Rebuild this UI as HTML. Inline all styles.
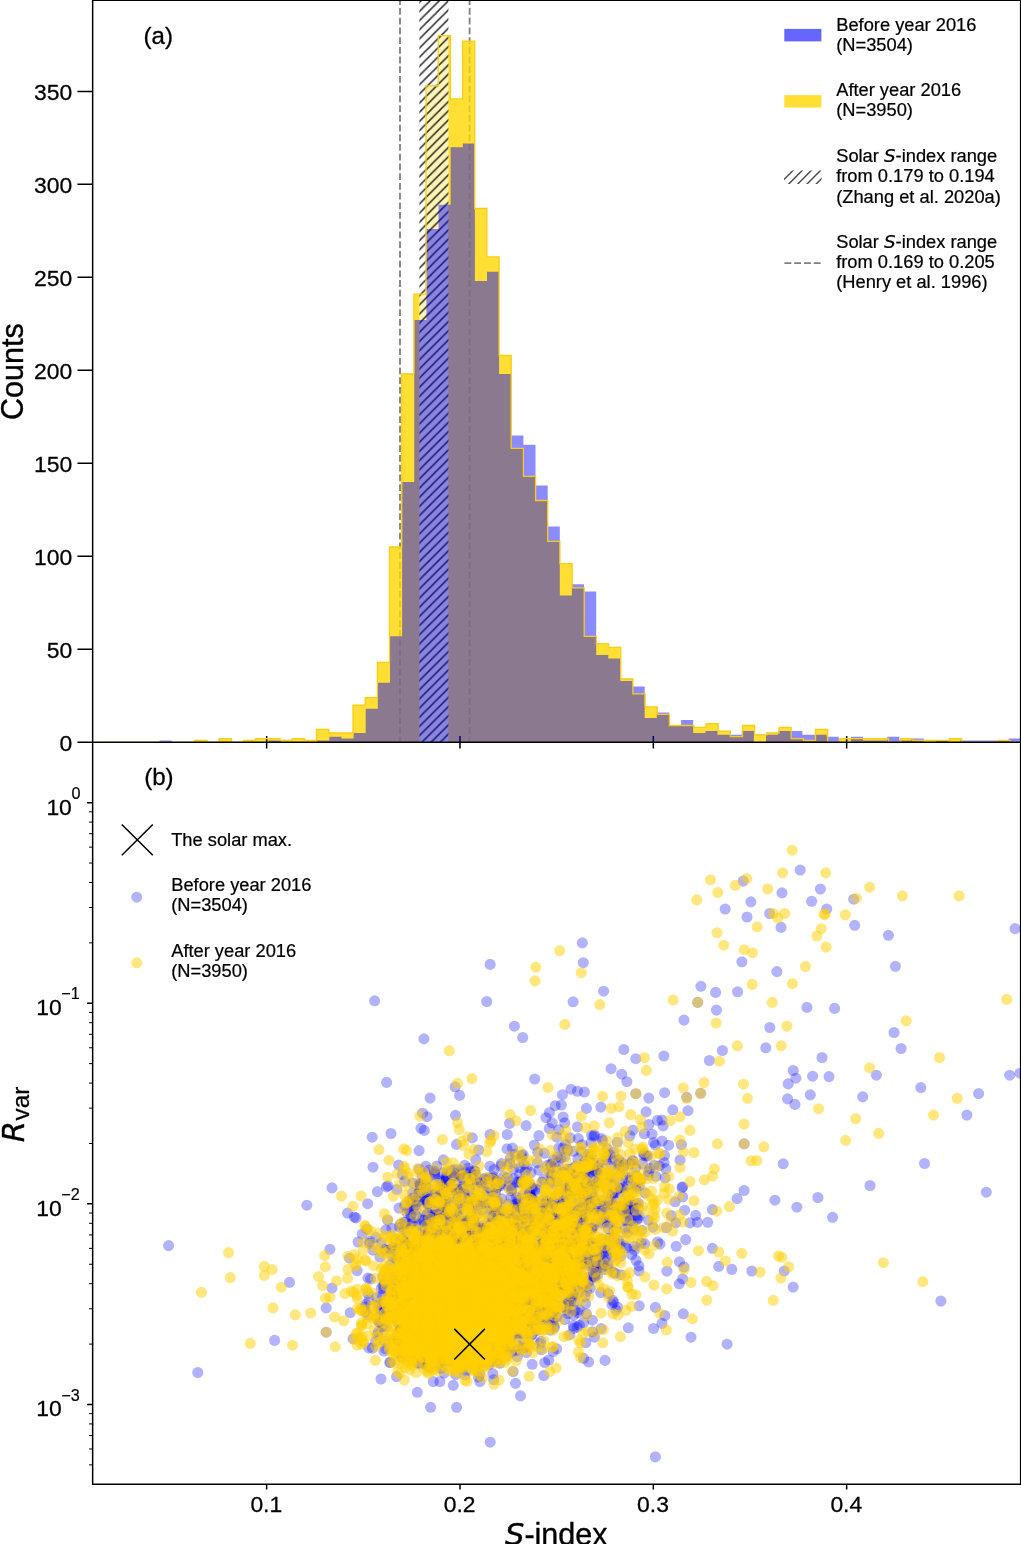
<!DOCTYPE html>
<html lang="en"><head><meta charset="utf-8"><title>S-index distribution and R_var</title>
<style>html,body{margin:0;padding:0;background:#fff}svg{display:block}text{font-family:"Liberation Sans",sans-serif;fill:#000;stroke:#000;stroke-width:0.012em;stroke-linejoin:round}.tk{font-size:22.9px}.lg{font-size:18.3px}.ax{font-size:30.56px}.pn{font-size:24.1px}.it{font-family:"DejaVu Sans",sans-serif;font-style:italic}</style></head><body>
<svg width="1021" height="1544" viewBox="0 0 1021 1544">
<defs>
<pattern id="ht" width="9.1667" height="9.1667" patternUnits="userSpaceOnUse" x="0" y="0"><path d="M-2.3 2.3L2.3 -2.3M-2.3 11.4667L11.4667 -2.3M6.8667 11.4667L11.4667 6.8667" stroke="#000" stroke-opacity="0.8" stroke-width="1.5" fill="none"/></pattern>
<clipPath id="ca"><rect x="92.7" y="0.2" width="928.0" height="742.0"/></clipPath>
<clipPath id="cb"><rect x="92.7" y="742.2" width="928.0" height="742.0"/></clipPath>
</defs>
<rect width="1021" height="1544" fill="#fff"/>
<g clip-path="url(#ca)">
<line x1="400.0" x2="400.0" y1="-1.68" y2="742.2" stroke="#808080" stroke-width="1.83" stroke-dasharray="6.78 2.937"/>
<line x1="469.6" x2="469.6" y1="-1.68" y2="742.2" stroke="#808080" stroke-width="1.83" stroke-dasharray="6.78 2.937"/>
<path d="M97.4 742.3 L97.4 742.3 L109.6 742.3 L109.6 742.3 L121.8 742.3 L121.8 742.3 L134.0 742.3 L134.0 742.3 L146.1 742.3 L146.1 742.3 L158.3 742.3 L158.3 742.3 L170.5 742.3 L170.5 742.3 L182.6 742.3 L182.6 742.3 L194.8 742.3 L194.8 740.4 L207.0 740.4 L207.0 742.3 L219.1 742.3 L219.1 738.6 L231.3 738.6 L231.3 742.3 L243.5 742.3 L243.5 740.4 L255.7 740.4 L255.7 738.6 L267.8 738.6 L267.8 738.6 L280.0 738.6 L280.0 740.4 L292.2 740.4 L292.2 738.6 L304.3 738.6 L304.3 740.4 L316.5 740.4 L316.5 729.3 L328.7 729.3 L328.7 733.0 L340.8 733.0 L340.8 733.0 L353.0 733.0 L353.0 705.1 L365.2 705.1 L365.2 697.6 L377.4 697.6 L377.4 662.3 L389.5 662.3 L389.5 547.0 L401.7 547.0 L401.7 374.0 L413.9 374.0 L413.9 294.1 L426.0 294.1 L426.0 85.8 L438.2 85.8 L438.2 35.6 L450.4 35.6 L450.4 98.8 L462.6 98.8 L462.6 41.2 L474.7 41.2 L474.7 208.5 L486.9 208.5 L486.9 256.9 L499.1 256.9 L499.1 355.5 L511.2 355.5 L511.2 448.4 L523.4 448.4 L523.4 476.3 L535.6 476.3 L535.6 500.5 L547.7 500.5 L547.7 541.4 L559.9 541.4 L559.9 563.7 L572.1 563.7 L572.1 587.9 L584.2 587.9 L584.2 636.3 L596.4 636.3 L596.4 643.7 L608.6 643.7 L608.6 647.4 L620.8 647.4 L620.8 679.0 L632.9 679.0 L632.9 693.9 L645.1 693.9 L645.1 706.9 L657.3 706.9 L657.3 714.4 L669.4 714.4 L669.4 725.5 L681.6 725.5 L681.6 725.5 L693.8 725.5 L693.8 727.4 L706.0 727.4 L706.0 723.7 L718.1 723.7 L718.1 731.1 L730.3 731.1 L730.3 736.7 L742.5 736.7 L742.5 725.5 L754.6 725.5 L754.6 734.8 L766.8 734.8 L766.8 733.0 L779.0 733.0 L779.0 727.4 L791.1 727.4 L791.1 738.6 L803.3 738.6 L803.3 740.4 L815.5 740.4 L815.5 729.3 L827.6 729.3 L827.6 742.3 L839.8 742.3 L839.8 738.6 L852.0 738.6 L852.0 738.6 L864.2 738.6 L864.2 738.6 L876.3 738.6 L876.3 738.6 L888.5 738.6 L888.5 742.3 L900.7 742.3 L900.7 738.6 L912.8 738.6 L912.8 740.4 L925.0 740.4 L925.0 740.4 L937.2 740.4 L937.2 740.4 L949.3 740.4 L949.3 738.6 L961.5 738.6 L961.5 742.3 L973.7 742.3 L973.7 742.3 L985.9 742.3 L985.9 742.3 L998.0 742.3 L998.0 740.4 L1010.2 740.4 L1010.2 742.3 L1020.6 742.3 L1020.6 742.3Z" fill="rgb(255,215,0)" fill-opacity="0.8"/>
<rect x="419.4" y="0" width="29.0" height="742.2" fill="#fff" fill-opacity="0.65"/>
<rect x="419.4" y="0" width="29.0" height="742.2" fill="url(#ht)"/>
</g><path d="M266.65 736.05V748.55M459.98 736.05V748.55M653.32 736.05V748.55M846.65 736.05V748.55" stroke="#000" stroke-width="1.5" fill="none"/><g clip-path="url(#ca)">
<path d="M98.8 742.3 L98.8 742.3 L111.0 742.3 L111.0 742.3 L123.1 742.3 L123.1 742.3 L135.2 742.3 L135.2 742.3 L147.4 742.3 L147.4 742.3 L159.5 742.3 L159.5 740.4 L171.6 740.4 L171.6 742.3 L183.8 742.3 L183.8 742.3 L195.9 742.3 L195.9 742.3 L208.0 742.3 L208.0 742.3 L220.1 742.3 L220.1 742.3 L232.3 742.3 L232.3 742.3 L244.4 742.3 L244.4 742.3 L256.5 742.3 L256.5 742.3 L268.7 742.3 L268.7 740.4 L280.8 740.4 L280.8 742.3 L292.9 742.3 L292.9 742.3 L305.1 742.3 L305.1 742.3 L317.2 742.3 L317.2 740.4 L329.3 740.4 L329.3 736.7 L341.4 736.7 L341.4 738.6 L353.6 738.6 L353.6 733.0 L365.7 733.0 L365.7 708.8 L377.8 708.8 L377.8 682.8 L390.0 682.8 L390.0 636.3 L402.1 636.3 L402.1 481.9 L414.2 481.9 L414.2 320.1 L426.4 320.1 L426.4 229.0 L438.5 229.0 L438.5 204.8 L450.6 204.8 L450.6 147.2 L462.8 147.2 L462.8 143.4 L474.9 143.4 L474.9 281.1 L487.0 281.1 L487.0 271.8 L499.1 271.8 L499.1 374.0 L511.3 374.0 L511.3 435.4 L523.4 435.4 L523.4 444.7 L535.5 444.7 L535.5 485.6 L547.7 485.6 L547.7 526.5 L559.8 526.5 L559.8 595.4 L571.9 595.4 L571.9 584.2 L584.0 584.2 L584.0 591.6 L596.2 591.6 L596.2 654.9 L608.3 654.9 L608.3 658.6 L620.4 658.6 L620.4 680.9 L632.6 680.9 L632.6 686.5 L644.7 686.5 L644.7 718.1 L656.8 718.1 L656.8 712.5 L669.0 712.5 L669.0 725.5 L681.1 725.5 L681.1 720.0 L693.2 720.0 L693.2 733.0 L705.4 733.0 L705.4 731.1 L717.5 731.1 L717.5 734.8 L729.6 734.8 L729.6 734.8 L741.7 734.8 L741.7 731.1 L753.9 731.1 L753.9 742.3 L766.0 742.3 L766.0 734.8 L778.1 734.8 L778.1 731.1 L790.3 731.1 L790.3 731.1 L802.4 731.1 L802.4 734.8 L814.5 734.8 L814.5 734.8 L826.6 734.8 L826.6 736.7 L838.8 736.7 L838.8 742.3 L850.9 742.3 L850.9 736.7 L863.0 736.7 L863.0 740.4 L875.2 740.4 L875.2 740.4 L887.3 740.4 L887.3 736.7 L899.4 736.7 L899.4 740.4 L911.6 740.4 L911.6 738.6 L923.7 738.6 L923.7 742.3 L935.8 742.3 L935.8 740.4 L947.9 740.4 L947.9 742.3 L960.1 742.3 L960.1 740.4 L972.2 740.4 L972.2 740.4 L984.3 740.4 L984.3 740.4 L996.5 740.4 L996.5 740.4 L1008.6 740.4 L1008.6 738.6 L1020.6 738.6 L1020.6 742.3Z" fill="rgb(0,0,255)" fill-opacity="0.455"/>
<path d="M97.4 742.3 L97.4 742.3 L109.6 742.3 L109.6 742.3 L121.8 742.3 L121.8 742.3 L134.0 742.3 L134.0 742.3 L146.1 742.3 L146.1 742.3 L158.3 742.3 L158.3 742.3 L170.5 742.3 L170.5 742.3 L182.6 742.3 L182.6 742.3 L194.8 742.3 L194.8 740.4 L207.0 740.4 L207.0 742.3 L219.1 742.3 L219.1 738.6 L231.3 738.6 L231.3 742.3 L243.5 742.3 L243.5 740.4 L255.7 740.4 L255.7 738.6 L267.8 738.6 L267.8 738.6 L280.0 738.6 L280.0 740.4 L292.2 740.4 L292.2 738.6 L304.3 738.6 L304.3 740.4 L316.5 740.4 L316.5 729.3 L328.7 729.3 L328.7 733.0 L340.8 733.0 L340.8 733.0 L353.0 733.0 L353.0 705.1 L365.2 705.1 L365.2 697.6 L377.4 697.6 L377.4 662.3 L389.5 662.3 L389.5 547.0 L401.7 547.0 L401.7 374.0 L413.9 374.0 L413.9 294.1 L426.0 294.1 L426.0 85.8 L438.2 85.8 L438.2 35.6 L450.4 35.6 L450.4 98.8 L462.6 98.8 L462.6 41.2 L474.7 41.2 L474.7 208.5 L486.9 208.5 L486.9 256.9 L499.1 256.9 L499.1 355.5 L511.2 355.5 L511.2 448.4 L523.4 448.4 L523.4 476.3 L535.6 476.3 L535.6 500.5 L547.7 500.5 L547.7 541.4 L559.9 541.4 L559.9 563.7 L572.1 563.7 L572.1 587.9 L584.2 587.9 L584.2 636.3 L596.4 636.3 L596.4 643.7 L608.6 643.7 L608.6 647.4 L620.8 647.4 L620.8 679.0 L632.9 679.0 L632.9 693.9 L645.1 693.9 L645.1 706.9 L657.3 706.9 L657.3 714.4 L669.4 714.4 L669.4 725.5 L681.6 725.5 L681.6 725.5 L693.8 725.5 L693.8 727.4 L706.0 727.4 L706.0 723.7 L718.1 723.7 L718.1 731.1 L730.3 731.1 L730.3 736.7 L742.5 736.7 L742.5 725.5 L754.6 725.5 L754.6 734.8 L766.8 734.8 L766.8 733.0 L779.0 733.0 L779.0 727.4 L791.1 727.4 L791.1 738.6 L803.3 738.6 L803.3 740.4 L815.5 740.4 L815.5 729.3 L827.6 729.3 L827.6 742.3 L839.8 742.3 L839.8 738.6 L852.0 738.6 L852.0 738.6 L864.2 738.6 L864.2 738.6 L876.3 738.6 L876.3 738.6 L888.5 738.6 L888.5 742.3 L900.7 742.3 L900.7 738.6 L912.8 738.6 L912.8 740.4 L925.0 740.4 L925.0 740.4 L937.2 740.4 L937.2 740.4 L949.3 740.4 L949.3 738.6 L961.5 738.6 L961.5 742.3 L973.7 742.3 L973.7 742.3 L985.9 742.3 L985.9 742.3 L998.0 742.3 L998.0 740.4 L1010.2 740.4 L1010.2 742.3 L1020.6 742.3 L1020.6 742.3" fill="none" stroke="rgb(250,204,20)" stroke-width="1.3" stroke-linejoin="miter"/>
</g>
<g clip-path="url(#cb)">
<g class="b" fill="rgb(0,0,255)" fill-opacity="0.3">
<circle cx="349.5" cy="1258.2" r="5.55"/><circle cx="362.3" cy="1234.0" r="5.55"/><circle cx="353.0" cy="1338.8" r="5.55"/><circle cx="365.0" cy="1307.1" r="5.55"/><circle cx="357.1" cy="1270.6" r="5.55"/><circle cx="356.0" cy="1217.9" r="5.55"/><circle cx="370.6" cy="1279.0" r="5.55"/><circle cx="373.0" cy="1250.2" r="5.55"/><circle cx="368.9" cy="1299.7" r="5.55"/><circle cx="373.0" cy="1167.2" r="5.55"/><circle cx="369.2" cy="1243.3" r="5.55"/><circle cx="368.1" cy="1293.5" r="5.55"/><circle cx="375.7" cy="1341.5" r="5.55"/><circle cx="368.2" cy="1314.9" r="5.55"/><circle cx="375.9" cy="1237.4" r="5.55"/><circle cx="376.9" cy="1297.5" r="5.55"/><circle cx="368.8" cy="1347.9" r="5.55"/><circle cx="368.0" cy="1278.1" r="5.55"/><circle cx="367.7" cy="1203.7" r="5.55"/><circle cx="365.9" cy="1304.3" r="5.55"/><circle cx="377.1" cy="1318.8" r="5.55"/><circle cx="366.9" cy="1229.2" r="5.55"/><circle cx="365.4" cy="1311.6" r="5.55"/><circle cx="377.4" cy="1191.6" r="5.55"/><circle cx="385.9" cy="1229.8" r="5.55"/><circle cx="385.7" cy="1250.2" r="5.55"/><circle cx="384.3" cy="1311.3" r="5.55"/><circle cx="378.3" cy="1331.8" r="5.55"/><circle cx="386.3" cy="1327.1" r="5.55"/><circle cx="386.5" cy="1186.9" r="5.55"/><circle cx="383.4" cy="1303.8" r="5.55"/><circle cx="377.5" cy="1305.1" r="5.55"/><circle cx="385.4" cy="1317.4" r="5.55"/><circle cx="385.5" cy="1348.6" r="5.55"/><circle cx="384.5" cy="1282.7" r="5.55"/><circle cx="387.7" cy="1298.8" r="5.55"/><circle cx="380.7" cy="1313.7" r="5.55"/><circle cx="381.2" cy="1288.4" r="5.55"/><circle cx="388.0" cy="1185.9" r="5.55"/><circle cx="381.1" cy="1242.8" r="5.55"/><circle cx="380.2" cy="1309.2" r="5.55"/><circle cx="385.0" cy="1341.0" r="5.55"/><circle cx="383.1" cy="1285.3" r="5.55"/><circle cx="379.5" cy="1305.1" r="5.55"/><circle cx="382.1" cy="1295.3" r="5.55"/><circle cx="388.7" cy="1273.5" r="5.55"/><circle cx="384.3" cy="1249.2" r="5.55"/><circle cx="383.0" cy="1326.6" r="5.55"/><circle cx="380.0" cy="1257.0" r="5.55"/><circle cx="383.9" cy="1351.0" r="5.55"/><circle cx="382.7" cy="1276.8" r="5.55"/><circle cx="377.7" cy="1334.2" r="5.55"/><circle cx="379.1" cy="1321.9" r="5.55"/><circle cx="387.6" cy="1220.0" r="5.55"/><circle cx="380.1" cy="1322.6" r="5.55"/><circle cx="383.7" cy="1289.1" r="5.55"/><circle cx="400.5" cy="1329.2" r="5.55"/><circle cx="395.9" cy="1287.2" r="5.55"/><circle cx="401.3" cy="1334.8" r="5.55"/><circle cx="395.5" cy="1280.5" r="5.55"/><circle cx="392.8" cy="1297.3" r="5.55"/><circle cx="400.5" cy="1240.5" r="5.55"/><circle cx="399.0" cy="1208.0" r="5.55"/><circle cx="397.9" cy="1322.3" r="5.55"/><circle cx="395.7" cy="1307.7" r="5.55"/><circle cx="394.1" cy="1313.3" r="5.55"/><circle cx="397.3" cy="1319.5" r="5.55"/><circle cx="400.0" cy="1326.2" r="5.55"/><circle cx="393.4" cy="1341.1" r="5.55"/><circle cx="391.2" cy="1302.0" r="5.55"/><circle cx="394.7" cy="1286.0" r="5.55"/><circle cx="389.7" cy="1362.5" r="5.55"/><circle cx="395.7" cy="1256.7" r="5.55"/><circle cx="391.8" cy="1228.3" r="5.55"/><circle cx="396.5" cy="1259.1" r="5.55"/><circle cx="401.6" cy="1248.5" r="5.55"/><circle cx="393.5" cy="1292.1" r="5.55"/><circle cx="396.8" cy="1189.5" r="5.55"/><circle cx="398.5" cy="1247.1" r="5.55"/><circle cx="389.7" cy="1283.8" r="5.55"/><circle cx="394.5" cy="1239.0" r="5.55"/><circle cx="399.3" cy="1302.4" r="5.55"/><circle cx="394.5" cy="1244.8" r="5.55"/><circle cx="398.9" cy="1331.8" r="5.55"/><circle cx="389.7" cy="1313.2" r="5.55"/><circle cx="392.4" cy="1277.1" r="5.55"/><circle cx="396.0" cy="1337.5" r="5.55"/><circle cx="398.1" cy="1341.1" r="5.55"/><circle cx="392.7" cy="1256.4" r="5.55"/><circle cx="390.7" cy="1264.6" r="5.55"/><circle cx="396.4" cy="1291.5" r="5.55"/><circle cx="390.5" cy="1362.2" r="5.55"/><circle cx="395.3" cy="1315.0" r="5.55"/><circle cx="401.0" cy="1278.3" r="5.55"/><circle cx="397.5" cy="1318.4" r="5.55"/><circle cx="389.7" cy="1249.3" r="5.55"/><circle cx="398.6" cy="1165.1" r="5.55"/><circle cx="390.4" cy="1297.5" r="5.55"/><circle cx="400.9" cy="1356.9" r="5.55"/><circle cx="396.9" cy="1282.0" r="5.55"/><circle cx="396.0" cy="1318.4" r="5.55"/><circle cx="392.7" cy="1299.7" r="5.55"/><circle cx="398.5" cy="1340.4" r="5.55"/><circle cx="397.1" cy="1308.1" r="5.55"/><circle cx="398.7" cy="1353.0" r="5.55"/><circle cx="400.2" cy="1224.3" r="5.55"/><circle cx="390.8" cy="1249.5" r="5.55"/><circle cx="396.2" cy="1294.1" r="5.55"/><circle cx="399.7" cy="1227.0" r="5.55"/><circle cx="397.1" cy="1284.4" r="5.55"/><circle cx="397.5" cy="1317.8" r="5.55"/><circle cx="400.7" cy="1246.0" r="5.55"/><circle cx="396.4" cy="1294.3" r="5.55"/><circle cx="411.1" cy="1215.3" r="5.55"/><circle cx="410.5" cy="1246.4" r="5.55"/><circle cx="410.5" cy="1304.9" r="5.55"/><circle cx="412.8" cy="1272.9" r="5.55"/><circle cx="405.6" cy="1321.1" r="5.55"/><circle cx="406.1" cy="1277.2" r="5.55"/><circle cx="408.6" cy="1322.9" r="5.55"/><circle cx="410.9" cy="1224.0" r="5.55"/><circle cx="408.3" cy="1269.3" r="5.55"/><circle cx="408.4" cy="1228.4" r="5.55"/><circle cx="412.6" cy="1198.4" r="5.55"/><circle cx="404.7" cy="1340.1" r="5.55"/><circle cx="411.0" cy="1352.0" r="5.55"/><circle cx="410.5" cy="1270.0" r="5.55"/><circle cx="411.8" cy="1322.6" r="5.55"/><circle cx="413.4" cy="1244.5" r="5.55"/><circle cx="411.5" cy="1248.5" r="5.55"/><circle cx="403.7" cy="1241.4" r="5.55"/><circle cx="402.4" cy="1316.2" r="5.55"/><circle cx="407.3" cy="1283.9" r="5.55"/><circle cx="403.0" cy="1259.1" r="5.55"/><circle cx="404.0" cy="1317.6" r="5.55"/><circle cx="408.4" cy="1280.0" r="5.55"/><circle cx="408.4" cy="1246.8" r="5.55"/><circle cx="413.2" cy="1292.4" r="5.55"/><circle cx="409.7" cy="1291.7" r="5.55"/><circle cx="411.4" cy="1313.7" r="5.55"/><circle cx="404.9" cy="1318.2" r="5.55"/><circle cx="413.8" cy="1332.1" r="5.55"/><circle cx="411.7" cy="1342.6" r="5.55"/><circle cx="405.0" cy="1271.4" r="5.55"/><circle cx="412.1" cy="1318.2" r="5.55"/><circle cx="412.9" cy="1183.0" r="5.55"/><circle cx="403.6" cy="1282.3" r="5.55"/><circle cx="405.4" cy="1272.0" r="5.55"/><circle cx="406.5" cy="1336.8" r="5.55"/><circle cx="409.7" cy="1206.0" r="5.55"/><circle cx="404.2" cy="1273.5" r="5.55"/><circle cx="405.3" cy="1317.4" r="5.55"/><circle cx="405.7" cy="1323.0" r="5.55"/><circle cx="405.7" cy="1260.5" r="5.55"/><circle cx="403.9" cy="1327.7" r="5.55"/><circle cx="402.8" cy="1244.2" r="5.55"/><circle cx="406.9" cy="1310.8" r="5.55"/><circle cx="411.7" cy="1293.6" r="5.55"/><circle cx="413.7" cy="1307.6" r="5.55"/><circle cx="401.9" cy="1322.5" r="5.55"/><circle cx="411.3" cy="1321.3" r="5.55"/><circle cx="411.0" cy="1280.9" r="5.55"/><circle cx="410.4" cy="1330.4" r="5.55"/><circle cx="411.9" cy="1289.2" r="5.55"/><circle cx="404.7" cy="1288.8" r="5.55"/><circle cx="413.0" cy="1251.9" r="5.55"/><circle cx="408.3" cy="1302.0" r="5.55"/><circle cx="412.8" cy="1291.0" r="5.55"/><circle cx="405.2" cy="1302.8" r="5.55"/><circle cx="404.0" cy="1246.4" r="5.55"/><circle cx="406.3" cy="1322.9" r="5.55"/><circle cx="403.4" cy="1306.8" r="5.55"/><circle cx="408.0" cy="1281.0" r="5.55"/><circle cx="409.9" cy="1338.7" r="5.55"/><circle cx="407.4" cy="1283.7" r="5.55"/><circle cx="407.6" cy="1251.8" r="5.55"/><circle cx="406.7" cy="1332.3" r="5.55"/><circle cx="407.0" cy="1231.9" r="5.55"/><circle cx="412.7" cy="1305.3" r="5.55"/><circle cx="402.5" cy="1288.7" r="5.55"/><circle cx="402.3" cy="1306.6" r="5.55"/><circle cx="404.6" cy="1181.3" r="5.55"/><circle cx="409.8" cy="1338.3" r="5.55"/><circle cx="412.7" cy="1192.8" r="5.55"/><circle cx="408.2" cy="1260.3" r="5.55"/><circle cx="412.6" cy="1284.9" r="5.55"/><circle cx="402.3" cy="1174.4" r="5.55"/><circle cx="413.6" cy="1279.3" r="5.55"/><circle cx="412.6" cy="1281.6" r="5.55"/><circle cx="412.4" cy="1321.3" r="5.55"/><circle cx="412.4" cy="1222.1" r="5.55"/><circle cx="412.3" cy="1313.8" r="5.55"/><circle cx="407.1" cy="1212.7" r="5.55"/><circle cx="403.9" cy="1344.8" r="5.55"/><circle cx="406.2" cy="1284.3" r="5.55"/><circle cx="413.0" cy="1310.7" r="5.55"/><circle cx="413.7" cy="1294.8" r="5.55"/><circle cx="405.2" cy="1303.0" r="5.55"/><circle cx="405.2" cy="1261.8" r="5.55"/><circle cx="413.7" cy="1201.1" r="5.55"/><circle cx="406.4" cy="1242.2" r="5.55"/><circle cx="409.7" cy="1288.1" r="5.55"/><circle cx="412.0" cy="1320.9" r="5.55"/><circle cx="403.7" cy="1286.6" r="5.55"/><circle cx="411.3" cy="1296.7" r="5.55"/><circle cx="402.1" cy="1340.0" r="5.55"/><circle cx="412.3" cy="1223.7" r="5.55"/><circle cx="404.9" cy="1349.2" r="5.55"/><circle cx="408.3" cy="1249.0" r="5.55"/><circle cx="409.3" cy="1310.0" r="5.55"/><circle cx="411.7" cy="1245.6" r="5.55"/><circle cx="402.4" cy="1243.3" r="5.55"/><circle cx="402.2" cy="1320.0" r="5.55"/><circle cx="410.8" cy="1214.8" r="5.55"/><circle cx="403.4" cy="1288.3" r="5.55"/><circle cx="411.0" cy="1265.0" r="5.55"/><circle cx="404.6" cy="1284.8" r="5.55"/><circle cx="409.1" cy="1209.7" r="5.55"/><circle cx="402.4" cy="1328.8" r="5.55"/><circle cx="407.3" cy="1270.8" r="5.55"/><circle cx="411.2" cy="1249.7" r="5.55"/><circle cx="404.3" cy="1287.5" r="5.55"/><circle cx="410.0" cy="1293.2" r="5.55"/><circle cx="405.0" cy="1222.5" r="5.55"/><circle cx="406.5" cy="1301.2" r="5.55"/><circle cx="413.1" cy="1330.4" r="5.55"/><circle cx="412.7" cy="1208.4" r="5.55"/><circle cx="405.7" cy="1312.5" r="5.55"/><circle cx="406.5" cy="1248.7" r="5.55"/><circle cx="406.9" cy="1321.6" r="5.55"/><circle cx="410.5" cy="1254.9" r="5.55"/><circle cx="406.4" cy="1282.9" r="5.55"/><circle cx="404.3" cy="1222.3" r="5.55"/><circle cx="413.6" cy="1272.9" r="5.55"/><circle cx="404.3" cy="1357.2" r="5.55"/><circle cx="409.4" cy="1200.8" r="5.55"/><circle cx="402.4" cy="1294.6" r="5.55"/><circle cx="407.5" cy="1320.6" r="5.55"/><circle cx="402.8" cy="1238.5" r="5.55"/><circle cx="410.2" cy="1201.7" r="5.55"/><circle cx="402.5" cy="1286.7" r="5.55"/><circle cx="404.8" cy="1205.4" r="5.55"/><circle cx="408.6" cy="1316.9" r="5.55"/><circle cx="413.3" cy="1333.0" r="5.55"/><circle cx="411.1" cy="1275.1" r="5.55"/><circle cx="411.8" cy="1354.2" r="5.55"/><circle cx="403.4" cy="1282.9" r="5.55"/><circle cx="404.5" cy="1230.4" r="5.55"/><circle cx="406.5" cy="1303.5" r="5.55"/><circle cx="411.8" cy="1272.3" r="5.55"/><circle cx="405.5" cy="1271.0" r="5.55"/><circle cx="415.8" cy="1282.9" r="5.55"/><circle cx="417.3" cy="1306.7" r="5.55"/><circle cx="416.0" cy="1246.0" r="5.55"/><circle cx="415.1" cy="1291.1" r="5.55"/><circle cx="424.4" cy="1253.8" r="5.55"/><circle cx="423.6" cy="1304.4" r="5.55"/><circle cx="417.9" cy="1347.8" r="5.55"/><circle cx="420.8" cy="1259.1" r="5.55"/><circle cx="415.4" cy="1260.2" r="5.55"/><circle cx="416.1" cy="1209.9" r="5.55"/><circle cx="422.2" cy="1272.3" r="5.55"/><circle cx="425.2" cy="1325.7" r="5.55"/><circle cx="422.8" cy="1275.7" r="5.55"/><circle cx="420.5" cy="1276.6" r="5.55"/><circle cx="418.6" cy="1243.3" r="5.55"/><circle cx="418.6" cy="1309.7" r="5.55"/><circle cx="415.2" cy="1289.7" r="5.55"/><circle cx="417.8" cy="1201.4" r="5.55"/><circle cx="416.6" cy="1274.6" r="5.55"/><circle cx="414.7" cy="1245.5" r="5.55"/><circle cx="416.3" cy="1294.3" r="5.55"/><circle cx="418.7" cy="1192.4" r="5.55"/><circle cx="425.3" cy="1265.4" r="5.55"/><circle cx="424.0" cy="1236.7" r="5.55"/><circle cx="418.2" cy="1301.8" r="5.55"/><circle cx="416.4" cy="1305.4" r="5.55"/><circle cx="418.7" cy="1249.0" r="5.55"/><circle cx="425.9" cy="1166.2" r="5.55"/><circle cx="424.9" cy="1200.9" r="5.55"/><circle cx="418.6" cy="1314.6" r="5.55"/><circle cx="418.2" cy="1274.9" r="5.55"/><circle cx="415.0" cy="1315.7" r="5.55"/><circle cx="422.1" cy="1264.0" r="5.55"/><circle cx="419.1" cy="1150.6" r="5.55"/><circle cx="417.8" cy="1320.6" r="5.55"/><circle cx="423.0" cy="1183.6" r="5.55"/><circle cx="425.6" cy="1325.9" r="5.55"/><circle cx="425.4" cy="1283.9" r="5.55"/><circle cx="415.7" cy="1317.6" r="5.55"/><circle cx="424.3" cy="1341.3" r="5.55"/><circle cx="415.3" cy="1256.8" r="5.55"/><circle cx="418.6" cy="1316.6" r="5.55"/><circle cx="420.1" cy="1185.0" r="5.55"/><circle cx="425.2" cy="1364.0" r="5.55"/><circle cx="417.7" cy="1249.2" r="5.55"/><circle cx="425.9" cy="1350.7" r="5.55"/><circle cx="425.3" cy="1197.1" r="5.55"/><circle cx="424.5" cy="1333.8" r="5.55"/><circle cx="420.4" cy="1265.2" r="5.55"/><circle cx="423.4" cy="1332.2" r="5.55"/><circle cx="423.3" cy="1309.5" r="5.55"/><circle cx="415.1" cy="1205.6" r="5.55"/><circle cx="424.0" cy="1288.8" r="5.55"/><circle cx="414.7" cy="1302.7" r="5.55"/><circle cx="422.7" cy="1299.6" r="5.55"/><circle cx="417.7" cy="1310.1" r="5.55"/><circle cx="416.1" cy="1287.5" r="5.55"/><circle cx="425.3" cy="1257.5" r="5.55"/><circle cx="422.3" cy="1267.1" r="5.55"/><circle cx="419.0" cy="1293.1" r="5.55"/><circle cx="425.3" cy="1308.3" r="5.55"/><circle cx="424.5" cy="1340.4" r="5.55"/><circle cx="419.4" cy="1319.7" r="5.55"/><circle cx="419.0" cy="1349.3" r="5.55"/><circle cx="422.3" cy="1297.4" r="5.55"/><circle cx="419.0" cy="1347.4" r="5.55"/><circle cx="421.1" cy="1354.8" r="5.55"/><circle cx="422.7" cy="1352.2" r="5.55"/><circle cx="414.2" cy="1270.4" r="5.55"/><circle cx="421.2" cy="1310.2" r="5.55"/><circle cx="418.7" cy="1269.2" r="5.55"/><circle cx="419.5" cy="1192.3" r="5.55"/><circle cx="425.9" cy="1237.9" r="5.55"/><circle cx="415.9" cy="1332.3" r="5.55"/><circle cx="417.0" cy="1307.2" r="5.55"/><circle cx="414.1" cy="1288.1" r="5.55"/><circle cx="414.2" cy="1288.9" r="5.55"/><circle cx="417.5" cy="1303.9" r="5.55"/><circle cx="414.9" cy="1332.3" r="5.55"/><circle cx="416.5" cy="1332.9" r="5.55"/><circle cx="424.2" cy="1188.7" r="5.55"/><circle cx="418.8" cy="1364.2" r="5.55"/><circle cx="418.9" cy="1169.2" r="5.55"/><circle cx="422.8" cy="1304.3" r="5.55"/><circle cx="425.6" cy="1307.3" r="5.55"/><circle cx="418.9" cy="1224.1" r="5.55"/><circle cx="419.8" cy="1344.1" r="5.55"/><circle cx="420.8" cy="1282.4" r="5.55"/><circle cx="417.0" cy="1297.7" r="5.55"/><circle cx="419.1" cy="1349.8" r="5.55"/><circle cx="418.7" cy="1283.5" r="5.55"/><circle cx="419.8" cy="1300.5" r="5.55"/><circle cx="418.3" cy="1270.2" r="5.55"/><circle cx="421.0" cy="1298.2" r="5.55"/><circle cx="416.9" cy="1293.8" r="5.55"/><circle cx="424.3" cy="1341.6" r="5.55"/><circle cx="417.9" cy="1344.7" r="5.55"/><circle cx="421.7" cy="1192.7" r="5.55"/><circle cx="425.2" cy="1356.2" r="5.55"/><circle cx="420.9" cy="1128.3" r="5.55"/><circle cx="422.1" cy="1347.0" r="5.55"/><circle cx="423.0" cy="1294.9" r="5.55"/><circle cx="417.8" cy="1252.8" r="5.55"/><circle cx="415.2" cy="1343.5" r="5.55"/><circle cx="425.1" cy="1303.2" r="5.55"/><circle cx="419.6" cy="1201.3" r="5.55"/><circle cx="422.1" cy="1308.7" r="5.55"/><circle cx="422.9" cy="1335.3" r="5.55"/><circle cx="418.1" cy="1299.0" r="5.55"/><circle cx="424.1" cy="1300.8" r="5.55"/><circle cx="425.8" cy="1307.2" r="5.55"/><circle cx="420.9" cy="1345.2" r="5.55"/><circle cx="422.6" cy="1218.7" r="5.55"/><circle cx="419.4" cy="1319.9" r="5.55"/><circle cx="417.6" cy="1311.4" r="5.55"/><circle cx="415.7" cy="1287.1" r="5.55"/><circle cx="415.1" cy="1244.9" r="5.55"/><circle cx="423.2" cy="1294.8" r="5.55"/><circle cx="422.3" cy="1299.5" r="5.55"/><circle cx="422.7" cy="1226.3" r="5.55"/><circle cx="417.0" cy="1241.0" r="5.55"/><circle cx="417.2" cy="1307.0" r="5.55"/><circle cx="424.3" cy="1251.8" r="5.55"/><circle cx="421.9" cy="1290.0" r="5.55"/><circle cx="414.5" cy="1334.4" r="5.55"/><circle cx="422.7" cy="1334.5" r="5.55"/><circle cx="418.1" cy="1354.4" r="5.55"/><circle cx="414.7" cy="1318.2" r="5.55"/><circle cx="425.9" cy="1342.1" r="5.55"/><circle cx="414.2" cy="1320.1" r="5.55"/><circle cx="424.3" cy="1334.2" r="5.55"/><circle cx="420.3" cy="1261.8" r="5.55"/><circle cx="418.9" cy="1271.7" r="5.55"/><circle cx="415.5" cy="1313.7" r="5.55"/><circle cx="425.7" cy="1344.8" r="5.55"/><circle cx="419.8" cy="1243.3" r="5.55"/><circle cx="421.3" cy="1300.7" r="5.55"/><circle cx="424.4" cy="1234.6" r="5.55"/><circle cx="422.2" cy="1307.3" r="5.55"/><circle cx="414.7" cy="1243.3" r="5.55"/><circle cx="418.8" cy="1233.8" r="5.55"/><circle cx="420.3" cy="1278.7" r="5.55"/><circle cx="416.7" cy="1250.3" r="5.55"/><circle cx="417.9" cy="1335.8" r="5.55"/><circle cx="420.2" cy="1312.8" r="5.55"/><circle cx="417.9" cy="1323.0" r="5.55"/><circle cx="420.4" cy="1184.9" r="5.55"/><circle cx="425.9" cy="1355.7" r="5.55"/><circle cx="418.6" cy="1309.9" r="5.55"/><circle cx="418.5" cy="1274.7" r="5.55"/><circle cx="419.7" cy="1293.5" r="5.55"/><circle cx="415.6" cy="1311.8" r="5.55"/><circle cx="425.2" cy="1331.9" r="5.55"/><circle cx="416.2" cy="1338.2" r="5.55"/><circle cx="422.7" cy="1284.6" r="5.55"/><circle cx="414.7" cy="1242.3" r="5.55"/><circle cx="416.1" cy="1262.4" r="5.55"/><circle cx="420.3" cy="1257.1" r="5.55"/><circle cx="417.6" cy="1284.9" r="5.55"/><circle cx="420.8" cy="1304.5" r="5.55"/><circle cx="419.5" cy="1283.4" r="5.55"/><circle cx="425.8" cy="1185.6" r="5.55"/><circle cx="414.5" cy="1327.2" r="5.55"/><circle cx="423.6" cy="1310.2" r="5.55"/><circle cx="416.1" cy="1215.9" r="5.55"/><circle cx="418.4" cy="1310.4" r="5.55"/><circle cx="418.2" cy="1268.3" r="5.55"/><circle cx="417.9" cy="1358.3" r="5.55"/><circle cx="424.6" cy="1327.2" r="5.55"/><circle cx="422.7" cy="1302.3" r="5.55"/><circle cx="425.4" cy="1313.7" r="5.55"/><circle cx="425.1" cy="1240.7" r="5.55"/><circle cx="417.1" cy="1290.7" r="5.55"/><circle cx="419.7" cy="1307.8" r="5.55"/><circle cx="419.3" cy="1183.7" r="5.55"/><circle cx="417.0" cy="1355.5" r="5.55"/><circle cx="420.6" cy="1289.3" r="5.55"/><circle cx="418.0" cy="1356.1" r="5.55"/><circle cx="425.8" cy="1317.5" r="5.55"/><circle cx="423.6" cy="1253.7" r="5.55"/><circle cx="416.8" cy="1288.7" r="5.55"/><circle cx="425.0" cy="1344.9" r="5.55"/><circle cx="422.0" cy="1175.6" r="5.55"/><circle cx="422.3" cy="1283.8" r="5.55"/><circle cx="415.4" cy="1345.6" r="5.55"/><circle cx="420.8" cy="1245.8" r="5.55"/><circle cx="418.5" cy="1253.8" r="5.55"/><circle cx="423.3" cy="1281.5" r="5.55"/><circle cx="417.2" cy="1273.4" r="5.55"/><circle cx="425.2" cy="1335.0" r="5.55"/><circle cx="425.6" cy="1257.0" r="5.55"/><circle cx="424.4" cy="1326.3" r="5.55"/><circle cx="416.3" cy="1276.2" r="5.55"/><circle cx="420.3" cy="1308.8" r="5.55"/><circle cx="418.8" cy="1362.6" r="5.55"/><circle cx="423.1" cy="1324.9" r="5.55"/><circle cx="424.9" cy="1338.1" r="5.55"/><circle cx="423.2" cy="1220.2" r="5.55"/><circle cx="417.2" cy="1280.5" r="5.55"/><circle cx="422.5" cy="1258.8" r="5.55"/><circle cx="425.5" cy="1238.5" r="5.55"/><circle cx="415.4" cy="1346.3" r="5.55"/><circle cx="418.8" cy="1297.2" r="5.55"/><circle cx="415.4" cy="1200.3" r="5.55"/><circle cx="414.8" cy="1261.6" r="5.55"/><circle cx="421.0" cy="1285.9" r="5.55"/><circle cx="417.6" cy="1270.1" r="5.55"/><circle cx="424.7" cy="1303.1" r="5.55"/><circle cx="419.3" cy="1284.9" r="5.55"/><circle cx="417.6" cy="1304.1" r="5.55"/><circle cx="419.4" cy="1351.9" r="5.55"/><circle cx="422.0" cy="1322.8" r="5.55"/><circle cx="421.9" cy="1318.3" r="5.55"/><circle cx="425.8" cy="1350.8" r="5.55"/><circle cx="418.9" cy="1312.4" r="5.55"/><circle cx="416.3" cy="1315.7" r="5.55"/><circle cx="424.1" cy="1291.4" r="5.55"/><circle cx="420.9" cy="1249.0" r="5.55"/><circle cx="420.5" cy="1325.9" r="5.55"/><circle cx="417.2" cy="1343.8" r="5.55"/><circle cx="415.9" cy="1290.4" r="5.55"/><circle cx="419.0" cy="1281.0" r="5.55"/><circle cx="420.3" cy="1329.1" r="5.55"/><circle cx="414.8" cy="1295.9" r="5.55"/><circle cx="424.0" cy="1275.7" r="5.55"/><circle cx="421.9" cy="1344.0" r="5.55"/><circle cx="429.1" cy="1246.2" r="5.55"/><circle cx="432.0" cy="1323.3" r="5.55"/><circle cx="428.6" cy="1268.7" r="5.55"/><circle cx="431.8" cy="1352.4" r="5.55"/><circle cx="433.5" cy="1256.2" r="5.55"/><circle cx="430.2" cy="1335.1" r="5.55"/><circle cx="434.3" cy="1326.8" r="5.55"/><circle cx="428.8" cy="1342.6" r="5.55"/><circle cx="434.5" cy="1172.6" r="5.55"/><circle cx="426.6" cy="1292.9" r="5.55"/><circle cx="436.5" cy="1232.3" r="5.55"/><circle cx="429.4" cy="1310.5" r="5.55"/><circle cx="431.7" cy="1285.2" r="5.55"/><circle cx="429.6" cy="1278.0" r="5.55"/><circle cx="429.3" cy="1265.1" r="5.55"/><circle cx="436.8" cy="1311.2" r="5.55"/><circle cx="434.5" cy="1271.6" r="5.55"/><circle cx="432.5" cy="1304.0" r="5.55"/><circle cx="426.3" cy="1329.2" r="5.55"/><circle cx="436.6" cy="1285.9" r="5.55"/><circle cx="435.1" cy="1323.2" r="5.55"/><circle cx="436.2" cy="1202.1" r="5.55"/><circle cx="432.7" cy="1315.8" r="5.55"/><circle cx="438.1" cy="1218.5" r="5.55"/><circle cx="433.8" cy="1202.3" r="5.55"/><circle cx="433.2" cy="1287.7" r="5.55"/><circle cx="434.2" cy="1295.5" r="5.55"/><circle cx="426.3" cy="1335.3" r="5.55"/><circle cx="426.9" cy="1351.6" r="5.55"/><circle cx="429.2" cy="1299.3" r="5.55"/><circle cx="426.7" cy="1185.3" r="5.55"/><circle cx="428.0" cy="1319.0" r="5.55"/><circle cx="429.2" cy="1297.8" r="5.55"/><circle cx="432.9" cy="1252.3" r="5.55"/><circle cx="434.7" cy="1357.3" r="5.55"/><circle cx="434.2" cy="1223.0" r="5.55"/><circle cx="429.6" cy="1344.9" r="5.55"/><circle cx="430.7" cy="1237.0" r="5.55"/><circle cx="430.7" cy="1243.3" r="5.55"/><circle cx="427.8" cy="1301.5" r="5.55"/><circle cx="432.1" cy="1281.9" r="5.55"/><circle cx="434.9" cy="1177.1" r="5.55"/><circle cx="428.3" cy="1263.9" r="5.55"/><circle cx="434.8" cy="1174.4" r="5.55"/><circle cx="428.0" cy="1231.6" r="5.55"/><circle cx="426.6" cy="1281.7" r="5.55"/><circle cx="426.5" cy="1260.4" r="5.55"/><circle cx="428.1" cy="1316.7" r="5.55"/><circle cx="427.9" cy="1275.6" r="5.55"/><circle cx="433.5" cy="1238.8" r="5.55"/><circle cx="433.2" cy="1318.4" r="5.55"/><circle cx="434.7" cy="1298.3" r="5.55"/><circle cx="426.5" cy="1331.5" r="5.55"/><circle cx="428.3" cy="1253.5" r="5.55"/><circle cx="427.4" cy="1322.0" r="5.55"/><circle cx="437.7" cy="1280.9" r="5.55"/><circle cx="438.2" cy="1319.6" r="5.55"/><circle cx="432.9" cy="1300.3" r="5.55"/><circle cx="433.7" cy="1313.4" r="5.55"/><circle cx="438.1" cy="1330.3" r="5.55"/><circle cx="436.4" cy="1304.2" r="5.55"/><circle cx="426.1" cy="1360.2" r="5.55"/><circle cx="426.8" cy="1290.6" r="5.55"/><circle cx="431.2" cy="1254.2" r="5.55"/><circle cx="431.7" cy="1338.7" r="5.55"/><circle cx="428.0" cy="1204.2" r="5.55"/><circle cx="434.9" cy="1314.2" r="5.55"/><circle cx="426.5" cy="1302.6" r="5.55"/><circle cx="432.7" cy="1244.4" r="5.55"/><circle cx="426.4" cy="1298.5" r="5.55"/><circle cx="433.4" cy="1239.7" r="5.55"/><circle cx="432.8" cy="1256.7" r="5.55"/><circle cx="437.9" cy="1279.3" r="5.55"/><circle cx="431.8" cy="1276.7" r="5.55"/><circle cx="432.3" cy="1214.3" r="5.55"/><circle cx="435.7" cy="1288.3" r="5.55"/><circle cx="430.8" cy="1274.3" r="5.55"/><circle cx="426.6" cy="1320.2" r="5.55"/><circle cx="427.9" cy="1307.5" r="5.55"/><circle cx="430.5" cy="1222.8" r="5.55"/><circle cx="431.9" cy="1346.7" r="5.55"/><circle cx="428.6" cy="1292.6" r="5.55"/><circle cx="437.4" cy="1334.3" r="5.55"/><circle cx="431.8" cy="1309.7" r="5.55"/><circle cx="426.6" cy="1275.5" r="5.55"/><circle cx="426.9" cy="1293.4" r="5.55"/><circle cx="429.9" cy="1307.2" r="5.55"/><circle cx="427.7" cy="1295.6" r="5.55"/><circle cx="429.1" cy="1252.3" r="5.55"/><circle cx="431.2" cy="1247.7" r="5.55"/><circle cx="427.5" cy="1222.4" r="5.55"/><circle cx="430.5" cy="1348.3" r="5.55"/><circle cx="427.6" cy="1260.9" r="5.55"/><circle cx="436.7" cy="1305.2" r="5.55"/><circle cx="431.0" cy="1286.0" r="5.55"/><circle cx="435.8" cy="1325.1" r="5.55"/><circle cx="433.9" cy="1250.2" r="5.55"/><circle cx="430.6" cy="1294.6" r="5.55"/><circle cx="427.1" cy="1313.4" r="5.55"/><circle cx="431.8" cy="1304.4" r="5.55"/><circle cx="434.9" cy="1193.7" r="5.55"/><circle cx="427.5" cy="1178.0" r="5.55"/><circle cx="426.2" cy="1301.2" r="5.55"/><circle cx="430.3" cy="1353.1" r="5.55"/><circle cx="433.0" cy="1334.1" r="5.55"/><circle cx="427.2" cy="1366.1" r="5.55"/><circle cx="437.0" cy="1281.6" r="5.55"/><circle cx="434.2" cy="1274.5" r="5.55"/><circle cx="432.3" cy="1250.7" r="5.55"/><circle cx="427.2" cy="1245.1" r="5.55"/><circle cx="429.8" cy="1301.5" r="5.55"/><circle cx="436.3" cy="1317.6" r="5.55"/><circle cx="436.8" cy="1214.4" r="5.55"/><circle cx="431.1" cy="1279.2" r="5.55"/><circle cx="434.3" cy="1223.4" r="5.55"/><circle cx="426.1" cy="1336.5" r="5.55"/><circle cx="428.0" cy="1324.8" r="5.55"/><circle cx="437.4" cy="1266.0" r="5.55"/><circle cx="437.0" cy="1243.6" r="5.55"/><circle cx="434.8" cy="1295.7" r="5.55"/><circle cx="430.5" cy="1297.7" r="5.55"/><circle cx="427.8" cy="1201.4" r="5.55"/><circle cx="426.4" cy="1215.0" r="5.55"/><circle cx="429.9" cy="1242.7" r="5.55"/><circle cx="436.3" cy="1259.9" r="5.55"/><circle cx="434.9" cy="1257.0" r="5.55"/><circle cx="435.4" cy="1283.5" r="5.55"/><circle cx="429.2" cy="1329.1" r="5.55"/><circle cx="437.7" cy="1364.9" r="5.55"/><circle cx="429.7" cy="1351.5" r="5.55"/><circle cx="428.5" cy="1294.1" r="5.55"/><circle cx="429.6" cy="1304.3" r="5.55"/><circle cx="436.0" cy="1214.1" r="5.55"/><circle cx="426.8" cy="1199.6" r="5.55"/><circle cx="430.9" cy="1229.5" r="5.55"/><circle cx="430.6" cy="1262.3" r="5.55"/><circle cx="427.4" cy="1213.4" r="5.55"/><circle cx="431.4" cy="1246.5" r="5.55"/><circle cx="432.8" cy="1312.7" r="5.55"/><circle cx="436.9" cy="1303.8" r="5.55"/><circle cx="432.5" cy="1327.5" r="5.55"/><circle cx="435.2" cy="1244.1" r="5.55"/><circle cx="426.6" cy="1360.2" r="5.55"/><circle cx="435.2" cy="1334.9" r="5.55"/><circle cx="436.8" cy="1166.1" r="5.55"/><circle cx="436.7" cy="1237.8" r="5.55"/><circle cx="437.4" cy="1279.2" r="5.55"/><circle cx="427.3" cy="1325.9" r="5.55"/><circle cx="434.2" cy="1214.2" r="5.55"/><circle cx="431.8" cy="1363.2" r="5.55"/><circle cx="436.1" cy="1283.1" r="5.55"/><circle cx="433.4" cy="1302.4" r="5.55"/><circle cx="428.6" cy="1309.9" r="5.55"/><circle cx="428.9" cy="1321.9" r="5.55"/><circle cx="437.8" cy="1289.1" r="5.55"/><circle cx="435.1" cy="1299.5" r="5.55"/><circle cx="430.0" cy="1368.1" r="5.55"/><circle cx="428.8" cy="1351.2" r="5.55"/><circle cx="436.0" cy="1318.3" r="5.55"/><circle cx="436.2" cy="1224.6" r="5.55"/><circle cx="438.1" cy="1266.0" r="5.55"/><circle cx="434.5" cy="1357.8" r="5.55"/><circle cx="435.8" cy="1297.6" r="5.55"/><circle cx="432.7" cy="1225.2" r="5.55"/><circle cx="428.7" cy="1317.1" r="5.55"/><circle cx="434.3" cy="1171.1" r="5.55"/><circle cx="430.4" cy="1308.1" r="5.55"/><circle cx="434.3" cy="1256.5" r="5.55"/><circle cx="435.9" cy="1222.8" r="5.55"/><circle cx="433.8" cy="1302.8" r="5.55"/><circle cx="433.6" cy="1307.0" r="5.55"/><circle cx="435.4" cy="1346.6" r="5.55"/><circle cx="430.3" cy="1267.5" r="5.55"/><circle cx="427.2" cy="1239.5" r="5.55"/><circle cx="430.2" cy="1294.6" r="5.55"/><circle cx="426.2" cy="1294.8" r="5.55"/><circle cx="429.3" cy="1286.5" r="5.55"/><circle cx="436.0" cy="1248.5" r="5.55"/><circle cx="426.7" cy="1266.7" r="5.55"/><circle cx="438.1" cy="1296.0" r="5.55"/><circle cx="437.8" cy="1349.9" r="5.55"/><circle cx="426.9" cy="1255.4" r="5.55"/><circle cx="434.1" cy="1339.9" r="5.55"/><circle cx="437.3" cy="1335.1" r="5.55"/><circle cx="427.2" cy="1330.6" r="5.55"/><circle cx="426.1" cy="1350.7" r="5.55"/><circle cx="426.4" cy="1289.8" r="5.55"/><circle cx="434.3" cy="1295.9" r="5.55"/><circle cx="433.1" cy="1276.0" r="5.55"/><circle cx="429.5" cy="1327.3" r="5.55"/><circle cx="437.8" cy="1318.0" r="5.55"/><circle cx="426.8" cy="1294.4" r="5.55"/><circle cx="428.9" cy="1219.1" r="5.55"/><circle cx="431.2" cy="1280.2" r="5.55"/><circle cx="427.3" cy="1204.0" r="5.55"/><circle cx="426.7" cy="1327.6" r="5.55"/><circle cx="427.9" cy="1257.5" r="5.55"/><circle cx="432.6" cy="1209.5" r="5.55"/><circle cx="426.6" cy="1239.9" r="5.55"/><circle cx="428.5" cy="1296.6" r="5.55"/><circle cx="426.7" cy="1292.2" r="5.55"/><circle cx="436.0" cy="1345.5" r="5.55"/><circle cx="434.7" cy="1305.8" r="5.55"/><circle cx="428.5" cy="1314.6" r="5.55"/><circle cx="426.6" cy="1327.2" r="5.55"/><circle cx="436.8" cy="1325.9" r="5.55"/><circle cx="428.6" cy="1170.3" r="5.55"/><circle cx="435.8" cy="1258.6" r="5.55"/><circle cx="427.7" cy="1267.1" r="5.55"/><circle cx="427.7" cy="1282.2" r="5.55"/><circle cx="436.6" cy="1230.2" r="5.55"/><circle cx="436.1" cy="1277.3" r="5.55"/><circle cx="435.3" cy="1296.1" r="5.55"/><circle cx="437.8" cy="1332.8" r="5.55"/><circle cx="429.3" cy="1329.2" r="5.55"/><circle cx="433.0" cy="1200.1" r="5.55"/><circle cx="431.1" cy="1323.1" r="5.55"/><circle cx="426.7" cy="1275.1" r="5.55"/><circle cx="427.8" cy="1254.9" r="5.55"/><circle cx="436.1" cy="1318.6" r="5.55"/><circle cx="428.0" cy="1262.8" r="5.55"/><circle cx="426.6" cy="1334.2" r="5.55"/><circle cx="433.2" cy="1286.1" r="5.55"/><circle cx="428.5" cy="1234.8" r="5.55"/><circle cx="436.6" cy="1306.2" r="5.55"/><circle cx="435.1" cy="1342.3" r="5.55"/><circle cx="435.3" cy="1273.8" r="5.55"/><circle cx="437.7" cy="1298.0" r="5.55"/><circle cx="427.4" cy="1193.7" r="5.55"/><circle cx="427.8" cy="1282.4" r="5.55"/><circle cx="436.1" cy="1241.7" r="5.55"/><circle cx="433.1" cy="1292.3" r="5.55"/><circle cx="433.9" cy="1306.0" r="5.55"/><circle cx="431.3" cy="1311.3" r="5.55"/><circle cx="433.4" cy="1264.7" r="5.55"/><circle cx="427.5" cy="1289.7" r="5.55"/><circle cx="429.6" cy="1284.6" r="5.55"/><circle cx="427.1" cy="1259.0" r="5.55"/><circle cx="427.0" cy="1304.4" r="5.55"/><circle cx="433.5" cy="1313.1" r="5.55"/><circle cx="435.0" cy="1273.1" r="5.55"/><circle cx="429.6" cy="1318.9" r="5.55"/><circle cx="428.3" cy="1193.3" r="5.55"/><circle cx="430.7" cy="1228.6" r="5.55"/><circle cx="434.8" cy="1253.5" r="5.55"/><circle cx="433.8" cy="1322.3" r="5.55"/><circle cx="427.1" cy="1224.1" r="5.55"/><circle cx="428.1" cy="1262.9" r="5.55"/><circle cx="428.2" cy="1302.1" r="5.55"/><circle cx="426.1" cy="1304.7" r="5.55"/><circle cx="433.8" cy="1260.3" r="5.55"/><circle cx="432.6" cy="1324.7" r="5.55"/><circle cx="433.3" cy="1283.0" r="5.55"/><circle cx="436.6" cy="1188.6" r="5.55"/><circle cx="429.5" cy="1277.1" r="5.55"/><circle cx="433.6" cy="1322.2" r="5.55"/><circle cx="428.9" cy="1291.7" r="5.55"/><circle cx="431.4" cy="1348.8" r="5.55"/><circle cx="436.6" cy="1294.9" r="5.55"/><circle cx="437.6" cy="1357.8" r="5.55"/><circle cx="426.7" cy="1239.5" r="5.55"/><circle cx="426.3" cy="1247.4" r="5.55"/><circle cx="432.0" cy="1327.1" r="5.55"/><circle cx="434.2" cy="1283.8" r="5.55"/><circle cx="437.3" cy="1297.4" r="5.55"/><circle cx="427.2" cy="1289.9" r="5.55"/><circle cx="428.8" cy="1305.5" r="5.55"/><circle cx="438.2" cy="1192.9" r="5.55"/><circle cx="427.1" cy="1245.2" r="5.55"/><circle cx="429.2" cy="1255.8" r="5.55"/><circle cx="438.1" cy="1295.9" r="5.55"/><circle cx="429.1" cy="1231.3" r="5.55"/><circle cx="428.3" cy="1338.5" r="5.55"/><circle cx="431.5" cy="1289.7" r="5.55"/><circle cx="434.1" cy="1288.1" r="5.55"/><circle cx="430.8" cy="1303.6" r="5.55"/><circle cx="440.0" cy="1283.6" r="5.55"/><circle cx="446.5" cy="1341.4" r="5.55"/><circle cx="439.5" cy="1279.5" r="5.55"/><circle cx="440.1" cy="1256.5" r="5.55"/><circle cx="438.5" cy="1301.3" r="5.55"/><circle cx="446.3" cy="1185.2" r="5.55"/><circle cx="441.0" cy="1308.2" r="5.55"/><circle cx="445.6" cy="1250.5" r="5.55"/><circle cx="444.6" cy="1301.8" r="5.55"/><circle cx="448.5" cy="1285.8" r="5.55"/><circle cx="448.3" cy="1280.7" r="5.55"/><circle cx="446.3" cy="1296.7" r="5.55"/><circle cx="445.6" cy="1264.3" r="5.55"/><circle cx="442.0" cy="1295.5" r="5.55"/><circle cx="447.6" cy="1334.0" r="5.55"/><circle cx="446.1" cy="1298.5" r="5.55"/><circle cx="445.0" cy="1230.6" r="5.55"/><circle cx="439.9" cy="1335.2" r="5.55"/><circle cx="441.6" cy="1182.5" r="5.55"/><circle cx="446.4" cy="1314.5" r="5.55"/><circle cx="444.3" cy="1196.0" r="5.55"/><circle cx="446.3" cy="1239.1" r="5.55"/><circle cx="445.3" cy="1350.8" r="5.55"/><circle cx="440.4" cy="1261.6" r="5.55"/><circle cx="449.8" cy="1347.8" r="5.55"/><circle cx="445.9" cy="1308.7" r="5.55"/><circle cx="443.9" cy="1310.6" r="5.55"/><circle cx="438.5" cy="1321.6" r="5.55"/><circle cx="449.2" cy="1288.6" r="5.55"/><circle cx="448.5" cy="1361.3" r="5.55"/><circle cx="440.4" cy="1275.2" r="5.55"/><circle cx="440.2" cy="1340.1" r="5.55"/><circle cx="446.9" cy="1335.7" r="5.55"/><circle cx="449.3" cy="1298.4" r="5.55"/><circle cx="442.6" cy="1350.2" r="5.55"/><circle cx="443.4" cy="1307.1" r="5.55"/><circle cx="440.0" cy="1292.0" r="5.55"/><circle cx="441.5" cy="1339.9" r="5.55"/><circle cx="441.2" cy="1315.2" r="5.55"/><circle cx="447.0" cy="1299.9" r="5.55"/><circle cx="439.3" cy="1217.5" r="5.55"/><circle cx="439.6" cy="1202.2" r="5.55"/><circle cx="440.2" cy="1189.7" r="5.55"/><circle cx="441.8" cy="1312.1" r="5.55"/><circle cx="442.8" cy="1172.8" r="5.55"/><circle cx="443.5" cy="1251.4" r="5.55"/><circle cx="449.6" cy="1300.0" r="5.55"/><circle cx="440.3" cy="1307.1" r="5.55"/><circle cx="441.8" cy="1277.3" r="5.55"/><circle cx="444.5" cy="1232.2" r="5.55"/><circle cx="438.7" cy="1227.2" r="5.55"/><circle cx="446.5" cy="1199.8" r="5.55"/><circle cx="443.2" cy="1318.8" r="5.55"/><circle cx="444.6" cy="1221.7" r="5.55"/><circle cx="440.2" cy="1262.3" r="5.55"/><circle cx="450.0" cy="1319.8" r="5.55"/><circle cx="443.9" cy="1297.6" r="5.55"/><circle cx="446.6" cy="1178.9" r="5.55"/><circle cx="445.7" cy="1286.8" r="5.55"/><circle cx="447.9" cy="1313.9" r="5.55"/><circle cx="446.1" cy="1318.3" r="5.55"/><circle cx="440.2" cy="1262.5" r="5.55"/><circle cx="446.1" cy="1345.9" r="5.55"/><circle cx="446.1" cy="1318.8" r="5.55"/><circle cx="442.0" cy="1186.4" r="5.55"/><circle cx="447.3" cy="1259.0" r="5.55"/><circle cx="446.0" cy="1207.5" r="5.55"/><circle cx="443.2" cy="1288.6" r="5.55"/><circle cx="439.2" cy="1298.0" r="5.55"/><circle cx="438.3" cy="1349.5" r="5.55"/><circle cx="440.2" cy="1303.5" r="5.55"/><circle cx="450.0" cy="1315.7" r="5.55"/><circle cx="447.2" cy="1306.9" r="5.55"/><circle cx="443.8" cy="1264.9" r="5.55"/><circle cx="445.4" cy="1353.5" r="5.55"/><circle cx="445.5" cy="1283.3" r="5.55"/><circle cx="447.0" cy="1311.9" r="5.55"/><circle cx="442.6" cy="1312.1" r="5.55"/><circle cx="438.9" cy="1329.5" r="5.55"/><circle cx="441.6" cy="1324.6" r="5.55"/><circle cx="438.4" cy="1225.1" r="5.55"/><circle cx="439.1" cy="1276.4" r="5.55"/><circle cx="440.9" cy="1267.1" r="5.55"/><circle cx="445.6" cy="1279.0" r="5.55"/><circle cx="445.4" cy="1231.4" r="5.55"/><circle cx="447.9" cy="1308.6" r="5.55"/><circle cx="440.4" cy="1181.0" r="5.55"/><circle cx="444.7" cy="1251.0" r="5.55"/><circle cx="448.8" cy="1347.1" r="5.55"/><circle cx="450.0" cy="1208.6" r="5.55"/><circle cx="438.5" cy="1322.3" r="5.55"/><circle cx="447.8" cy="1310.2" r="5.55"/><circle cx="439.3" cy="1312.8" r="5.55"/><circle cx="440.3" cy="1274.7" r="5.55"/><circle cx="449.8" cy="1187.0" r="5.55"/><circle cx="440.9" cy="1313.6" r="5.55"/><circle cx="442.5" cy="1273.0" r="5.55"/><circle cx="439.1" cy="1361.0" r="5.55"/><circle cx="440.6" cy="1302.3" r="5.55"/><circle cx="444.8" cy="1311.2" r="5.55"/><circle cx="446.8" cy="1176.7" r="5.55"/><circle cx="445.9" cy="1177.3" r="5.55"/><circle cx="443.2" cy="1206.3" r="5.55"/><circle cx="444.9" cy="1258.1" r="5.55"/><circle cx="441.1" cy="1196.1" r="5.55"/><circle cx="440.8" cy="1259.7" r="5.55"/><circle cx="445.8" cy="1264.7" r="5.55"/><circle cx="439.3" cy="1309.7" r="5.55"/><circle cx="450.0" cy="1275.9" r="5.55"/><circle cx="441.2" cy="1206.9" r="5.55"/><circle cx="441.0" cy="1243.8" r="5.55"/><circle cx="447.4" cy="1327.3" r="5.55"/><circle cx="440.3" cy="1324.2" r="5.55"/><circle cx="445.5" cy="1336.7" r="5.55"/><circle cx="447.2" cy="1263.6" r="5.55"/><circle cx="444.7" cy="1248.3" r="5.55"/><circle cx="442.0" cy="1323.5" r="5.55"/><circle cx="443.0" cy="1245.6" r="5.55"/><circle cx="450.1" cy="1187.0" r="5.55"/><circle cx="444.4" cy="1274.4" r="5.55"/><circle cx="448.1" cy="1315.4" r="5.55"/><circle cx="441.0" cy="1304.8" r="5.55"/><circle cx="444.1" cy="1243.5" r="5.55"/><circle cx="439.3" cy="1301.0" r="5.55"/><circle cx="441.8" cy="1324.0" r="5.55"/><circle cx="445.8" cy="1215.0" r="5.55"/><circle cx="441.6" cy="1218.5" r="5.55"/><circle cx="440.0" cy="1197.0" r="5.55"/><circle cx="439.7" cy="1278.0" r="5.55"/><circle cx="438.5" cy="1330.6" r="5.55"/><circle cx="442.4" cy="1315.4" r="5.55"/><circle cx="449.8" cy="1292.2" r="5.55"/><circle cx="445.1" cy="1244.5" r="5.55"/><circle cx="439.3" cy="1266.9" r="5.55"/><circle cx="439.1" cy="1254.2" r="5.55"/><circle cx="445.7" cy="1248.1" r="5.55"/><circle cx="445.7" cy="1323.8" r="5.55"/><circle cx="445.0" cy="1327.0" r="5.55"/><circle cx="438.3" cy="1262.8" r="5.55"/><circle cx="446.9" cy="1303.5" r="5.55"/><circle cx="444.7" cy="1205.5" r="5.55"/><circle cx="449.5" cy="1261.7" r="5.55"/><circle cx="442.7" cy="1290.7" r="5.55"/><circle cx="443.9" cy="1275.9" r="5.55"/><circle cx="439.2" cy="1265.7" r="5.55"/><circle cx="438.7" cy="1259.6" r="5.55"/><circle cx="446.6" cy="1251.3" r="5.55"/><circle cx="448.4" cy="1244.4" r="5.55"/><circle cx="443.4" cy="1159.9" r="5.55"/><circle cx="448.8" cy="1256.3" r="5.55"/><circle cx="440.9" cy="1291.5" r="5.55"/><circle cx="447.2" cy="1342.5" r="5.55"/><circle cx="438.8" cy="1340.4" r="5.55"/><circle cx="448.2" cy="1297.8" r="5.55"/><circle cx="449.9" cy="1298.8" r="5.55"/><circle cx="438.5" cy="1321.2" r="5.55"/><circle cx="449.4" cy="1339.3" r="5.55"/><circle cx="442.5" cy="1306.8" r="5.55"/><circle cx="444.0" cy="1214.0" r="5.55"/><circle cx="441.8" cy="1201.5" r="5.55"/><circle cx="445.0" cy="1357.7" r="5.55"/><circle cx="447.3" cy="1172.4" r="5.55"/><circle cx="449.0" cy="1299.2" r="5.55"/><circle cx="442.5" cy="1274.3" r="5.55"/><circle cx="448.1" cy="1291.3" r="5.55"/><circle cx="445.1" cy="1246.0" r="5.55"/><circle cx="442.3" cy="1268.3" r="5.55"/><circle cx="447.0" cy="1342.2" r="5.55"/><circle cx="443.2" cy="1315.3" r="5.55"/><circle cx="449.3" cy="1299.3" r="5.55"/><circle cx="443.2" cy="1333.6" r="5.55"/><circle cx="441.2" cy="1190.3" r="5.55"/><circle cx="443.4" cy="1339.2" r="5.55"/><circle cx="444.2" cy="1355.0" r="5.55"/><circle cx="442.0" cy="1271.7" r="5.55"/><circle cx="439.4" cy="1274.5" r="5.55"/><circle cx="445.8" cy="1218.7" r="5.55"/><circle cx="445.7" cy="1305.9" r="5.55"/><circle cx="445.8" cy="1235.3" r="5.55"/><circle cx="448.9" cy="1342.0" r="5.55"/><circle cx="442.8" cy="1258.2" r="5.55"/><circle cx="445.9" cy="1275.3" r="5.55"/><circle cx="445.9" cy="1270.4" r="5.55"/><circle cx="442.7" cy="1338.3" r="5.55"/><circle cx="441.8" cy="1328.1" r="5.55"/><circle cx="438.6" cy="1285.5" r="5.55"/><circle cx="445.4" cy="1317.2" r="5.55"/><circle cx="441.6" cy="1325.1" r="5.55"/><circle cx="450.3" cy="1312.1" r="5.55"/><circle cx="440.7" cy="1303.0" r="5.55"/><circle cx="442.4" cy="1242.0" r="5.55"/><circle cx="449.8" cy="1316.9" r="5.55"/><circle cx="438.4" cy="1318.7" r="5.55"/><circle cx="449.5" cy="1344.2" r="5.55"/><circle cx="447.5" cy="1276.7" r="5.55"/><circle cx="445.2" cy="1334.0" r="5.55"/><circle cx="446.8" cy="1309.7" r="5.55"/><circle cx="440.9" cy="1368.4" r="5.55"/><circle cx="448.5" cy="1211.0" r="5.55"/><circle cx="440.9" cy="1261.1" r="5.55"/><circle cx="441.7" cy="1244.7" r="5.55"/><circle cx="450.3" cy="1300.9" r="5.55"/><circle cx="446.5" cy="1242.3" r="5.55"/><circle cx="438.6" cy="1324.5" r="5.55"/><circle cx="440.2" cy="1353.9" r="5.55"/><circle cx="440.2" cy="1343.6" r="5.55"/><circle cx="444.9" cy="1283.0" r="5.55"/><circle cx="448.5" cy="1360.3" r="5.55"/><circle cx="447.0" cy="1311.9" r="5.55"/><circle cx="439.0" cy="1340.5" r="5.55"/><circle cx="448.1" cy="1228.5" r="5.55"/><circle cx="442.9" cy="1307.9" r="5.55"/><circle cx="447.5" cy="1306.9" r="5.55"/><circle cx="443.8" cy="1271.4" r="5.55"/><circle cx="446.5" cy="1272.6" r="5.55"/><circle cx="442.9" cy="1294.7" r="5.55"/><circle cx="444.3" cy="1274.0" r="5.55"/><circle cx="446.5" cy="1292.7" r="5.55"/><circle cx="440.7" cy="1361.9" r="5.55"/><circle cx="443.7" cy="1325.2" r="5.55"/><circle cx="442.7" cy="1200.3" r="5.55"/><circle cx="444.0" cy="1313.6" r="5.55"/><circle cx="444.5" cy="1289.2" r="5.55"/><circle cx="445.4" cy="1200.2" r="5.55"/><circle cx="447.5" cy="1340.7" r="5.55"/><circle cx="444.4" cy="1313.6" r="5.55"/><circle cx="441.4" cy="1329.9" r="5.55"/><circle cx="438.5" cy="1298.6" r="5.55"/><circle cx="443.6" cy="1268.5" r="5.55"/><circle cx="441.5" cy="1221.5" r="5.55"/><circle cx="448.1" cy="1287.3" r="5.55"/><circle cx="440.2" cy="1214.5" r="5.55"/><circle cx="444.8" cy="1340.4" r="5.55"/><circle cx="440.4" cy="1269.1" r="5.55"/><circle cx="446.7" cy="1339.4" r="5.55"/><circle cx="449.0" cy="1321.9" r="5.55"/><circle cx="441.6" cy="1266.2" r="5.55"/><circle cx="441.6" cy="1274.0" r="5.55"/><circle cx="443.0" cy="1267.0" r="5.55"/><circle cx="447.4" cy="1360.1" r="5.55"/><circle cx="439.8" cy="1262.3" r="5.55"/><circle cx="444.7" cy="1261.2" r="5.55"/><circle cx="446.8" cy="1303.7" r="5.55"/><circle cx="439.2" cy="1311.6" r="5.55"/><circle cx="444.2" cy="1373.1" r="5.55"/><circle cx="441.3" cy="1289.2" r="5.55"/><circle cx="445.3" cy="1349.4" r="5.55"/><circle cx="446.7" cy="1191.5" r="5.55"/><circle cx="448.4" cy="1228.4" r="5.55"/><circle cx="442.7" cy="1209.2" r="5.55"/><circle cx="441.9" cy="1263.2" r="5.55"/><circle cx="445.2" cy="1282.5" r="5.55"/><circle cx="439.6" cy="1286.5" r="5.55"/><circle cx="448.7" cy="1291.1" r="5.55"/><circle cx="439.8" cy="1293.6" r="5.55"/><circle cx="449.6" cy="1302.4" r="5.55"/><circle cx="448.8" cy="1216.7" r="5.55"/><circle cx="448.4" cy="1306.7" r="5.55"/><circle cx="444.5" cy="1270.0" r="5.55"/><circle cx="449.1" cy="1335.9" r="5.55"/><circle cx="444.4" cy="1312.6" r="5.55"/><circle cx="447.4" cy="1257.4" r="5.55"/><circle cx="444.3" cy="1328.9" r="5.55"/><circle cx="441.8" cy="1325.3" r="5.55"/><circle cx="442.9" cy="1236.1" r="5.55"/><circle cx="441.1" cy="1262.2" r="5.55"/><circle cx="441.0" cy="1349.5" r="5.55"/><circle cx="442.0" cy="1288.5" r="5.55"/><circle cx="445.1" cy="1263.0" r="5.55"/><circle cx="441.3" cy="1333.0" r="5.55"/><circle cx="439.0" cy="1201.1" r="5.55"/><circle cx="444.9" cy="1315.0" r="5.55"/><circle cx="443.9" cy="1281.0" r="5.55"/><circle cx="441.9" cy="1296.7" r="5.55"/><circle cx="443.4" cy="1345.9" r="5.55"/><circle cx="448.3" cy="1264.1" r="5.55"/><circle cx="449.7" cy="1292.8" r="5.55"/><circle cx="443.8" cy="1272.9" r="5.55"/><circle cx="446.3" cy="1179.2" r="5.55"/><circle cx="441.5" cy="1318.3" r="5.55"/><circle cx="438.9" cy="1362.4" r="5.55"/><circle cx="446.0" cy="1298.4" r="5.55"/><circle cx="448.5" cy="1338.2" r="5.55"/><circle cx="448.8" cy="1329.6" r="5.55"/><circle cx="450.0" cy="1289.1" r="5.55"/><circle cx="445.6" cy="1302.6" r="5.55"/><circle cx="447.0" cy="1331.2" r="5.55"/><circle cx="447.4" cy="1212.9" r="5.55"/><circle cx="447.9" cy="1324.1" r="5.55"/><circle cx="450.7" cy="1341.2" r="5.55"/><circle cx="450.5" cy="1303.8" r="5.55"/><circle cx="450.4" cy="1316.6" r="5.55"/><circle cx="453.4" cy="1268.5" r="5.55"/><circle cx="455.4" cy="1269.9" r="5.55"/><circle cx="460.5" cy="1315.0" r="5.55"/><circle cx="451.9" cy="1331.0" r="5.55"/><circle cx="458.7" cy="1329.5" r="5.55"/><circle cx="456.1" cy="1329.0" r="5.55"/><circle cx="455.3" cy="1307.1" r="5.55"/><circle cx="459.9" cy="1247.7" r="5.55"/><circle cx="455.5" cy="1309.6" r="5.55"/><circle cx="462.4" cy="1178.0" r="5.55"/><circle cx="454.7" cy="1224.9" r="5.55"/><circle cx="459.1" cy="1325.0" r="5.55"/><circle cx="455.4" cy="1295.2" r="5.55"/><circle cx="455.9" cy="1273.2" r="5.55"/><circle cx="455.0" cy="1353.1" r="5.55"/><circle cx="459.0" cy="1343.7" r="5.55"/><circle cx="455.3" cy="1316.0" r="5.55"/><circle cx="459.8" cy="1299.1" r="5.55"/><circle cx="460.5" cy="1175.3" r="5.55"/><circle cx="454.8" cy="1300.4" r="5.55"/><circle cx="461.2" cy="1320.3" r="5.55"/><circle cx="458.7" cy="1250.8" r="5.55"/><circle cx="455.3" cy="1299.3" r="5.55"/><circle cx="451.2" cy="1261.1" r="5.55"/><circle cx="454.8" cy="1257.9" r="5.55"/><circle cx="461.8" cy="1261.2" r="5.55"/><circle cx="462.0" cy="1346.2" r="5.55"/><circle cx="461.8" cy="1299.2" r="5.55"/><circle cx="453.5" cy="1319.7" r="5.55"/><circle cx="451.0" cy="1334.6" r="5.55"/><circle cx="453.0" cy="1236.9" r="5.55"/><circle cx="450.4" cy="1269.1" r="5.55"/><circle cx="459.3" cy="1334.0" r="5.55"/><circle cx="452.7" cy="1298.4" r="5.55"/><circle cx="454.4" cy="1265.1" r="5.55"/><circle cx="457.0" cy="1333.9" r="5.55"/><circle cx="456.7" cy="1328.1" r="5.55"/><circle cx="460.7" cy="1270.8" r="5.55"/><circle cx="461.4" cy="1299.4" r="5.55"/><circle cx="451.4" cy="1236.2" r="5.55"/><circle cx="451.2" cy="1323.2" r="5.55"/><circle cx="453.2" cy="1300.7" r="5.55"/><circle cx="458.0" cy="1345.0" r="5.55"/><circle cx="456.7" cy="1225.1" r="5.55"/><circle cx="450.9" cy="1303.4" r="5.55"/><circle cx="454.0" cy="1287.8" r="5.55"/><circle cx="451.1" cy="1212.0" r="5.55"/><circle cx="452.5" cy="1335.0" r="5.55"/><circle cx="452.6" cy="1302.0" r="5.55"/><circle cx="457.3" cy="1265.1" r="5.55"/><circle cx="459.0" cy="1304.5" r="5.55"/><circle cx="460.2" cy="1311.2" r="5.55"/><circle cx="455.7" cy="1189.5" r="5.55"/><circle cx="453.7" cy="1336.8" r="5.55"/><circle cx="457.2" cy="1352.7" r="5.55"/><circle cx="458.5" cy="1337.5" r="5.55"/><circle cx="457.5" cy="1365.9" r="5.55"/><circle cx="456.5" cy="1220.3" r="5.55"/><circle cx="452.5" cy="1328.2" r="5.55"/><circle cx="453.9" cy="1297.9" r="5.55"/><circle cx="458.0" cy="1297.3" r="5.55"/><circle cx="451.6" cy="1178.1" r="5.55"/><circle cx="458.1" cy="1303.5" r="5.55"/><circle cx="456.8" cy="1354.8" r="5.55"/><circle cx="450.7" cy="1299.9" r="5.55"/><circle cx="450.7" cy="1183.6" r="5.55"/><circle cx="460.3" cy="1173.8" r="5.55"/><circle cx="454.3" cy="1318.4" r="5.55"/><circle cx="458.7" cy="1324.9" r="5.55"/><circle cx="456.4" cy="1285.0" r="5.55"/><circle cx="458.0" cy="1310.1" r="5.55"/><circle cx="459.4" cy="1311.4" r="5.55"/><circle cx="458.2" cy="1361.4" r="5.55"/><circle cx="456.0" cy="1305.1" r="5.55"/><circle cx="456.8" cy="1313.3" r="5.55"/><circle cx="452.4" cy="1251.0" r="5.55"/><circle cx="452.5" cy="1307.8" r="5.55"/><circle cx="458.4" cy="1341.4" r="5.55"/><circle cx="456.7" cy="1237.2" r="5.55"/><circle cx="458.4" cy="1346.9" r="5.55"/><circle cx="461.8" cy="1287.9" r="5.55"/><circle cx="455.7" cy="1217.4" r="5.55"/><circle cx="454.5" cy="1280.8" r="5.55"/><circle cx="450.9" cy="1259.0" r="5.55"/><circle cx="454.0" cy="1279.7" r="5.55"/><circle cx="458.8" cy="1237.8" r="5.55"/><circle cx="460.7" cy="1277.2" r="5.55"/><circle cx="460.6" cy="1273.6" r="5.55"/><circle cx="462.4" cy="1312.5" r="5.55"/><circle cx="459.0" cy="1229.8" r="5.55"/><circle cx="451.8" cy="1343.9" r="5.55"/><circle cx="461.4" cy="1321.8" r="5.55"/><circle cx="458.0" cy="1292.2" r="5.55"/><circle cx="458.3" cy="1325.5" r="5.55"/><circle cx="450.5" cy="1224.1" r="5.55"/><circle cx="462.5" cy="1238.0" r="5.55"/><circle cx="453.7" cy="1326.7" r="5.55"/><circle cx="452.8" cy="1283.3" r="5.55"/><circle cx="453.1" cy="1304.9" r="5.55"/><circle cx="451.3" cy="1324.3" r="5.55"/><circle cx="459.6" cy="1255.9" r="5.55"/><circle cx="458.8" cy="1324.7" r="5.55"/><circle cx="455.7" cy="1338.1" r="5.55"/><circle cx="459.9" cy="1217.9" r="5.55"/><circle cx="461.2" cy="1291.6" r="5.55"/><circle cx="462.3" cy="1343.1" r="5.55"/><circle cx="455.3" cy="1364.4" r="5.55"/><circle cx="458.4" cy="1295.5" r="5.55"/><circle cx="455.0" cy="1260.0" r="5.55"/><circle cx="460.0" cy="1191.4" r="5.55"/><circle cx="454.7" cy="1227.0" r="5.55"/><circle cx="462.3" cy="1222.9" r="5.55"/><circle cx="460.6" cy="1353.3" r="5.55"/><circle cx="456.1" cy="1253.0" r="5.55"/><circle cx="453.7" cy="1232.4" r="5.55"/><circle cx="455.7" cy="1374.6" r="5.55"/><circle cx="453.9" cy="1323.8" r="5.55"/><circle cx="458.9" cy="1210.9" r="5.55"/><circle cx="451.7" cy="1248.3" r="5.55"/><circle cx="462.1" cy="1303.1" r="5.55"/><circle cx="453.6" cy="1262.7" r="5.55"/><circle cx="456.2" cy="1258.9" r="5.55"/><circle cx="456.6" cy="1212.2" r="5.55"/><circle cx="456.2" cy="1344.8" r="5.55"/><circle cx="454.0" cy="1266.7" r="5.55"/><circle cx="460.3" cy="1325.2" r="5.55"/><circle cx="457.0" cy="1352.3" r="5.55"/><circle cx="461.9" cy="1283.5" r="5.55"/><circle cx="455.3" cy="1325.7" r="5.55"/><circle cx="457.9" cy="1335.8" r="5.55"/><circle cx="459.3" cy="1351.8" r="5.55"/><circle cx="457.9" cy="1257.7" r="5.55"/><circle cx="454.6" cy="1337.7" r="5.55"/><circle cx="450.7" cy="1337.2" r="5.55"/><circle cx="460.9" cy="1311.1" r="5.55"/><circle cx="461.8" cy="1292.9" r="5.55"/><circle cx="456.6" cy="1275.3" r="5.55"/><circle cx="453.1" cy="1249.4" r="5.55"/><circle cx="453.2" cy="1316.3" r="5.55"/><circle cx="454.0" cy="1236.7" r="5.55"/><circle cx="460.2" cy="1296.9" r="5.55"/><circle cx="459.4" cy="1338.8" r="5.55"/><circle cx="451.8" cy="1260.4" r="5.55"/><circle cx="460.3" cy="1251.3" r="5.55"/><circle cx="451.3" cy="1287.6" r="5.55"/><circle cx="452.8" cy="1289.3" r="5.55"/><circle cx="456.4" cy="1340.3" r="5.55"/><circle cx="461.5" cy="1323.9" r="5.55"/><circle cx="454.4" cy="1307.8" r="5.55"/><circle cx="458.5" cy="1357.7" r="5.55"/><circle cx="455.4" cy="1241.8" r="5.55"/><circle cx="456.7" cy="1276.7" r="5.55"/><circle cx="455.9" cy="1286.7" r="5.55"/><circle cx="452.4" cy="1308.1" r="5.55"/><circle cx="450.4" cy="1295.6" r="5.55"/><circle cx="458.5" cy="1246.7" r="5.55"/><circle cx="456.1" cy="1299.4" r="5.55"/><circle cx="451.4" cy="1359.1" r="5.55"/><circle cx="457.7" cy="1294.3" r="5.55"/><circle cx="460.1" cy="1293.6" r="5.55"/><circle cx="459.0" cy="1230.1" r="5.55"/><circle cx="456.6" cy="1201.8" r="5.55"/><circle cx="454.8" cy="1238.3" r="5.55"/><circle cx="451.9" cy="1331.9" r="5.55"/><circle cx="462.2" cy="1301.8" r="5.55"/><circle cx="458.4" cy="1306.6" r="5.55"/><circle cx="458.3" cy="1269.8" r="5.55"/><circle cx="455.2" cy="1175.6" r="5.55"/><circle cx="452.0" cy="1251.6" r="5.55"/><circle cx="458.8" cy="1170.0" r="5.55"/><circle cx="452.5" cy="1323.2" r="5.55"/><circle cx="457.4" cy="1268.7" r="5.55"/><circle cx="462.4" cy="1340.4" r="5.55"/><circle cx="452.8" cy="1294.2" r="5.55"/><circle cx="453.9" cy="1190.1" r="5.55"/><circle cx="457.1" cy="1189.0" r="5.55"/><circle cx="454.0" cy="1311.2" r="5.55"/><circle cx="453.9" cy="1242.2" r="5.55"/><circle cx="453.5" cy="1310.6" r="5.55"/><circle cx="459.0" cy="1290.1" r="5.55"/><circle cx="460.5" cy="1316.8" r="5.55"/><circle cx="461.9" cy="1361.4" r="5.55"/><circle cx="455.6" cy="1279.6" r="5.55"/><circle cx="458.9" cy="1309.9" r="5.55"/><circle cx="462.4" cy="1221.0" r="5.55"/><circle cx="460.3" cy="1237.9" r="5.55"/><circle cx="459.1" cy="1321.2" r="5.55"/><circle cx="452.4" cy="1354.2" r="5.55"/><circle cx="452.3" cy="1295.8" r="5.55"/><circle cx="461.5" cy="1314.6" r="5.55"/><circle cx="460.2" cy="1331.2" r="5.55"/><circle cx="455.2" cy="1343.0" r="5.55"/><circle cx="453.3" cy="1303.7" r="5.55"/><circle cx="453.1" cy="1267.7" r="5.55"/><circle cx="450.6" cy="1286.7" r="5.55"/><circle cx="462.2" cy="1322.8" r="5.55"/><circle cx="451.5" cy="1234.1" r="5.55"/><circle cx="456.4" cy="1313.2" r="5.55"/><circle cx="453.2" cy="1315.3" r="5.55"/><circle cx="461.8" cy="1320.7" r="5.55"/><circle cx="456.9" cy="1312.6" r="5.55"/><circle cx="459.6" cy="1203.2" r="5.55"/><circle cx="459.9" cy="1207.3" r="5.55"/><circle cx="456.4" cy="1281.3" r="5.55"/><circle cx="461.7" cy="1283.5" r="5.55"/><circle cx="460.0" cy="1249.2" r="5.55"/><circle cx="457.7" cy="1295.9" r="5.55"/><circle cx="461.3" cy="1300.4" r="5.55"/><circle cx="462.2" cy="1183.6" r="5.55"/><circle cx="456.4" cy="1303.2" r="5.55"/><circle cx="455.2" cy="1345.6" r="5.55"/><circle cx="457.0" cy="1306.0" r="5.55"/><circle cx="454.3" cy="1169.3" r="5.55"/><circle cx="454.9" cy="1354.6" r="5.55"/><circle cx="458.1" cy="1307.1" r="5.55"/><circle cx="452.6" cy="1290.5" r="5.55"/><circle cx="462.5" cy="1362.6" r="5.55"/><circle cx="450.8" cy="1265.9" r="5.55"/><circle cx="450.5" cy="1239.8" r="5.55"/><circle cx="455.3" cy="1174.4" r="5.55"/><circle cx="460.3" cy="1287.8" r="5.55"/><circle cx="461.6" cy="1357.3" r="5.55"/><circle cx="453.4" cy="1302.4" r="5.55"/><circle cx="457.3" cy="1304.8" r="5.55"/><circle cx="460.0" cy="1309.8" r="5.55"/><circle cx="453.5" cy="1327.6" r="5.55"/><circle cx="453.5" cy="1267.5" r="5.55"/><circle cx="454.9" cy="1248.7" r="5.55"/><circle cx="459.9" cy="1293.4" r="5.55"/><circle cx="455.3" cy="1242.8" r="5.55"/><circle cx="458.7" cy="1291.9" r="5.55"/><circle cx="457.0" cy="1306.9" r="5.55"/><circle cx="458.0" cy="1196.1" r="5.55"/><circle cx="458.3" cy="1266.6" r="5.55"/><circle cx="457.5" cy="1236.0" r="5.55"/><circle cx="460.8" cy="1285.5" r="5.55"/><circle cx="454.2" cy="1352.3" r="5.55"/><circle cx="461.0" cy="1305.1" r="5.55"/><circle cx="451.1" cy="1283.1" r="5.55"/><circle cx="455.8" cy="1189.6" r="5.55"/><circle cx="461.1" cy="1293.7" r="5.55"/><circle cx="450.6" cy="1189.3" r="5.55"/><circle cx="451.4" cy="1264.8" r="5.55"/><circle cx="454.1" cy="1307.3" r="5.55"/><circle cx="455.6" cy="1306.0" r="5.55"/><circle cx="459.4" cy="1321.6" r="5.55"/><circle cx="458.1" cy="1265.5" r="5.55"/><circle cx="455.0" cy="1355.8" r="5.55"/><circle cx="453.2" cy="1214.3" r="5.55"/><circle cx="454.8" cy="1310.7" r="5.55"/><circle cx="460.8" cy="1193.7" r="5.55"/><circle cx="460.0" cy="1309.9" r="5.55"/><circle cx="452.6" cy="1286.0" r="5.55"/><circle cx="462.4" cy="1276.0" r="5.55"/><circle cx="454.8" cy="1343.8" r="5.55"/><circle cx="456.6" cy="1341.0" r="5.55"/><circle cx="454.2" cy="1346.4" r="5.55"/><circle cx="457.6" cy="1262.3" r="5.55"/><circle cx="454.5" cy="1300.4" r="5.55"/><circle cx="451.5" cy="1294.5" r="5.55"/><circle cx="453.1" cy="1272.4" r="5.55"/><circle cx="451.6" cy="1259.8" r="5.55"/><circle cx="450.4" cy="1272.3" r="5.55"/><circle cx="455.7" cy="1258.9" r="5.55"/><circle cx="460.9" cy="1323.4" r="5.55"/><circle cx="453.8" cy="1254.1" r="5.55"/><circle cx="456.1" cy="1286.5" r="5.55"/><circle cx="461.2" cy="1290.9" r="5.55"/><circle cx="453.2" cy="1337.2" r="5.55"/><circle cx="454.7" cy="1319.8" r="5.55"/><circle cx="460.5" cy="1277.4" r="5.55"/><circle cx="456.6" cy="1278.8" r="5.55"/><circle cx="460.1" cy="1277.5" r="5.55"/><circle cx="458.1" cy="1241.4" r="5.55"/><circle cx="454.3" cy="1177.2" r="5.55"/><circle cx="454.6" cy="1318.5" r="5.55"/><circle cx="451.1" cy="1340.9" r="5.55"/><circle cx="452.1" cy="1274.1" r="5.55"/><circle cx="452.6" cy="1230.7" r="5.55"/><circle cx="459.6" cy="1303.3" r="5.55"/><circle cx="452.7" cy="1280.6" r="5.55"/><circle cx="458.3" cy="1258.5" r="5.55"/><circle cx="457.8" cy="1264.6" r="5.55"/><circle cx="452.2" cy="1346.8" r="5.55"/><circle cx="460.6" cy="1239.2" r="5.55"/><circle cx="454.3" cy="1339.9" r="5.55"/><circle cx="462.4" cy="1232.6" r="5.55"/><circle cx="456.5" cy="1296.0" r="5.55"/><circle cx="459.5" cy="1270.8" r="5.55"/><circle cx="460.2" cy="1286.0" r="5.55"/><circle cx="452.0" cy="1170.6" r="5.55"/><circle cx="462.1" cy="1277.5" r="5.55"/><circle cx="452.7" cy="1356.1" r="5.55"/><circle cx="456.1" cy="1319.0" r="5.55"/><circle cx="462.0" cy="1274.8" r="5.55"/><circle cx="454.1" cy="1297.7" r="5.55"/><circle cx="458.4" cy="1291.6" r="5.55"/><circle cx="457.3" cy="1320.6" r="5.55"/><circle cx="454.5" cy="1277.0" r="5.55"/><circle cx="459.6" cy="1241.3" r="5.55"/><circle cx="452.9" cy="1302.3" r="5.55"/><circle cx="451.4" cy="1257.1" r="5.55"/><circle cx="454.1" cy="1287.1" r="5.55"/><circle cx="456.5" cy="1352.8" r="5.55"/><circle cx="453.8" cy="1197.7" r="5.55"/><circle cx="460.1" cy="1232.0" r="5.55"/><circle cx="461.1" cy="1327.8" r="5.55"/><circle cx="456.5" cy="1144.4" r="5.55"/><circle cx="452.9" cy="1323.7" r="5.55"/><circle cx="454.5" cy="1351.2" r="5.55"/><circle cx="454.8" cy="1277.9" r="5.55"/><circle cx="452.2" cy="1335.0" r="5.55"/><circle cx="452.4" cy="1261.8" r="5.55"/><circle cx="456.7" cy="1354.4" r="5.55"/><circle cx="455.3" cy="1321.9" r="5.55"/><circle cx="453.0" cy="1251.1" r="5.55"/><circle cx="464.7" cy="1353.2" r="5.55"/><circle cx="466.4" cy="1284.5" r="5.55"/><circle cx="474.5" cy="1285.6" r="5.55"/><circle cx="473.4" cy="1303.1" r="5.55"/><circle cx="470.2" cy="1335.1" r="5.55"/><circle cx="471.2" cy="1276.0" r="5.55"/><circle cx="465.0" cy="1252.7" r="5.55"/><circle cx="463.8" cy="1254.4" r="5.55"/><circle cx="467.5" cy="1221.2" r="5.55"/><circle cx="468.3" cy="1317.2" r="5.55"/><circle cx="471.1" cy="1224.0" r="5.55"/><circle cx="471.8" cy="1353.4" r="5.55"/><circle cx="467.6" cy="1252.1" r="5.55"/><circle cx="472.8" cy="1287.3" r="5.55"/><circle cx="473.7" cy="1198.3" r="5.55"/><circle cx="470.7" cy="1276.9" r="5.55"/><circle cx="474.7" cy="1171.2" r="5.55"/><circle cx="469.2" cy="1232.9" r="5.55"/><circle cx="464.7" cy="1363.4" r="5.55"/><circle cx="465.0" cy="1339.9" r="5.55"/><circle cx="467.1" cy="1292.4" r="5.55"/><circle cx="467.7" cy="1309.2" r="5.55"/><circle cx="464.9" cy="1254.5" r="5.55"/><circle cx="467.8" cy="1324.1" r="5.55"/><circle cx="462.9" cy="1292.0" r="5.55"/><circle cx="465.1" cy="1251.8" r="5.55"/><circle cx="469.0" cy="1313.1" r="5.55"/><circle cx="470.0" cy="1272.3" r="5.55"/><circle cx="473.7" cy="1287.6" r="5.55"/><circle cx="469.1" cy="1239.9" r="5.55"/><circle cx="464.3" cy="1224.6" r="5.55"/><circle cx="468.0" cy="1265.1" r="5.55"/><circle cx="472.2" cy="1251.8" r="5.55"/><circle cx="467.0" cy="1280.2" r="5.55"/><circle cx="466.8" cy="1274.3" r="5.55"/><circle cx="474.0" cy="1275.0" r="5.55"/><circle cx="469.4" cy="1268.2" r="5.55"/><circle cx="464.8" cy="1200.3" r="5.55"/><circle cx="472.3" cy="1316.0" r="5.55"/><circle cx="473.8" cy="1219.4" r="5.55"/><circle cx="464.7" cy="1306.6" r="5.55"/><circle cx="473.1" cy="1307.0" r="5.55"/><circle cx="467.7" cy="1330.9" r="5.55"/><circle cx="472.1" cy="1238.2" r="5.55"/><circle cx="469.4" cy="1277.6" r="5.55"/><circle cx="474.4" cy="1285.8" r="5.55"/><circle cx="465.6" cy="1296.1" r="5.55"/><circle cx="465.1" cy="1284.7" r="5.55"/><circle cx="470.1" cy="1253.0" r="5.55"/><circle cx="473.0" cy="1299.6" r="5.55"/><circle cx="470.8" cy="1314.5" r="5.55"/><circle cx="472.6" cy="1329.3" r="5.55"/><circle cx="471.5" cy="1356.6" r="5.55"/><circle cx="465.1" cy="1306.9" r="5.55"/><circle cx="465.7" cy="1268.2" r="5.55"/><circle cx="467.5" cy="1279.4" r="5.55"/><circle cx="464.3" cy="1188.2" r="5.55"/><circle cx="472.9" cy="1183.6" r="5.55"/><circle cx="470.5" cy="1335.4" r="5.55"/><circle cx="469.9" cy="1284.6" r="5.55"/><circle cx="468.5" cy="1281.6" r="5.55"/><circle cx="465.0" cy="1269.6" r="5.55"/><circle cx="464.9" cy="1249.3" r="5.55"/><circle cx="463.8" cy="1352.0" r="5.55"/><circle cx="473.0" cy="1241.3" r="5.55"/><circle cx="469.0" cy="1295.6" r="5.55"/><circle cx="463.3" cy="1323.3" r="5.55"/><circle cx="464.1" cy="1231.5" r="5.55"/><circle cx="463.9" cy="1257.3" r="5.55"/><circle cx="467.7" cy="1314.5" r="5.55"/><circle cx="472.9" cy="1302.9" r="5.55"/><circle cx="467.9" cy="1265.2" r="5.55"/><circle cx="469.9" cy="1213.5" r="5.55"/><circle cx="464.1" cy="1175.2" r="5.55"/><circle cx="470.4" cy="1237.5" r="5.55"/><circle cx="468.6" cy="1177.1" r="5.55"/><circle cx="467.3" cy="1279.9" r="5.55"/><circle cx="468.5" cy="1282.2" r="5.55"/><circle cx="463.3" cy="1315.9" r="5.55"/><circle cx="474.0" cy="1199.4" r="5.55"/><circle cx="471.6" cy="1341.1" r="5.55"/><circle cx="469.8" cy="1295.3" r="5.55"/><circle cx="473.6" cy="1305.8" r="5.55"/><circle cx="469.6" cy="1196.2" r="5.55"/><circle cx="466.9" cy="1330.3" r="5.55"/><circle cx="471.1" cy="1205.6" r="5.55"/><circle cx="472.1" cy="1268.6" r="5.55"/><circle cx="463.5" cy="1256.2" r="5.55"/><circle cx="466.8" cy="1288.8" r="5.55"/><circle cx="465.3" cy="1326.2" r="5.55"/><circle cx="462.6" cy="1274.7" r="5.55"/><circle cx="473.8" cy="1306.6" r="5.55"/><circle cx="466.1" cy="1313.3" r="5.55"/><circle cx="467.8" cy="1220.4" r="5.55"/><circle cx="473.2" cy="1285.3" r="5.55"/><circle cx="467.8" cy="1276.2" r="5.55"/><circle cx="472.0" cy="1289.3" r="5.55"/><circle cx="470.1" cy="1270.6" r="5.55"/><circle cx="469.5" cy="1266.5" r="5.55"/><circle cx="469.6" cy="1248.5" r="5.55"/><circle cx="472.0" cy="1297.2" r="5.55"/><circle cx="465.0" cy="1251.3" r="5.55"/><circle cx="465.2" cy="1308.1" r="5.55"/><circle cx="467.4" cy="1267.7" r="5.55"/><circle cx="471.8" cy="1275.1" r="5.55"/><circle cx="467.2" cy="1286.9" r="5.55"/><circle cx="465.9" cy="1271.5" r="5.55"/><circle cx="466.8" cy="1319.7" r="5.55"/><circle cx="469.8" cy="1260.5" r="5.55"/><circle cx="466.1" cy="1338.5" r="5.55"/><circle cx="465.3" cy="1308.3" r="5.55"/><circle cx="463.4" cy="1276.8" r="5.55"/><circle cx="468.5" cy="1305.4" r="5.55"/><circle cx="473.1" cy="1312.4" r="5.55"/><circle cx="468.1" cy="1231.1" r="5.55"/><circle cx="465.8" cy="1229.8" r="5.55"/><circle cx="466.8" cy="1330.1" r="5.55"/><circle cx="473.8" cy="1316.9" r="5.55"/><circle cx="473.7" cy="1332.5" r="5.55"/><circle cx="464.0" cy="1288.0" r="5.55"/><circle cx="473.5" cy="1277.8" r="5.55"/><circle cx="472.2" cy="1343.7" r="5.55"/><circle cx="467.5" cy="1310.4" r="5.55"/><circle cx="465.3" cy="1348.9" r="5.55"/><circle cx="474.0" cy="1224.1" r="5.55"/><circle cx="473.7" cy="1275.1" r="5.55"/><circle cx="471.4" cy="1352.3" r="5.55"/><circle cx="467.7" cy="1307.9" r="5.55"/><circle cx="473.2" cy="1302.6" r="5.55"/><circle cx="466.9" cy="1221.9" r="5.55"/><circle cx="465.8" cy="1332.8" r="5.55"/><circle cx="462.8" cy="1327.3" r="5.55"/><circle cx="463.3" cy="1186.2" r="5.55"/><circle cx="470.6" cy="1294.5" r="5.55"/><circle cx="463.8" cy="1278.2" r="5.55"/><circle cx="465.2" cy="1330.9" r="5.55"/><circle cx="466.1" cy="1326.7" r="5.55"/><circle cx="468.5" cy="1328.8" r="5.55"/><circle cx="465.6" cy="1305.2" r="5.55"/><circle cx="472.0" cy="1209.5" r="5.55"/><circle cx="472.3" cy="1291.5" r="5.55"/><circle cx="466.1" cy="1298.5" r="5.55"/><circle cx="469.5" cy="1342.7" r="5.55"/><circle cx="468.9" cy="1355.6" r="5.55"/><circle cx="473.1" cy="1299.0" r="5.55"/><circle cx="466.9" cy="1307.9" r="5.55"/><circle cx="469.5" cy="1291.8" r="5.55"/><circle cx="463.4" cy="1253.4" r="5.55"/><circle cx="472.3" cy="1310.6" r="5.55"/><circle cx="469.9" cy="1281.4" r="5.55"/><circle cx="474.1" cy="1256.3" r="5.55"/><circle cx="474.5" cy="1223.9" r="5.55"/><circle cx="473.8" cy="1296.6" r="5.55"/><circle cx="471.0" cy="1266.7" r="5.55"/><circle cx="471.0" cy="1251.4" r="5.55"/><circle cx="465.9" cy="1370.8" r="5.55"/><circle cx="473.3" cy="1340.9" r="5.55"/><circle cx="473.1" cy="1352.9" r="5.55"/><circle cx="466.0" cy="1310.0" r="5.55"/><circle cx="464.8" cy="1317.0" r="5.55"/><circle cx="470.0" cy="1354.6" r="5.55"/><circle cx="465.3" cy="1316.5" r="5.55"/><circle cx="474.5" cy="1266.6" r="5.55"/><circle cx="474.5" cy="1339.9" r="5.55"/><circle cx="462.8" cy="1333.3" r="5.55"/><circle cx="469.7" cy="1313.4" r="5.55"/><circle cx="473.6" cy="1327.4" r="5.55"/><circle cx="473.3" cy="1258.4" r="5.55"/><circle cx="464.0" cy="1289.3" r="5.55"/><circle cx="464.9" cy="1319.8" r="5.55"/><circle cx="463.2" cy="1352.9" r="5.55"/><circle cx="469.7" cy="1291.8" r="5.55"/><circle cx="472.9" cy="1296.2" r="5.55"/><circle cx="473.0" cy="1312.1" r="5.55"/><circle cx="474.5" cy="1249.6" r="5.55"/><circle cx="472.5" cy="1252.2" r="5.55"/><circle cx="472.8" cy="1338.7" r="5.55"/><circle cx="472.7" cy="1229.3" r="5.55"/><circle cx="465.5" cy="1318.7" r="5.55"/><circle cx="472.0" cy="1353.0" r="5.55"/><circle cx="463.6" cy="1333.6" r="5.55"/><circle cx="474.7" cy="1325.9" r="5.55"/><circle cx="467.4" cy="1320.6" r="5.55"/><circle cx="471.8" cy="1263.5" r="5.55"/><circle cx="464.8" cy="1227.7" r="5.55"/><circle cx="468.5" cy="1318.7" r="5.55"/><circle cx="466.3" cy="1270.3" r="5.55"/><circle cx="464.7" cy="1242.0" r="5.55"/><circle cx="472.7" cy="1238.5" r="5.55"/><circle cx="473.0" cy="1337.9" r="5.55"/><circle cx="463.3" cy="1336.4" r="5.55"/><circle cx="463.7" cy="1266.0" r="5.55"/><circle cx="464.7" cy="1165.3" r="5.55"/><circle cx="473.2" cy="1333.3" r="5.55"/><circle cx="470.2" cy="1244.6" r="5.55"/><circle cx="470.0" cy="1321.3" r="5.55"/><circle cx="467.0" cy="1307.0" r="5.55"/><circle cx="463.2" cy="1244.0" r="5.55"/><circle cx="465.8" cy="1275.7" r="5.55"/><circle cx="465.5" cy="1300.6" r="5.55"/><circle cx="468.3" cy="1292.4" r="5.55"/><circle cx="463.4" cy="1228.1" r="5.55"/><circle cx="472.3" cy="1327.1" r="5.55"/><circle cx="469.7" cy="1189.3" r="5.55"/><circle cx="468.2" cy="1322.1" r="5.55"/><circle cx="473.7" cy="1218.2" r="5.55"/><circle cx="474.4" cy="1170.3" r="5.55"/><circle cx="465.5" cy="1324.7" r="5.55"/><circle cx="465.7" cy="1349.9" r="5.55"/><circle cx="463.7" cy="1287.1" r="5.55"/><circle cx="471.6" cy="1304.9" r="5.55"/><circle cx="471.4" cy="1342.0" r="5.55"/><circle cx="469.1" cy="1311.1" r="5.55"/><circle cx="472.0" cy="1284.5" r="5.55"/><circle cx="471.2" cy="1337.7" r="5.55"/><circle cx="471.4" cy="1259.7" r="5.55"/><circle cx="467.5" cy="1286.6" r="5.55"/><circle cx="471.3" cy="1206.3" r="5.55"/><circle cx="471.3" cy="1271.1" r="5.55"/><circle cx="470.6" cy="1219.0" r="5.55"/><circle cx="467.1" cy="1272.8" r="5.55"/><circle cx="473.7" cy="1312.2" r="5.55"/><circle cx="462.9" cy="1291.5" r="5.55"/><circle cx="467.7" cy="1331.1" r="5.55"/><circle cx="469.9" cy="1304.4" r="5.55"/><circle cx="467.3" cy="1242.9" r="5.55"/><circle cx="465.5" cy="1318.9" r="5.55"/><circle cx="473.1" cy="1278.9" r="5.55"/><circle cx="473.2" cy="1253.1" r="5.55"/><circle cx="464.9" cy="1282.4" r="5.55"/><circle cx="463.4" cy="1313.6" r="5.55"/><circle cx="466.7" cy="1326.0" r="5.55"/><circle cx="472.3" cy="1297.1" r="5.55"/><circle cx="470.0" cy="1334.2" r="5.55"/><circle cx="468.1" cy="1280.2" r="5.55"/><circle cx="469.0" cy="1347.0" r="5.55"/><circle cx="469.4" cy="1299.5" r="5.55"/><circle cx="465.5" cy="1327.7" r="5.55"/><circle cx="466.8" cy="1290.7" r="5.55"/><circle cx="469.3" cy="1204.7" r="5.55"/><circle cx="465.8" cy="1235.6" r="5.55"/><circle cx="468.9" cy="1314.1" r="5.55"/><circle cx="462.9" cy="1293.8" r="5.55"/><circle cx="471.8" cy="1311.1" r="5.55"/><circle cx="464.1" cy="1324.5" r="5.55"/><circle cx="469.7" cy="1330.7" r="5.55"/><circle cx="463.0" cy="1301.4" r="5.55"/><circle cx="471.0" cy="1244.3" r="5.55"/><circle cx="468.9" cy="1322.4" r="5.55"/><circle cx="471.9" cy="1327.5" r="5.55"/><circle cx="470.9" cy="1307.0" r="5.55"/><circle cx="463.8" cy="1330.2" r="5.55"/><circle cx="467.8" cy="1290.3" r="5.55"/><circle cx="467.1" cy="1345.8" r="5.55"/><circle cx="467.5" cy="1278.0" r="5.55"/><circle cx="470.4" cy="1171.9" r="5.55"/><circle cx="471.5" cy="1176.6" r="5.55"/><circle cx="463.4" cy="1293.1" r="5.55"/><circle cx="462.6" cy="1352.5" r="5.55"/><circle cx="470.7" cy="1180.2" r="5.55"/><circle cx="472.6" cy="1311.1" r="5.55"/><circle cx="471.6" cy="1325.6" r="5.55"/><circle cx="473.5" cy="1330.4" r="5.55"/><circle cx="468.6" cy="1232.5" r="5.55"/><circle cx="467.4" cy="1318.0" r="5.55"/><circle cx="465.1" cy="1240.9" r="5.55"/><circle cx="467.8" cy="1199.2" r="5.55"/><circle cx="465.4" cy="1332.0" r="5.55"/><circle cx="467.3" cy="1241.8" r="5.55"/><circle cx="472.4" cy="1257.7" r="5.55"/><circle cx="464.2" cy="1314.6" r="5.55"/><circle cx="463.9" cy="1314.3" r="5.55"/><circle cx="474.6" cy="1277.7" r="5.55"/><circle cx="464.1" cy="1324.0" r="5.55"/><circle cx="463.9" cy="1293.9" r="5.55"/><circle cx="474.1" cy="1300.2" r="5.55"/><circle cx="467.6" cy="1307.7" r="5.55"/><circle cx="467.9" cy="1232.8" r="5.55"/><circle cx="471.5" cy="1247.5" r="5.55"/><circle cx="466.4" cy="1345.4" r="5.55"/><circle cx="471.1" cy="1247.1" r="5.55"/><circle cx="464.2" cy="1322.5" r="5.55"/><circle cx="474.6" cy="1199.2" r="5.55"/><circle cx="474.0" cy="1249.5" r="5.55"/><circle cx="467.2" cy="1264.1" r="5.55"/><circle cx="464.7" cy="1290.4" r="5.55"/><circle cx="469.8" cy="1326.2" r="5.55"/><circle cx="467.9" cy="1290.4" r="5.55"/><circle cx="466.4" cy="1352.4" r="5.55"/><circle cx="464.2" cy="1323.9" r="5.55"/><circle cx="462.8" cy="1359.3" r="5.55"/><circle cx="471.1" cy="1350.0" r="5.55"/><circle cx="463.3" cy="1308.3" r="5.55"/><circle cx="468.4" cy="1168.0" r="5.55"/><circle cx="466.7" cy="1240.4" r="5.55"/><circle cx="472.7" cy="1346.5" r="5.55"/><circle cx="465.3" cy="1172.9" r="5.55"/><circle cx="472.9" cy="1316.5" r="5.55"/><circle cx="471.0" cy="1297.3" r="5.55"/><circle cx="474.1" cy="1358.9" r="5.55"/><circle cx="469.5" cy="1282.4" r="5.55"/><circle cx="470.0" cy="1288.9" r="5.55"/><circle cx="464.2" cy="1194.0" r="5.55"/><circle cx="468.8" cy="1349.0" r="5.55"/><circle cx="462.7" cy="1285.9" r="5.55"/><circle cx="463.1" cy="1225.2" r="5.55"/><circle cx="472.3" cy="1328.8" r="5.55"/><circle cx="466.7" cy="1286.1" r="5.55"/><circle cx="470.9" cy="1257.6" r="5.55"/><circle cx="463.5" cy="1233.9" r="5.55"/><circle cx="470.7" cy="1293.3" r="5.55"/><circle cx="467.0" cy="1264.9" r="5.55"/><circle cx="468.1" cy="1286.1" r="5.55"/><circle cx="470.1" cy="1297.5" r="5.55"/><circle cx="468.3" cy="1228.6" r="5.55"/><circle cx="467.5" cy="1268.5" r="5.55"/><circle cx="470.2" cy="1356.7" r="5.55"/><circle cx="463.8" cy="1331.8" r="5.55"/><circle cx="473.9" cy="1314.1" r="5.55"/><circle cx="473.3" cy="1337.3" r="5.55"/><circle cx="463.8" cy="1346.1" r="5.55"/><circle cx="478.7" cy="1325.8" r="5.55"/><circle cx="480.1" cy="1320.6" r="5.55"/><circle cx="477.7" cy="1288.0" r="5.55"/><circle cx="476.0" cy="1270.3" r="5.55"/><circle cx="476.0" cy="1272.8" r="5.55"/><circle cx="476.6" cy="1321.4" r="5.55"/><circle cx="479.9" cy="1373.7" r="5.55"/><circle cx="474.8" cy="1245.2" r="5.55"/><circle cx="478.8" cy="1323.0" r="5.55"/><circle cx="485.7" cy="1276.9" r="5.55"/><circle cx="486.9" cy="1191.7" r="5.55"/><circle cx="481.4" cy="1269.2" r="5.55"/><circle cx="476.2" cy="1289.1" r="5.55"/><circle cx="485.7" cy="1286.0" r="5.55"/><circle cx="482.1" cy="1273.1" r="5.55"/><circle cx="475.2" cy="1287.0" r="5.55"/><circle cx="481.5" cy="1329.1" r="5.55"/><circle cx="475.2" cy="1186.6" r="5.55"/><circle cx="476.4" cy="1314.8" r="5.55"/><circle cx="477.8" cy="1270.6" r="5.55"/><circle cx="483.4" cy="1325.5" r="5.55"/><circle cx="476.4" cy="1290.6" r="5.55"/><circle cx="486.6" cy="1332.2" r="5.55"/><circle cx="484.5" cy="1248.1" r="5.55"/><circle cx="485.8" cy="1280.9" r="5.55"/><circle cx="476.3" cy="1304.4" r="5.55"/><circle cx="479.7" cy="1299.3" r="5.55"/><circle cx="476.0" cy="1346.7" r="5.55"/><circle cx="478.8" cy="1263.5" r="5.55"/><circle cx="476.0" cy="1336.7" r="5.55"/><circle cx="482.5" cy="1283.9" r="5.55"/><circle cx="486.2" cy="1242.3" r="5.55"/><circle cx="481.3" cy="1273.2" r="5.55"/><circle cx="484.9" cy="1280.6" r="5.55"/><circle cx="478.9" cy="1337.9" r="5.55"/><circle cx="480.3" cy="1300.3" r="5.55"/><circle cx="476.3" cy="1304.4" r="5.55"/><circle cx="486.0" cy="1344.8" r="5.55"/><circle cx="482.2" cy="1325.8" r="5.55"/><circle cx="476.3" cy="1250.7" r="5.55"/><circle cx="475.2" cy="1306.9" r="5.55"/><circle cx="482.0" cy="1273.9" r="5.55"/><circle cx="484.7" cy="1274.9" r="5.55"/><circle cx="486.7" cy="1343.3" r="5.55"/><circle cx="479.1" cy="1295.6" r="5.55"/><circle cx="479.8" cy="1328.3" r="5.55"/><circle cx="476.9" cy="1319.6" r="5.55"/><circle cx="482.1" cy="1249.7" r="5.55"/><circle cx="484.7" cy="1283.9" r="5.55"/><circle cx="482.9" cy="1339.8" r="5.55"/><circle cx="481.3" cy="1334.1" r="5.55"/><circle cx="483.2" cy="1267.7" r="5.55"/><circle cx="482.1" cy="1353.7" r="5.55"/><circle cx="478.8" cy="1313.2" r="5.55"/><circle cx="476.9" cy="1327.1" r="5.55"/><circle cx="477.1" cy="1294.5" r="5.55"/><circle cx="483.5" cy="1319.2" r="5.55"/><circle cx="478.3" cy="1284.1" r="5.55"/><circle cx="477.9" cy="1307.4" r="5.55"/><circle cx="483.5" cy="1320.3" r="5.55"/><circle cx="485.6" cy="1319.4" r="5.55"/><circle cx="480.9" cy="1300.5" r="5.55"/><circle cx="479.8" cy="1317.9" r="5.55"/><circle cx="477.6" cy="1359.0" r="5.55"/><circle cx="481.4" cy="1302.8" r="5.55"/><circle cx="486.5" cy="1286.3" r="5.55"/><circle cx="476.4" cy="1320.5" r="5.55"/><circle cx="483.8" cy="1292.7" r="5.55"/><circle cx="477.1" cy="1347.2" r="5.55"/><circle cx="486.4" cy="1307.5" r="5.55"/><circle cx="484.9" cy="1345.5" r="5.55"/><circle cx="475.3" cy="1274.2" r="5.55"/><circle cx="475.1" cy="1332.5" r="5.55"/><circle cx="475.1" cy="1264.3" r="5.55"/><circle cx="474.9" cy="1199.4" r="5.55"/><circle cx="476.0" cy="1368.8" r="5.55"/><circle cx="486.5" cy="1279.8" r="5.55"/><circle cx="482.0" cy="1240.5" r="5.55"/><circle cx="481.7" cy="1274.5" r="5.55"/><circle cx="482.0" cy="1362.6" r="5.55"/><circle cx="484.5" cy="1230.5" r="5.55"/><circle cx="479.6" cy="1253.3" r="5.55"/><circle cx="476.7" cy="1319.5" r="5.55"/><circle cx="479.6" cy="1311.1" r="5.55"/><circle cx="477.4" cy="1357.7" r="5.55"/><circle cx="480.0" cy="1203.9" r="5.55"/><circle cx="476.5" cy="1229.2" r="5.55"/><circle cx="477.1" cy="1239.8" r="5.55"/><circle cx="483.3" cy="1337.5" r="5.55"/><circle cx="476.4" cy="1277.8" r="5.55"/><circle cx="475.1" cy="1282.9" r="5.55"/><circle cx="480.3" cy="1343.3" r="5.55"/><circle cx="482.1" cy="1267.2" r="5.55"/><circle cx="485.3" cy="1294.5" r="5.55"/><circle cx="485.0" cy="1273.7" r="5.55"/><circle cx="477.4" cy="1311.1" r="5.55"/><circle cx="484.1" cy="1178.5" r="5.55"/><circle cx="479.1" cy="1311.5" r="5.55"/><circle cx="478.5" cy="1301.0" r="5.55"/><circle cx="475.6" cy="1174.8" r="5.55"/><circle cx="486.2" cy="1248.6" r="5.55"/><circle cx="480.2" cy="1312.4" r="5.55"/><circle cx="475.2" cy="1179.6" r="5.55"/><circle cx="478.3" cy="1353.0" r="5.55"/><circle cx="481.6" cy="1293.4" r="5.55"/><circle cx="481.5" cy="1345.5" r="5.55"/><circle cx="485.3" cy="1279.5" r="5.55"/><circle cx="483.3" cy="1290.2" r="5.55"/><circle cx="486.5" cy="1183.2" r="5.55"/><circle cx="476.0" cy="1275.9" r="5.55"/><circle cx="485.0" cy="1179.5" r="5.55"/><circle cx="475.5" cy="1227.2" r="5.55"/><circle cx="477.7" cy="1332.0" r="5.55"/><circle cx="479.7" cy="1274.8" r="5.55"/><circle cx="479.3" cy="1305.7" r="5.55"/><circle cx="483.6" cy="1270.3" r="5.55"/><circle cx="475.6" cy="1270.0" r="5.55"/><circle cx="477.3" cy="1305.6" r="5.55"/><circle cx="475.4" cy="1223.3" r="5.55"/><circle cx="480.5" cy="1258.7" r="5.55"/><circle cx="484.5" cy="1337.7" r="5.55"/><circle cx="484.0" cy="1259.8" r="5.55"/><circle cx="486.4" cy="1304.0" r="5.55"/><circle cx="486.7" cy="1298.9" r="5.55"/><circle cx="481.6" cy="1293.6" r="5.55"/><circle cx="486.3" cy="1229.7" r="5.55"/><circle cx="477.5" cy="1336.7" r="5.55"/><circle cx="478.3" cy="1284.6" r="5.55"/><circle cx="484.4" cy="1318.3" r="5.55"/><circle cx="475.2" cy="1306.6" r="5.55"/><circle cx="476.4" cy="1335.9" r="5.55"/><circle cx="477.5" cy="1243.7" r="5.55"/><circle cx="486.3" cy="1290.5" r="5.55"/><circle cx="485.0" cy="1311.1" r="5.55"/><circle cx="486.2" cy="1291.9" r="5.55"/><circle cx="484.0" cy="1248.8" r="5.55"/><circle cx="485.0" cy="1300.4" r="5.55"/><circle cx="486.2" cy="1354.2" r="5.55"/><circle cx="478.7" cy="1362.4" r="5.55"/><circle cx="480.7" cy="1323.1" r="5.55"/><circle cx="482.1" cy="1200.4" r="5.55"/><circle cx="476.9" cy="1333.7" r="5.55"/><circle cx="484.1" cy="1300.6" r="5.55"/><circle cx="475.8" cy="1262.4" r="5.55"/><circle cx="482.0" cy="1259.6" r="5.55"/><circle cx="481.4" cy="1312.1" r="5.55"/><circle cx="477.4" cy="1313.6" r="5.55"/><circle cx="479.0" cy="1276.4" r="5.55"/><circle cx="486.7" cy="1308.2" r="5.55"/><circle cx="486.6" cy="1204.6" r="5.55"/><circle cx="484.3" cy="1306.4" r="5.55"/><circle cx="485.1" cy="1337.5" r="5.55"/><circle cx="474.9" cy="1305.9" r="5.55"/><circle cx="477.1" cy="1246.8" r="5.55"/><circle cx="479.8" cy="1317.4" r="5.55"/><circle cx="478.7" cy="1150.0" r="5.55"/><circle cx="475.2" cy="1348.3" r="5.55"/><circle cx="477.9" cy="1314.5" r="5.55"/><circle cx="482.8" cy="1188.6" r="5.55"/><circle cx="484.0" cy="1319.1" r="5.55"/><circle cx="475.5" cy="1272.5" r="5.55"/><circle cx="478.1" cy="1354.7" r="5.55"/><circle cx="484.5" cy="1291.8" r="5.55"/><circle cx="482.8" cy="1344.2" r="5.55"/><circle cx="481.9" cy="1229.7" r="5.55"/><circle cx="481.0" cy="1244.5" r="5.55"/><circle cx="476.4" cy="1246.7" r="5.55"/><circle cx="485.0" cy="1314.2" r="5.55"/><circle cx="484.7" cy="1267.3" r="5.55"/><circle cx="481.3" cy="1279.2" r="5.55"/><circle cx="485.7" cy="1301.4" r="5.55"/><circle cx="475.4" cy="1325.7" r="5.55"/><circle cx="480.5" cy="1321.5" r="5.55"/><circle cx="475.0" cy="1289.3" r="5.55"/><circle cx="476.7" cy="1293.1" r="5.55"/><circle cx="479.3" cy="1244.7" r="5.55"/><circle cx="484.7" cy="1346.7" r="5.55"/><circle cx="477.9" cy="1298.3" r="5.55"/><circle cx="475.4" cy="1350.3" r="5.55"/><circle cx="482.0" cy="1340.8" r="5.55"/><circle cx="479.0" cy="1261.3" r="5.55"/><circle cx="479.1" cy="1281.0" r="5.55"/><circle cx="478.4" cy="1352.8" r="5.55"/><circle cx="483.0" cy="1228.6" r="5.55"/><circle cx="485.1" cy="1292.6" r="5.55"/><circle cx="475.0" cy="1251.3" r="5.55"/><circle cx="477.0" cy="1288.4" r="5.55"/><circle cx="481.1" cy="1233.7" r="5.55"/><circle cx="479.8" cy="1299.9" r="5.55"/><circle cx="481.9" cy="1210.1" r="5.55"/><circle cx="477.8" cy="1321.1" r="5.55"/><circle cx="480.6" cy="1307.0" r="5.55"/><circle cx="485.3" cy="1277.8" r="5.55"/><circle cx="484.9" cy="1330.8" r="5.55"/><circle cx="481.0" cy="1182.3" r="5.55"/><circle cx="479.8" cy="1247.7" r="5.55"/><circle cx="481.7" cy="1183.2" r="5.55"/><circle cx="479.0" cy="1284.8" r="5.55"/><circle cx="475.2" cy="1287.9" r="5.55"/><circle cx="476.1" cy="1352.0" r="5.55"/><circle cx="479.2" cy="1326.4" r="5.55"/><circle cx="476.8" cy="1364.1" r="5.55"/><circle cx="480.6" cy="1356.6" r="5.55"/><circle cx="476.6" cy="1269.9" r="5.55"/><circle cx="483.9" cy="1225.6" r="5.55"/><circle cx="482.2" cy="1350.1" r="5.55"/><circle cx="480.2" cy="1334.2" r="5.55"/><circle cx="486.2" cy="1347.6" r="5.55"/><circle cx="478.3" cy="1377.1" r="5.55"/><circle cx="477.2" cy="1214.1" r="5.55"/><circle cx="482.9" cy="1302.0" r="5.55"/><circle cx="485.6" cy="1320.2" r="5.55"/><circle cx="475.8" cy="1159.7" r="5.55"/><circle cx="483.4" cy="1278.7" r="5.55"/><circle cx="482.1" cy="1203.9" r="5.55"/><circle cx="484.3" cy="1235.2" r="5.55"/><circle cx="484.1" cy="1265.3" r="5.55"/><circle cx="475.3" cy="1320.0" r="5.55"/><circle cx="474.7" cy="1258.0" r="5.55"/><circle cx="480.2" cy="1301.4" r="5.55"/><circle cx="481.0" cy="1228.1" r="5.55"/><circle cx="479.3" cy="1317.2" r="5.55"/><circle cx="477.7" cy="1315.4" r="5.55"/><circle cx="477.4" cy="1283.3" r="5.55"/><circle cx="475.1" cy="1329.4" r="5.55"/><circle cx="481.7" cy="1300.6" r="5.55"/><circle cx="477.6" cy="1342.6" r="5.55"/><circle cx="478.2" cy="1321.7" r="5.55"/><circle cx="483.7" cy="1232.0" r="5.55"/><circle cx="481.1" cy="1346.6" r="5.55"/><circle cx="478.0" cy="1346.0" r="5.55"/><circle cx="480.7" cy="1252.3" r="5.55"/><circle cx="484.0" cy="1351.5" r="5.55"/><circle cx="478.3" cy="1202.5" r="5.55"/><circle cx="485.6" cy="1230.1" r="5.55"/><circle cx="483.4" cy="1266.1" r="5.55"/><circle cx="479.8" cy="1312.8" r="5.55"/><circle cx="480.8" cy="1257.8" r="5.55"/><circle cx="478.7" cy="1275.3" r="5.55"/><circle cx="476.4" cy="1313.7" r="5.55"/><circle cx="479.4" cy="1263.6" r="5.55"/><circle cx="477.6" cy="1332.5" r="5.55"/><circle cx="482.8" cy="1268.6" r="5.55"/><circle cx="482.7" cy="1258.0" r="5.55"/><circle cx="486.6" cy="1293.8" r="5.55"/><circle cx="476.0" cy="1324.3" r="5.55"/><circle cx="476.4" cy="1287.8" r="5.55"/><circle cx="487.3" cy="1349.9" r="5.55"/><circle cx="493.6" cy="1357.4" r="5.55"/><circle cx="492.5" cy="1310.9" r="5.55"/><circle cx="496.7" cy="1258.7" r="5.55"/><circle cx="493.3" cy="1244.5" r="5.55"/><circle cx="493.5" cy="1205.0" r="5.55"/><circle cx="489.8" cy="1263.2" r="5.55"/><circle cx="498.5" cy="1250.7" r="5.55"/><circle cx="487.8" cy="1267.1" r="5.55"/><circle cx="489.1" cy="1290.4" r="5.55"/><circle cx="496.3" cy="1184.4" r="5.55"/><circle cx="494.1" cy="1303.9" r="5.55"/><circle cx="492.7" cy="1272.2" r="5.55"/><circle cx="499.0" cy="1284.5" r="5.55"/><circle cx="496.7" cy="1327.2" r="5.55"/><circle cx="487.1" cy="1277.4" r="5.55"/><circle cx="487.4" cy="1327.6" r="5.55"/><circle cx="494.9" cy="1314.5" r="5.55"/><circle cx="488.2" cy="1339.2" r="5.55"/><circle cx="494.9" cy="1337.9" r="5.55"/><circle cx="490.3" cy="1259.9" r="5.55"/><circle cx="497.7" cy="1272.3" r="5.55"/><circle cx="497.2" cy="1184.6" r="5.55"/><circle cx="490.5" cy="1292.4" r="5.55"/><circle cx="488.9" cy="1355.1" r="5.55"/><circle cx="495.9" cy="1283.0" r="5.55"/><circle cx="495.3" cy="1288.4" r="5.55"/><circle cx="487.2" cy="1289.0" r="5.55"/><circle cx="494.2" cy="1238.7" r="5.55"/><circle cx="497.6" cy="1276.6" r="5.55"/><circle cx="493.3" cy="1261.2" r="5.55"/><circle cx="496.9" cy="1313.6" r="5.55"/><circle cx="497.0" cy="1187.8" r="5.55"/><circle cx="491.8" cy="1303.9" r="5.55"/><circle cx="494.7" cy="1265.8" r="5.55"/><circle cx="497.4" cy="1302.5" r="5.55"/><circle cx="493.2" cy="1220.4" r="5.55"/><circle cx="489.3" cy="1226.5" r="5.55"/><circle cx="494.0" cy="1261.6" r="5.55"/><circle cx="490.2" cy="1244.7" r="5.55"/><circle cx="487.9" cy="1288.0" r="5.55"/><circle cx="488.0" cy="1324.4" r="5.55"/><circle cx="493.4" cy="1303.3" r="5.55"/><circle cx="488.0" cy="1272.8" r="5.55"/><circle cx="491.0" cy="1329.3" r="5.55"/><circle cx="497.9" cy="1360.4" r="5.55"/><circle cx="494.8" cy="1293.5" r="5.55"/><circle cx="492.2" cy="1178.5" r="5.55"/><circle cx="496.5" cy="1282.5" r="5.55"/><circle cx="493.4" cy="1176.9" r="5.55"/><circle cx="489.4" cy="1279.8" r="5.55"/><circle cx="498.4" cy="1297.3" r="5.55"/><circle cx="493.3" cy="1314.8" r="5.55"/><circle cx="496.3" cy="1256.0" r="5.55"/><circle cx="487.3" cy="1263.4" r="5.55"/><circle cx="492.2" cy="1218.1" r="5.55"/><circle cx="489.3" cy="1246.2" r="5.55"/><circle cx="489.6" cy="1322.9" r="5.55"/><circle cx="493.4" cy="1260.8" r="5.55"/><circle cx="493.5" cy="1260.4" r="5.55"/><circle cx="490.1" cy="1315.7" r="5.55"/><circle cx="495.0" cy="1351.5" r="5.55"/><circle cx="498.7" cy="1299.0" r="5.55"/><circle cx="493.8" cy="1256.5" r="5.55"/><circle cx="494.3" cy="1261.7" r="5.55"/><circle cx="488.6" cy="1351.6" r="5.55"/><circle cx="489.5" cy="1350.8" r="5.55"/><circle cx="489.8" cy="1337.6" r="5.55"/><circle cx="488.3" cy="1279.5" r="5.55"/><circle cx="490.5" cy="1224.4" r="5.55"/><circle cx="495.0" cy="1277.6" r="5.55"/><circle cx="493.4" cy="1285.1" r="5.55"/><circle cx="495.8" cy="1276.7" r="5.55"/><circle cx="497.6" cy="1345.9" r="5.55"/><circle cx="497.6" cy="1295.8" r="5.55"/><circle cx="495.3" cy="1189.0" r="5.55"/><circle cx="489.2" cy="1330.4" r="5.55"/><circle cx="489.1" cy="1324.6" r="5.55"/><circle cx="497.9" cy="1327.2" r="5.55"/><circle cx="487.4" cy="1245.6" r="5.55"/><circle cx="491.8" cy="1313.2" r="5.55"/><circle cx="498.0" cy="1201.4" r="5.55"/><circle cx="493.3" cy="1298.3" r="5.55"/><circle cx="497.7" cy="1329.6" r="5.55"/><circle cx="497.6" cy="1343.3" r="5.55"/><circle cx="489.6" cy="1263.3" r="5.55"/><circle cx="488.9" cy="1177.8" r="5.55"/><circle cx="498.3" cy="1310.7" r="5.55"/><circle cx="495.3" cy="1327.3" r="5.55"/><circle cx="488.4" cy="1295.5" r="5.55"/><circle cx="494.0" cy="1316.4" r="5.55"/><circle cx="495.5" cy="1295.0" r="5.55"/><circle cx="492.7" cy="1318.1" r="5.55"/><circle cx="495.8" cy="1304.9" r="5.55"/><circle cx="497.5" cy="1292.6" r="5.55"/><circle cx="494.4" cy="1312.6" r="5.55"/><circle cx="497.1" cy="1321.0" r="5.55"/><circle cx="497.9" cy="1259.9" r="5.55"/><circle cx="489.2" cy="1294.2" r="5.55"/><circle cx="487.5" cy="1349.8" r="5.55"/><circle cx="488.9" cy="1285.9" r="5.55"/><circle cx="498.3" cy="1316.5" r="5.55"/><circle cx="493.2" cy="1292.3" r="5.55"/><circle cx="495.6" cy="1215.3" r="5.55"/><circle cx="495.1" cy="1338.8" r="5.55"/><circle cx="493.7" cy="1379.7" r="5.55"/><circle cx="490.2" cy="1261.5" r="5.55"/><circle cx="490.8" cy="1300.8" r="5.55"/><circle cx="498.3" cy="1265.9" r="5.55"/><circle cx="491.3" cy="1305.7" r="5.55"/><circle cx="494.0" cy="1325.6" r="5.55"/><circle cx="487.6" cy="1306.7" r="5.55"/><circle cx="498.3" cy="1240.2" r="5.55"/><circle cx="494.7" cy="1334.1" r="5.55"/><circle cx="497.8" cy="1312.0" r="5.55"/><circle cx="497.0" cy="1324.4" r="5.55"/><circle cx="489.7" cy="1255.5" r="5.55"/><circle cx="496.6" cy="1210.6" r="5.55"/><circle cx="496.2" cy="1252.2" r="5.55"/><circle cx="494.9" cy="1246.8" r="5.55"/><circle cx="497.8" cy="1326.9" r="5.55"/><circle cx="487.6" cy="1285.7" r="5.55"/><circle cx="488.2" cy="1215.3" r="5.55"/><circle cx="492.4" cy="1288.9" r="5.55"/><circle cx="490.9" cy="1239.9" r="5.55"/><circle cx="495.1" cy="1278.7" r="5.55"/><circle cx="495.7" cy="1346.8" r="5.55"/><circle cx="491.6" cy="1289.4" r="5.55"/><circle cx="488.6" cy="1314.0" r="5.55"/><circle cx="487.9" cy="1236.6" r="5.55"/><circle cx="489.3" cy="1278.3" r="5.55"/><circle cx="491.7" cy="1264.6" r="5.55"/><circle cx="487.3" cy="1286.8" r="5.55"/><circle cx="489.4" cy="1325.5" r="5.55"/><circle cx="491.4" cy="1244.1" r="5.55"/><circle cx="489.9" cy="1166.2" r="5.55"/><circle cx="488.2" cy="1265.5" r="5.55"/><circle cx="491.0" cy="1265.5" r="5.55"/><circle cx="487.4" cy="1344.1" r="5.55"/><circle cx="493.1" cy="1309.0" r="5.55"/><circle cx="493.5" cy="1329.4" r="5.55"/><circle cx="496.2" cy="1264.0" r="5.55"/><circle cx="492.0" cy="1203.9" r="5.55"/><circle cx="495.3" cy="1312.8" r="5.55"/><circle cx="498.5" cy="1270.6" r="5.55"/><circle cx="495.3" cy="1270.7" r="5.55"/><circle cx="493.1" cy="1178.7" r="5.55"/><circle cx="487.8" cy="1325.1" r="5.55"/><circle cx="490.3" cy="1316.6" r="5.55"/><circle cx="497.0" cy="1306.0" r="5.55"/><circle cx="494.1" cy="1248.8" r="5.55"/><circle cx="490.9" cy="1299.1" r="5.55"/><circle cx="492.2" cy="1328.8" r="5.55"/><circle cx="488.8" cy="1309.8" r="5.55"/><circle cx="488.2" cy="1277.2" r="5.55"/><circle cx="488.1" cy="1256.0" r="5.55"/><circle cx="490.8" cy="1260.5" r="5.55"/><circle cx="493.8" cy="1274.9" r="5.55"/><circle cx="492.5" cy="1267.9" r="5.55"/><circle cx="491.7" cy="1306.5" r="5.55"/><circle cx="493.5" cy="1332.6" r="5.55"/><circle cx="493.3" cy="1357.6" r="5.55"/><circle cx="489.6" cy="1340.2" r="5.55"/><circle cx="492.6" cy="1239.7" r="5.55"/><circle cx="494.1" cy="1353.6" r="5.55"/><circle cx="491.6" cy="1294.4" r="5.55"/><circle cx="496.8" cy="1305.6" r="5.55"/><circle cx="494.4" cy="1307.7" r="5.55"/><circle cx="492.2" cy="1209.9" r="5.55"/><circle cx="491.0" cy="1287.5" r="5.55"/><circle cx="488.0" cy="1283.1" r="5.55"/><circle cx="489.6" cy="1364.3" r="5.55"/><circle cx="492.6" cy="1249.6" r="5.55"/><circle cx="492.8" cy="1200.4" r="5.55"/><circle cx="494.7" cy="1329.2" r="5.55"/><circle cx="496.3" cy="1246.6" r="5.55"/><circle cx="491.9" cy="1330.4" r="5.55"/><circle cx="495.7" cy="1288.5" r="5.55"/><circle cx="494.1" cy="1169.6" r="5.55"/><circle cx="492.8" cy="1373.7" r="5.55"/><circle cx="491.2" cy="1278.2" r="5.55"/><circle cx="497.5" cy="1300.7" r="5.55"/><circle cx="497.8" cy="1318.0" r="5.55"/><circle cx="490.9" cy="1361.3" r="5.55"/><circle cx="497.5" cy="1323.6" r="5.55"/><circle cx="490.5" cy="1335.5" r="5.55"/><circle cx="489.8" cy="1343.4" r="5.55"/><circle cx="493.2" cy="1316.8" r="5.55"/><circle cx="491.7" cy="1310.9" r="5.55"/><circle cx="488.7" cy="1305.3" r="5.55"/><circle cx="492.2" cy="1330.2" r="5.55"/><circle cx="490.1" cy="1239.0" r="5.55"/><circle cx="496.5" cy="1203.0" r="5.55"/><circle cx="494.2" cy="1310.5" r="5.55"/><circle cx="490.5" cy="1295.8" r="5.55"/><circle cx="493.2" cy="1240.9" r="5.55"/><circle cx="494.4" cy="1227.8" r="5.55"/><circle cx="492.6" cy="1313.9" r="5.55"/><circle cx="490.7" cy="1291.9" r="5.55"/><circle cx="495.7" cy="1325.3" r="5.55"/><circle cx="490.8" cy="1252.0" r="5.55"/><circle cx="491.0" cy="1270.7" r="5.55"/><circle cx="488.3" cy="1341.6" r="5.55"/><circle cx="495.3" cy="1313.0" r="5.55"/><circle cx="487.0" cy="1289.9" r="5.55"/><circle cx="494.8" cy="1228.3" r="5.55"/><circle cx="489.1" cy="1302.4" r="5.55"/><circle cx="492.6" cy="1192.3" r="5.55"/><circle cx="488.5" cy="1343.6" r="5.55"/><circle cx="488.7" cy="1317.0" r="5.55"/><circle cx="495.7" cy="1348.4" r="5.55"/><circle cx="494.6" cy="1181.8" r="5.55"/><circle cx="490.5" cy="1274.7" r="5.55"/><circle cx="491.2" cy="1265.8" r="5.55"/><circle cx="494.5" cy="1330.8" r="5.55"/><circle cx="490.0" cy="1319.9" r="5.55"/><circle cx="492.2" cy="1343.9" r="5.55"/><circle cx="493.2" cy="1312.0" r="5.55"/><circle cx="494.6" cy="1334.8" r="5.55"/><circle cx="493.5" cy="1312.9" r="5.55"/><circle cx="488.3" cy="1342.3" r="5.55"/><circle cx="490.0" cy="1293.0" r="5.55"/><circle cx="493.0" cy="1279.5" r="5.55"/><circle cx="493.9" cy="1283.7" r="5.55"/><circle cx="494.3" cy="1310.1" r="5.55"/><circle cx="491.7" cy="1291.1" r="5.55"/><circle cx="493.0" cy="1304.5" r="5.55"/><circle cx="492.2" cy="1307.5" r="5.55"/><circle cx="490.3" cy="1295.8" r="5.55"/><circle cx="497.2" cy="1348.5" r="5.55"/><circle cx="491.5" cy="1288.7" r="5.55"/><circle cx="488.8" cy="1302.5" r="5.55"/><circle cx="497.5" cy="1228.4" r="5.55"/><circle cx="489.1" cy="1289.7" r="5.55"/><circle cx="496.9" cy="1310.3" r="5.55"/><circle cx="496.0" cy="1213.4" r="5.55"/><circle cx="493.8" cy="1306.9" r="5.55"/><circle cx="487.0" cy="1195.0" r="5.55"/><circle cx="488.5" cy="1345.7" r="5.55"/><circle cx="494.5" cy="1211.6" r="5.55"/><circle cx="495.1" cy="1278.3" r="5.55"/><circle cx="491.4" cy="1274.4" r="5.55"/><circle cx="486.9" cy="1329.8" r="5.55"/><circle cx="490.8" cy="1289.1" r="5.55"/><circle cx="493.8" cy="1282.9" r="5.55"/><circle cx="495.5" cy="1192.9" r="5.55"/><circle cx="490.5" cy="1312.5" r="5.55"/><circle cx="497.3" cy="1300.5" r="5.55"/><circle cx="490.9" cy="1246.7" r="5.55"/><circle cx="495.6" cy="1256.8" r="5.55"/><circle cx="496.7" cy="1181.1" r="5.55"/><circle cx="487.3" cy="1275.8" r="5.55"/><circle cx="495.7" cy="1262.8" r="5.55"/><circle cx="509.4" cy="1305.9" r="5.55"/><circle cx="499.3" cy="1307.8" r="5.55"/><circle cx="505.6" cy="1259.2" r="5.55"/><circle cx="510.0" cy="1260.6" r="5.55"/><circle cx="505.5" cy="1281.6" r="5.55"/><circle cx="501.4" cy="1273.0" r="5.55"/><circle cx="505.3" cy="1212.5" r="5.55"/><circle cx="506.8" cy="1325.7" r="5.55"/><circle cx="510.6" cy="1311.4" r="5.55"/><circle cx="500.9" cy="1329.1" r="5.55"/><circle cx="500.2" cy="1290.3" r="5.55"/><circle cx="502.8" cy="1238.9" r="5.55"/><circle cx="504.4" cy="1223.5" r="5.55"/><circle cx="502.4" cy="1235.8" r="5.55"/><circle cx="510.2" cy="1158.6" r="5.55"/><circle cx="509.9" cy="1270.5" r="5.55"/><circle cx="506.2" cy="1311.2" r="5.55"/><circle cx="502.1" cy="1260.9" r="5.55"/><circle cx="507.1" cy="1263.5" r="5.55"/><circle cx="509.1" cy="1278.2" r="5.55"/><circle cx="506.1" cy="1355.8" r="5.55"/><circle cx="507.9" cy="1303.6" r="5.55"/><circle cx="502.3" cy="1308.1" r="5.55"/><circle cx="504.8" cy="1346.2" r="5.55"/><circle cx="500.7" cy="1268.8" r="5.55"/><circle cx="506.3" cy="1229.5" r="5.55"/><circle cx="510.5" cy="1335.0" r="5.55"/><circle cx="503.0" cy="1295.1" r="5.55"/><circle cx="509.1" cy="1272.2" r="5.55"/><circle cx="509.1" cy="1242.1" r="5.55"/><circle cx="505.5" cy="1247.0" r="5.55"/><circle cx="507.9" cy="1204.4" r="5.55"/><circle cx="506.8" cy="1245.7" r="5.55"/><circle cx="499.6" cy="1315.9" r="5.55"/><circle cx="507.0" cy="1324.8" r="5.55"/><circle cx="509.3" cy="1276.1" r="5.55"/><circle cx="503.6" cy="1250.3" r="5.55"/><circle cx="505.4" cy="1274.0" r="5.55"/><circle cx="499.5" cy="1236.5" r="5.55"/><circle cx="501.3" cy="1272.6" r="5.55"/><circle cx="503.5" cy="1310.0" r="5.55"/><circle cx="510.9" cy="1325.5" r="5.55"/><circle cx="500.0" cy="1307.3" r="5.55"/><circle cx="504.4" cy="1307.2" r="5.55"/><circle cx="504.4" cy="1254.1" r="5.55"/><circle cx="509.8" cy="1259.4" r="5.55"/><circle cx="500.9" cy="1219.1" r="5.55"/><circle cx="508.4" cy="1227.7" r="5.55"/><circle cx="502.6" cy="1282.6" r="5.55"/><circle cx="509.5" cy="1312.4" r="5.55"/><circle cx="507.2" cy="1177.7" r="5.55"/><circle cx="502.7" cy="1296.5" r="5.55"/><circle cx="510.9" cy="1185.5" r="5.55"/><circle cx="502.4" cy="1314.8" r="5.55"/><circle cx="504.3" cy="1264.2" r="5.55"/><circle cx="504.7" cy="1313.4" r="5.55"/><circle cx="499.3" cy="1269.4" r="5.55"/><circle cx="508.0" cy="1298.1" r="5.55"/><circle cx="499.1" cy="1301.9" r="5.55"/><circle cx="503.9" cy="1249.7" r="5.55"/><circle cx="500.8" cy="1306.4" r="5.55"/><circle cx="510.9" cy="1338.0" r="5.55"/><circle cx="509.8" cy="1348.7" r="5.55"/><circle cx="503.9" cy="1303.4" r="5.55"/><circle cx="505.9" cy="1268.6" r="5.55"/><circle cx="505.2" cy="1307.9" r="5.55"/><circle cx="505.8" cy="1299.7" r="5.55"/><circle cx="500.6" cy="1325.0" r="5.55"/><circle cx="510.3" cy="1331.7" r="5.55"/><circle cx="511.2" cy="1317.8" r="5.55"/><circle cx="499.9" cy="1268.4" r="5.55"/><circle cx="507.4" cy="1293.3" r="5.55"/><circle cx="503.1" cy="1239.4" r="5.55"/><circle cx="508.8" cy="1307.1" r="5.55"/><circle cx="499.2" cy="1247.7" r="5.55"/><circle cx="508.5" cy="1277.0" r="5.55"/><circle cx="503.8" cy="1253.9" r="5.55"/><circle cx="503.8" cy="1224.0" r="5.55"/><circle cx="506.6" cy="1299.3" r="5.55"/><circle cx="507.8" cy="1330.4" r="5.55"/><circle cx="504.0" cy="1266.7" r="5.55"/><circle cx="506.0" cy="1311.9" r="5.55"/><circle cx="510.5" cy="1307.6" r="5.55"/><circle cx="501.6" cy="1316.3" r="5.55"/><circle cx="499.1" cy="1316.3" r="5.55"/><circle cx="510.6" cy="1259.0" r="5.55"/><circle cx="507.4" cy="1280.8" r="5.55"/><circle cx="501.1" cy="1312.2" r="5.55"/><circle cx="509.9" cy="1306.6" r="5.55"/><circle cx="509.5" cy="1305.1" r="5.55"/><circle cx="503.7" cy="1349.3" r="5.55"/><circle cx="510.5" cy="1227.2" r="5.55"/><circle cx="509.2" cy="1231.5" r="5.55"/><circle cx="508.6" cy="1232.7" r="5.55"/><circle cx="507.1" cy="1238.1" r="5.55"/><circle cx="503.9" cy="1236.7" r="5.55"/><circle cx="499.5" cy="1298.5" r="5.55"/><circle cx="508.5" cy="1248.7" r="5.55"/><circle cx="502.5" cy="1315.7" r="5.55"/><circle cx="502.0" cy="1236.8" r="5.55"/><circle cx="499.4" cy="1263.7" r="5.55"/><circle cx="504.7" cy="1328.9" r="5.55"/><circle cx="502.4" cy="1219.9" r="5.55"/><circle cx="499.1" cy="1341.8" r="5.55"/><circle cx="508.0" cy="1238.2" r="5.55"/><circle cx="501.0" cy="1183.5" r="5.55"/><circle cx="507.4" cy="1326.3" r="5.55"/><circle cx="501.4" cy="1163.6" r="5.55"/><circle cx="504.6" cy="1306.6" r="5.55"/><circle cx="507.7" cy="1186.2" r="5.55"/><circle cx="507.7" cy="1254.6" r="5.55"/><circle cx="510.4" cy="1291.7" r="5.55"/><circle cx="499.1" cy="1327.0" r="5.55"/><circle cx="499.6" cy="1290.1" r="5.55"/><circle cx="503.2" cy="1281.7" r="5.55"/><circle cx="508.4" cy="1242.4" r="5.55"/><circle cx="505.8" cy="1276.7" r="5.55"/><circle cx="508.2" cy="1209.7" r="5.55"/><circle cx="504.8" cy="1279.8" r="5.55"/><circle cx="508.7" cy="1311.5" r="5.55"/><circle cx="503.8" cy="1176.3" r="5.55"/><circle cx="511.2" cy="1310.2" r="5.55"/><circle cx="511.1" cy="1313.7" r="5.55"/><circle cx="500.9" cy="1349.3" r="5.55"/><circle cx="501.6" cy="1254.7" r="5.55"/><circle cx="501.8" cy="1229.0" r="5.55"/><circle cx="504.4" cy="1292.0" r="5.55"/><circle cx="505.4" cy="1252.7" r="5.55"/><circle cx="505.4" cy="1255.4" r="5.55"/><circle cx="509.8" cy="1163.5" r="5.55"/><circle cx="505.4" cy="1348.4" r="5.55"/><circle cx="504.4" cy="1310.6" r="5.55"/><circle cx="508.7" cy="1300.7" r="5.55"/><circle cx="508.7" cy="1292.1" r="5.55"/><circle cx="510.5" cy="1290.6" r="5.55"/><circle cx="505.3" cy="1303.8" r="5.55"/><circle cx="501.4" cy="1240.8" r="5.55"/><circle cx="510.6" cy="1225.1" r="5.55"/><circle cx="502.0" cy="1339.6" r="5.55"/><circle cx="505.1" cy="1254.0" r="5.55"/><circle cx="506.6" cy="1331.6" r="5.55"/><circle cx="500.6" cy="1185.7" r="5.55"/><circle cx="505.2" cy="1242.7" r="5.55"/><circle cx="505.4" cy="1324.2" r="5.55"/><circle cx="510.8" cy="1319.1" r="5.55"/><circle cx="499.6" cy="1282.5" r="5.55"/><circle cx="501.4" cy="1291.2" r="5.55"/><circle cx="499.1" cy="1275.6" r="5.55"/><circle cx="509.6" cy="1123.4" r="5.55"/><circle cx="500.5" cy="1292.8" r="5.55"/><circle cx="501.4" cy="1341.6" r="5.55"/><circle cx="504.3" cy="1318.7" r="5.55"/><circle cx="504.9" cy="1246.8" r="5.55"/><circle cx="499.2" cy="1288.0" r="5.55"/><circle cx="507.0" cy="1148.9" r="5.55"/><circle cx="503.1" cy="1319.0" r="5.55"/><circle cx="500.1" cy="1338.0" r="5.55"/><circle cx="506.1" cy="1302.9" r="5.55"/><circle cx="500.3" cy="1294.4" r="5.55"/><circle cx="501.6" cy="1198.7" r="5.55"/><circle cx="501.0" cy="1334.5" r="5.55"/><circle cx="500.9" cy="1210.9" r="5.55"/><circle cx="508.1" cy="1326.0" r="5.55"/><circle cx="509.7" cy="1253.4" r="5.55"/><circle cx="507.7" cy="1213.5" r="5.55"/><circle cx="509.0" cy="1247.8" r="5.55"/><circle cx="502.7" cy="1266.1" r="5.55"/><circle cx="504.3" cy="1246.2" r="5.55"/><circle cx="506.6" cy="1258.1" r="5.55"/><circle cx="511.2" cy="1242.8" r="5.55"/><circle cx="509.5" cy="1299.9" r="5.55"/><circle cx="504.6" cy="1244.4" r="5.55"/><circle cx="500.5" cy="1292.3" r="5.55"/><circle cx="507.3" cy="1271.5" r="5.55"/><circle cx="507.3" cy="1288.6" r="5.55"/><circle cx="504.0" cy="1343.1" r="5.55"/><circle cx="503.3" cy="1308.8" r="5.55"/><circle cx="503.4" cy="1343.6" r="5.55"/><circle cx="511.1" cy="1197.2" r="5.55"/><circle cx="501.8" cy="1265.3" r="5.55"/><circle cx="499.1" cy="1297.9" r="5.55"/><circle cx="510.8" cy="1327.3" r="5.55"/><circle cx="499.4" cy="1293.8" r="5.55"/><circle cx="503.2" cy="1278.4" r="5.55"/><circle cx="503.8" cy="1246.1" r="5.55"/><circle cx="500.1" cy="1229.7" r="5.55"/><circle cx="506.9" cy="1253.1" r="5.55"/><circle cx="503.1" cy="1303.0" r="5.55"/><circle cx="506.7" cy="1237.3" r="5.55"/><circle cx="506.8" cy="1318.0" r="5.55"/><circle cx="510.3" cy="1265.0" r="5.55"/><circle cx="499.4" cy="1313.7" r="5.55"/><circle cx="500.9" cy="1166.1" r="5.55"/><circle cx="508.5" cy="1341.9" r="5.55"/><circle cx="502.0" cy="1311.8" r="5.55"/><circle cx="501.2" cy="1210.4" r="5.55"/><circle cx="502.2" cy="1294.4" r="5.55"/><circle cx="499.4" cy="1333.3" r="5.55"/><circle cx="523.3" cy="1333.8" r="5.55"/><circle cx="513.4" cy="1169.0" r="5.55"/><circle cx="519.0" cy="1226.3" r="5.55"/><circle cx="521.2" cy="1279.3" r="5.55"/><circle cx="513.4" cy="1226.5" r="5.55"/><circle cx="514.4" cy="1243.4" r="5.55"/><circle cx="520.0" cy="1297.0" r="5.55"/><circle cx="512.4" cy="1263.4" r="5.55"/><circle cx="523.3" cy="1340.4" r="5.55"/><circle cx="520.1" cy="1299.5" r="5.55"/><circle cx="521.6" cy="1284.6" r="5.55"/><circle cx="520.5" cy="1229.1" r="5.55"/><circle cx="513.9" cy="1225.7" r="5.55"/><circle cx="517.6" cy="1279.5" r="5.55"/><circle cx="514.0" cy="1284.8" r="5.55"/><circle cx="521.6" cy="1303.1" r="5.55"/><circle cx="517.7" cy="1345.5" r="5.55"/><circle cx="518.5" cy="1287.9" r="5.55"/><circle cx="514.1" cy="1250.6" r="5.55"/><circle cx="518.1" cy="1247.1" r="5.55"/><circle cx="516.9" cy="1218.9" r="5.55"/><circle cx="515.0" cy="1154.3" r="5.55"/><circle cx="519.4" cy="1310.7" r="5.55"/><circle cx="518.7" cy="1309.6" r="5.55"/><circle cx="517.8" cy="1271.7" r="5.55"/><circle cx="511.6" cy="1352.1" r="5.55"/><circle cx="521.8" cy="1181.1" r="5.55"/><circle cx="514.7" cy="1211.0" r="5.55"/><circle cx="522.8" cy="1235.1" r="5.55"/><circle cx="513.7" cy="1247.3" r="5.55"/><circle cx="518.1" cy="1248.0" r="5.55"/><circle cx="523.2" cy="1279.1" r="5.55"/><circle cx="520.3" cy="1210.4" r="5.55"/><circle cx="522.2" cy="1293.3" r="5.55"/><circle cx="514.0" cy="1284.1" r="5.55"/><circle cx="515.6" cy="1291.4" r="5.55"/><circle cx="516.3" cy="1226.1" r="5.55"/><circle cx="513.4" cy="1235.9" r="5.55"/><circle cx="516.2" cy="1232.1" r="5.55"/><circle cx="520.0" cy="1310.0" r="5.55"/><circle cx="515.9" cy="1275.9" r="5.55"/><circle cx="512.8" cy="1298.0" r="5.55"/><circle cx="521.7" cy="1207.1" r="5.55"/><circle cx="515.0" cy="1327.9" r="5.55"/><circle cx="522.7" cy="1212.9" r="5.55"/><circle cx="513.6" cy="1249.8" r="5.55"/><circle cx="511.6" cy="1190.8" r="5.55"/><circle cx="518.8" cy="1205.8" r="5.55"/><circle cx="519.1" cy="1281.9" r="5.55"/><circle cx="519.6" cy="1167.5" r="5.55"/><circle cx="514.3" cy="1310.6" r="5.55"/><circle cx="511.7" cy="1331.5" r="5.55"/><circle cx="514.7" cy="1286.9" r="5.55"/><circle cx="517.2" cy="1315.8" r="5.55"/><circle cx="521.5" cy="1261.9" r="5.55"/><circle cx="518.3" cy="1246.1" r="5.55"/><circle cx="515.6" cy="1204.2" r="5.55"/><circle cx="515.9" cy="1284.8" r="5.55"/><circle cx="521.5" cy="1303.3" r="5.55"/><circle cx="514.1" cy="1295.9" r="5.55"/><circle cx="516.4" cy="1293.2" r="5.55"/><circle cx="520.0" cy="1306.3" r="5.55"/><circle cx="517.4" cy="1266.7" r="5.55"/><circle cx="522.6" cy="1265.3" r="5.55"/><circle cx="516.5" cy="1350.6" r="5.55"/><circle cx="521.3" cy="1317.3" r="5.55"/><circle cx="519.8" cy="1237.9" r="5.55"/><circle cx="520.6" cy="1281.2" r="5.55"/><circle cx="515.9" cy="1252.1" r="5.55"/><circle cx="517.2" cy="1182.1" r="5.55"/><circle cx="516.5" cy="1317.3" r="5.55"/><circle cx="515.5" cy="1318.8" r="5.55"/><circle cx="520.6" cy="1329.2" r="5.55"/><circle cx="517.6" cy="1323.3" r="5.55"/><circle cx="519.2" cy="1333.4" r="5.55"/><circle cx="512.0" cy="1209.1" r="5.55"/><circle cx="512.0" cy="1328.0" r="5.55"/><circle cx="519.6" cy="1174.6" r="5.55"/><circle cx="521.3" cy="1183.0" r="5.55"/><circle cx="518.4" cy="1271.8" r="5.55"/><circle cx="519.6" cy="1259.9" r="5.55"/><circle cx="513.5" cy="1287.9" r="5.55"/><circle cx="521.6" cy="1236.3" r="5.55"/><circle cx="513.4" cy="1230.2" r="5.55"/><circle cx="514.9" cy="1228.0" r="5.55"/><circle cx="516.5" cy="1324.0" r="5.55"/><circle cx="514.0" cy="1228.0" r="5.55"/><circle cx="516.1" cy="1259.4" r="5.55"/><circle cx="514.6" cy="1331.6" r="5.55"/><circle cx="520.4" cy="1302.2" r="5.55"/><circle cx="515.6" cy="1323.6" r="5.55"/><circle cx="523.0" cy="1194.9" r="5.55"/><circle cx="515.7" cy="1292.8" r="5.55"/><circle cx="513.1" cy="1324.3" r="5.55"/><circle cx="517.6" cy="1255.1" r="5.55"/><circle cx="511.5" cy="1249.7" r="5.55"/><circle cx="519.4" cy="1263.4" r="5.55"/><circle cx="511.9" cy="1188.7" r="5.55"/><circle cx="517.5" cy="1300.8" r="5.55"/><circle cx="523.2" cy="1309.5" r="5.55"/><circle cx="519.7" cy="1288.5" r="5.55"/><circle cx="521.9" cy="1233.0" r="5.55"/><circle cx="523.2" cy="1259.3" r="5.55"/><circle cx="518.1" cy="1200.5" r="5.55"/><circle cx="516.3" cy="1239.9" r="5.55"/><circle cx="521.1" cy="1294.9" r="5.55"/><circle cx="512.1" cy="1269.8" r="5.55"/><circle cx="521.8" cy="1291.9" r="5.55"/><circle cx="515.0" cy="1310.2" r="5.55"/><circle cx="522.7" cy="1323.2" r="5.55"/><circle cx="511.3" cy="1307.2" r="5.55"/><circle cx="520.4" cy="1221.4" r="5.55"/><circle cx="513.7" cy="1178.8" r="5.55"/><circle cx="521.9" cy="1155.6" r="5.55"/><circle cx="521.2" cy="1278.4" r="5.55"/><circle cx="520.4" cy="1260.7" r="5.55"/><circle cx="523.2" cy="1275.0" r="5.55"/><circle cx="520.5" cy="1260.7" r="5.55"/><circle cx="519.5" cy="1299.6" r="5.55"/><circle cx="519.1" cy="1182.2" r="5.55"/><circle cx="516.6" cy="1197.5" r="5.55"/><circle cx="522.1" cy="1263.6" r="5.55"/><circle cx="512.7" cy="1260.7" r="5.55"/><circle cx="517.3" cy="1356.7" r="5.55"/><circle cx="517.2" cy="1333.0" r="5.55"/><circle cx="512.5" cy="1220.8" r="5.55"/><circle cx="522.5" cy="1347.9" r="5.55"/><circle cx="514.3" cy="1315.2" r="5.55"/><circle cx="513.6" cy="1217.3" r="5.55"/><circle cx="518.7" cy="1218.7" r="5.55"/><circle cx="523.4" cy="1217.4" r="5.55"/><circle cx="516.8" cy="1220.0" r="5.55"/><circle cx="511.5" cy="1280.9" r="5.55"/><circle cx="512.6" cy="1331.2" r="5.55"/><circle cx="521.8" cy="1157.8" r="5.55"/><circle cx="515.2" cy="1322.0" r="5.55"/><circle cx="513.6" cy="1248.6" r="5.55"/><circle cx="517.1" cy="1204.1" r="5.55"/><circle cx="516.8" cy="1274.1" r="5.55"/><circle cx="518.5" cy="1311.8" r="5.55"/><circle cx="520.2" cy="1242.7" r="5.55"/><circle cx="512.5" cy="1148.1" r="5.55"/><circle cx="512.3" cy="1311.0" r="5.55"/><circle cx="520.9" cy="1307.8" r="5.55"/><circle cx="518.3" cy="1204.7" r="5.55"/><circle cx="514.8" cy="1298.3" r="5.55"/><circle cx="521.7" cy="1262.2" r="5.55"/><circle cx="511.3" cy="1273.8" r="5.55"/><circle cx="523.4" cy="1240.1" r="5.55"/><circle cx="515.9" cy="1254.8" r="5.55"/><circle cx="515.7" cy="1270.3" r="5.55"/><circle cx="513.6" cy="1218.4" r="5.55"/><circle cx="513.7" cy="1335.4" r="5.55"/><circle cx="522.3" cy="1262.5" r="5.55"/><circle cx="518.0" cy="1244.0" r="5.55"/><circle cx="523.1" cy="1154.6" r="5.55"/><circle cx="520.3" cy="1328.9" r="5.55"/><circle cx="519.4" cy="1264.7" r="5.55"/><circle cx="521.4" cy="1257.6" r="5.55"/><circle cx="521.9" cy="1317.1" r="5.55"/><circle cx="521.7" cy="1257.0" r="5.55"/><circle cx="521.0" cy="1293.3" r="5.55"/><circle cx="517.6" cy="1307.1" r="5.55"/><circle cx="511.6" cy="1326.9" r="5.55"/><circle cx="511.9" cy="1326.9" r="5.55"/><circle cx="527.8" cy="1263.3" r="5.55"/><circle cx="528.7" cy="1231.2" r="5.55"/><circle cx="524.7" cy="1296.2" r="5.55"/><circle cx="530.9" cy="1197.2" r="5.55"/><circle cx="530.6" cy="1197.0" r="5.55"/><circle cx="534.5" cy="1278.0" r="5.55"/><circle cx="531.2" cy="1209.9" r="5.55"/><circle cx="526.1" cy="1290.9" r="5.55"/><circle cx="526.9" cy="1220.6" r="5.55"/><circle cx="533.5" cy="1255.8" r="5.55"/><circle cx="531.1" cy="1290.6" r="5.55"/><circle cx="532.4" cy="1316.8" r="5.55"/><circle cx="524.1" cy="1295.2" r="5.55"/><circle cx="531.2" cy="1265.1" r="5.55"/><circle cx="525.6" cy="1263.1" r="5.55"/><circle cx="529.3" cy="1193.3" r="5.55"/><circle cx="530.6" cy="1256.5" r="5.55"/><circle cx="531.5" cy="1213.1" r="5.55"/><circle cx="529.3" cy="1316.4" r="5.55"/><circle cx="523.4" cy="1220.1" r="5.55"/><circle cx="525.9" cy="1292.7" r="5.55"/><circle cx="531.7" cy="1267.0" r="5.55"/><circle cx="531.0" cy="1245.4" r="5.55"/><circle cx="534.0" cy="1269.0" r="5.55"/><circle cx="529.8" cy="1260.8" r="5.55"/><circle cx="526.2" cy="1286.2" r="5.55"/><circle cx="534.2" cy="1244.0" r="5.55"/><circle cx="532.2" cy="1224.2" r="5.55"/><circle cx="535.5" cy="1296.0" r="5.55"/><circle cx="529.2" cy="1277.5" r="5.55"/><circle cx="525.6" cy="1184.4" r="5.55"/><circle cx="530.7" cy="1259.5" r="5.55"/><circle cx="530.1" cy="1301.9" r="5.55"/><circle cx="530.6" cy="1306.1" r="5.55"/><circle cx="526.7" cy="1326.8" r="5.55"/><circle cx="528.1" cy="1244.2" r="5.55"/><circle cx="534.9" cy="1299.4" r="5.55"/><circle cx="528.9" cy="1246.4" r="5.55"/><circle cx="528.4" cy="1284.9" r="5.55"/><circle cx="531.5" cy="1290.3" r="5.55"/><circle cx="535.0" cy="1189.3" r="5.55"/><circle cx="524.4" cy="1231.5" r="5.55"/><circle cx="526.7" cy="1304.8" r="5.55"/><circle cx="527.2" cy="1201.1" r="5.55"/><circle cx="524.4" cy="1263.1" r="5.55"/><circle cx="526.4" cy="1321.9" r="5.55"/><circle cx="529.3" cy="1259.1" r="5.55"/><circle cx="527.9" cy="1297.5" r="5.55"/><circle cx="531.9" cy="1283.2" r="5.55"/><circle cx="526.0" cy="1347.3" r="5.55"/><circle cx="531.0" cy="1197.5" r="5.55"/><circle cx="530.4" cy="1309.3" r="5.55"/><circle cx="524.3" cy="1242.6" r="5.55"/><circle cx="526.3" cy="1290.8" r="5.55"/><circle cx="524.3" cy="1314.2" r="5.55"/><circle cx="535.2" cy="1309.5" r="5.55"/><circle cx="529.8" cy="1240.8" r="5.55"/><circle cx="526.5" cy="1285.6" r="5.55"/><circle cx="528.6" cy="1265.3" r="5.55"/><circle cx="527.0" cy="1223.8" r="5.55"/><circle cx="527.5" cy="1316.5" r="5.55"/><circle cx="525.1" cy="1280.7" r="5.55"/><circle cx="527.1" cy="1288.7" r="5.55"/><circle cx="531.4" cy="1268.3" r="5.55"/><circle cx="534.8" cy="1295.1" r="5.55"/><circle cx="524.3" cy="1237.5" r="5.55"/><circle cx="525.9" cy="1287.3" r="5.55"/><circle cx="527.5" cy="1253.2" r="5.55"/><circle cx="531.7" cy="1226.0" r="5.55"/><circle cx="532.4" cy="1281.6" r="5.55"/><circle cx="525.3" cy="1280.3" r="5.55"/><circle cx="534.1" cy="1275.0" r="5.55"/><circle cx="523.7" cy="1313.9" r="5.55"/><circle cx="526.5" cy="1352.5" r="5.55"/><circle cx="531.4" cy="1292.1" r="5.55"/><circle cx="525.5" cy="1315.2" r="5.55"/><circle cx="524.5" cy="1296.2" r="5.55"/><circle cx="530.1" cy="1196.5" r="5.55"/><circle cx="531.6" cy="1187.8" r="5.55"/><circle cx="530.1" cy="1192.5" r="5.55"/><circle cx="531.4" cy="1283.8" r="5.55"/><circle cx="532.4" cy="1288.7" r="5.55"/><circle cx="534.8" cy="1315.2" r="5.55"/><circle cx="528.9" cy="1292.0" r="5.55"/><circle cx="525.7" cy="1273.2" r="5.55"/><circle cx="534.8" cy="1232.2" r="5.55"/><circle cx="530.0" cy="1297.6" r="5.55"/><circle cx="531.6" cy="1285.4" r="5.55"/><circle cx="527.8" cy="1307.3" r="5.55"/><circle cx="534.1" cy="1277.0" r="5.55"/><circle cx="530.7" cy="1204.6" r="5.55"/><circle cx="524.9" cy="1312.9" r="5.55"/><circle cx="534.9" cy="1213.9" r="5.55"/><circle cx="528.2" cy="1284.5" r="5.55"/><circle cx="527.7" cy="1272.9" r="5.55"/><circle cx="526.7" cy="1287.5" r="5.55"/><circle cx="526.4" cy="1219.3" r="5.55"/><circle cx="527.3" cy="1230.8" r="5.55"/><circle cx="529.9" cy="1262.3" r="5.55"/><circle cx="534.4" cy="1145.0" r="5.55"/><circle cx="527.9" cy="1265.8" r="5.55"/><circle cx="524.4" cy="1268.8" r="5.55"/><circle cx="532.8" cy="1280.7" r="5.55"/><circle cx="528.0" cy="1196.0" r="5.55"/><circle cx="530.6" cy="1291.7" r="5.55"/><circle cx="532.6" cy="1273.0" r="5.55"/><circle cx="533.2" cy="1252.5" r="5.55"/><circle cx="528.5" cy="1243.4" r="5.55"/><circle cx="533.0" cy="1188.2" r="5.55"/><circle cx="529.5" cy="1305.7" r="5.55"/><circle cx="524.0" cy="1164.4" r="5.55"/><circle cx="526.8" cy="1320.8" r="5.55"/><circle cx="534.9" cy="1301.4" r="5.55"/><circle cx="532.5" cy="1264.0" r="5.55"/><circle cx="532.9" cy="1290.0" r="5.55"/><circle cx="527.0" cy="1265.6" r="5.55"/><circle cx="531.0" cy="1172.6" r="5.55"/><circle cx="531.9" cy="1256.0" r="5.55"/><circle cx="533.1" cy="1211.5" r="5.55"/><circle cx="530.8" cy="1292.8" r="5.55"/><circle cx="527.1" cy="1167.5" r="5.55"/><circle cx="525.2" cy="1234.8" r="5.55"/><circle cx="525.7" cy="1312.0" r="5.55"/><circle cx="532.4" cy="1324.8" r="5.55"/><circle cx="524.4" cy="1265.3" r="5.55"/><circle cx="524.1" cy="1211.9" r="5.55"/><circle cx="531.1" cy="1261.5" r="5.55"/><circle cx="529.2" cy="1218.8" r="5.55"/><circle cx="533.0" cy="1267.4" r="5.55"/><circle cx="534.0" cy="1306.6" r="5.55"/><circle cx="532.2" cy="1320.3" r="5.55"/><circle cx="534.4" cy="1200.4" r="5.55"/><circle cx="525.2" cy="1171.8" r="5.55"/><circle cx="526.5" cy="1288.0" r="5.55"/><circle cx="534.5" cy="1304.4" r="5.55"/><circle cx="531.3" cy="1231.3" r="5.55"/><circle cx="524.4" cy="1238.6" r="5.55"/><circle cx="530.6" cy="1257.8" r="5.55"/><circle cx="534.8" cy="1324.8" r="5.55"/><circle cx="524.6" cy="1314.0" r="5.55"/><circle cx="525.8" cy="1274.9" r="5.55"/><circle cx="535.1" cy="1300.2" r="5.55"/><circle cx="533.0" cy="1198.6" r="5.55"/><circle cx="529.3" cy="1266.5" r="5.55"/><circle cx="531.7" cy="1236.3" r="5.55"/><circle cx="526.6" cy="1280.7" r="5.55"/><circle cx="532.1" cy="1334.4" r="5.55"/><circle cx="535.3" cy="1262.8" r="5.55"/><circle cx="527.5" cy="1277.3" r="5.55"/><circle cx="525.2" cy="1252.8" r="5.55"/><circle cx="531.2" cy="1335.9" r="5.55"/><circle cx="527.1" cy="1252.0" r="5.55"/><circle cx="530.2" cy="1207.7" r="5.55"/><circle cx="531.5" cy="1275.6" r="5.55"/><circle cx="529.1" cy="1323.7" r="5.55"/><circle cx="527.2" cy="1269.7" r="5.55"/><circle cx="529.8" cy="1183.7" r="5.55"/><circle cx="534.3" cy="1223.6" r="5.55"/><circle cx="529.0" cy="1249.1" r="5.55"/><circle cx="533.2" cy="1309.1" r="5.55"/><circle cx="538.6" cy="1273.7" r="5.55"/><circle cx="546.2" cy="1215.5" r="5.55"/><circle cx="544.8" cy="1309.9" r="5.55"/><circle cx="541.4" cy="1271.0" r="5.55"/><circle cx="541.2" cy="1207.8" r="5.55"/><circle cx="537.5" cy="1264.7" r="5.55"/><circle cx="536.8" cy="1325.3" r="5.55"/><circle cx="537.1" cy="1251.3" r="5.55"/><circle cx="541.9" cy="1284.9" r="5.55"/><circle cx="540.0" cy="1259.9" r="5.55"/><circle cx="540.4" cy="1301.0" r="5.55"/><circle cx="546.9" cy="1238.9" r="5.55"/><circle cx="543.5" cy="1179.5" r="5.55"/><circle cx="546.5" cy="1303.0" r="5.55"/><circle cx="537.7" cy="1189.6" r="5.55"/><circle cx="547.6" cy="1298.1" r="5.55"/><circle cx="547.4" cy="1242.5" r="5.55"/><circle cx="542.4" cy="1214.5" r="5.55"/><circle cx="545.9" cy="1294.7" r="5.55"/><circle cx="543.3" cy="1262.2" r="5.55"/><circle cx="541.3" cy="1260.0" r="5.55"/><circle cx="541.6" cy="1293.9" r="5.55"/><circle cx="544.3" cy="1204.0" r="5.55"/><circle cx="537.6" cy="1203.8" r="5.55"/><circle cx="541.0" cy="1341.3" r="5.55"/><circle cx="543.7" cy="1243.1" r="5.55"/><circle cx="544.3" cy="1153.3" r="5.55"/><circle cx="536.0" cy="1249.9" r="5.55"/><circle cx="538.2" cy="1292.3" r="5.55"/><circle cx="545.2" cy="1244.5" r="5.55"/><circle cx="539.0" cy="1310.3" r="5.55"/><circle cx="541.1" cy="1211.4" r="5.55"/><circle cx="537.7" cy="1152.3" r="5.55"/><circle cx="539.6" cy="1276.6" r="5.55"/><circle cx="543.7" cy="1275.1" r="5.55"/><circle cx="539.2" cy="1256.1" r="5.55"/><circle cx="541.4" cy="1258.4" r="5.55"/><circle cx="539.2" cy="1290.8" r="5.55"/><circle cx="544.8" cy="1230.6" r="5.55"/><circle cx="546.4" cy="1239.5" r="5.55"/><circle cx="540.0" cy="1274.7" r="5.55"/><circle cx="540.1" cy="1253.0" r="5.55"/><circle cx="538.9" cy="1170.2" r="5.55"/><circle cx="540.7" cy="1260.8" r="5.55"/><circle cx="540.8" cy="1259.7" r="5.55"/><circle cx="547.5" cy="1229.3" r="5.55"/><circle cx="545.2" cy="1299.1" r="5.55"/><circle cx="547.6" cy="1165.4" r="5.55"/><circle cx="542.7" cy="1217.7" r="5.55"/><circle cx="537.5" cy="1281.9" r="5.55"/><circle cx="541.3" cy="1349.7" r="5.55"/><circle cx="537.1" cy="1283.2" r="5.55"/><circle cx="538.7" cy="1306.7" r="5.55"/><circle cx="542.0" cy="1182.2" r="5.55"/><circle cx="541.6" cy="1278.7" r="5.55"/><circle cx="546.6" cy="1276.1" r="5.55"/><circle cx="546.5" cy="1232.7" r="5.55"/><circle cx="541.3" cy="1314.9" r="5.55"/><circle cx="537.8" cy="1292.3" r="5.55"/><circle cx="536.7" cy="1222.6" r="5.55"/><circle cx="538.4" cy="1281.2" r="5.55"/><circle cx="540.9" cy="1312.8" r="5.55"/><circle cx="542.4" cy="1319.0" r="5.55"/><circle cx="536.9" cy="1272.7" r="5.55"/><circle cx="536.5" cy="1280.9" r="5.55"/><circle cx="544.5" cy="1299.9" r="5.55"/><circle cx="541.6" cy="1248.2" r="5.55"/><circle cx="537.1" cy="1259.4" r="5.55"/><circle cx="536.1" cy="1304.9" r="5.55"/><circle cx="539.3" cy="1272.1" r="5.55"/><circle cx="538.9" cy="1135.6" r="5.55"/><circle cx="543.7" cy="1316.6" r="5.55"/><circle cx="539.0" cy="1238.8" r="5.55"/><circle cx="538.7" cy="1219.5" r="5.55"/><circle cx="545.5" cy="1238.0" r="5.55"/><circle cx="546.3" cy="1308.0" r="5.55"/><circle cx="542.5" cy="1246.7" r="5.55"/><circle cx="546.9" cy="1299.6" r="5.55"/><circle cx="541.6" cy="1268.9" r="5.55"/><circle cx="539.8" cy="1307.3" r="5.55"/><circle cx="543.8" cy="1264.1" r="5.55"/><circle cx="541.3" cy="1306.0" r="5.55"/><circle cx="540.7" cy="1257.8" r="5.55"/><circle cx="538.5" cy="1269.2" r="5.55"/><circle cx="545.8" cy="1202.9" r="5.55"/><circle cx="546.7" cy="1298.3" r="5.55"/><circle cx="536.3" cy="1308.9" r="5.55"/><circle cx="540.4" cy="1268.1" r="5.55"/><circle cx="546.9" cy="1232.2" r="5.55"/><circle cx="546.7" cy="1277.3" r="5.55"/><circle cx="544.5" cy="1240.5" r="5.55"/><circle cx="543.1" cy="1283.3" r="5.55"/><circle cx="539.7" cy="1287.5" r="5.55"/><circle cx="544.7" cy="1362.5" r="5.55"/><circle cx="543.1" cy="1290.8" r="5.55"/><circle cx="537.7" cy="1275.8" r="5.55"/><circle cx="539.9" cy="1343.3" r="5.55"/><circle cx="541.3" cy="1263.0" r="5.55"/><circle cx="537.5" cy="1314.4" r="5.55"/><circle cx="546.7" cy="1201.5" r="5.55"/><circle cx="537.2" cy="1246.3" r="5.55"/><circle cx="543.4" cy="1321.0" r="5.55"/><circle cx="539.1" cy="1261.5" r="5.55"/><circle cx="542.7" cy="1284.7" r="5.55"/><circle cx="543.8" cy="1225.3" r="5.55"/><circle cx="537.3" cy="1162.9" r="5.55"/><circle cx="543.9" cy="1271.8" r="5.55"/><circle cx="542.1" cy="1239.8" r="5.55"/><circle cx="537.2" cy="1280.4" r="5.55"/><circle cx="544.0" cy="1266.4" r="5.55"/><circle cx="538.8" cy="1288.9" r="5.55"/><circle cx="535.7" cy="1320.3" r="5.55"/><circle cx="540.2" cy="1222.4" r="5.55"/><circle cx="536.0" cy="1330.8" r="5.55"/><circle cx="547.6" cy="1208.7" r="5.55"/><circle cx="542.2" cy="1281.0" r="5.55"/><circle cx="539.9" cy="1240.7" r="5.55"/><circle cx="546.5" cy="1208.2" r="5.55"/><circle cx="545.5" cy="1238.6" r="5.55"/><circle cx="544.8" cy="1286.8" r="5.55"/><circle cx="536.5" cy="1294.0" r="5.55"/><circle cx="536.1" cy="1321.3" r="5.55"/><circle cx="542.4" cy="1291.9" r="5.55"/><circle cx="537.6" cy="1262.8" r="5.55"/><circle cx="544.5" cy="1198.3" r="5.55"/><circle cx="541.3" cy="1259.3" r="5.55"/><circle cx="545.9" cy="1317.7" r="5.55"/><circle cx="544.1" cy="1214.5" r="5.55"/><circle cx="536.4" cy="1231.6" r="5.55"/><circle cx="544.6" cy="1307.4" r="5.55"/><circle cx="537.2" cy="1292.1" r="5.55"/><circle cx="544.2" cy="1271.9" r="5.55"/><circle cx="546.3" cy="1302.1" r="5.55"/><circle cx="544.5" cy="1241.7" r="5.55"/><circle cx="553.9" cy="1325.9" r="5.55"/><circle cx="553.8" cy="1319.8" r="5.55"/><circle cx="550.7" cy="1246.8" r="5.55"/><circle cx="559.3" cy="1271.0" r="5.55"/><circle cx="557.6" cy="1256.1" r="5.55"/><circle cx="551.6" cy="1273.7" r="5.55"/><circle cx="557.6" cy="1157.0" r="5.55"/><circle cx="550.6" cy="1216.5" r="5.55"/><circle cx="552.1" cy="1285.8" r="5.55"/><circle cx="558.8" cy="1129.7" r="5.55"/><circle cx="552.1" cy="1322.1" r="5.55"/><circle cx="553.3" cy="1279.2" r="5.55"/><circle cx="549.4" cy="1262.1" r="5.55"/><circle cx="558.4" cy="1240.8" r="5.55"/><circle cx="558.9" cy="1231.9" r="5.55"/><circle cx="557.7" cy="1182.1" r="5.55"/><circle cx="551.6" cy="1290.0" r="5.55"/><circle cx="549.6" cy="1220.7" r="5.55"/><circle cx="548.8" cy="1320.3" r="5.55"/><circle cx="548.2" cy="1251.3" r="5.55"/><circle cx="550.5" cy="1181.8" r="5.55"/><circle cx="549.0" cy="1208.2" r="5.55"/><circle cx="552.8" cy="1264.0" r="5.55"/><circle cx="553.8" cy="1282.0" r="5.55"/><circle cx="551.8" cy="1275.3" r="5.55"/><circle cx="557.0" cy="1242.3" r="5.55"/><circle cx="548.9" cy="1288.6" r="5.55"/><circle cx="548.1" cy="1289.5" r="5.55"/><circle cx="553.7" cy="1229.0" r="5.55"/><circle cx="558.8" cy="1216.9" r="5.55"/><circle cx="550.8" cy="1164.4" r="5.55"/><circle cx="549.3" cy="1300.1" r="5.55"/><circle cx="555.8" cy="1305.5" r="5.55"/><circle cx="547.8" cy="1199.8" r="5.55"/><circle cx="553.4" cy="1286.2" r="5.55"/><circle cx="558.6" cy="1217.6" r="5.55"/><circle cx="558.1" cy="1254.2" r="5.55"/><circle cx="555.5" cy="1247.9" r="5.55"/><circle cx="548.6" cy="1215.4" r="5.55"/><circle cx="549.4" cy="1297.0" r="5.55"/><circle cx="548.2" cy="1227.6" r="5.55"/><circle cx="551.0" cy="1236.2" r="5.55"/><circle cx="555.7" cy="1276.0" r="5.55"/><circle cx="554.0" cy="1239.7" r="5.55"/><circle cx="554.8" cy="1248.1" r="5.55"/><circle cx="551.8" cy="1174.3" r="5.55"/><circle cx="552.5" cy="1244.9" r="5.55"/><circle cx="548.8" cy="1278.0" r="5.55"/><circle cx="549.6" cy="1252.1" r="5.55"/><circle cx="550.2" cy="1258.2" r="5.55"/><circle cx="549.7" cy="1259.1" r="5.55"/><circle cx="556.6" cy="1217.5" r="5.55"/><circle cx="548.8" cy="1300.4" r="5.55"/><circle cx="551.2" cy="1165.6" r="5.55"/><circle cx="556.6" cy="1258.5" r="5.55"/><circle cx="549.2" cy="1297.5" r="5.55"/><circle cx="551.1" cy="1263.9" r="5.55"/><circle cx="551.4" cy="1311.5" r="5.55"/><circle cx="553.4" cy="1159.7" r="5.55"/><circle cx="553.9" cy="1313.7" r="5.55"/><circle cx="549.0" cy="1255.6" r="5.55"/><circle cx="552.4" cy="1255.5" r="5.55"/><circle cx="551.1" cy="1291.4" r="5.55"/><circle cx="557.5" cy="1241.9" r="5.55"/><circle cx="557.8" cy="1234.9" r="5.55"/><circle cx="558.0" cy="1194.1" r="5.55"/><circle cx="559.8" cy="1284.1" r="5.55"/><circle cx="548.9" cy="1263.7" r="5.55"/><circle cx="550.3" cy="1253.6" r="5.55"/><circle cx="555.2" cy="1283.3" r="5.55"/><circle cx="549.4" cy="1251.1" r="5.55"/><circle cx="552.9" cy="1232.4" r="5.55"/><circle cx="559.4" cy="1262.1" r="5.55"/><circle cx="552.7" cy="1247.0" r="5.55"/><circle cx="557.7" cy="1206.8" r="5.55"/><circle cx="556.3" cy="1271.2" r="5.55"/><circle cx="549.4" cy="1172.0" r="5.55"/><circle cx="558.3" cy="1162.0" r="5.55"/><circle cx="552.5" cy="1221.5" r="5.55"/><circle cx="558.3" cy="1238.4" r="5.55"/><circle cx="555.7" cy="1217.4" r="5.55"/><circle cx="548.2" cy="1227.5" r="5.55"/><circle cx="549.8" cy="1270.1" r="5.55"/><circle cx="558.9" cy="1147.8" r="5.55"/><circle cx="552.2" cy="1184.3" r="5.55"/><circle cx="552.1" cy="1253.0" r="5.55"/><circle cx="558.1" cy="1194.6" r="5.55"/><circle cx="558.6" cy="1235.2" r="5.55"/><circle cx="556.0" cy="1223.7" r="5.55"/><circle cx="551.5" cy="1284.5" r="5.55"/><circle cx="557.1" cy="1316.3" r="5.55"/><circle cx="553.6" cy="1287.5" r="5.55"/><circle cx="552.5" cy="1266.2" r="5.55"/><circle cx="553.4" cy="1245.1" r="5.55"/><circle cx="552.9" cy="1237.7" r="5.55"/><circle cx="551.7" cy="1244.0" r="5.55"/><circle cx="558.1" cy="1234.4" r="5.55"/><circle cx="557.8" cy="1280.9" r="5.55"/><circle cx="557.8" cy="1236.6" r="5.55"/><circle cx="552.6" cy="1215.2" r="5.55"/><circle cx="550.3" cy="1288.7" r="5.55"/><circle cx="550.6" cy="1283.2" r="5.55"/><circle cx="556.9" cy="1277.0" r="5.55"/><circle cx="552.8" cy="1304.3" r="5.55"/><circle cx="559.0" cy="1284.7" r="5.55"/><circle cx="549.0" cy="1231.4" r="5.55"/><circle cx="559.6" cy="1260.5" r="5.55"/><circle cx="552.2" cy="1295.5" r="5.55"/><circle cx="556.6" cy="1214.4" r="5.55"/><circle cx="549.3" cy="1128.5" r="5.55"/><circle cx="556.7" cy="1348.8" r="5.55"/><circle cx="548.8" cy="1216.5" r="5.55"/><circle cx="556.6" cy="1257.5" r="5.55"/><circle cx="548.8" cy="1360.0" r="5.55"/><circle cx="559.6" cy="1292.5" r="5.55"/><circle cx="555.5" cy="1235.0" r="5.55"/><circle cx="555.4" cy="1203.6" r="5.55"/><circle cx="558.2" cy="1232.7" r="5.55"/><circle cx="555.8" cy="1168.2" r="5.55"/><circle cx="547.7" cy="1296.7" r="5.55"/><circle cx="555.5" cy="1196.4" r="5.55"/><circle cx="554.8" cy="1204.2" r="5.55"/><circle cx="554.9" cy="1245.8" r="5.55"/><circle cx="551.6" cy="1175.5" r="5.55"/><circle cx="554.4" cy="1327.6" r="5.55"/><circle cx="556.2" cy="1265.2" r="5.55"/><circle cx="550.0" cy="1283.8" r="5.55"/><circle cx="550.7" cy="1315.2" r="5.55"/><circle cx="553.9" cy="1200.9" r="5.55"/><circle cx="556.7" cy="1137.2" r="5.55"/><circle cx="554.5" cy="1310.1" r="5.55"/><circle cx="554.7" cy="1243.7" r="5.55"/><circle cx="555.1" cy="1277.8" r="5.55"/><circle cx="550.7" cy="1259.2" r="5.55"/><circle cx="555.8" cy="1249.2" r="5.55"/><circle cx="558.2" cy="1280.0" r="5.55"/><circle cx="550.8" cy="1262.4" r="5.55"/><circle cx="550.4" cy="1330.2" r="5.55"/><circle cx="567.6" cy="1150.0" r="5.55"/><circle cx="569.7" cy="1246.9" r="5.55"/><circle cx="563.3" cy="1254.4" r="5.55"/><circle cx="565.5" cy="1202.7" r="5.55"/><circle cx="565.4" cy="1193.9" r="5.55"/><circle cx="568.6" cy="1233.7" r="5.55"/><circle cx="570.9" cy="1180.7" r="5.55"/><circle cx="571.4" cy="1243.3" r="5.55"/><circle cx="566.6" cy="1309.8" r="5.55"/><circle cx="568.8" cy="1307.7" r="5.55"/><circle cx="567.2" cy="1286.4" r="5.55"/><circle cx="567.1" cy="1243.4" r="5.55"/><circle cx="564.7" cy="1156.8" r="5.55"/><circle cx="571.1" cy="1250.7" r="5.55"/><circle cx="566.9" cy="1258.4" r="5.55"/><circle cx="561.5" cy="1251.2" r="5.55"/><circle cx="568.7" cy="1302.4" r="5.55"/><circle cx="566.4" cy="1187.9" r="5.55"/><circle cx="560.4" cy="1239.5" r="5.55"/><circle cx="565.5" cy="1188.8" r="5.55"/><circle cx="571.2" cy="1238.5" r="5.55"/><circle cx="562.6" cy="1172.1" r="5.55"/><circle cx="565.4" cy="1270.6" r="5.55"/><circle cx="563.1" cy="1148.1" r="5.55"/><circle cx="565.3" cy="1144.2" r="5.55"/><circle cx="567.5" cy="1223.4" r="5.55"/><circle cx="571.2" cy="1168.9" r="5.55"/><circle cx="566.5" cy="1243.5" r="5.55"/><circle cx="562.7" cy="1250.7" r="5.55"/><circle cx="563.6" cy="1273.4" r="5.55"/><circle cx="571.1" cy="1210.0" r="5.55"/><circle cx="569.1" cy="1261.1" r="5.55"/><circle cx="562.3" cy="1279.0" r="5.55"/><circle cx="569.2" cy="1299.3" r="5.55"/><circle cx="568.9" cy="1276.7" r="5.55"/><circle cx="564.6" cy="1241.8" r="5.55"/><circle cx="566.2" cy="1197.5" r="5.55"/><circle cx="566.3" cy="1252.5" r="5.55"/><circle cx="563.0" cy="1304.3" r="5.55"/><circle cx="562.3" cy="1288.6" r="5.55"/><circle cx="570.2" cy="1216.2" r="5.55"/><circle cx="567.4" cy="1274.6" r="5.55"/><circle cx="567.2" cy="1169.0" r="5.55"/><circle cx="564.8" cy="1319.4" r="5.55"/><circle cx="568.7" cy="1302.7" r="5.55"/><circle cx="567.6" cy="1286.2" r="5.55"/><circle cx="564.5" cy="1251.9" r="5.55"/><circle cx="564.6" cy="1218.1" r="5.55"/><circle cx="561.3" cy="1265.0" r="5.55"/><circle cx="561.2" cy="1268.6" r="5.55"/><circle cx="568.0" cy="1258.0" r="5.55"/><circle cx="562.1" cy="1181.9" r="5.55"/><circle cx="567.7" cy="1313.7" r="5.55"/><circle cx="561.0" cy="1158.0" r="5.55"/><circle cx="567.0" cy="1203.5" r="5.55"/><circle cx="562.7" cy="1212.1" r="5.55"/><circle cx="570.8" cy="1214.1" r="5.55"/><circle cx="563.0" cy="1172.6" r="5.55"/><circle cx="560.4" cy="1225.5" r="5.55"/><circle cx="561.9" cy="1284.4" r="5.55"/><circle cx="568.3" cy="1210.9" r="5.55"/><circle cx="560.9" cy="1263.6" r="5.55"/><circle cx="564.0" cy="1306.8" r="5.55"/><circle cx="564.6" cy="1242.8" r="5.55"/><circle cx="562.0" cy="1224.5" r="5.55"/><circle cx="570.2" cy="1292.7" r="5.55"/><circle cx="562.7" cy="1270.7" r="5.55"/><circle cx="570.3" cy="1189.9" r="5.55"/><circle cx="565.3" cy="1226.1" r="5.55"/><circle cx="569.2" cy="1186.8" r="5.55"/><circle cx="566.7" cy="1272.9" r="5.55"/><circle cx="571.2" cy="1225.0" r="5.55"/><circle cx="570.7" cy="1236.0" r="5.55"/><circle cx="563.8" cy="1261.2" r="5.55"/><circle cx="560.3" cy="1257.3" r="5.55"/><circle cx="568.1" cy="1255.7" r="5.55"/><circle cx="570.4" cy="1288.6" r="5.55"/><circle cx="562.4" cy="1204.9" r="5.55"/><circle cx="562.9" cy="1242.1" r="5.55"/><circle cx="564.9" cy="1245.4" r="5.55"/><circle cx="566.2" cy="1266.0" r="5.55"/><circle cx="562.4" cy="1206.2" r="5.55"/><circle cx="570.1" cy="1137.9" r="5.55"/><circle cx="561.7" cy="1249.2" r="5.55"/><circle cx="560.3" cy="1234.5" r="5.55"/><circle cx="563.8" cy="1201.1" r="5.55"/><circle cx="562.6" cy="1233.7" r="5.55"/><circle cx="567.8" cy="1300.6" r="5.55"/><circle cx="571.0" cy="1301.5" r="5.55"/><circle cx="565.3" cy="1189.0" r="5.55"/><circle cx="571.9" cy="1261.7" r="5.55"/><circle cx="567.3" cy="1260.8" r="5.55"/><circle cx="562.7" cy="1211.6" r="5.55"/><circle cx="569.5" cy="1268.0" r="5.55"/><circle cx="581.1" cy="1219.5" r="5.55"/><circle cx="573.3" cy="1151.3" r="5.55"/><circle cx="581.3" cy="1151.8" r="5.55"/><circle cx="573.0" cy="1246.2" r="5.55"/><circle cx="577.8" cy="1247.3" r="5.55"/><circle cx="575.0" cy="1310.3" r="5.55"/><circle cx="583.5" cy="1358.3" r="5.55"/><circle cx="573.7" cy="1328.4" r="5.55"/><circle cx="578.9" cy="1281.1" r="5.55"/><circle cx="572.4" cy="1243.4" r="5.55"/><circle cx="573.4" cy="1177.3" r="5.55"/><circle cx="583.5" cy="1196.7" r="5.55"/><circle cx="583.3" cy="1191.0" r="5.55"/><circle cx="574.5" cy="1244.9" r="5.55"/><circle cx="579.1" cy="1227.8" r="5.55"/><circle cx="573.7" cy="1315.2" r="5.55"/><circle cx="582.6" cy="1196.3" r="5.55"/><circle cx="577.6" cy="1274.1" r="5.55"/><circle cx="578.8" cy="1238.2" r="5.55"/><circle cx="581.8" cy="1246.3" r="5.55"/><circle cx="576.7" cy="1244.5" r="5.55"/><circle cx="582.8" cy="1205.5" r="5.55"/><circle cx="581.5" cy="1246.7" r="5.55"/><circle cx="572.3" cy="1275.5" r="5.55"/><circle cx="582.5" cy="1210.7" r="5.55"/><circle cx="583.7" cy="1219.4" r="5.55"/><circle cx="578.1" cy="1312.9" r="5.55"/><circle cx="575.3" cy="1166.3" r="5.55"/><circle cx="583.6" cy="1285.6" r="5.55"/><circle cx="575.8" cy="1257.6" r="5.55"/><circle cx="574.0" cy="1174.7" r="5.55"/><circle cx="581.8" cy="1242.5" r="5.55"/><circle cx="579.0" cy="1251.5" r="5.55"/><circle cx="580.8" cy="1263.3" r="5.55"/><circle cx="575.3" cy="1190.7" r="5.55"/><circle cx="581.1" cy="1207.6" r="5.55"/><circle cx="580.6" cy="1228.9" r="5.55"/><circle cx="572.1" cy="1259.9" r="5.55"/><circle cx="580.5" cy="1248.5" r="5.55"/><circle cx="573.3" cy="1247.4" r="5.55"/><circle cx="572.7" cy="1229.2" r="5.55"/><circle cx="579.1" cy="1262.9" r="5.55"/><circle cx="572.4" cy="1212.5" r="5.55"/><circle cx="579.2" cy="1171.2" r="5.55"/><circle cx="572.5" cy="1271.7" r="5.55"/><circle cx="575.7" cy="1275.3" r="5.55"/><circle cx="581.3" cy="1188.5" r="5.55"/><circle cx="579.4" cy="1325.3" r="5.55"/><circle cx="583.6" cy="1219.5" r="5.55"/><circle cx="575.7" cy="1174.4" r="5.55"/><circle cx="583.5" cy="1322.6" r="5.55"/><circle cx="577.7" cy="1228.7" r="5.55"/><circle cx="577.0" cy="1281.1" r="5.55"/><circle cx="579.1" cy="1180.1" r="5.55"/><circle cx="573.1" cy="1293.8" r="5.55"/><circle cx="581.1" cy="1217.8" r="5.55"/><circle cx="573.2" cy="1193.5" r="5.55"/><circle cx="578.6" cy="1255.9" r="5.55"/><circle cx="577.2" cy="1327.1" r="5.55"/><circle cx="581.5" cy="1206.6" r="5.55"/><circle cx="574.1" cy="1187.8" r="5.55"/><circle cx="579.1" cy="1191.1" r="5.55"/><circle cx="574.9" cy="1210.9" r="5.55"/><circle cx="583.4" cy="1171.3" r="5.55"/><circle cx="574.3" cy="1225.8" r="5.55"/><circle cx="579.6" cy="1217.6" r="5.55"/><circle cx="577.8" cy="1294.0" r="5.55"/><circle cx="579.4" cy="1241.4" r="5.55"/><circle cx="581.3" cy="1259.7" r="5.55"/><circle cx="579.3" cy="1251.9" r="5.55"/><circle cx="575.4" cy="1289.6" r="5.55"/><circle cx="582.7" cy="1236.1" r="5.55"/><circle cx="576.6" cy="1173.9" r="5.55"/><circle cx="578.7" cy="1246.6" r="5.55"/><circle cx="583.7" cy="1248.6" r="5.55"/><circle cx="575.4" cy="1202.8" r="5.55"/><circle cx="583.9" cy="1183.4" r="5.55"/><circle cx="577.5" cy="1264.7" r="5.55"/><circle cx="580.7" cy="1265.3" r="5.55"/><circle cx="574.7" cy="1226.4" r="5.55"/><circle cx="582.9" cy="1244.7" r="5.55"/><circle cx="577.9" cy="1158.6" r="5.55"/><circle cx="573.3" cy="1325.5" r="5.55"/><circle cx="583.4" cy="1284.7" r="5.55"/><circle cx="579.3" cy="1309.8" r="5.55"/><circle cx="577.0" cy="1245.9" r="5.55"/><circle cx="575.2" cy="1247.1" r="5.55"/><circle cx="572.8" cy="1228.4" r="5.55"/><circle cx="578.3" cy="1138.6" r="5.55"/><circle cx="577.5" cy="1126.9" r="5.55"/><circle cx="575.8" cy="1213.4" r="5.55"/><circle cx="581.6" cy="1255.5" r="5.55"/><circle cx="573.0" cy="1284.5" r="5.55"/><circle cx="572.2" cy="1191.0" r="5.55"/><circle cx="575.1" cy="1198.3" r="5.55"/><circle cx="582.1" cy="1144.7" r="5.55"/><circle cx="581.0" cy="1213.6" r="5.55"/><circle cx="574.7" cy="1301.5" r="5.55"/><circle cx="572.7" cy="1296.9" r="5.55"/><circle cx="583.3" cy="1286.2" r="5.55"/><circle cx="582.3" cy="1247.1" r="5.55"/><circle cx="588.8" cy="1203.9" r="5.55"/><circle cx="586.5" cy="1169.5" r="5.55"/><circle cx="594.4" cy="1337.1" r="5.55"/><circle cx="596.0" cy="1203.7" r="5.55"/><circle cx="595.3" cy="1223.0" r="5.55"/><circle cx="591.6" cy="1228.5" r="5.55"/><circle cx="587.4" cy="1228.4" r="5.55"/><circle cx="585.0" cy="1296.3" r="5.55"/><circle cx="594.6" cy="1164.9" r="5.55"/><circle cx="585.7" cy="1194.6" r="5.55"/><circle cx="595.0" cy="1277.1" r="5.55"/><circle cx="584.9" cy="1192.9" r="5.55"/><circle cx="594.5" cy="1134.9" r="5.55"/><circle cx="594.5" cy="1184.1" r="5.55"/><circle cx="587.6" cy="1174.4" r="5.55"/><circle cx="595.6" cy="1272.5" r="5.55"/><circle cx="588.3" cy="1247.8" r="5.55"/><circle cx="590.2" cy="1157.6" r="5.55"/><circle cx="594.1" cy="1170.2" r="5.55"/><circle cx="585.0" cy="1188.9" r="5.55"/><circle cx="595.3" cy="1172.0" r="5.55"/><circle cx="588.0" cy="1282.7" r="5.55"/><circle cx="592.1" cy="1193.6" r="5.55"/><circle cx="585.6" cy="1303.7" r="5.55"/><circle cx="586.8" cy="1180.7" r="5.55"/><circle cx="594.4" cy="1276.4" r="5.55"/><circle cx="588.6" cy="1154.0" r="5.55"/><circle cx="588.6" cy="1362.0" r="5.55"/><circle cx="592.3" cy="1207.8" r="5.55"/><circle cx="584.3" cy="1260.4" r="5.55"/><circle cx="591.2" cy="1142.7" r="5.55"/><circle cx="588.4" cy="1236.6" r="5.55"/><circle cx="589.1" cy="1254.8" r="5.55"/><circle cx="595.3" cy="1259.0" r="5.55"/><circle cx="596.3" cy="1267.2" r="5.55"/><circle cx="594.1" cy="1197.8" r="5.55"/><circle cx="594.6" cy="1211.9" r="5.55"/><circle cx="585.3" cy="1231.5" r="5.55"/><circle cx="593.8" cy="1200.7" r="5.55"/><circle cx="588.8" cy="1259.4" r="5.55"/><circle cx="587.6" cy="1210.4" r="5.55"/><circle cx="592.0" cy="1242.6" r="5.55"/><circle cx="584.7" cy="1161.6" r="5.55"/><circle cx="592.4" cy="1187.3" r="5.55"/><circle cx="589.2" cy="1198.3" r="5.55"/><circle cx="585.9" cy="1178.5" r="5.55"/><circle cx="585.8" cy="1247.2" r="5.55"/><circle cx="589.4" cy="1201.6" r="5.55"/><circle cx="586.5" cy="1291.3" r="5.55"/><circle cx="589.0" cy="1160.0" r="5.55"/><circle cx="586.2" cy="1183.2" r="5.55"/><circle cx="592.4" cy="1320.2" r="5.55"/><circle cx="592.9" cy="1276.2" r="5.55"/><circle cx="591.3" cy="1242.5" r="5.55"/><circle cx="593.5" cy="1252.3" r="5.55"/><circle cx="593.9" cy="1243.9" r="5.55"/><circle cx="585.1" cy="1264.0" r="5.55"/><circle cx="589.5" cy="1228.6" r="5.55"/><circle cx="591.8" cy="1227.9" r="5.55"/><circle cx="588.9" cy="1169.2" r="5.55"/><circle cx="584.3" cy="1175.3" r="5.55"/><circle cx="584.7" cy="1231.5" r="5.55"/><circle cx="587.2" cy="1259.3" r="5.55"/><circle cx="593.0" cy="1270.0" r="5.55"/><circle cx="592.7" cy="1243.1" r="5.55"/><circle cx="586.4" cy="1313.7" r="5.55"/><circle cx="587.2" cy="1265.1" r="5.55"/><circle cx="589.5" cy="1206.0" r="5.55"/><circle cx="592.5" cy="1331.8" r="5.55"/><circle cx="584.8" cy="1240.8" r="5.55"/><circle cx="591.6" cy="1135.2" r="5.55"/><circle cx="596.2" cy="1263.1" r="5.55"/><circle cx="592.9" cy="1267.1" r="5.55"/><circle cx="589.2" cy="1201.4" r="5.55"/><circle cx="591.2" cy="1155.3" r="5.55"/><circle cx="585.0" cy="1215.7" r="5.55"/><circle cx="584.7" cy="1169.2" r="5.55"/><circle cx="586.9" cy="1243.9" r="5.55"/><circle cx="590.2" cy="1288.3" r="5.55"/><circle cx="590.4" cy="1172.9" r="5.55"/><circle cx="595.1" cy="1266.7" r="5.55"/><circle cx="589.8" cy="1280.3" r="5.55"/><circle cx="594.3" cy="1188.2" r="5.55"/><circle cx="593.1" cy="1227.8" r="5.55"/><circle cx="593.8" cy="1136.2" r="5.55"/><circle cx="591.2" cy="1230.5" r="5.55"/><circle cx="595.4" cy="1181.8" r="5.55"/><circle cx="593.4" cy="1253.9" r="5.55"/><circle cx="587.8" cy="1277.6" r="5.55"/><circle cx="590.4" cy="1166.8" r="5.55"/><circle cx="585.6" cy="1184.9" r="5.55"/><circle cx="589.9" cy="1206.9" r="5.55"/><circle cx="600.8" cy="1292.6" r="5.55"/><circle cx="597.5" cy="1165.8" r="5.55"/><circle cx="603.7" cy="1200.4" r="5.55"/><circle cx="603.3" cy="1266.3" r="5.55"/><circle cx="608.3" cy="1293.6" r="5.55"/><circle cx="601.2" cy="1328.6" r="5.55"/><circle cx="608.1" cy="1208.0" r="5.55"/><circle cx="607.0" cy="1256.5" r="5.55"/><circle cx="603.1" cy="1206.3" r="5.55"/><circle cx="600.2" cy="1248.3" r="5.55"/><circle cx="599.8" cy="1163.1" r="5.55"/><circle cx="608.1" cy="1264.9" r="5.55"/><circle cx="597.4" cy="1274.5" r="5.55"/><circle cx="607.6" cy="1266.9" r="5.55"/><circle cx="597.8" cy="1256.7" r="5.55"/><circle cx="597.9" cy="1172.7" r="5.55"/><circle cx="602.7" cy="1140.7" r="5.55"/><circle cx="596.7" cy="1269.1" r="5.55"/><circle cx="599.7" cy="1213.2" r="5.55"/><circle cx="604.7" cy="1269.4" r="5.55"/><circle cx="607.2" cy="1148.6" r="5.55"/><circle cx="604.9" cy="1248.0" r="5.55"/><circle cx="598.7" cy="1256.7" r="5.55"/><circle cx="604.4" cy="1218.2" r="5.55"/><circle cx="600.5" cy="1170.7" r="5.55"/><circle cx="601.7" cy="1238.9" r="5.55"/><circle cx="601.5" cy="1245.4" r="5.55"/><circle cx="606.8" cy="1160.3" r="5.55"/><circle cx="601.6" cy="1223.1" r="5.55"/><circle cx="605.0" cy="1360.4" r="5.55"/><circle cx="607.7" cy="1155.9" r="5.55"/><circle cx="604.7" cy="1210.1" r="5.55"/><circle cx="598.1" cy="1173.4" r="5.55"/><circle cx="602.3" cy="1263.9" r="5.55"/><circle cx="605.8" cy="1251.4" r="5.55"/><circle cx="606.8" cy="1157.3" r="5.55"/><circle cx="601.6" cy="1138.6" r="5.55"/><circle cx="603.4" cy="1251.8" r="5.55"/><circle cx="599.7" cy="1204.5" r="5.55"/><circle cx="597.7" cy="1182.4" r="5.55"/><circle cx="599.7" cy="1213.1" r="5.55"/><circle cx="605.2" cy="1219.9" r="5.55"/><circle cx="601.6" cy="1257.1" r="5.55"/><circle cx="601.9" cy="1182.8" r="5.55"/><circle cx="599.0" cy="1243.0" r="5.55"/><circle cx="603.5" cy="1260.5" r="5.55"/><circle cx="604.8" cy="1222.1" r="5.55"/><circle cx="607.4" cy="1189.9" r="5.55"/><circle cx="609.2" cy="1201.8" r="5.55"/><circle cx="616.1" cy="1310.2" r="5.55"/><circle cx="612.9" cy="1272.1" r="5.55"/><circle cx="610.4" cy="1248.9" r="5.55"/><circle cx="613.7" cy="1152.4" r="5.55"/><circle cx="613.7" cy="1302.3" r="5.55"/><circle cx="612.5" cy="1196.2" r="5.55"/><circle cx="612.0" cy="1304.4" r="5.55"/><circle cx="610.3" cy="1200.4" r="5.55"/><circle cx="613.5" cy="1219.0" r="5.55"/><circle cx="619.3" cy="1207.9" r="5.55"/><circle cx="618.6" cy="1159.9" r="5.55"/><circle cx="609.6" cy="1223.1" r="5.55"/><circle cx="618.3" cy="1188.0" r="5.55"/><circle cx="610.3" cy="1214.0" r="5.55"/><circle cx="610.6" cy="1242.9" r="5.55"/><circle cx="619.1" cy="1204.3" r="5.55"/><circle cx="618.8" cy="1168.5" r="5.55"/><circle cx="614.2" cy="1231.3" r="5.55"/><circle cx="614.1" cy="1194.2" r="5.55"/><circle cx="613.3" cy="1183.3" r="5.55"/><circle cx="611.4" cy="1203.9" r="5.55"/><circle cx="609.5" cy="1178.5" r="5.55"/><circle cx="613.1" cy="1192.8" r="5.55"/><circle cx="620.7" cy="1256.4" r="5.55"/><circle cx="618.7" cy="1240.1" r="5.55"/><circle cx="619.5" cy="1182.6" r="5.55"/><circle cx="618.4" cy="1211.3" r="5.55"/><circle cx="617.6" cy="1246.8" r="5.55"/><circle cx="610.9" cy="1166.0" r="5.55"/><circle cx="619.2" cy="1193.1" r="5.55"/><circle cx="610.8" cy="1176.1" r="5.55"/><circle cx="611.5" cy="1193.7" r="5.55"/><circle cx="612.5" cy="1257.2" r="5.55"/><circle cx="617.7" cy="1307.2" r="5.55"/><circle cx="615.0" cy="1273.1" r="5.55"/><circle cx="613.4" cy="1205.6" r="5.55"/><circle cx="613.5" cy="1238.5" r="5.55"/><circle cx="616.2" cy="1229.1" r="5.55"/><circle cx="615.6" cy="1160.6" r="5.55"/><circle cx="618.9" cy="1163.9" r="5.55"/><circle cx="617.3" cy="1142.2" r="5.55"/><circle cx="609.8" cy="1237.7" r="5.55"/><circle cx="616.9" cy="1218.5" r="5.55"/><circle cx="610.1" cy="1154.3" r="5.55"/><circle cx="612.8" cy="1300.3" r="5.55"/><circle cx="620.4" cy="1173.7" r="5.55"/><circle cx="620.4" cy="1188.2" r="5.55"/><circle cx="608.6" cy="1229.0" r="5.55"/><circle cx="620.2" cy="1243.7" r="5.55"/><circle cx="629.9" cy="1205.9" r="5.55"/><circle cx="628.3" cy="1327.8" r="5.55"/><circle cx="625.4" cy="1228.7" r="5.55"/><circle cx="626.3" cy="1247.8" r="5.55"/><circle cx="623.2" cy="1206.4" r="5.55"/><circle cx="622.6" cy="1209.6" r="5.55"/><circle cx="623.5" cy="1187.6" r="5.55"/><circle cx="627.9" cy="1209.5" r="5.55"/><circle cx="630.3" cy="1220.8" r="5.55"/><circle cx="626.2" cy="1220.7" r="5.55"/><circle cx="629.8" cy="1204.5" r="5.55"/><circle cx="623.5" cy="1164.9" r="5.55"/><circle cx="629.3" cy="1200.7" r="5.55"/><circle cx="630.5" cy="1163.9" r="5.55"/><circle cx="628.0" cy="1186.1" r="5.55"/><circle cx="631.1" cy="1204.5" r="5.55"/><circle cx="632.7" cy="1160.3" r="5.55"/><circle cx="630.2" cy="1208.4" r="5.55"/><circle cx="624.5" cy="1203.4" r="5.55"/><circle cx="628.7" cy="1179.9" r="5.55"/><circle cx="625.0" cy="1246.0" r="5.55"/><circle cx="620.9" cy="1274.7" r="5.55"/><circle cx="626.2" cy="1221.4" r="5.55"/><circle cx="626.1" cy="1213.7" r="5.55"/><circle cx="625.8" cy="1192.2" r="5.55"/><circle cx="632.5" cy="1161.5" r="5.55"/><circle cx="631.6" cy="1254.5" r="5.55"/><circle cx="626.0" cy="1177.8" r="5.55"/><circle cx="629.8" cy="1135.9" r="5.55"/><circle cx="622.7" cy="1162.9" r="5.55"/><circle cx="627.3" cy="1215.0" r="5.55"/><circle cx="632.6" cy="1223.3" r="5.55"/><circle cx="627.3" cy="1211.6" r="5.55"/><circle cx="630.1" cy="1177.3" r="5.55"/><circle cx="623.4" cy="1167.9" r="5.55"/><circle cx="627.0" cy="1232.9" r="5.55"/><circle cx="628.9" cy="1214.1" r="5.55"/><circle cx="643.8" cy="1155.3" r="5.55"/><circle cx="645.1" cy="1193.0" r="5.55"/><circle cx="644.6" cy="1243.8" r="5.55"/><circle cx="634.2" cy="1246.3" r="5.55"/><circle cx="644.3" cy="1133.8" r="5.55"/><circle cx="633.5" cy="1206.7" r="5.55"/><circle cx="638.9" cy="1265.9" r="5.55"/><circle cx="639.0" cy="1270.9" r="5.55"/><circle cx="633.9" cy="1229.8" r="5.55"/><circle cx="644.2" cy="1153.8" r="5.55"/><circle cx="642.4" cy="1163.9" r="5.55"/><circle cx="633.0" cy="1130.2" r="5.55"/><circle cx="635.6" cy="1168.2" r="5.55"/><circle cx="634.5" cy="1250.2" r="5.55"/><circle cx="641.1" cy="1243.1" r="5.55"/><circle cx="637.9" cy="1219.1" r="5.55"/><circle cx="636.1" cy="1189.2" r="5.55"/><circle cx="639.2" cy="1185.7" r="5.55"/><circle cx="636.4" cy="1176.4" r="5.55"/><circle cx="639.1" cy="1215.7" r="5.55"/><circle cx="639.2" cy="1305.8" r="5.55"/><circle cx="640.5" cy="1179.9" r="5.55"/><circle cx="638.2" cy="1208.2" r="5.55"/><circle cx="637.1" cy="1218.9" r="5.55"/><circle cx="641.9" cy="1230.2" r="5.55"/><circle cx="635.6" cy="1186.4" r="5.55"/><circle cx="636.3" cy="1204.3" r="5.55"/><circle cx="638.4" cy="1203.2" r="5.55"/><circle cx="634.0" cy="1208.5" r="5.55"/><circle cx="636.2" cy="1215.0" r="5.55"/><circle cx="636.0" cy="1260.3" r="5.55"/><circle cx="655.4" cy="1145.0" r="5.55"/><circle cx="648.4" cy="1220.1" r="5.55"/><circle cx="648.6" cy="1171.6" r="5.55"/><circle cx="655.4" cy="1307.4" r="5.55"/><circle cx="653.5" cy="1328.5" r="5.55"/><circle cx="647.7" cy="1155.8" r="5.55"/><circle cx="653.5" cy="1142.6" r="5.55"/><circle cx="652.1" cy="1134.2" r="5.55"/><circle cx="646.2" cy="1156.2" r="5.55"/><circle cx="654.0" cy="1165.4" r="5.55"/><circle cx="649.7" cy="1168.6" r="5.55"/><circle cx="655.9" cy="1176.3" r="5.55"/><circle cx="648.3" cy="1175.3" r="5.55"/><circle cx="653.0" cy="1227.2" r="5.55"/><circle cx="668.7" cy="1145.2" r="5.55"/><circle cx="662.0" cy="1120.0" r="5.55"/><circle cx="663.1" cy="1125.9" r="5.55"/><circle cx="664.5" cy="1155.4" r="5.55"/><circle cx="659.4" cy="1165.7" r="5.55"/><circle cx="665.8" cy="1168.5" r="5.55"/><circle cx="664.0" cy="1162.3" r="5.55"/><circle cx="662.1" cy="1141.1" r="5.55"/><circle cx="666.4" cy="1227.6" r="5.55"/><circle cx="664.8" cy="1315.5" r="5.55"/><circle cx="657.6" cy="1242.0" r="5.55"/><circle cx="665.1" cy="1178.0" r="5.55"/><circle cx="666.9" cy="1271.2" r="5.55"/><circle cx="660.0" cy="1244.1" r="5.55"/><circle cx="662.0" cy="1323.4" r="5.55"/><circle cx="675.1" cy="1201.8" r="5.55"/><circle cx="679.5" cy="1261.8" r="5.55"/><circle cx="680.0" cy="1160.0" r="5.55"/><circle cx="671.2" cy="1215.6" r="5.55"/><circle cx="676.2" cy="1246.3" r="5.55"/><circle cx="679.2" cy="1283.8" r="5.55"/><circle cx="681.4" cy="1144.6" r="5.55"/><circle cx="675.8" cy="1222.8" r="5.55"/><circle cx="682.6" cy="1278.9" r="5.55"/><circle cx="800.2" cy="870.0" r="5.55"/><circle cx="743.2" cy="881.1" r="5.55"/><circle cx="782.0" cy="892.9" r="5.55"/><circle cx="820.4" cy="889.0" r="5.55"/><circle cx="750.9" cy="901.9" r="5.55"/><circle cx="811.6" cy="901.3" r="5.55"/><circle cx="725.2" cy="909.0" r="5.55"/><circle cx="826.7" cy="909.0" r="5.55"/><circle cx="747.0" cy="917.0" r="5.55"/><circle cx="769.7" cy="913.5" r="5.55"/><circle cx="781.0" cy="927.4" r="5.55"/><circle cx="741.9" cy="961.8" r="5.55"/><circle cx="776.9" cy="971.6" r="5.55"/><circle cx="700.9" cy="986.3" r="5.55"/><circle cx="715.6" cy="992.4" r="5.55"/><circle cx="737.6" cy="991.8" r="5.55"/><circle cx="582.3" cy="942.9" r="5.55"/><circle cx="583.3" cy="962.7" r="5.55"/><circle cx="490.1" cy="964.4" r="5.55"/><circle cx="374.6" cy="1000.8" r="5.55"/><circle cx="486.7" cy="1001.5" r="5.55"/><circle cx="573.1" cy="1001.8" r="5.55"/><circle cx="603.6" cy="991.2" r="5.55"/><circle cx="514.4" cy="1026.2" r="5.55"/><circle cx="522.7" cy="1037.5" r="5.55"/><circle cx="423.9" cy="1038.8" r="5.55"/><circle cx="623.8" cy="1049.5" r="5.55"/><circle cx="635.8" cy="1058.7" r="5.55"/><circle cx="663.9" cy="1056.0" r="5.55"/><circle cx="611.1" cy="1068.7" r="5.55"/><circle cx="621.7" cy="1074.2" r="5.55"/><circle cx="626.9" cy="1081.7" r="5.55"/><circle cx="534.7" cy="1079.0" r="5.55"/><circle cx="386.6" cy="1082.4" r="5.55"/><circle cx="455.1" cy="1086.8" r="5.55"/><circle cx="459.6" cy="1095.4" r="5.55"/><circle cx="430.1" cy="1098.1" r="5.55"/><circle cx="571.0" cy="1089.2" r="5.55"/><circle cx="577.5" cy="1091.3" r="5.55"/><circle cx="584.4" cy="1092.0" r="5.55"/><circle cx="562.4" cy="1094.7" r="5.55"/><circle cx="561.4" cy="1105.0" r="5.55"/><circle cx="555.2" cy="1105.7" r="5.55"/><circle cx="422.6" cy="1113.2" r="5.55"/><circle cx="427.0" cy="1116.7" r="5.55"/><circle cx="455.5" cy="1115.3" r="5.55"/><circle cx="549.4" cy="1112.5" r="5.55"/><circle cx="546.0" cy="1117.7" r="5.55"/><circle cx="563.1" cy="1117.0" r="5.55"/><circle cx="552.1" cy="1122.8" r="5.55"/><circle cx="564.8" cy="1122.8" r="5.55"/><circle cx="424.3" cy="1130.4" r="5.55"/><circle cx="526.1" cy="1125.6" r="5.55"/><circle cx="391.0" cy="1133.5" r="5.55"/><circle cx="372.2" cy="1137.2" r="5.55"/><circle cx="472.3" cy="1137.9" r="5.55"/><circle cx="490.1" cy="1134.5" r="5.55"/><circle cx="507.2" cy="1134.5" r="5.55"/><circle cx="648.8" cy="1098.1" r="5.55"/><circle cx="664.6" cy="1092.7" r="5.55"/><circle cx="672.8" cy="1109.8" r="5.55"/><circle cx="646.1" cy="1111.9" r="5.55"/><circle cx="657.4" cy="1120.4" r="5.55"/><circle cx="648.8" cy="1124.5" r="5.55"/><circle cx="586.4" cy="1108.4" r="5.55"/><circle cx="600.8" cy="1107.1" r="5.55"/><circle cx="635.8" cy="1093.7" r="5.55"/><circle cx="853.7" cy="899.2" r="5.55"/><circle cx="854.7" cy="925.3" r="5.55"/><circle cx="888.4" cy="935.3" r="5.55"/><circle cx="1015.0" cy="928.6" r="5.55"/><circle cx="895.4" cy="966.3" r="5.55"/><circle cx="697.7" cy="1002.4" r="5.55"/><circle cx="716.4" cy="1010.1" r="5.55"/><circle cx="806.9" cy="1007.4" r="5.55"/><circle cx="834.6" cy="1008.4" r="5.55"/><circle cx="684.0" cy="1020.1" r="5.55"/><circle cx="769.8" cy="1027.5" r="5.55"/><circle cx="894.1" cy="1032.5" r="5.55"/><circle cx="765.8" cy="1047.8" r="5.55"/><circle cx="722.4" cy="1050.5" r="5.55"/><circle cx="901.1" cy="1048.5" r="5.55"/><circle cx="709.4" cy="1060.5" r="5.55"/><circle cx="822.0" cy="1057.5" r="5.55"/><circle cx="793.2" cy="1070.5" r="5.55"/><circle cx="795.9" cy="1078.2" r="5.55"/><circle cx="788.2" cy="1083.9" r="5.55"/><circle cx="812.6" cy="1076.2" r="5.55"/><circle cx="829.0" cy="1076.6" r="5.55"/><circle cx="876.4" cy="1075.2" r="5.55"/><circle cx="1009.7" cy="1075.2" r="5.55"/><circle cx="1020.0" cy="1073.2" r="5.55"/><circle cx="920.8" cy="1087.6" r="5.55"/><circle cx="810.3" cy="1094.9" r="5.55"/><circle cx="978.6" cy="1093.6" r="5.55"/><circle cx="862.7" cy="1096.9" r="5.55"/><circle cx="787.5" cy="1098.9" r="5.55"/><circle cx="686.7" cy="1097.3" r="5.55"/><circle cx="700.7" cy="1093.3" r="5.55"/><circle cx="794.9" cy="1104.4" r="5.55"/><circle cx="688.0" cy="1110.7" r="5.55"/><circle cx="966.9" cy="1115.1" r="5.55"/><circle cx="744.1" cy="1143.8" r="5.55"/><circle cx="783.2" cy="1163.8" r="5.55"/><circle cx="924.5" cy="1163.5" r="5.55"/><circle cx="870.0" cy="1185.5" r="5.55"/><circle cx="986.3" cy="1192.2" r="5.55"/><circle cx="744.1" cy="1190.5" r="5.55"/><circle cx="737.1" cy="1198.6" r="5.55"/><circle cx="774.9" cy="1200.2" r="5.55"/><circle cx="817.9" cy="1197.5" r="5.55"/><circle cx="796.9" cy="1207.2" r="5.55"/><circle cx="832.6" cy="1217.3" r="5.55"/><circle cx="682.7" cy="1186.9" r="5.55"/><circle cx="682.0" cy="1187.5" r="5.55"/><circle cx="682.7" cy="1196.9" r="5.55"/><circle cx="684.7" cy="1210.2" r="5.55"/><circle cx="695.7" cy="1215.3" r="5.55"/><circle cx="712.4" cy="1209.6" r="5.55"/><circle cx="690.0" cy="1222.9" r="5.55"/><circle cx="697.4" cy="1222.3" r="5.55"/><circle cx="707.7" cy="1222.3" r="5.55"/><circle cx="685.7" cy="1239.6" r="5.55"/><circle cx="712.4" cy="1248.3" r="5.55"/><circle cx="718.7" cy="1266.4" r="5.55"/><circle cx="731.8" cy="1269.4" r="5.55"/><circle cx="751.8" cy="1271.0" r="5.55"/><circle cx="784.2" cy="1271.0" r="5.55"/><circle cx="684.0" cy="1267.0" r="5.55"/><circle cx="793.2" cy="1287.1" r="5.55"/><circle cx="940.9" cy="1301.1" r="5.55"/><circle cx="683.3" cy="1313.8" r="5.55"/><circle cx="691.0" cy="1337.2" r="5.55"/><circle cx="727.1" cy="1344.2" r="5.55"/><circle cx="168.6" cy="1245.6" r="5.55"/><circle cx="197.8" cy="1372.5" r="5.55"/><circle cx="306.8" cy="1205.2" r="5.55"/><circle cx="332.0" cy="1187.9" r="5.55"/><circle cx="289.5" cy="1282.4" r="5.55"/><circle cx="274.6" cy="1340.4" r="5.55"/><circle cx="329.9" cy="1249.3" r="5.55"/><circle cx="332.0" cy="1288.1" r="5.55"/><circle cx="326.2" cy="1307.9" r="5.55"/><circle cx="326.2" cy="1332.2" r="5.55"/><circle cx="350.2" cy="1312.7" r="5.55"/><circle cx="347.5" cy="1213.1" r="5.55"/><circle cx="354.2" cy="1217.1" r="5.55"/><circle cx="358.1" cy="1242.0" r="5.55"/><circle cx="369.9" cy="1241.4" r="5.55"/><circle cx="372.4" cy="1348.2" r="5.55"/><circle cx="490.2" cy="1442.2" r="5.55"/><circle cx="655.4" cy="1456.9" r="5.55"/><circle cx="430.6" cy="1407.3" r="5.55"/><circle cx="456.6" cy="1407.3" r="5.55"/><circle cx="417.3" cy="1392.3" r="5.55"/><circle cx="520.5" cy="1395.9" r="5.55"/><circle cx="515.5" cy="1383.3" r="5.55"/><circle cx="543.8" cy="1375.6" r="5.55"/><circle cx="381.0" cy="1379.0" r="5.55"/><circle cx="396.6" cy="1376.6" r="5.55"/><circle cx="453.3" cy="1385.3" r="5.55"/><circle cx="479.9" cy="1381.6" r="5.55"/><circle cx="439.9" cy="1381.6" r="5.55"/><circle cx="433.3" cy="1381.6" r="5.55"/><circle cx="569.8" cy="1334.7" r="5.55"/><circle cx="585.8" cy="1342.7" r="5.55"/><circle cx="553.2" cy="1351.6" r="5.55"/><circle cx="532.2" cy="1364.3" r="5.55"/><circle cx="513.2" cy="1371.6" r="5.55"/><circle cx="464.9" cy="1375.0" r="5.55"/><circle cx="499.9" cy="1363.3" r="5.55"/>
</g>
<g class="y" fill="rgb(255,208,0)" fill-opacity="0.5">
<circle cx="351.2" cy="1291.0" r="5.55"/><circle cx="348.0" cy="1256.3" r="5.55"/><circle cx="361.7" cy="1322.9" r="5.55"/><circle cx="363.7" cy="1310.5" r="5.55"/><circle cx="360.3" cy="1310.0" r="5.55"/><circle cx="355.7" cy="1264.5" r="5.55"/><circle cx="361.5" cy="1325.0" r="5.55"/><circle cx="357.4" cy="1289.2" r="5.55"/><circle cx="361.7" cy="1336.7" r="5.55"/><circle cx="362.5" cy="1341.6" r="5.55"/><circle cx="357.9" cy="1332.7" r="5.55"/><circle cx="354.4" cy="1254.5" r="5.55"/><circle cx="361.1" cy="1308.4" r="5.55"/><circle cx="362.7" cy="1242.2" r="5.55"/><circle cx="364.8" cy="1260.2" r="5.55"/><circle cx="355.6" cy="1265.7" r="5.55"/><circle cx="363.7" cy="1341.9" r="5.55"/><circle cx="357.4" cy="1298.9" r="5.55"/><circle cx="362.7" cy="1311.5" r="5.55"/><circle cx="359.0" cy="1337.6" r="5.55"/><circle cx="357.0" cy="1295.6" r="5.55"/><circle cx="356.1" cy="1333.8" r="5.55"/><circle cx="367.2" cy="1317.9" r="5.55"/><circle cx="366.3" cy="1287.8" r="5.55"/><circle cx="366.1" cy="1260.7" r="5.55"/><circle cx="367.4" cy="1335.7" r="5.55"/><circle cx="366.9" cy="1323.6" r="5.55"/><circle cx="377.0" cy="1303.7" r="5.55"/><circle cx="375.8" cy="1346.6" r="5.55"/><circle cx="374.1" cy="1313.0" r="5.55"/><circle cx="365.7" cy="1226.9" r="5.55"/><circle cx="371.1" cy="1231.1" r="5.55"/><circle cx="373.5" cy="1265.7" r="5.55"/><circle cx="374.0" cy="1306.6" r="5.55"/><circle cx="374.2" cy="1329.8" r="5.55"/><circle cx="371.7" cy="1244.0" r="5.55"/><circle cx="366.0" cy="1289.2" r="5.55"/><circle cx="376.2" cy="1248.4" r="5.55"/><circle cx="372.9" cy="1293.1" r="5.55"/><circle cx="376.3" cy="1314.0" r="5.55"/><circle cx="376.7" cy="1337.0" r="5.55"/><circle cx="366.9" cy="1291.8" r="5.55"/><circle cx="373.5" cy="1318.1" r="5.55"/><circle cx="370.8" cy="1314.0" r="5.55"/><circle cx="372.1" cy="1305.7" r="5.55"/><circle cx="375.4" cy="1278.3" r="5.55"/><circle cx="388.6" cy="1266.8" r="5.55"/><circle cx="383.2" cy="1337.4" r="5.55"/><circle cx="385.9" cy="1280.0" r="5.55"/><circle cx="389.5" cy="1349.4" r="5.55"/><circle cx="387.4" cy="1305.5" r="5.55"/><circle cx="383.6" cy="1277.2" r="5.55"/><circle cx="381.6" cy="1249.0" r="5.55"/><circle cx="384.4" cy="1213.7" r="5.55"/><circle cx="384.1" cy="1272.7" r="5.55"/><circle cx="380.3" cy="1253.1" r="5.55"/><circle cx="386.0" cy="1286.0" r="5.55"/><circle cx="383.8" cy="1279.2" r="5.55"/><circle cx="387.6" cy="1339.0" r="5.55"/><circle cx="386.5" cy="1304.9" r="5.55"/><circle cx="386.0" cy="1317.9" r="5.55"/><circle cx="388.9" cy="1160.2" r="5.55"/><circle cx="385.5" cy="1318.8" r="5.55"/><circle cx="378.2" cy="1342.9" r="5.55"/><circle cx="387.8" cy="1219.5" r="5.55"/><circle cx="388.3" cy="1300.8" r="5.55"/><circle cx="385.1" cy="1282.2" r="5.55"/><circle cx="385.6" cy="1271.2" r="5.55"/><circle cx="381.4" cy="1341.3" r="5.55"/><circle cx="385.4" cy="1313.0" r="5.55"/><circle cx="386.5" cy="1320.1" r="5.55"/><circle cx="379.1" cy="1233.1" r="5.55"/><circle cx="385.2" cy="1269.7" r="5.55"/><circle cx="382.2" cy="1301.6" r="5.55"/><circle cx="381.4" cy="1268.7" r="5.55"/><circle cx="383.5" cy="1322.9" r="5.55"/><circle cx="389.5" cy="1346.2" r="5.55"/><circle cx="388.1" cy="1251.5" r="5.55"/><circle cx="382.6" cy="1238.4" r="5.55"/><circle cx="385.6" cy="1301.6" r="5.55"/><circle cx="387.0" cy="1236.2" r="5.55"/><circle cx="388.4" cy="1258.5" r="5.55"/><circle cx="382.8" cy="1331.4" r="5.55"/><circle cx="377.9" cy="1320.8" r="5.55"/><circle cx="386.8" cy="1298.6" r="5.55"/><circle cx="384.9" cy="1253.3" r="5.55"/><circle cx="377.6" cy="1319.0" r="5.55"/><circle cx="383.5" cy="1266.9" r="5.55"/><circle cx="386.9" cy="1324.0" r="5.55"/><circle cx="399.1" cy="1270.7" r="5.55"/><circle cx="389.6" cy="1319.2" r="5.55"/><circle cx="397.8" cy="1332.5" r="5.55"/><circle cx="389.7" cy="1311.3" r="5.55"/><circle cx="400.9" cy="1297.1" r="5.55"/><circle cx="390.4" cy="1310.9" r="5.55"/><circle cx="394.9" cy="1243.6" r="5.55"/><circle cx="396.9" cy="1306.2" r="5.55"/><circle cx="400.9" cy="1275.7" r="5.55"/><circle cx="398.6" cy="1318.5" r="5.55"/><circle cx="399.7" cy="1336.9" r="5.55"/><circle cx="399.6" cy="1319.8" r="5.55"/><circle cx="395.9" cy="1267.4" r="5.55"/><circle cx="401.1" cy="1288.6" r="5.55"/><circle cx="392.2" cy="1326.8" r="5.55"/><circle cx="400.3" cy="1306.2" r="5.55"/><circle cx="390.5" cy="1237.1" r="5.55"/><circle cx="390.8" cy="1340.3" r="5.55"/><circle cx="391.2" cy="1344.8" r="5.55"/><circle cx="390.6" cy="1279.7" r="5.55"/><circle cx="393.6" cy="1281.9" r="5.55"/><circle cx="401.3" cy="1259.1" r="5.55"/><circle cx="399.4" cy="1318.3" r="5.55"/><circle cx="392.3" cy="1234.7" r="5.55"/><circle cx="399.7" cy="1356.3" r="5.55"/><circle cx="389.9" cy="1317.2" r="5.55"/><circle cx="394.3" cy="1337.2" r="5.55"/><circle cx="399.9" cy="1269.9" r="5.55"/><circle cx="395.0" cy="1351.7" r="5.55"/><circle cx="394.7" cy="1363.0" r="5.55"/><circle cx="390.7" cy="1332.6" r="5.55"/><circle cx="390.0" cy="1301.7" r="5.55"/><circle cx="394.6" cy="1315.2" r="5.55"/><circle cx="399.0" cy="1184.8" r="5.55"/><circle cx="393.5" cy="1305.3" r="5.55"/><circle cx="401.0" cy="1334.2" r="5.55"/><circle cx="401.0" cy="1333.7" r="5.55"/><circle cx="399.9" cy="1304.4" r="5.55"/><circle cx="394.7" cy="1269.1" r="5.55"/><circle cx="399.0" cy="1252.4" r="5.55"/><circle cx="394.7" cy="1285.4" r="5.55"/><circle cx="395.1" cy="1252.7" r="5.55"/><circle cx="399.4" cy="1260.4" r="5.55"/><circle cx="398.2" cy="1314.0" r="5.55"/><circle cx="394.5" cy="1341.6" r="5.55"/><circle cx="401.6" cy="1249.2" r="5.55"/><circle cx="392.8" cy="1353.6" r="5.55"/><circle cx="400.7" cy="1282.3" r="5.55"/><circle cx="396.4" cy="1238.4" r="5.55"/><circle cx="400.0" cy="1337.3" r="5.55"/><circle cx="390.6" cy="1333.3" r="5.55"/><circle cx="399.8" cy="1280.3" r="5.55"/><circle cx="395.6" cy="1345.2" r="5.55"/><circle cx="396.8" cy="1320.8" r="5.55"/><circle cx="391.8" cy="1304.8" r="5.55"/><circle cx="398.2" cy="1298.9" r="5.55"/><circle cx="391.1" cy="1290.4" r="5.55"/><circle cx="401.0" cy="1287.0" r="5.55"/><circle cx="393.0" cy="1352.8" r="5.55"/><circle cx="400.9" cy="1268.8" r="5.55"/><circle cx="391.7" cy="1304.7" r="5.55"/><circle cx="399.0" cy="1238.5" r="5.55"/><circle cx="398.4" cy="1296.3" r="5.55"/><circle cx="401.2" cy="1250.1" r="5.55"/><circle cx="399.1" cy="1303.8" r="5.55"/><circle cx="391.3" cy="1276.1" r="5.55"/><circle cx="397.8" cy="1371.8" r="5.55"/><circle cx="393.3" cy="1279.4" r="5.55"/><circle cx="393.9" cy="1320.2" r="5.55"/><circle cx="397.9" cy="1317.8" r="5.55"/><circle cx="399.6" cy="1373.6" r="5.55"/><circle cx="399.9" cy="1314.8" r="5.55"/><circle cx="401.1" cy="1241.6" r="5.55"/><circle cx="400.9" cy="1343.3" r="5.55"/><circle cx="399.6" cy="1333.6" r="5.55"/><circle cx="391.0" cy="1240.9" r="5.55"/><circle cx="400.9" cy="1274.0" r="5.55"/><circle cx="398.0" cy="1267.0" r="5.55"/><circle cx="391.3" cy="1295.9" r="5.55"/><circle cx="389.9" cy="1295.4" r="5.55"/><circle cx="400.9" cy="1275.4" r="5.55"/><circle cx="393.9" cy="1289.8" r="5.55"/><circle cx="391.6" cy="1362.2" r="5.55"/><circle cx="394.0" cy="1350.3" r="5.55"/><circle cx="396.3" cy="1346.0" r="5.55"/><circle cx="395.1" cy="1256.8" r="5.55"/><circle cx="400.4" cy="1225.0" r="5.55"/><circle cx="395.1" cy="1314.1" r="5.55"/><circle cx="399.8" cy="1354.2" r="5.55"/><circle cx="399.4" cy="1350.2" r="5.55"/><circle cx="395.1" cy="1308.2" r="5.55"/><circle cx="391.9" cy="1289.5" r="5.55"/><circle cx="393.4" cy="1322.3" r="5.55"/><circle cx="401.1" cy="1363.5" r="5.55"/><circle cx="398.4" cy="1259.3" r="5.55"/><circle cx="390.0" cy="1269.7" r="5.55"/><circle cx="393.3" cy="1196.1" r="5.55"/><circle cx="392.7" cy="1243.9" r="5.55"/><circle cx="390.9" cy="1297.7" r="5.55"/><circle cx="391.9" cy="1316.1" r="5.55"/><circle cx="391.2" cy="1272.1" r="5.55"/><circle cx="397.2" cy="1173.7" r="5.55"/><circle cx="395.5" cy="1315.2" r="5.55"/><circle cx="398.7" cy="1290.1" r="5.55"/><circle cx="393.7" cy="1302.6" r="5.55"/><circle cx="409.3" cy="1335.3" r="5.55"/><circle cx="405.2" cy="1298.1" r="5.55"/><circle cx="412.1" cy="1319.1" r="5.55"/><circle cx="404.4" cy="1195.0" r="5.55"/><circle cx="403.0" cy="1293.3" r="5.55"/><circle cx="407.0" cy="1313.5" r="5.55"/><circle cx="411.0" cy="1343.4" r="5.55"/><circle cx="403.4" cy="1334.0" r="5.55"/><circle cx="409.5" cy="1266.0" r="5.55"/><circle cx="406.0" cy="1262.1" r="5.55"/><circle cx="411.3" cy="1362.5" r="5.55"/><circle cx="403.9" cy="1294.2" r="5.55"/><circle cx="405.8" cy="1343.4" r="5.55"/><circle cx="411.9" cy="1267.5" r="5.55"/><circle cx="412.6" cy="1334.1" r="5.55"/><circle cx="406.6" cy="1150.6" r="5.55"/><circle cx="412.4" cy="1357.7" r="5.55"/><circle cx="413.2" cy="1275.4" r="5.55"/><circle cx="413.9" cy="1334.9" r="5.55"/><circle cx="410.9" cy="1337.2" r="5.55"/><circle cx="404.4" cy="1359.4" r="5.55"/><circle cx="404.2" cy="1339.3" r="5.55"/><circle cx="413.1" cy="1277.4" r="5.55"/><circle cx="401.7" cy="1328.9" r="5.55"/><circle cx="411.5" cy="1316.5" r="5.55"/><circle cx="405.9" cy="1317.5" r="5.55"/><circle cx="410.2" cy="1327.1" r="5.55"/><circle cx="402.9" cy="1289.4" r="5.55"/><circle cx="413.2" cy="1304.8" r="5.55"/><circle cx="409.7" cy="1343.7" r="5.55"/><circle cx="406.5" cy="1286.2" r="5.55"/><circle cx="404.6" cy="1350.3" r="5.55"/><circle cx="408.7" cy="1231.4" r="5.55"/><circle cx="403.6" cy="1358.1" r="5.55"/><circle cx="410.6" cy="1321.4" r="5.55"/><circle cx="411.5" cy="1340.8" r="5.55"/><circle cx="410.9" cy="1331.0" r="5.55"/><circle cx="404.6" cy="1323.7" r="5.55"/><circle cx="413.3" cy="1325.4" r="5.55"/><circle cx="412.7" cy="1291.2" r="5.55"/><circle cx="412.2" cy="1290.9" r="5.55"/><circle cx="407.1" cy="1259.3" r="5.55"/><circle cx="405.7" cy="1292.4" r="5.55"/><circle cx="403.9" cy="1210.0" r="5.55"/><circle cx="405.5" cy="1306.9" r="5.55"/><circle cx="402.5" cy="1293.7" r="5.55"/><circle cx="404.2" cy="1263.4" r="5.55"/><circle cx="407.8" cy="1326.3" r="5.55"/><circle cx="412.2" cy="1345.4" r="5.55"/><circle cx="409.1" cy="1255.0" r="5.55"/><circle cx="407.9" cy="1312.6" r="5.55"/><circle cx="406.3" cy="1318.4" r="5.55"/><circle cx="411.8" cy="1241.8" r="5.55"/><circle cx="406.3" cy="1261.6" r="5.55"/><circle cx="402.3" cy="1288.4" r="5.55"/><circle cx="408.2" cy="1299.1" r="5.55"/><circle cx="403.6" cy="1267.2" r="5.55"/><circle cx="406.7" cy="1314.7" r="5.55"/><circle cx="408.6" cy="1311.9" r="5.55"/><circle cx="404.5" cy="1274.6" r="5.55"/><circle cx="406.5" cy="1318.6" r="5.55"/><circle cx="410.9" cy="1254.5" r="5.55"/><circle cx="410.4" cy="1284.8" r="5.55"/><circle cx="413.9" cy="1335.2" r="5.55"/><circle cx="403.5" cy="1286.7" r="5.55"/><circle cx="402.5" cy="1282.4" r="5.55"/><circle cx="410.6" cy="1279.5" r="5.55"/><circle cx="412.1" cy="1365.0" r="5.55"/><circle cx="413.3" cy="1244.1" r="5.55"/><circle cx="405.5" cy="1253.7" r="5.55"/><circle cx="406.6" cy="1332.1" r="5.55"/><circle cx="407.7" cy="1354.6" r="5.55"/><circle cx="411.4" cy="1321.7" r="5.55"/><circle cx="404.0" cy="1166.2" r="5.55"/><circle cx="406.6" cy="1300.7" r="5.55"/><circle cx="402.0" cy="1350.6" r="5.55"/><circle cx="406.6" cy="1247.4" r="5.55"/><circle cx="406.8" cy="1263.5" r="5.55"/><circle cx="410.3" cy="1346.9" r="5.55"/><circle cx="406.8" cy="1351.5" r="5.55"/><circle cx="404.2" cy="1347.9" r="5.55"/><circle cx="412.9" cy="1307.7" r="5.55"/><circle cx="408.8" cy="1347.1" r="5.55"/><circle cx="403.8" cy="1318.8" r="5.55"/><circle cx="407.4" cy="1259.8" r="5.55"/><circle cx="403.8" cy="1314.5" r="5.55"/><circle cx="406.2" cy="1250.7" r="5.55"/><circle cx="401.8" cy="1247.9" r="5.55"/><circle cx="403.3" cy="1297.5" r="5.55"/><circle cx="405.4" cy="1293.8" r="5.55"/><circle cx="401.9" cy="1348.7" r="5.55"/><circle cx="409.0" cy="1274.7" r="5.55"/><circle cx="406.7" cy="1270.0" r="5.55"/><circle cx="405.5" cy="1345.3" r="5.55"/><circle cx="403.5" cy="1306.7" r="5.55"/><circle cx="407.1" cy="1289.6" r="5.55"/><circle cx="408.1" cy="1352.7" r="5.55"/><circle cx="407.3" cy="1264.2" r="5.55"/><circle cx="406.0" cy="1314.8" r="5.55"/><circle cx="402.8" cy="1235.0" r="5.55"/><circle cx="413.0" cy="1291.3" r="5.55"/><circle cx="405.3" cy="1282.5" r="5.55"/><circle cx="403.7" cy="1148.9" r="5.55"/><circle cx="402.9" cy="1242.8" r="5.55"/><circle cx="409.4" cy="1306.1" r="5.55"/><circle cx="411.1" cy="1350.5" r="5.55"/><circle cx="413.8" cy="1351.5" r="5.55"/><circle cx="408.7" cy="1201.0" r="5.55"/><circle cx="413.8" cy="1279.2" r="5.55"/><circle cx="405.2" cy="1334.8" r="5.55"/><circle cx="409.0" cy="1328.5" r="5.55"/><circle cx="413.1" cy="1352.6" r="5.55"/><circle cx="411.1" cy="1310.5" r="5.55"/><circle cx="406.5" cy="1346.9" r="5.55"/><circle cx="410.3" cy="1341.4" r="5.55"/><circle cx="412.8" cy="1283.1" r="5.55"/><circle cx="408.0" cy="1314.2" r="5.55"/><circle cx="407.9" cy="1315.9" r="5.55"/><circle cx="412.0" cy="1231.5" r="5.55"/><circle cx="411.0" cy="1309.5" r="5.55"/><circle cx="408.7" cy="1227.3" r="5.55"/><circle cx="408.0" cy="1264.5" r="5.55"/><circle cx="403.2" cy="1317.1" r="5.55"/><circle cx="411.1" cy="1253.1" r="5.55"/><circle cx="406.3" cy="1284.4" r="5.55"/><circle cx="411.8" cy="1335.4" r="5.55"/><circle cx="406.4" cy="1203.2" r="5.55"/><circle cx="401.7" cy="1320.6" r="5.55"/><circle cx="412.8" cy="1266.1" r="5.55"/><circle cx="410.0" cy="1286.5" r="5.55"/><circle cx="408.4" cy="1176.9" r="5.55"/><circle cx="403.6" cy="1233.6" r="5.55"/><circle cx="413.2" cy="1318.3" r="5.55"/><circle cx="404.7" cy="1316.0" r="5.55"/><circle cx="409.0" cy="1272.0" r="5.55"/><circle cx="411.9" cy="1341.0" r="5.55"/><circle cx="408.8" cy="1270.2" r="5.55"/><circle cx="412.3" cy="1306.5" r="5.55"/><circle cx="412.1" cy="1327.7" r="5.55"/><circle cx="403.2" cy="1319.4" r="5.55"/><circle cx="403.4" cy="1329.4" r="5.55"/><circle cx="409.1" cy="1311.4" r="5.55"/><circle cx="405.9" cy="1318.9" r="5.55"/><circle cx="413.2" cy="1349.9" r="5.55"/><circle cx="405.7" cy="1367.6" r="5.55"/><circle cx="403.8" cy="1339.7" r="5.55"/><circle cx="412.9" cy="1274.0" r="5.55"/><circle cx="409.0" cy="1296.9" r="5.55"/><circle cx="409.6" cy="1323.1" r="5.55"/><circle cx="410.8" cy="1360.2" r="5.55"/><circle cx="406.8" cy="1202.4" r="5.55"/><circle cx="410.3" cy="1267.3" r="5.55"/><circle cx="402.9" cy="1299.3" r="5.55"/><circle cx="403.4" cy="1310.3" r="5.55"/><circle cx="403.7" cy="1316.7" r="5.55"/><circle cx="410.3" cy="1274.0" r="5.55"/><circle cx="403.2" cy="1293.5" r="5.55"/><circle cx="409.5" cy="1336.1" r="5.55"/><circle cx="409.3" cy="1243.6" r="5.55"/><circle cx="410.9" cy="1292.4" r="5.55"/><circle cx="411.5" cy="1364.0" r="5.55"/><circle cx="409.4" cy="1187.0" r="5.55"/><circle cx="402.1" cy="1322.3" r="5.55"/><circle cx="412.2" cy="1272.5" r="5.55"/><circle cx="405.9" cy="1345.1" r="5.55"/><circle cx="402.3" cy="1275.4" r="5.55"/><circle cx="405.9" cy="1328.0" r="5.55"/><circle cx="411.7" cy="1268.9" r="5.55"/><circle cx="403.3" cy="1252.2" r="5.55"/><circle cx="403.7" cy="1267.1" r="5.55"/><circle cx="411.3" cy="1233.2" r="5.55"/><circle cx="406.0" cy="1307.7" r="5.55"/><circle cx="405.9" cy="1290.6" r="5.55"/><circle cx="412.1" cy="1291.7" r="5.55"/><circle cx="405.6" cy="1335.1" r="5.55"/><circle cx="413.9" cy="1281.9" r="5.55"/><circle cx="406.1" cy="1349.1" r="5.55"/><circle cx="401.9" cy="1317.9" r="5.55"/><circle cx="406.4" cy="1323.8" r="5.55"/><circle cx="402.3" cy="1313.3" r="5.55"/><circle cx="408.3" cy="1173.4" r="5.55"/><circle cx="410.7" cy="1321.9" r="5.55"/><circle cx="404.9" cy="1168.9" r="5.55"/><circle cx="409.4" cy="1350.9" r="5.55"/><circle cx="404.6" cy="1363.5" r="5.55"/><circle cx="410.1" cy="1306.5" r="5.55"/><circle cx="403.9" cy="1269.2" r="5.55"/><circle cx="413.4" cy="1277.3" r="5.55"/><circle cx="406.0" cy="1282.5" r="5.55"/><circle cx="410.6" cy="1261.3" r="5.55"/><circle cx="409.4" cy="1292.8" r="5.55"/><circle cx="411.6" cy="1286.8" r="5.55"/><circle cx="402.3" cy="1329.9" r="5.55"/><circle cx="409.8" cy="1369.5" r="5.55"/><circle cx="403.0" cy="1314.8" r="5.55"/><circle cx="411.3" cy="1264.0" r="5.55"/><circle cx="402.2" cy="1222.3" r="5.55"/><circle cx="424.3" cy="1330.7" r="5.55"/><circle cx="413.9" cy="1239.2" r="5.55"/><circle cx="424.3" cy="1307.9" r="5.55"/><circle cx="423.7" cy="1349.8" r="5.55"/><circle cx="418.1" cy="1310.8" r="5.55"/><circle cx="421.9" cy="1191.1" r="5.55"/><circle cx="424.9" cy="1315.7" r="5.55"/><circle cx="415.2" cy="1315.2" r="5.55"/><circle cx="420.3" cy="1322.2" r="5.55"/><circle cx="420.8" cy="1311.5" r="5.55"/><circle cx="418.2" cy="1293.3" r="5.55"/><circle cx="425.0" cy="1301.6" r="5.55"/><circle cx="417.3" cy="1326.6" r="5.55"/><circle cx="414.4" cy="1238.0" r="5.55"/><circle cx="425.7" cy="1259.0" r="5.55"/><circle cx="425.5" cy="1284.7" r="5.55"/><circle cx="424.4" cy="1278.6" r="5.55"/><circle cx="417.0" cy="1268.9" r="5.55"/><circle cx="422.9" cy="1248.4" r="5.55"/><circle cx="421.2" cy="1257.9" r="5.55"/><circle cx="425.3" cy="1280.5" r="5.55"/><circle cx="425.1" cy="1250.9" r="5.55"/><circle cx="418.6" cy="1315.4" r="5.55"/><circle cx="419.6" cy="1308.2" r="5.55"/><circle cx="425.7" cy="1181.6" r="5.55"/><circle cx="419.5" cy="1294.8" r="5.55"/><circle cx="421.5" cy="1349.6" r="5.55"/><circle cx="424.2" cy="1289.4" r="5.55"/><circle cx="424.0" cy="1254.2" r="5.55"/><circle cx="414.4" cy="1287.7" r="5.55"/><circle cx="423.2" cy="1304.8" r="5.55"/><circle cx="415.8" cy="1342.3" r="5.55"/><circle cx="420.8" cy="1341.6" r="5.55"/><circle cx="423.4" cy="1329.7" r="5.55"/><circle cx="421.4" cy="1343.8" r="5.55"/><circle cx="424.3" cy="1313.4" r="5.55"/><circle cx="416.9" cy="1304.2" r="5.55"/><circle cx="415.7" cy="1251.5" r="5.55"/><circle cx="422.8" cy="1324.1" r="5.55"/><circle cx="414.4" cy="1282.8" r="5.55"/><circle cx="416.7" cy="1323.5" r="5.55"/><circle cx="424.3" cy="1296.1" r="5.55"/><circle cx="422.2" cy="1268.4" r="5.55"/><circle cx="417.1" cy="1309.1" r="5.55"/><circle cx="423.4" cy="1350.0" r="5.55"/><circle cx="418.7" cy="1296.3" r="5.55"/><circle cx="425.4" cy="1240.2" r="5.55"/><circle cx="420.2" cy="1338.9" r="5.55"/><circle cx="415.3" cy="1326.7" r="5.55"/><circle cx="423.1" cy="1287.0" r="5.55"/><circle cx="421.1" cy="1348.6" r="5.55"/><circle cx="424.4" cy="1325.7" r="5.55"/><circle cx="422.8" cy="1282.6" r="5.55"/><circle cx="421.0" cy="1276.7" r="5.55"/><circle cx="414.8" cy="1268.4" r="5.55"/><circle cx="419.9" cy="1323.4" r="5.55"/><circle cx="421.3" cy="1272.9" r="5.55"/><circle cx="420.3" cy="1240.9" r="5.55"/><circle cx="425.2" cy="1304.7" r="5.55"/><circle cx="415.1" cy="1237.7" r="5.55"/><circle cx="417.8" cy="1346.4" r="5.55"/><circle cx="414.9" cy="1289.1" r="5.55"/><circle cx="417.0" cy="1253.5" r="5.55"/><circle cx="418.9" cy="1172.9" r="5.55"/><circle cx="416.1" cy="1327.4" r="5.55"/><circle cx="423.2" cy="1323.6" r="5.55"/><circle cx="423.9" cy="1187.1" r="5.55"/><circle cx="419.4" cy="1319.1" r="5.55"/><circle cx="420.0" cy="1307.8" r="5.55"/><circle cx="419.5" cy="1305.5" r="5.55"/><circle cx="415.3" cy="1320.8" r="5.55"/><circle cx="413.9" cy="1285.0" r="5.55"/><circle cx="421.2" cy="1320.4" r="5.55"/><circle cx="423.5" cy="1280.0" r="5.55"/><circle cx="425.4" cy="1313.9" r="5.55"/><circle cx="425.3" cy="1322.1" r="5.55"/><circle cx="421.8" cy="1315.9" r="5.55"/><circle cx="417.9" cy="1168.5" r="5.55"/><circle cx="419.1" cy="1278.6" r="5.55"/><circle cx="419.9" cy="1329.3" r="5.55"/><circle cx="420.9" cy="1295.7" r="5.55"/><circle cx="418.5" cy="1261.3" r="5.55"/><circle cx="422.2" cy="1295.5" r="5.55"/><circle cx="415.2" cy="1247.1" r="5.55"/><circle cx="418.7" cy="1306.7" r="5.55"/><circle cx="426.0" cy="1330.3" r="5.55"/><circle cx="414.9" cy="1268.0" r="5.55"/><circle cx="422.2" cy="1283.8" r="5.55"/><circle cx="422.8" cy="1357.5" r="5.55"/><circle cx="424.3" cy="1369.5" r="5.55"/><circle cx="422.6" cy="1350.9" r="5.55"/><circle cx="417.6" cy="1317.4" r="5.55"/><circle cx="422.2" cy="1294.4" r="5.55"/><circle cx="422.1" cy="1308.0" r="5.55"/><circle cx="425.4" cy="1302.6" r="5.55"/><circle cx="424.4" cy="1252.7" r="5.55"/><circle cx="420.0" cy="1272.5" r="5.55"/><circle cx="423.2" cy="1334.7" r="5.55"/><circle cx="422.5" cy="1252.1" r="5.55"/><circle cx="421.8" cy="1291.6" r="5.55"/><circle cx="413.9" cy="1299.3" r="5.55"/><circle cx="418.1" cy="1361.6" r="5.55"/><circle cx="420.9" cy="1265.5" r="5.55"/><circle cx="415.5" cy="1303.2" r="5.55"/><circle cx="417.7" cy="1359.0" r="5.55"/><circle cx="418.8" cy="1303.2" r="5.55"/><circle cx="425.1" cy="1209.8" r="5.55"/><circle cx="423.3" cy="1172.1" r="5.55"/><circle cx="417.5" cy="1266.7" r="5.55"/><circle cx="423.8" cy="1304.1" r="5.55"/><circle cx="420.6" cy="1311.6" r="5.55"/><circle cx="422.6" cy="1299.7" r="5.55"/><circle cx="416.5" cy="1291.2" r="5.55"/><circle cx="417.7" cy="1206.6" r="5.55"/><circle cx="422.1" cy="1258.2" r="5.55"/><circle cx="414.5" cy="1306.3" r="5.55"/><circle cx="424.8" cy="1280.9" r="5.55"/><circle cx="416.6" cy="1323.6" r="5.55"/><circle cx="421.0" cy="1326.8" r="5.55"/><circle cx="415.1" cy="1323.3" r="5.55"/><circle cx="416.7" cy="1262.6" r="5.55"/><circle cx="424.6" cy="1189.3" r="5.55"/><circle cx="423.5" cy="1341.8" r="5.55"/><circle cx="417.9" cy="1351.0" r="5.55"/><circle cx="418.9" cy="1336.0" r="5.55"/><circle cx="420.7" cy="1342.9" r="5.55"/><circle cx="415.6" cy="1304.8" r="5.55"/><circle cx="414.9" cy="1278.6" r="5.55"/><circle cx="417.8" cy="1339.7" r="5.55"/><circle cx="420.5" cy="1300.1" r="5.55"/><circle cx="414.9" cy="1234.4" r="5.55"/><circle cx="424.8" cy="1365.8" r="5.55"/><circle cx="421.6" cy="1306.7" r="5.55"/><circle cx="415.8" cy="1242.9" r="5.55"/><circle cx="416.0" cy="1372.7" r="5.55"/><circle cx="414.1" cy="1271.5" r="5.55"/><circle cx="417.9" cy="1236.2" r="5.55"/><circle cx="418.3" cy="1286.5" r="5.55"/><circle cx="425.9" cy="1295.1" r="5.55"/><circle cx="421.1" cy="1355.8" r="5.55"/><circle cx="424.6" cy="1350.1" r="5.55"/><circle cx="424.3" cy="1312.2" r="5.55"/><circle cx="415.6" cy="1326.7" r="5.55"/><circle cx="424.0" cy="1336.7" r="5.55"/><circle cx="418.1" cy="1304.8" r="5.55"/><circle cx="416.3" cy="1321.3" r="5.55"/><circle cx="425.5" cy="1267.4" r="5.55"/><circle cx="415.3" cy="1347.4" r="5.55"/><circle cx="418.5" cy="1334.5" r="5.55"/><circle cx="414.5" cy="1274.3" r="5.55"/><circle cx="416.3" cy="1183.5" r="5.55"/><circle cx="425.1" cy="1319.7" r="5.55"/><circle cx="420.9" cy="1268.1" r="5.55"/><circle cx="420.1" cy="1336.6" r="5.55"/><circle cx="419.7" cy="1318.9" r="5.55"/><circle cx="423.4" cy="1292.3" r="5.55"/><circle cx="423.2" cy="1277.4" r="5.55"/><circle cx="424.3" cy="1319.4" r="5.55"/><circle cx="421.2" cy="1357.0" r="5.55"/><circle cx="426.0" cy="1296.0" r="5.55"/><circle cx="425.0" cy="1310.8" r="5.55"/><circle cx="421.2" cy="1342.1" r="5.55"/><circle cx="414.0" cy="1343.9" r="5.55"/><circle cx="420.1" cy="1251.7" r="5.55"/><circle cx="416.9" cy="1310.9" r="5.55"/><circle cx="421.0" cy="1317.9" r="5.55"/><circle cx="421.1" cy="1326.0" r="5.55"/><circle cx="423.7" cy="1302.1" r="5.55"/><circle cx="419.8" cy="1298.0" r="5.55"/><circle cx="415.3" cy="1257.2" r="5.55"/><circle cx="419.5" cy="1314.6" r="5.55"/><circle cx="419.3" cy="1256.0" r="5.55"/><circle cx="414.9" cy="1269.9" r="5.55"/><circle cx="424.3" cy="1321.0" r="5.55"/><circle cx="421.4" cy="1324.1" r="5.55"/><circle cx="425.3" cy="1349.1" r="5.55"/><circle cx="415.8" cy="1257.5" r="5.55"/><circle cx="414.5" cy="1292.2" r="5.55"/><circle cx="418.4" cy="1340.9" r="5.55"/><circle cx="414.8" cy="1302.5" r="5.55"/><circle cx="419.2" cy="1246.8" r="5.55"/><circle cx="417.2" cy="1318.3" r="5.55"/><circle cx="416.8" cy="1303.6" r="5.55"/><circle cx="417.8" cy="1322.3" r="5.55"/><circle cx="421.9" cy="1310.4" r="5.55"/><circle cx="420.5" cy="1300.2" r="5.55"/><circle cx="418.8" cy="1325.9" r="5.55"/><circle cx="414.7" cy="1228.5" r="5.55"/><circle cx="417.8" cy="1322.6" r="5.55"/><circle cx="417.2" cy="1296.6" r="5.55"/><circle cx="423.3" cy="1317.8" r="5.55"/><circle cx="417.1" cy="1195.2" r="5.55"/><circle cx="418.8" cy="1286.0" r="5.55"/><circle cx="423.0" cy="1338.4" r="5.55"/><circle cx="423.1" cy="1292.5" r="5.55"/><circle cx="423.0" cy="1328.3" r="5.55"/><circle cx="420.0" cy="1299.1" r="5.55"/><circle cx="421.2" cy="1241.3" r="5.55"/><circle cx="422.2" cy="1288.0" r="5.55"/><circle cx="420.7" cy="1315.3" r="5.55"/><circle cx="422.7" cy="1334.2" r="5.55"/><circle cx="414.3" cy="1199.2" r="5.55"/><circle cx="421.8" cy="1310.9" r="5.55"/><circle cx="423.8" cy="1259.7" r="5.55"/><circle cx="424.3" cy="1332.6" r="5.55"/><circle cx="416.1" cy="1326.5" r="5.55"/><circle cx="418.7" cy="1283.0" r="5.55"/><circle cx="425.9" cy="1333.7" r="5.55"/><circle cx="417.5" cy="1318.6" r="5.55"/><circle cx="414.4" cy="1308.0" r="5.55"/><circle cx="414.0" cy="1322.0" r="5.55"/><circle cx="419.7" cy="1353.4" r="5.55"/><circle cx="423.3" cy="1253.0" r="5.55"/><circle cx="418.5" cy="1238.4" r="5.55"/><circle cx="418.4" cy="1349.5" r="5.55"/><circle cx="422.8" cy="1331.9" r="5.55"/><circle cx="418.8" cy="1256.9" r="5.55"/><circle cx="425.1" cy="1177.8" r="5.55"/><circle cx="424.3" cy="1318.1" r="5.55"/><circle cx="418.0" cy="1230.5" r="5.55"/><circle cx="424.9" cy="1302.0" r="5.55"/><circle cx="421.7" cy="1330.8" r="5.55"/><circle cx="424.7" cy="1319.8" r="5.55"/><circle cx="414.9" cy="1215.8" r="5.55"/><circle cx="419.4" cy="1343.5" r="5.55"/><circle cx="419.6" cy="1270.7" r="5.55"/><circle cx="416.6" cy="1300.6" r="5.55"/><circle cx="424.7" cy="1260.0" r="5.55"/><circle cx="416.8" cy="1287.9" r="5.55"/><circle cx="414.7" cy="1310.6" r="5.55"/><circle cx="421.8" cy="1284.7" r="5.55"/><circle cx="421.4" cy="1341.4" r="5.55"/><circle cx="416.0" cy="1314.1" r="5.55"/><circle cx="417.0" cy="1261.8" r="5.55"/><circle cx="414.9" cy="1326.6" r="5.55"/><circle cx="415.2" cy="1356.2" r="5.55"/><circle cx="418.5" cy="1306.1" r="5.55"/><circle cx="416.8" cy="1277.5" r="5.55"/><circle cx="425.1" cy="1340.5" r="5.55"/><circle cx="433.8" cy="1204.3" r="5.55"/><circle cx="431.7" cy="1336.5" r="5.55"/><circle cx="436.3" cy="1291.0" r="5.55"/><circle cx="430.7" cy="1281.4" r="5.55"/><circle cx="437.2" cy="1331.3" r="5.55"/><circle cx="430.1" cy="1201.8" r="5.55"/><circle cx="433.8" cy="1310.0" r="5.55"/><circle cx="435.5" cy="1268.1" r="5.55"/><circle cx="428.0" cy="1290.2" r="5.55"/><circle cx="432.2" cy="1272.1" r="5.55"/><circle cx="430.5" cy="1269.0" r="5.55"/><circle cx="429.6" cy="1334.7" r="5.55"/><circle cx="432.8" cy="1298.4" r="5.55"/><circle cx="427.2" cy="1277.3" r="5.55"/><circle cx="427.0" cy="1273.8" r="5.55"/><circle cx="426.7" cy="1325.7" r="5.55"/><circle cx="435.7" cy="1245.2" r="5.55"/><circle cx="435.2" cy="1273.2" r="5.55"/><circle cx="430.0" cy="1319.3" r="5.55"/><circle cx="428.9" cy="1257.3" r="5.55"/><circle cx="437.2" cy="1303.8" r="5.55"/><circle cx="427.0" cy="1339.6" r="5.55"/><circle cx="434.1" cy="1186.6" r="5.55"/><circle cx="431.7" cy="1289.0" r="5.55"/><circle cx="427.0" cy="1252.4" r="5.55"/><circle cx="427.1" cy="1353.5" r="5.55"/><circle cx="434.9" cy="1349.3" r="5.55"/><circle cx="432.3" cy="1327.7" r="5.55"/><circle cx="437.4" cy="1295.4" r="5.55"/><circle cx="434.2" cy="1299.4" r="5.55"/><circle cx="428.9" cy="1333.9" r="5.55"/><circle cx="437.2" cy="1224.0" r="5.55"/><circle cx="428.1" cy="1321.3" r="5.55"/><circle cx="438.0" cy="1258.7" r="5.55"/><circle cx="435.6" cy="1245.5" r="5.55"/><circle cx="431.4" cy="1333.1" r="5.55"/><circle cx="433.4" cy="1314.7" r="5.55"/><circle cx="434.6" cy="1311.7" r="5.55"/><circle cx="434.5" cy="1338.0" r="5.55"/><circle cx="431.7" cy="1311.0" r="5.55"/><circle cx="429.1" cy="1338.8" r="5.55"/><circle cx="435.3" cy="1308.9" r="5.55"/><circle cx="430.9" cy="1271.6" r="5.55"/><circle cx="435.7" cy="1239.9" r="5.55"/><circle cx="427.6" cy="1266.4" r="5.55"/><circle cx="437.1" cy="1313.1" r="5.55"/><circle cx="432.2" cy="1241.2" r="5.55"/><circle cx="434.8" cy="1351.6" r="5.55"/><circle cx="432.2" cy="1365.7" r="5.55"/><circle cx="431.0" cy="1269.0" r="5.55"/><circle cx="432.7" cy="1257.4" r="5.55"/><circle cx="430.0" cy="1333.2" r="5.55"/><circle cx="427.4" cy="1248.6" r="5.55"/><circle cx="430.7" cy="1327.6" r="5.55"/><circle cx="426.1" cy="1242.9" r="5.55"/><circle cx="428.0" cy="1344.3" r="5.55"/><circle cx="431.5" cy="1289.9" r="5.55"/><circle cx="429.4" cy="1334.0" r="5.55"/><circle cx="427.2" cy="1338.7" r="5.55"/><circle cx="430.1" cy="1254.7" r="5.55"/><circle cx="436.2" cy="1317.5" r="5.55"/><circle cx="436.5" cy="1315.5" r="5.55"/><circle cx="431.8" cy="1244.4" r="5.55"/><circle cx="438.1" cy="1295.5" r="5.55"/><circle cx="428.5" cy="1311.2" r="5.55"/><circle cx="431.2" cy="1304.7" r="5.55"/><circle cx="426.2" cy="1303.0" r="5.55"/><circle cx="437.3" cy="1208.4" r="5.55"/><circle cx="431.3" cy="1359.4" r="5.55"/><circle cx="432.8" cy="1251.4" r="5.55"/><circle cx="429.9" cy="1343.8" r="5.55"/><circle cx="429.8" cy="1320.1" r="5.55"/><circle cx="428.9" cy="1334.0" r="5.55"/><circle cx="433.5" cy="1346.5" r="5.55"/><circle cx="431.0" cy="1361.5" r="5.55"/><circle cx="436.0" cy="1313.6" r="5.55"/><circle cx="435.3" cy="1320.0" r="5.55"/><circle cx="428.7" cy="1373.5" r="5.55"/><circle cx="434.8" cy="1361.5" r="5.55"/><circle cx="426.4" cy="1225.2" r="5.55"/><circle cx="429.4" cy="1330.4" r="5.55"/><circle cx="436.7" cy="1350.5" r="5.55"/><circle cx="430.2" cy="1277.9" r="5.55"/><circle cx="431.3" cy="1342.9" r="5.55"/><circle cx="433.5" cy="1338.5" r="5.55"/><circle cx="437.7" cy="1276.4" r="5.55"/><circle cx="428.8" cy="1259.1" r="5.55"/><circle cx="431.1" cy="1286.7" r="5.55"/><circle cx="432.4" cy="1283.7" r="5.55"/><circle cx="433.8" cy="1199.2" r="5.55"/><circle cx="427.7" cy="1241.3" r="5.55"/><circle cx="435.6" cy="1324.9" r="5.55"/><circle cx="436.0" cy="1354.1" r="5.55"/><circle cx="427.6" cy="1328.3" r="5.55"/><circle cx="426.4" cy="1312.7" r="5.55"/><circle cx="436.9" cy="1319.9" r="5.55"/><circle cx="431.9" cy="1358.4" r="5.55"/><circle cx="434.5" cy="1259.3" r="5.55"/><circle cx="435.9" cy="1257.3" r="5.55"/><circle cx="436.7" cy="1302.1" r="5.55"/><circle cx="427.1" cy="1266.4" r="5.55"/><circle cx="428.5" cy="1239.2" r="5.55"/><circle cx="429.3" cy="1320.2" r="5.55"/><circle cx="433.7" cy="1316.1" r="5.55"/><circle cx="430.1" cy="1351.8" r="5.55"/><circle cx="436.5" cy="1280.7" r="5.55"/><circle cx="430.1" cy="1344.7" r="5.55"/><circle cx="437.7" cy="1287.1" r="5.55"/><circle cx="433.0" cy="1352.9" r="5.55"/><circle cx="428.9" cy="1277.7" r="5.55"/><circle cx="429.0" cy="1335.9" r="5.55"/><circle cx="436.3" cy="1358.6" r="5.55"/><circle cx="427.6" cy="1294.1" r="5.55"/><circle cx="436.0" cy="1329.3" r="5.55"/><circle cx="430.6" cy="1306.3" r="5.55"/><circle cx="430.8" cy="1331.2" r="5.55"/><circle cx="436.8" cy="1287.0" r="5.55"/><circle cx="435.6" cy="1295.7" r="5.55"/><circle cx="430.5" cy="1347.7" r="5.55"/><circle cx="426.1" cy="1267.1" r="5.55"/><circle cx="435.6" cy="1306.4" r="5.55"/><circle cx="427.6" cy="1311.2" r="5.55"/><circle cx="435.0" cy="1243.9" r="5.55"/><circle cx="438.2" cy="1288.4" r="5.55"/><circle cx="429.5" cy="1340.4" r="5.55"/><circle cx="436.0" cy="1331.9" r="5.55"/><circle cx="429.7" cy="1218.3" r="5.55"/><circle cx="426.6" cy="1256.0" r="5.55"/><circle cx="437.1" cy="1319.7" r="5.55"/><circle cx="428.2" cy="1335.3" r="5.55"/><circle cx="429.4" cy="1293.0" r="5.55"/><circle cx="435.1" cy="1261.8" r="5.55"/><circle cx="428.8" cy="1312.8" r="5.55"/><circle cx="434.2" cy="1258.0" r="5.55"/><circle cx="430.8" cy="1300.1" r="5.55"/><circle cx="433.6" cy="1312.4" r="5.55"/><circle cx="438.2" cy="1340.2" r="5.55"/><circle cx="432.7" cy="1318.4" r="5.55"/><circle cx="433.1" cy="1299.9" r="5.55"/><circle cx="437.5" cy="1318.9" r="5.55"/><circle cx="430.5" cy="1296.7" r="5.55"/><circle cx="430.7" cy="1268.2" r="5.55"/><circle cx="428.7" cy="1305.9" r="5.55"/><circle cx="436.0" cy="1304.4" r="5.55"/><circle cx="438.0" cy="1272.9" r="5.55"/><circle cx="429.4" cy="1331.3" r="5.55"/><circle cx="431.8" cy="1323.2" r="5.55"/><circle cx="430.3" cy="1249.0" r="5.55"/><circle cx="430.7" cy="1359.4" r="5.55"/><circle cx="426.7" cy="1304.0" r="5.55"/><circle cx="433.4" cy="1336.8" r="5.55"/><circle cx="436.0" cy="1310.7" r="5.55"/><circle cx="432.1" cy="1299.5" r="5.55"/><circle cx="426.3" cy="1265.0" r="5.55"/><circle cx="433.9" cy="1305.1" r="5.55"/><circle cx="436.8" cy="1290.8" r="5.55"/><circle cx="429.5" cy="1295.6" r="5.55"/><circle cx="433.2" cy="1311.2" r="5.55"/><circle cx="426.4" cy="1335.9" r="5.55"/><circle cx="432.7" cy="1302.4" r="5.55"/><circle cx="429.9" cy="1358.8" r="5.55"/><circle cx="431.7" cy="1314.3" r="5.55"/><circle cx="430.6" cy="1229.5" r="5.55"/><circle cx="434.5" cy="1367.3" r="5.55"/><circle cx="434.9" cy="1168.9" r="5.55"/><circle cx="435.5" cy="1345.4" r="5.55"/><circle cx="432.7" cy="1370.4" r="5.55"/><circle cx="426.2" cy="1241.0" r="5.55"/><circle cx="430.6" cy="1320.6" r="5.55"/><circle cx="426.7" cy="1319.7" r="5.55"/><circle cx="432.1" cy="1279.1" r="5.55"/><circle cx="431.3" cy="1269.3" r="5.55"/><circle cx="429.7" cy="1286.7" r="5.55"/><circle cx="431.3" cy="1350.4" r="5.55"/><circle cx="434.5" cy="1275.0" r="5.55"/><circle cx="426.9" cy="1271.3" r="5.55"/><circle cx="434.3" cy="1323.2" r="5.55"/><circle cx="426.1" cy="1256.8" r="5.55"/><circle cx="432.4" cy="1273.2" r="5.55"/><circle cx="431.6" cy="1278.8" r="5.55"/><circle cx="435.0" cy="1337.9" r="5.55"/><circle cx="433.1" cy="1321.2" r="5.55"/><circle cx="426.8" cy="1263.5" r="5.55"/><circle cx="426.9" cy="1327.9" r="5.55"/><circle cx="428.0" cy="1255.6" r="5.55"/><circle cx="427.0" cy="1268.0" r="5.55"/><circle cx="431.9" cy="1222.9" r="5.55"/><circle cx="431.6" cy="1292.3" r="5.55"/><circle cx="435.1" cy="1301.8" r="5.55"/><circle cx="434.0" cy="1295.1" r="5.55"/><circle cx="428.1" cy="1312.9" r="5.55"/><circle cx="435.8" cy="1316.6" r="5.55"/><circle cx="433.7" cy="1279.7" r="5.55"/><circle cx="427.7" cy="1305.5" r="5.55"/><circle cx="436.4" cy="1184.4" r="5.55"/><circle cx="435.7" cy="1324.2" r="5.55"/><circle cx="430.9" cy="1313.2" r="5.55"/><circle cx="432.8" cy="1330.0" r="5.55"/><circle cx="428.5" cy="1324.4" r="5.55"/><circle cx="436.2" cy="1251.1" r="5.55"/><circle cx="429.4" cy="1331.2" r="5.55"/><circle cx="427.3" cy="1296.9" r="5.55"/><circle cx="434.7" cy="1318.2" r="5.55"/><circle cx="434.9" cy="1283.3" r="5.55"/><circle cx="436.3" cy="1299.6" r="5.55"/><circle cx="435.7" cy="1304.8" r="5.55"/><circle cx="429.5" cy="1285.6" r="5.55"/><circle cx="433.7" cy="1340.8" r="5.55"/><circle cx="428.5" cy="1295.4" r="5.55"/><circle cx="433.0" cy="1294.3" r="5.55"/><circle cx="437.8" cy="1193.6" r="5.55"/><circle cx="431.3" cy="1314.3" r="5.55"/><circle cx="437.5" cy="1265.4" r="5.55"/><circle cx="432.4" cy="1313.3" r="5.55"/><circle cx="437.6" cy="1307.3" r="5.55"/><circle cx="432.2" cy="1227.8" r="5.55"/><circle cx="428.2" cy="1296.1" r="5.55"/><circle cx="427.9" cy="1336.2" r="5.55"/><circle cx="426.5" cy="1324.5" r="5.55"/><circle cx="428.9" cy="1310.5" r="5.55"/><circle cx="429.1" cy="1241.4" r="5.55"/><circle cx="432.4" cy="1312.2" r="5.55"/><circle cx="436.9" cy="1315.9" r="5.55"/><circle cx="436.1" cy="1299.6" r="5.55"/><circle cx="428.1" cy="1269.4" r="5.55"/><circle cx="434.2" cy="1250.6" r="5.55"/><circle cx="428.5" cy="1322.4" r="5.55"/><circle cx="435.4" cy="1357.5" r="5.55"/><circle cx="426.5" cy="1237.9" r="5.55"/><circle cx="430.5" cy="1259.7" r="5.55"/><circle cx="436.3" cy="1309.0" r="5.55"/><circle cx="429.9" cy="1321.9" r="5.55"/><circle cx="430.1" cy="1234.4" r="5.55"/><circle cx="435.8" cy="1281.7" r="5.55"/><circle cx="429.0" cy="1319.4" r="5.55"/><circle cx="433.3" cy="1326.5" r="5.55"/><circle cx="428.5" cy="1259.7" r="5.55"/><circle cx="429.4" cy="1290.4" r="5.55"/><circle cx="431.4" cy="1188.3" r="5.55"/><circle cx="426.2" cy="1231.4" r="5.55"/><circle cx="436.9" cy="1280.5" r="5.55"/><circle cx="433.0" cy="1360.8" r="5.55"/><circle cx="427.6" cy="1371.7" r="5.55"/><circle cx="430.1" cy="1363.1" r="5.55"/><circle cx="426.3" cy="1321.0" r="5.55"/><circle cx="430.0" cy="1286.3" r="5.55"/><circle cx="433.5" cy="1306.0" r="5.55"/><circle cx="430.8" cy="1327.6" r="5.55"/><circle cx="431.6" cy="1329.0" r="5.55"/><circle cx="430.7" cy="1350.4" r="5.55"/><circle cx="428.7" cy="1303.2" r="5.55"/><circle cx="438.0" cy="1327.3" r="5.55"/><circle cx="426.2" cy="1285.7" r="5.55"/><circle cx="428.1" cy="1246.2" r="5.55"/><circle cx="435.0" cy="1306.2" r="5.55"/><circle cx="431.1" cy="1273.4" r="5.55"/><circle cx="430.2" cy="1365.9" r="5.55"/><circle cx="427.0" cy="1334.9" r="5.55"/><circle cx="436.8" cy="1287.7" r="5.55"/><circle cx="432.5" cy="1285.6" r="5.55"/><circle cx="426.2" cy="1342.5" r="5.55"/><circle cx="429.6" cy="1287.3" r="5.55"/><circle cx="431.8" cy="1287.7" r="5.55"/><circle cx="435.6" cy="1231.4" r="5.55"/><circle cx="430.8" cy="1332.4" r="5.55"/><circle cx="427.9" cy="1282.4" r="5.55"/><circle cx="437.3" cy="1277.4" r="5.55"/><circle cx="434.0" cy="1285.3" r="5.55"/><circle cx="435.3" cy="1335.4" r="5.55"/><circle cx="432.1" cy="1343.7" r="5.55"/><circle cx="430.3" cy="1309.3" r="5.55"/><circle cx="437.0" cy="1347.2" r="5.55"/><circle cx="433.9" cy="1316.7" r="5.55"/><circle cx="435.2" cy="1272.9" r="5.55"/><circle cx="434.9" cy="1291.5" r="5.55"/><circle cx="436.5" cy="1305.3" r="5.55"/><circle cx="436.4" cy="1274.8" r="5.55"/><circle cx="426.9" cy="1289.6" r="5.55"/><circle cx="430.9" cy="1278.1" r="5.55"/><circle cx="433.0" cy="1311.9" r="5.55"/><circle cx="430.2" cy="1297.4" r="5.55"/><circle cx="427.9" cy="1267.6" r="5.55"/><circle cx="432.6" cy="1286.0" r="5.55"/><circle cx="437.9" cy="1286.2" r="5.55"/><circle cx="431.8" cy="1245.3" r="5.55"/><circle cx="435.9" cy="1336.7" r="5.55"/><circle cx="431.7" cy="1276.7" r="5.55"/><circle cx="426.1" cy="1178.7" r="5.55"/><circle cx="426.9" cy="1247.2" r="5.55"/><circle cx="435.4" cy="1310.2" r="5.55"/><circle cx="430.7" cy="1239.1" r="5.55"/><circle cx="431.3" cy="1283.7" r="5.55"/><circle cx="427.2" cy="1288.7" r="5.55"/><circle cx="434.4" cy="1281.2" r="5.55"/><circle cx="426.5" cy="1246.6" r="5.55"/><circle cx="435.1" cy="1334.6" r="5.55"/><circle cx="432.2" cy="1278.3" r="5.55"/><circle cx="436.9" cy="1292.2" r="5.55"/><circle cx="434.8" cy="1280.8" r="5.55"/><circle cx="428.9" cy="1286.1" r="5.55"/><circle cx="428.7" cy="1342.4" r="5.55"/><circle cx="429.5" cy="1255.4" r="5.55"/><circle cx="427.8" cy="1337.4" r="5.55"/><circle cx="430.1" cy="1299.1" r="5.55"/><circle cx="433.1" cy="1250.3" r="5.55"/><circle cx="426.7" cy="1269.1" r="5.55"/><circle cx="429.4" cy="1340.1" r="5.55"/><circle cx="430.6" cy="1281.2" r="5.55"/><circle cx="429.2" cy="1314.2" r="5.55"/><circle cx="437.5" cy="1350.7" r="5.55"/><circle cx="434.5" cy="1323.0" r="5.55"/><circle cx="435.1" cy="1342.2" r="5.55"/><circle cx="435.4" cy="1339.9" r="5.55"/><circle cx="433.6" cy="1351.8" r="5.55"/><circle cx="435.0" cy="1354.4" r="5.55"/><circle cx="432.3" cy="1274.2" r="5.55"/><circle cx="430.7" cy="1277.9" r="5.55"/><circle cx="432.7" cy="1299.2" r="5.55"/><circle cx="433.5" cy="1308.2" r="5.55"/><circle cx="434.9" cy="1288.3" r="5.55"/><circle cx="427.3" cy="1299.3" r="5.55"/><circle cx="427.6" cy="1296.0" r="5.55"/><circle cx="434.2" cy="1310.1" r="5.55"/><circle cx="428.8" cy="1307.1" r="5.55"/><circle cx="437.8" cy="1228.0" r="5.55"/><circle cx="427.6" cy="1338.0" r="5.55"/><circle cx="433.5" cy="1290.4" r="5.55"/><circle cx="432.4" cy="1279.9" r="5.55"/><circle cx="428.8" cy="1354.4" r="5.55"/><circle cx="427.6" cy="1259.6" r="5.55"/><circle cx="437.0" cy="1268.3" r="5.55"/><circle cx="435.8" cy="1361.5" r="5.55"/><circle cx="430.4" cy="1357.4" r="5.55"/><circle cx="427.7" cy="1177.4" r="5.55"/><circle cx="426.1" cy="1283.9" r="5.55"/><circle cx="436.1" cy="1221.0" r="5.55"/><circle cx="435.0" cy="1300.6" r="5.55"/><circle cx="434.6" cy="1271.3" r="5.55"/><circle cx="430.3" cy="1319.6" r="5.55"/><circle cx="428.3" cy="1299.6" r="5.55"/><circle cx="428.9" cy="1335.4" r="5.55"/><circle cx="427.9" cy="1298.0" r="5.55"/><circle cx="429.6" cy="1202.4" r="5.55"/><circle cx="438.1" cy="1314.7" r="5.55"/><circle cx="428.2" cy="1317.9" r="5.55"/><circle cx="435.6" cy="1199.9" r="5.55"/><circle cx="431.1" cy="1279.3" r="5.55"/><circle cx="435.3" cy="1323.6" r="5.55"/><circle cx="445.4" cy="1331.5" r="5.55"/><circle cx="449.7" cy="1310.8" r="5.55"/><circle cx="442.4" cy="1288.2" r="5.55"/><circle cx="447.2" cy="1311.8" r="5.55"/><circle cx="450.2" cy="1328.1" r="5.55"/><circle cx="445.9" cy="1243.8" r="5.55"/><circle cx="441.3" cy="1341.6" r="5.55"/><circle cx="444.4" cy="1356.5" r="5.55"/><circle cx="449.0" cy="1339.8" r="5.55"/><circle cx="445.9" cy="1354.2" r="5.55"/><circle cx="440.4" cy="1322.7" r="5.55"/><circle cx="439.3" cy="1225.2" r="5.55"/><circle cx="445.3" cy="1268.2" r="5.55"/><circle cx="450.4" cy="1360.1" r="5.55"/><circle cx="439.0" cy="1324.9" r="5.55"/><circle cx="442.5" cy="1318.6" r="5.55"/><circle cx="441.1" cy="1312.1" r="5.55"/><circle cx="439.3" cy="1256.3" r="5.55"/><circle cx="450.0" cy="1278.7" r="5.55"/><circle cx="440.4" cy="1347.2" r="5.55"/><circle cx="448.5" cy="1355.0" r="5.55"/><circle cx="444.6" cy="1201.6" r="5.55"/><circle cx="441.0" cy="1332.5" r="5.55"/><circle cx="442.2" cy="1339.9" r="5.55"/><circle cx="444.5" cy="1315.8" r="5.55"/><circle cx="449.5" cy="1271.6" r="5.55"/><circle cx="444.6" cy="1311.6" r="5.55"/><circle cx="448.7" cy="1259.2" r="5.55"/><circle cx="448.6" cy="1269.7" r="5.55"/><circle cx="445.3" cy="1321.6" r="5.55"/><circle cx="447.1" cy="1258.0" r="5.55"/><circle cx="438.9" cy="1300.0" r="5.55"/><circle cx="447.4" cy="1344.7" r="5.55"/><circle cx="449.8" cy="1306.9" r="5.55"/><circle cx="445.1" cy="1321.7" r="5.55"/><circle cx="448.1" cy="1352.7" r="5.55"/><circle cx="443.6" cy="1272.2" r="5.55"/><circle cx="438.9" cy="1264.7" r="5.55"/><circle cx="440.8" cy="1347.1" r="5.55"/><circle cx="446.1" cy="1321.2" r="5.55"/><circle cx="448.4" cy="1337.9" r="5.55"/><circle cx="445.5" cy="1347.7" r="5.55"/><circle cx="438.9" cy="1184.5" r="5.55"/><circle cx="440.1" cy="1279.6" r="5.55"/><circle cx="441.1" cy="1188.0" r="5.55"/><circle cx="447.3" cy="1274.0" r="5.55"/><circle cx="444.8" cy="1258.5" r="5.55"/><circle cx="448.0" cy="1243.1" r="5.55"/><circle cx="448.5" cy="1343.1" r="5.55"/><circle cx="438.4" cy="1350.8" r="5.55"/><circle cx="441.9" cy="1330.5" r="5.55"/><circle cx="445.3" cy="1321.7" r="5.55"/><circle cx="444.4" cy="1334.6" r="5.55"/><circle cx="439.3" cy="1200.8" r="5.55"/><circle cx="446.5" cy="1346.4" r="5.55"/><circle cx="448.5" cy="1369.2" r="5.55"/><circle cx="442.4" cy="1291.9" r="5.55"/><circle cx="439.7" cy="1241.4" r="5.55"/><circle cx="446.5" cy="1244.9" r="5.55"/><circle cx="447.8" cy="1320.6" r="5.55"/><circle cx="449.9" cy="1280.4" r="5.55"/><circle cx="448.0" cy="1328.7" r="5.55"/><circle cx="442.5" cy="1309.5" r="5.55"/><circle cx="446.6" cy="1300.8" r="5.55"/><circle cx="448.9" cy="1329.4" r="5.55"/><circle cx="441.1" cy="1311.4" r="5.55"/><circle cx="449.7" cy="1291.2" r="5.55"/><circle cx="441.4" cy="1282.1" r="5.55"/><circle cx="441.3" cy="1245.4" r="5.55"/><circle cx="449.1" cy="1211.2" r="5.55"/><circle cx="447.0" cy="1301.5" r="5.55"/><circle cx="444.5" cy="1343.2" r="5.55"/><circle cx="440.5" cy="1301.7" r="5.55"/><circle cx="439.2" cy="1254.3" r="5.55"/><circle cx="450.3" cy="1331.0" r="5.55"/><circle cx="447.2" cy="1304.9" r="5.55"/><circle cx="439.0" cy="1201.8" r="5.55"/><circle cx="443.9" cy="1296.3" r="5.55"/><circle cx="446.6" cy="1308.6" r="5.55"/><circle cx="448.2" cy="1334.0" r="5.55"/><circle cx="445.6" cy="1341.3" r="5.55"/><circle cx="446.8" cy="1270.5" r="5.55"/><circle cx="444.9" cy="1309.1" r="5.55"/><circle cx="447.8" cy="1340.1" r="5.55"/><circle cx="445.7" cy="1331.6" r="5.55"/><circle cx="448.1" cy="1321.4" r="5.55"/><circle cx="439.3" cy="1338.6" r="5.55"/><circle cx="441.6" cy="1253.9" r="5.55"/><circle cx="439.9" cy="1351.9" r="5.55"/><circle cx="443.5" cy="1316.1" r="5.55"/><circle cx="441.2" cy="1236.9" r="5.55"/><circle cx="443.2" cy="1273.1" r="5.55"/><circle cx="447.4" cy="1270.7" r="5.55"/><circle cx="440.4" cy="1257.8" r="5.55"/><circle cx="443.7" cy="1284.8" r="5.55"/><circle cx="444.7" cy="1260.0" r="5.55"/><circle cx="446.1" cy="1253.9" r="5.55"/><circle cx="449.9" cy="1271.7" r="5.55"/><circle cx="444.6" cy="1317.1" r="5.55"/><circle cx="445.2" cy="1358.3" r="5.55"/><circle cx="442.1" cy="1273.7" r="5.55"/><circle cx="445.0" cy="1247.9" r="5.55"/><circle cx="443.9" cy="1331.8" r="5.55"/><circle cx="448.5" cy="1347.3" r="5.55"/><circle cx="441.1" cy="1302.0" r="5.55"/><circle cx="450.3" cy="1310.5" r="5.55"/><circle cx="439.2" cy="1311.5" r="5.55"/><circle cx="441.6" cy="1266.0" r="5.55"/><circle cx="438.7" cy="1305.9" r="5.55"/><circle cx="438.6" cy="1274.9" r="5.55"/><circle cx="447.6" cy="1253.5" r="5.55"/><circle cx="442.0" cy="1252.3" r="5.55"/><circle cx="444.3" cy="1206.0" r="5.55"/><circle cx="441.8" cy="1279.7" r="5.55"/><circle cx="442.4" cy="1327.7" r="5.55"/><circle cx="449.7" cy="1283.0" r="5.55"/><circle cx="438.5" cy="1292.5" r="5.55"/><circle cx="441.3" cy="1259.0" r="5.55"/><circle cx="446.0" cy="1293.2" r="5.55"/><circle cx="439.3" cy="1332.5" r="5.55"/><circle cx="444.5" cy="1250.7" r="5.55"/><circle cx="442.4" cy="1139.5" r="5.55"/><circle cx="441.5" cy="1296.1" r="5.55"/><circle cx="447.5" cy="1338.3" r="5.55"/><circle cx="446.5" cy="1281.7" r="5.55"/><circle cx="447.2" cy="1331.8" r="5.55"/><circle cx="441.6" cy="1288.7" r="5.55"/><circle cx="442.1" cy="1310.9" r="5.55"/><circle cx="449.4" cy="1290.5" r="5.55"/><circle cx="439.3" cy="1246.1" r="5.55"/><circle cx="448.4" cy="1292.7" r="5.55"/><circle cx="439.0" cy="1346.9" r="5.55"/><circle cx="445.1" cy="1318.9" r="5.55"/><circle cx="441.2" cy="1275.7" r="5.55"/><circle cx="445.5" cy="1358.6" r="5.55"/><circle cx="446.3" cy="1161.9" r="5.55"/><circle cx="444.8" cy="1190.5" r="5.55"/><circle cx="440.6" cy="1283.7" r="5.55"/><circle cx="449.9" cy="1324.8" r="5.55"/><circle cx="444.6" cy="1299.7" r="5.55"/><circle cx="441.5" cy="1350.5" r="5.55"/><circle cx="441.5" cy="1310.5" r="5.55"/><circle cx="449.0" cy="1349.1" r="5.55"/><circle cx="443.2" cy="1338.3" r="5.55"/><circle cx="448.0" cy="1312.4" r="5.55"/><circle cx="445.7" cy="1236.0" r="5.55"/><circle cx="448.5" cy="1275.2" r="5.55"/><circle cx="438.7" cy="1371.1" r="5.55"/><circle cx="441.8" cy="1249.6" r="5.55"/><circle cx="448.9" cy="1330.4" r="5.55"/><circle cx="439.9" cy="1307.0" r="5.55"/><circle cx="448.1" cy="1327.7" r="5.55"/><circle cx="443.7" cy="1323.0" r="5.55"/><circle cx="439.3" cy="1311.5" r="5.55"/><circle cx="447.2" cy="1336.6" r="5.55"/><circle cx="440.0" cy="1333.5" r="5.55"/><circle cx="447.1" cy="1289.0" r="5.55"/><circle cx="443.1" cy="1330.1" r="5.55"/><circle cx="439.8" cy="1322.5" r="5.55"/><circle cx="440.6" cy="1297.3" r="5.55"/><circle cx="439.0" cy="1331.0" r="5.55"/><circle cx="449.9" cy="1303.1" r="5.55"/><circle cx="449.1" cy="1258.0" r="5.55"/><circle cx="441.3" cy="1283.5" r="5.55"/><circle cx="439.9" cy="1265.8" r="5.55"/><circle cx="446.8" cy="1297.7" r="5.55"/><circle cx="439.5" cy="1313.3" r="5.55"/><circle cx="442.9" cy="1276.5" r="5.55"/><circle cx="440.0" cy="1346.5" r="5.55"/><circle cx="441.5" cy="1320.5" r="5.55"/><circle cx="441.8" cy="1316.0" r="5.55"/><circle cx="447.3" cy="1196.5" r="5.55"/><circle cx="449.7" cy="1335.6" r="5.55"/><circle cx="443.5" cy="1313.1" r="5.55"/><circle cx="439.9" cy="1293.7" r="5.55"/><circle cx="442.9" cy="1336.5" r="5.55"/><circle cx="448.0" cy="1304.2" r="5.55"/><circle cx="450.3" cy="1322.3" r="5.55"/><circle cx="448.3" cy="1325.8" r="5.55"/><circle cx="441.6" cy="1327.9" r="5.55"/><circle cx="438.4" cy="1253.9" r="5.55"/><circle cx="444.0" cy="1283.6" r="5.55"/><circle cx="439.6" cy="1202.9" r="5.55"/><circle cx="440.9" cy="1252.9" r="5.55"/><circle cx="438.6" cy="1297.2" r="5.55"/><circle cx="444.4" cy="1364.8" r="5.55"/><circle cx="443.7" cy="1339.4" r="5.55"/><circle cx="443.9" cy="1260.4" r="5.55"/><circle cx="450.1" cy="1263.4" r="5.55"/><circle cx="440.7" cy="1331.1" r="5.55"/><circle cx="445.2" cy="1298.3" r="5.55"/><circle cx="445.2" cy="1247.9" r="5.55"/><circle cx="449.2" cy="1324.1" r="5.55"/><circle cx="443.4" cy="1365.9" r="5.55"/><circle cx="446.7" cy="1349.5" r="5.55"/><circle cx="447.8" cy="1241.3" r="5.55"/><circle cx="448.5" cy="1294.2" r="5.55"/><circle cx="441.7" cy="1298.1" r="5.55"/><circle cx="440.2" cy="1326.1" r="5.55"/><circle cx="447.2" cy="1169.9" r="5.55"/><circle cx="448.9" cy="1300.9" r="5.55"/><circle cx="450.1" cy="1334.1" r="5.55"/><circle cx="442.8" cy="1303.7" r="5.55"/><circle cx="445.9" cy="1280.3" r="5.55"/><circle cx="449.8" cy="1282.5" r="5.55"/><circle cx="440.1" cy="1304.6" r="5.55"/><circle cx="442.2" cy="1329.6" r="5.55"/><circle cx="450.2" cy="1309.9" r="5.55"/><circle cx="449.1" cy="1329.6" r="5.55"/><circle cx="442.1" cy="1278.4" r="5.55"/><circle cx="445.6" cy="1350.3" r="5.55"/><circle cx="448.2" cy="1321.9" r="5.55"/><circle cx="440.3" cy="1324.3" r="5.55"/><circle cx="450.1" cy="1300.2" r="5.55"/><circle cx="445.7" cy="1266.5" r="5.55"/><circle cx="439.0" cy="1329.4" r="5.55"/><circle cx="446.4" cy="1279.1" r="5.55"/><circle cx="440.3" cy="1255.7" r="5.55"/><circle cx="441.3" cy="1280.8" r="5.55"/><circle cx="445.9" cy="1257.7" r="5.55"/><circle cx="446.7" cy="1216.3" r="5.55"/><circle cx="442.1" cy="1321.2" r="5.55"/><circle cx="440.9" cy="1293.6" r="5.55"/><circle cx="442.4" cy="1316.9" r="5.55"/><circle cx="444.1" cy="1354.0" r="5.55"/><circle cx="440.1" cy="1216.4" r="5.55"/><circle cx="441.6" cy="1348.9" r="5.55"/><circle cx="446.1" cy="1329.5" r="5.55"/><circle cx="448.7" cy="1287.2" r="5.55"/><circle cx="444.5" cy="1250.8" r="5.55"/><circle cx="438.5" cy="1308.3" r="5.55"/><circle cx="447.2" cy="1277.1" r="5.55"/><circle cx="446.9" cy="1260.0" r="5.55"/><circle cx="447.9" cy="1349.4" r="5.55"/><circle cx="443.3" cy="1246.4" r="5.55"/><circle cx="438.5" cy="1329.5" r="5.55"/><circle cx="440.9" cy="1324.1" r="5.55"/><circle cx="450.1" cy="1273.5" r="5.55"/><circle cx="438.6" cy="1316.5" r="5.55"/><circle cx="440.6" cy="1316.2" r="5.55"/><circle cx="443.5" cy="1305.1" r="5.55"/><circle cx="445.7" cy="1272.6" r="5.55"/><circle cx="449.6" cy="1212.0" r="5.55"/><circle cx="445.7" cy="1226.3" r="5.55"/><circle cx="439.0" cy="1248.0" r="5.55"/><circle cx="441.4" cy="1318.7" r="5.55"/><circle cx="444.0" cy="1263.8" r="5.55"/><circle cx="439.6" cy="1318.4" r="5.55"/><circle cx="442.8" cy="1348.3" r="5.55"/><circle cx="442.8" cy="1302.2" r="5.55"/><circle cx="449.0" cy="1316.3" r="5.55"/><circle cx="440.9" cy="1310.0" r="5.55"/><circle cx="441.2" cy="1264.4" r="5.55"/><circle cx="444.3" cy="1268.5" r="5.55"/><circle cx="443.3" cy="1279.3" r="5.55"/><circle cx="444.5" cy="1323.2" r="5.55"/><circle cx="448.5" cy="1355.1" r="5.55"/><circle cx="443.6" cy="1323.6" r="5.55"/><circle cx="449.4" cy="1343.3" r="5.55"/><circle cx="448.4" cy="1344.7" r="5.55"/><circle cx="445.8" cy="1282.6" r="5.55"/><circle cx="446.3" cy="1290.7" r="5.55"/><circle cx="440.0" cy="1290.4" r="5.55"/><circle cx="448.5" cy="1320.1" r="5.55"/><circle cx="448.3" cy="1313.3" r="5.55"/><circle cx="449.6" cy="1252.1" r="5.55"/><circle cx="447.3" cy="1241.3" r="5.55"/><circle cx="439.7" cy="1219.9" r="5.55"/><circle cx="448.6" cy="1323.1" r="5.55"/><circle cx="444.1" cy="1304.2" r="5.55"/><circle cx="447.0" cy="1231.1" r="5.55"/><circle cx="440.8" cy="1338.7" r="5.55"/><circle cx="440.2" cy="1241.7" r="5.55"/><circle cx="441.9" cy="1272.0" r="5.55"/><circle cx="448.1" cy="1297.8" r="5.55"/><circle cx="440.3" cy="1270.4" r="5.55"/><circle cx="439.1" cy="1330.8" r="5.55"/><circle cx="446.5" cy="1193.8" r="5.55"/><circle cx="445.6" cy="1303.3" r="5.55"/><circle cx="450.0" cy="1370.7" r="5.55"/><circle cx="447.0" cy="1345.8" r="5.55"/><circle cx="441.6" cy="1282.2" r="5.55"/><circle cx="449.8" cy="1336.4" r="5.55"/><circle cx="444.6" cy="1325.0" r="5.55"/><circle cx="438.6" cy="1260.5" r="5.55"/><circle cx="441.6" cy="1238.8" r="5.55"/><circle cx="447.7" cy="1305.9" r="5.55"/><circle cx="442.5" cy="1351.5" r="5.55"/><circle cx="447.4" cy="1255.6" r="5.55"/><circle cx="447.4" cy="1268.7" r="5.55"/><circle cx="448.8" cy="1315.2" r="5.55"/><circle cx="439.2" cy="1320.6" r="5.55"/><circle cx="441.3" cy="1343.1" r="5.55"/><circle cx="446.4" cy="1304.7" r="5.55"/><circle cx="446.9" cy="1248.4" r="5.55"/><circle cx="442.0" cy="1323.3" r="5.55"/><circle cx="442.2" cy="1325.2" r="5.55"/><circle cx="446.0" cy="1304.9" r="5.55"/><circle cx="447.6" cy="1293.2" r="5.55"/><circle cx="445.9" cy="1359.6" r="5.55"/><circle cx="441.9" cy="1274.1" r="5.55"/><circle cx="444.2" cy="1346.7" r="5.55"/><circle cx="447.0" cy="1278.1" r="5.55"/><circle cx="445.2" cy="1239.6" r="5.55"/><circle cx="439.1" cy="1362.2" r="5.55"/><circle cx="442.4" cy="1258.2" r="5.55"/><circle cx="439.1" cy="1285.0" r="5.55"/><circle cx="447.0" cy="1253.3" r="5.55"/><circle cx="443.5" cy="1328.7" r="5.55"/><circle cx="449.6" cy="1281.6" r="5.55"/><circle cx="444.8" cy="1312.5" r="5.55"/><circle cx="446.1" cy="1284.4" r="5.55"/><circle cx="439.1" cy="1315.8" r="5.55"/><circle cx="445.7" cy="1193.3" r="5.55"/><circle cx="444.7" cy="1354.0" r="5.55"/><circle cx="439.0" cy="1337.2" r="5.55"/><circle cx="440.5" cy="1268.4" r="5.55"/><circle cx="441.2" cy="1309.4" r="5.55"/><circle cx="449.8" cy="1343.1" r="5.55"/><circle cx="443.4" cy="1240.9" r="5.55"/><circle cx="448.4" cy="1262.9" r="5.55"/><circle cx="445.0" cy="1334.7" r="5.55"/><circle cx="441.5" cy="1326.8" r="5.55"/><circle cx="448.5" cy="1303.8" r="5.55"/><circle cx="443.2" cy="1295.7" r="5.55"/><circle cx="448.9" cy="1292.6" r="5.55"/><circle cx="444.7" cy="1310.6" r="5.55"/><circle cx="446.0" cy="1259.7" r="5.55"/><circle cx="443.4" cy="1239.3" r="5.55"/><circle cx="448.4" cy="1240.8" r="5.55"/><circle cx="442.1" cy="1260.0" r="5.55"/><circle cx="445.3" cy="1286.2" r="5.55"/><circle cx="439.9" cy="1300.1" r="5.55"/><circle cx="446.0" cy="1170.9" r="5.55"/><circle cx="444.1" cy="1291.3" r="5.55"/><circle cx="445.1" cy="1292.6" r="5.55"/><circle cx="442.0" cy="1293.8" r="5.55"/><circle cx="450.2" cy="1317.2" r="5.55"/><circle cx="443.5" cy="1242.8" r="5.55"/><circle cx="447.0" cy="1231.3" r="5.55"/><circle cx="445.3" cy="1326.5" r="5.55"/><circle cx="442.2" cy="1263.3" r="5.55"/><circle cx="439.9" cy="1327.1" r="5.55"/><circle cx="448.8" cy="1191.7" r="5.55"/><circle cx="446.0" cy="1339.2" r="5.55"/><circle cx="441.0" cy="1255.3" r="5.55"/><circle cx="445.7" cy="1225.0" r="5.55"/><circle cx="446.6" cy="1332.5" r="5.55"/><circle cx="441.8" cy="1319.4" r="5.55"/><circle cx="441.3" cy="1266.1" r="5.55"/><circle cx="447.2" cy="1324.3" r="5.55"/><circle cx="448.9" cy="1316.9" r="5.55"/><circle cx="446.4" cy="1331.2" r="5.55"/><circle cx="447.2" cy="1279.7" r="5.55"/><circle cx="439.6" cy="1307.2" r="5.55"/><circle cx="443.3" cy="1326.2" r="5.55"/><circle cx="441.9" cy="1340.4" r="5.55"/><circle cx="443.8" cy="1332.4" r="5.55"/><circle cx="440.4" cy="1329.9" r="5.55"/><circle cx="450.1" cy="1267.0" r="5.55"/><circle cx="445.4" cy="1320.0" r="5.55"/><circle cx="443.3" cy="1323.3" r="5.55"/><circle cx="449.4" cy="1304.3" r="5.55"/><circle cx="449.0" cy="1320.1" r="5.55"/><circle cx="446.7" cy="1285.2" r="5.55"/><circle cx="440.1" cy="1219.8" r="5.55"/><circle cx="443.9" cy="1344.6" r="5.55"/><circle cx="445.2" cy="1343.6" r="5.55"/><circle cx="447.0" cy="1346.1" r="5.55"/><circle cx="449.7" cy="1359.0" r="5.55"/><circle cx="448.8" cy="1248.3" r="5.55"/><circle cx="450.4" cy="1185.8" r="5.55"/><circle cx="449.2" cy="1358.6" r="5.55"/><circle cx="448.9" cy="1344.8" r="5.55"/><circle cx="449.2" cy="1334.8" r="5.55"/><circle cx="448.6" cy="1279.9" r="5.55"/><circle cx="444.1" cy="1272.2" r="5.55"/><circle cx="438.8" cy="1282.8" r="5.55"/><circle cx="459.2" cy="1225.7" r="5.55"/><circle cx="453.6" cy="1321.8" r="5.55"/><circle cx="457.7" cy="1296.0" r="5.55"/><circle cx="452.0" cy="1208.8" r="5.55"/><circle cx="455.3" cy="1335.9" r="5.55"/><circle cx="461.4" cy="1281.8" r="5.55"/><circle cx="453.1" cy="1163.0" r="5.55"/><circle cx="455.8" cy="1249.6" r="5.55"/><circle cx="460.1" cy="1367.0" r="5.55"/><circle cx="453.6" cy="1183.1" r="5.55"/><circle cx="451.6" cy="1263.0" r="5.55"/><circle cx="454.8" cy="1249.3" r="5.55"/><circle cx="454.9" cy="1369.0" r="5.55"/><circle cx="461.9" cy="1365.5" r="5.55"/><circle cx="458.0" cy="1227.9" r="5.55"/><circle cx="462.0" cy="1260.6" r="5.55"/><circle cx="452.8" cy="1308.6" r="5.55"/><circle cx="455.7" cy="1358.1" r="5.55"/><circle cx="452.3" cy="1308.2" r="5.55"/><circle cx="452.5" cy="1345.0" r="5.55"/><circle cx="452.5" cy="1173.8" r="5.55"/><circle cx="462.3" cy="1283.7" r="5.55"/><circle cx="451.9" cy="1317.5" r="5.55"/><circle cx="456.3" cy="1345.6" r="5.55"/><circle cx="451.2" cy="1309.6" r="5.55"/><circle cx="455.9" cy="1305.7" r="5.55"/><circle cx="452.1" cy="1255.7" r="5.55"/><circle cx="461.7" cy="1248.0" r="5.55"/><circle cx="461.1" cy="1326.4" r="5.55"/><circle cx="461.7" cy="1233.0" r="5.55"/><circle cx="461.2" cy="1347.5" r="5.55"/><circle cx="450.7" cy="1357.4" r="5.55"/><circle cx="456.2" cy="1349.3" r="5.55"/><circle cx="450.7" cy="1308.0" r="5.55"/><circle cx="457.5" cy="1122.7" r="5.55"/><circle cx="457.5" cy="1260.1" r="5.55"/><circle cx="452.3" cy="1325.3" r="5.55"/><circle cx="457.0" cy="1335.8" r="5.55"/><circle cx="457.4" cy="1324.2" r="5.55"/><circle cx="454.7" cy="1263.0" r="5.55"/><circle cx="452.9" cy="1258.9" r="5.55"/><circle cx="450.4" cy="1311.1" r="5.55"/><circle cx="454.7" cy="1277.8" r="5.55"/><circle cx="457.3" cy="1347.5" r="5.55"/><circle cx="461.3" cy="1289.1" r="5.55"/><circle cx="452.9" cy="1296.2" r="5.55"/><circle cx="462.5" cy="1226.4" r="5.55"/><circle cx="458.4" cy="1195.0" r="5.55"/><circle cx="459.9" cy="1330.8" r="5.55"/><circle cx="462.4" cy="1296.9" r="5.55"/><circle cx="451.5" cy="1250.2" r="5.55"/><circle cx="454.3" cy="1306.3" r="5.55"/><circle cx="461.1" cy="1269.3" r="5.55"/><circle cx="457.4" cy="1345.4" r="5.55"/><circle cx="458.5" cy="1264.0" r="5.55"/><circle cx="452.3" cy="1273.4" r="5.55"/><circle cx="459.8" cy="1266.0" r="5.55"/><circle cx="459.7" cy="1296.4" r="5.55"/><circle cx="451.3" cy="1278.3" r="5.55"/><circle cx="461.7" cy="1303.4" r="5.55"/><circle cx="453.6" cy="1312.8" r="5.55"/><circle cx="456.8" cy="1303.3" r="5.55"/><circle cx="455.9" cy="1345.5" r="5.55"/><circle cx="453.9" cy="1274.6" r="5.55"/><circle cx="456.6" cy="1322.9" r="5.55"/><circle cx="457.9" cy="1320.0" r="5.55"/><circle cx="458.3" cy="1248.7" r="5.55"/><circle cx="451.0" cy="1308.3" r="5.55"/><circle cx="460.9" cy="1350.2" r="5.55"/><circle cx="454.4" cy="1321.3" r="5.55"/><circle cx="452.4" cy="1183.4" r="5.55"/><circle cx="460.4" cy="1265.7" r="5.55"/><circle cx="451.3" cy="1331.7" r="5.55"/><circle cx="455.6" cy="1304.5" r="5.55"/><circle cx="459.5" cy="1294.8" r="5.55"/><circle cx="461.9" cy="1313.5" r="5.55"/><circle cx="453.7" cy="1319.6" r="5.55"/><circle cx="461.8" cy="1283.5" r="5.55"/><circle cx="459.7" cy="1279.7" r="5.55"/><circle cx="455.2" cy="1335.1" r="5.55"/><circle cx="451.0" cy="1304.2" r="5.55"/><circle cx="461.8" cy="1306.6" r="5.55"/><circle cx="457.4" cy="1284.6" r="5.55"/><circle cx="454.2" cy="1362.6" r="5.55"/><circle cx="452.7" cy="1287.9" r="5.55"/><circle cx="458.5" cy="1344.3" r="5.55"/><circle cx="455.9" cy="1260.7" r="5.55"/><circle cx="452.4" cy="1305.1" r="5.55"/><circle cx="458.4" cy="1278.9" r="5.55"/><circle cx="461.1" cy="1270.6" r="5.55"/><circle cx="455.9" cy="1275.3" r="5.55"/><circle cx="453.3" cy="1368.3" r="5.55"/><circle cx="455.8" cy="1221.5" r="5.55"/><circle cx="453.0" cy="1339.0" r="5.55"/><circle cx="461.3" cy="1229.4" r="5.55"/><circle cx="456.5" cy="1348.5" r="5.55"/><circle cx="453.2" cy="1314.1" r="5.55"/><circle cx="456.5" cy="1304.6" r="5.55"/><circle cx="462.3" cy="1293.8" r="5.55"/><circle cx="454.9" cy="1227.9" r="5.55"/><circle cx="456.1" cy="1281.7" r="5.55"/><circle cx="459.1" cy="1262.9" r="5.55"/><circle cx="452.2" cy="1259.6" r="5.55"/><circle cx="461.5" cy="1275.6" r="5.55"/><circle cx="462.2" cy="1285.5" r="5.55"/><circle cx="457.6" cy="1329.3" r="5.55"/><circle cx="457.7" cy="1299.6" r="5.55"/><circle cx="457.9" cy="1257.9" r="5.55"/><circle cx="459.2" cy="1129.5" r="5.55"/><circle cx="458.8" cy="1315.3" r="5.55"/><circle cx="462.4" cy="1268.1" r="5.55"/><circle cx="454.4" cy="1197.8" r="5.55"/><circle cx="458.3" cy="1314.8" r="5.55"/><circle cx="461.8" cy="1311.2" r="5.55"/><circle cx="459.7" cy="1307.5" r="5.55"/><circle cx="458.9" cy="1341.1" r="5.55"/><circle cx="454.9" cy="1318.9" r="5.55"/><circle cx="459.3" cy="1282.0" r="5.55"/><circle cx="457.0" cy="1266.7" r="5.55"/><circle cx="457.2" cy="1372.5" r="5.55"/><circle cx="462.3" cy="1306.2" r="5.55"/><circle cx="455.0" cy="1267.6" r="5.55"/><circle cx="451.7" cy="1304.2" r="5.55"/><circle cx="452.4" cy="1300.6" r="5.55"/><circle cx="459.5" cy="1351.5" r="5.55"/><circle cx="459.2" cy="1198.9" r="5.55"/><circle cx="452.2" cy="1310.9" r="5.55"/><circle cx="453.4" cy="1297.7" r="5.55"/><circle cx="458.7" cy="1354.5" r="5.55"/><circle cx="458.0" cy="1279.6" r="5.55"/><circle cx="457.0" cy="1344.4" r="5.55"/><circle cx="458.9" cy="1331.5" r="5.55"/><circle cx="458.9" cy="1365.3" r="5.55"/><circle cx="462.3" cy="1190.4" r="5.55"/><circle cx="460.7" cy="1325.2" r="5.55"/><circle cx="458.0" cy="1324.6" r="5.55"/><circle cx="450.7" cy="1320.5" r="5.55"/><circle cx="454.0" cy="1267.6" r="5.55"/><circle cx="454.6" cy="1296.0" r="5.55"/><circle cx="453.8" cy="1235.8" r="5.55"/><circle cx="452.4" cy="1321.1" r="5.55"/><circle cx="461.7" cy="1320.2" r="5.55"/><circle cx="459.4" cy="1345.0" r="5.55"/><circle cx="460.5" cy="1353.8" r="5.55"/><circle cx="461.7" cy="1234.7" r="5.55"/><circle cx="451.4" cy="1276.4" r="5.55"/><circle cx="454.6" cy="1288.8" r="5.55"/><circle cx="460.9" cy="1295.3" r="5.55"/><circle cx="462.2" cy="1300.6" r="5.55"/><circle cx="454.7" cy="1298.7" r="5.55"/><circle cx="461.8" cy="1245.3" r="5.55"/><circle cx="457.7" cy="1325.6" r="5.55"/><circle cx="453.5" cy="1222.1" r="5.55"/><circle cx="460.2" cy="1328.4" r="5.55"/><circle cx="453.9" cy="1277.3" r="5.55"/><circle cx="458.2" cy="1327.6" r="5.55"/><circle cx="451.0" cy="1300.6" r="5.55"/><circle cx="455.2" cy="1203.6" r="5.55"/><circle cx="457.2" cy="1337.0" r="5.55"/><circle cx="455.4" cy="1333.3" r="5.55"/><circle cx="462.3" cy="1292.0" r="5.55"/><circle cx="462.3" cy="1272.0" r="5.55"/><circle cx="459.1" cy="1346.9" r="5.55"/><circle cx="453.3" cy="1322.3" r="5.55"/><circle cx="455.8" cy="1325.6" r="5.55"/><circle cx="461.6" cy="1141.3" r="5.55"/><circle cx="461.4" cy="1297.7" r="5.55"/><circle cx="458.0" cy="1336.4" r="5.55"/><circle cx="461.9" cy="1175.9" r="5.55"/><circle cx="455.5" cy="1352.7" r="5.55"/><circle cx="455.9" cy="1280.8" r="5.55"/><circle cx="453.2" cy="1342.0" r="5.55"/><circle cx="457.2" cy="1313.3" r="5.55"/><circle cx="450.5" cy="1208.1" r="5.55"/><circle cx="454.1" cy="1320.2" r="5.55"/><circle cx="450.4" cy="1276.4" r="5.55"/><circle cx="462.3" cy="1312.1" r="5.55"/><circle cx="462.0" cy="1345.7" r="5.55"/><circle cx="461.8" cy="1324.2" r="5.55"/><circle cx="450.8" cy="1348.9" r="5.55"/><circle cx="457.1" cy="1306.6" r="5.55"/><circle cx="460.7" cy="1316.3" r="5.55"/><circle cx="458.8" cy="1267.8" r="5.55"/><circle cx="460.3" cy="1339.0" r="5.55"/><circle cx="457.0" cy="1217.7" r="5.55"/><circle cx="458.2" cy="1346.3" r="5.55"/><circle cx="459.1" cy="1276.1" r="5.55"/><circle cx="461.6" cy="1325.6" r="5.55"/><circle cx="450.6" cy="1253.2" r="5.55"/><circle cx="453.8" cy="1305.5" r="5.55"/><circle cx="451.0" cy="1283.8" r="5.55"/><circle cx="455.0" cy="1348.7" r="5.55"/><circle cx="455.0" cy="1304.0" r="5.55"/><circle cx="455.2" cy="1270.8" r="5.55"/><circle cx="456.0" cy="1263.3" r="5.55"/><circle cx="451.3" cy="1312.9" r="5.55"/><circle cx="451.1" cy="1322.5" r="5.55"/><circle cx="459.2" cy="1371.9" r="5.55"/><circle cx="454.6" cy="1327.7" r="5.55"/><circle cx="450.7" cy="1301.2" r="5.55"/><circle cx="452.8" cy="1238.5" r="5.55"/><circle cx="462.2" cy="1273.7" r="5.55"/><circle cx="462.2" cy="1364.2" r="5.55"/><circle cx="453.2" cy="1351.0" r="5.55"/><circle cx="461.3" cy="1339.5" r="5.55"/><circle cx="453.5" cy="1285.9" r="5.55"/><circle cx="456.0" cy="1313.1" r="5.55"/><circle cx="459.7" cy="1254.7" r="5.55"/><circle cx="455.1" cy="1304.5" r="5.55"/><circle cx="453.1" cy="1334.7" r="5.55"/><circle cx="453.1" cy="1328.8" r="5.55"/><circle cx="455.5" cy="1258.4" r="5.55"/><circle cx="452.8" cy="1299.9" r="5.55"/><circle cx="460.5" cy="1261.8" r="5.55"/><circle cx="456.6" cy="1310.6" r="5.55"/><circle cx="451.1" cy="1302.2" r="5.55"/><circle cx="461.6" cy="1213.3" r="5.55"/><circle cx="453.2" cy="1261.8" r="5.55"/><circle cx="455.3" cy="1321.0" r="5.55"/><circle cx="454.8" cy="1289.7" r="5.55"/><circle cx="455.9" cy="1266.5" r="5.55"/><circle cx="458.9" cy="1360.8" r="5.55"/><circle cx="461.5" cy="1251.3" r="5.55"/><circle cx="452.8" cy="1310.0" r="5.55"/><circle cx="451.4" cy="1316.0" r="5.55"/><circle cx="457.8" cy="1307.2" r="5.55"/><circle cx="450.7" cy="1299.1" r="5.55"/><circle cx="451.5" cy="1358.4" r="5.55"/><circle cx="451.0" cy="1294.5" r="5.55"/><circle cx="452.1" cy="1255.7" r="5.55"/><circle cx="455.9" cy="1296.8" r="5.55"/><circle cx="460.6" cy="1307.0" r="5.55"/><circle cx="452.9" cy="1211.5" r="5.55"/><circle cx="457.7" cy="1251.4" r="5.55"/><circle cx="460.5" cy="1249.1" r="5.55"/><circle cx="451.6" cy="1327.8" r="5.55"/><circle cx="459.2" cy="1346.1" r="5.55"/><circle cx="455.9" cy="1271.6" r="5.55"/><circle cx="453.8" cy="1225.6" r="5.55"/><circle cx="451.0" cy="1331.7" r="5.55"/><circle cx="458.1" cy="1325.6" r="5.55"/><circle cx="459.7" cy="1279.2" r="5.55"/><circle cx="457.6" cy="1296.9" r="5.55"/><circle cx="459.4" cy="1321.8" r="5.55"/><circle cx="462.4" cy="1274.8" r="5.55"/><circle cx="452.8" cy="1321.0" r="5.55"/><circle cx="454.3" cy="1345.0" r="5.55"/><circle cx="455.0" cy="1280.6" r="5.55"/><circle cx="462.4" cy="1336.1" r="5.55"/><circle cx="457.1" cy="1232.2" r="5.55"/><circle cx="454.6" cy="1232.6" r="5.55"/><circle cx="459.8" cy="1277.6" r="5.55"/><circle cx="458.7" cy="1276.5" r="5.55"/><circle cx="459.7" cy="1287.0" r="5.55"/><circle cx="460.6" cy="1310.8" r="5.55"/><circle cx="455.5" cy="1321.1" r="5.55"/><circle cx="451.6" cy="1331.3" r="5.55"/><circle cx="451.2" cy="1267.0" r="5.55"/><circle cx="462.5" cy="1325.2" r="5.55"/><circle cx="451.0" cy="1291.5" r="5.55"/><circle cx="460.7" cy="1335.9" r="5.55"/><circle cx="456.0" cy="1326.7" r="5.55"/><circle cx="460.2" cy="1168.2" r="5.55"/><circle cx="450.4" cy="1262.9" r="5.55"/><circle cx="456.8" cy="1329.4" r="5.55"/><circle cx="461.8" cy="1312.8" r="5.55"/><circle cx="453.9" cy="1301.1" r="5.55"/><circle cx="450.6" cy="1277.1" r="5.55"/><circle cx="450.5" cy="1322.7" r="5.55"/><circle cx="460.4" cy="1337.7" r="5.55"/><circle cx="457.8" cy="1283.5" r="5.55"/><circle cx="458.5" cy="1293.3" r="5.55"/><circle cx="452.7" cy="1314.2" r="5.55"/><circle cx="455.9" cy="1282.1" r="5.55"/><circle cx="458.4" cy="1267.8" r="5.55"/><circle cx="458.3" cy="1323.1" r="5.55"/><circle cx="451.7" cy="1297.0" r="5.55"/><circle cx="457.5" cy="1318.3" r="5.55"/><circle cx="455.8" cy="1301.6" r="5.55"/><circle cx="459.1" cy="1321.6" r="5.55"/><circle cx="457.1" cy="1290.6" r="5.55"/><circle cx="455.0" cy="1309.7" r="5.55"/><circle cx="462.1" cy="1365.1" r="5.55"/><circle cx="462.0" cy="1365.1" r="5.55"/><circle cx="461.2" cy="1298.8" r="5.55"/><circle cx="453.8" cy="1342.3" r="5.55"/><circle cx="451.3" cy="1341.7" r="5.55"/><circle cx="450.8" cy="1262.2" r="5.55"/><circle cx="452.1" cy="1240.7" r="5.55"/><circle cx="453.7" cy="1304.6" r="5.55"/><circle cx="451.7" cy="1283.3" r="5.55"/><circle cx="462.3" cy="1307.9" r="5.55"/><circle cx="457.2" cy="1306.2" r="5.55"/><circle cx="453.9" cy="1283.6" r="5.55"/><circle cx="461.5" cy="1297.4" r="5.55"/><circle cx="457.9" cy="1343.9" r="5.55"/><circle cx="450.5" cy="1257.7" r="5.55"/><circle cx="454.8" cy="1279.6" r="5.55"/><circle cx="450.4" cy="1303.6" r="5.55"/><circle cx="453.0" cy="1189.1" r="5.55"/><circle cx="450.9" cy="1273.7" r="5.55"/><circle cx="455.4" cy="1266.2" r="5.55"/><circle cx="458.1" cy="1284.3" r="5.55"/><circle cx="455.9" cy="1359.0" r="5.55"/><circle cx="456.7" cy="1268.1" r="5.55"/><circle cx="455.6" cy="1207.1" r="5.55"/><circle cx="459.3" cy="1281.7" r="5.55"/><circle cx="457.1" cy="1362.1" r="5.55"/><circle cx="458.7" cy="1299.5" r="5.55"/><circle cx="455.9" cy="1278.5" r="5.55"/><circle cx="461.8" cy="1285.2" r="5.55"/><circle cx="453.0" cy="1305.3" r="5.55"/><circle cx="455.0" cy="1269.1" r="5.55"/><circle cx="454.6" cy="1306.6" r="5.55"/><circle cx="454.9" cy="1326.8" r="5.55"/><circle cx="462.2" cy="1342.1" r="5.55"/><circle cx="453.4" cy="1308.0" r="5.55"/><circle cx="457.6" cy="1308.1" r="5.55"/><circle cx="451.3" cy="1328.3" r="5.55"/><circle cx="456.1" cy="1342.5" r="5.55"/><circle cx="461.0" cy="1296.8" r="5.55"/><circle cx="461.9" cy="1345.1" r="5.55"/><circle cx="456.9" cy="1310.5" r="5.55"/><circle cx="458.6" cy="1275.1" r="5.55"/><circle cx="457.7" cy="1367.5" r="5.55"/><circle cx="460.2" cy="1301.6" r="5.55"/><circle cx="454.8" cy="1325.5" r="5.55"/><circle cx="461.7" cy="1307.4" r="5.55"/><circle cx="457.5" cy="1266.1" r="5.55"/><circle cx="450.7" cy="1285.4" r="5.55"/><circle cx="455.9" cy="1312.2" r="5.55"/><circle cx="462.1" cy="1270.7" r="5.55"/><circle cx="451.3" cy="1321.3" r="5.55"/><circle cx="461.8" cy="1235.1" r="5.55"/><circle cx="458.9" cy="1301.2" r="5.55"/><circle cx="457.7" cy="1347.0" r="5.55"/><circle cx="462.4" cy="1330.0" r="5.55"/><circle cx="460.3" cy="1254.9" r="5.55"/><circle cx="456.3" cy="1241.5" r="5.55"/><circle cx="453.4" cy="1247.9" r="5.55"/><circle cx="459.2" cy="1227.6" r="5.55"/><circle cx="461.0" cy="1330.6" r="5.55"/><circle cx="456.1" cy="1364.3" r="5.55"/><circle cx="451.5" cy="1244.5" r="5.55"/><circle cx="452.8" cy="1251.9" r="5.55"/><circle cx="464.1" cy="1298.4" r="5.55"/><circle cx="470.0" cy="1257.0" r="5.55"/><circle cx="474.0" cy="1302.5" r="5.55"/><circle cx="474.0" cy="1287.0" r="5.55"/><circle cx="472.4" cy="1240.1" r="5.55"/><circle cx="472.4" cy="1321.0" r="5.55"/><circle cx="468.8" cy="1326.2" r="5.55"/><circle cx="463.0" cy="1310.7" r="5.55"/><circle cx="469.5" cy="1270.7" r="5.55"/><circle cx="463.2" cy="1248.0" r="5.55"/><circle cx="473.7" cy="1342.7" r="5.55"/><circle cx="470.6" cy="1208.5" r="5.55"/><circle cx="463.6" cy="1175.1" r="5.55"/><circle cx="467.2" cy="1283.9" r="5.55"/><circle cx="467.1" cy="1280.7" r="5.55"/><circle cx="465.6" cy="1294.1" r="5.55"/><circle cx="474.3" cy="1324.2" r="5.55"/><circle cx="469.8" cy="1178.8" r="5.55"/><circle cx="464.0" cy="1273.4" r="5.55"/><circle cx="472.6" cy="1298.9" r="5.55"/><circle cx="473.6" cy="1355.7" r="5.55"/><circle cx="464.4" cy="1275.5" r="5.55"/><circle cx="462.7" cy="1248.5" r="5.55"/><circle cx="466.8" cy="1270.6" r="5.55"/><circle cx="464.9" cy="1292.2" r="5.55"/><circle cx="469.0" cy="1154.1" r="5.55"/><circle cx="467.5" cy="1289.3" r="5.55"/><circle cx="462.7" cy="1260.9" r="5.55"/><circle cx="464.3" cy="1232.4" r="5.55"/><circle cx="464.0" cy="1294.0" r="5.55"/><circle cx="468.7" cy="1314.5" r="5.55"/><circle cx="473.7" cy="1337.0" r="5.55"/><circle cx="473.5" cy="1282.6" r="5.55"/><circle cx="466.0" cy="1345.7" r="5.55"/><circle cx="467.1" cy="1309.3" r="5.55"/><circle cx="472.9" cy="1272.7" r="5.55"/><circle cx="463.2" cy="1283.2" r="5.55"/><circle cx="472.8" cy="1297.4" r="5.55"/><circle cx="468.1" cy="1261.8" r="5.55"/><circle cx="473.6" cy="1362.2" r="5.55"/><circle cx="470.6" cy="1183.9" r="5.55"/><circle cx="469.9" cy="1276.0" r="5.55"/><circle cx="472.0" cy="1332.6" r="5.55"/><circle cx="464.1" cy="1288.6" r="5.55"/><circle cx="467.1" cy="1281.4" r="5.55"/><circle cx="470.7" cy="1324.5" r="5.55"/><circle cx="466.0" cy="1259.9" r="5.55"/><circle cx="462.8" cy="1356.6" r="5.55"/><circle cx="467.8" cy="1260.6" r="5.55"/><circle cx="474.3" cy="1322.6" r="5.55"/><circle cx="468.7" cy="1316.4" r="5.55"/><circle cx="467.5" cy="1241.1" r="5.55"/><circle cx="473.3" cy="1256.2" r="5.55"/><circle cx="474.7" cy="1359.7" r="5.55"/><circle cx="464.0" cy="1305.8" r="5.55"/><circle cx="472.2" cy="1289.6" r="5.55"/><circle cx="462.9" cy="1334.9" r="5.55"/><circle cx="467.9" cy="1187.4" r="5.55"/><circle cx="474.4" cy="1313.8" r="5.55"/><circle cx="464.3" cy="1337.5" r="5.55"/><circle cx="467.3" cy="1320.9" r="5.55"/><circle cx="465.2" cy="1319.6" r="5.55"/><circle cx="464.4" cy="1367.2" r="5.55"/><circle cx="469.5" cy="1259.4" r="5.55"/><circle cx="471.4" cy="1306.0" r="5.55"/><circle cx="463.0" cy="1268.0" r="5.55"/><circle cx="471.2" cy="1300.9" r="5.55"/><circle cx="474.3" cy="1306.9" r="5.55"/><circle cx="470.8" cy="1326.6" r="5.55"/><circle cx="473.1" cy="1310.5" r="5.55"/><circle cx="473.0" cy="1310.9" r="5.55"/><circle cx="474.0" cy="1304.1" r="5.55"/><circle cx="467.6" cy="1288.0" r="5.55"/><circle cx="471.2" cy="1344.0" r="5.55"/><circle cx="468.0" cy="1209.7" r="5.55"/><circle cx="463.2" cy="1280.2" r="5.55"/><circle cx="472.6" cy="1328.0" r="5.55"/><circle cx="468.4" cy="1247.7" r="5.55"/><circle cx="474.6" cy="1320.2" r="5.55"/><circle cx="472.5" cy="1265.7" r="5.55"/><circle cx="472.9" cy="1354.8" r="5.55"/><circle cx="468.3" cy="1347.7" r="5.55"/><circle cx="471.6" cy="1271.2" r="5.55"/><circle cx="469.0" cy="1319.8" r="5.55"/><circle cx="470.7" cy="1311.0" r="5.55"/><circle cx="466.9" cy="1362.3" r="5.55"/><circle cx="469.7" cy="1302.2" r="5.55"/><circle cx="470.7" cy="1336.7" r="5.55"/><circle cx="471.5" cy="1330.7" r="5.55"/><circle cx="468.0" cy="1282.3" r="5.55"/><circle cx="462.6" cy="1294.2" r="5.55"/><circle cx="467.0" cy="1286.8" r="5.55"/><circle cx="463.2" cy="1337.7" r="5.55"/><circle cx="471.1" cy="1359.0" r="5.55"/><circle cx="474.6" cy="1300.0" r="5.55"/><circle cx="465.2" cy="1322.6" r="5.55"/><circle cx="463.9" cy="1321.1" r="5.55"/><circle cx="473.1" cy="1223.3" r="5.55"/><circle cx="467.1" cy="1334.0" r="5.55"/><circle cx="467.1" cy="1312.2" r="5.55"/><circle cx="470.4" cy="1296.7" r="5.55"/><circle cx="468.8" cy="1296.4" r="5.55"/><circle cx="465.0" cy="1314.2" r="5.55"/><circle cx="471.7" cy="1254.5" r="5.55"/><circle cx="469.4" cy="1341.7" r="5.55"/><circle cx="463.6" cy="1249.3" r="5.55"/><circle cx="464.7" cy="1316.0" r="5.55"/><circle cx="467.9" cy="1285.9" r="5.55"/><circle cx="474.1" cy="1272.1" r="5.55"/><circle cx="472.4" cy="1336.7" r="5.55"/><circle cx="465.6" cy="1319.0" r="5.55"/><circle cx="472.9" cy="1353.7" r="5.55"/><circle cx="466.4" cy="1249.1" r="5.55"/><circle cx="463.7" cy="1327.5" r="5.55"/><circle cx="467.8" cy="1279.6" r="5.55"/><circle cx="472.6" cy="1346.4" r="5.55"/><circle cx="463.0" cy="1343.9" r="5.55"/><circle cx="468.2" cy="1315.8" r="5.55"/><circle cx="465.7" cy="1360.2" r="5.55"/><circle cx="473.0" cy="1324.3" r="5.55"/><circle cx="463.0" cy="1324.1" r="5.55"/><circle cx="467.0" cy="1307.9" r="5.55"/><circle cx="462.8" cy="1328.0" r="5.55"/><circle cx="463.3" cy="1281.6" r="5.55"/><circle cx="473.7" cy="1314.8" r="5.55"/><circle cx="466.3" cy="1346.1" r="5.55"/><circle cx="464.4" cy="1297.5" r="5.55"/><circle cx="463.0" cy="1307.5" r="5.55"/><circle cx="469.0" cy="1354.8" r="5.55"/><circle cx="472.7" cy="1341.9" r="5.55"/><circle cx="464.4" cy="1336.4" r="5.55"/><circle cx="466.9" cy="1290.6" r="5.55"/><circle cx="465.4" cy="1226.2" r="5.55"/><circle cx="471.6" cy="1364.3" r="5.55"/><circle cx="462.6" cy="1324.8" r="5.55"/><circle cx="470.7" cy="1256.8" r="5.55"/><circle cx="463.5" cy="1278.9" r="5.55"/><circle cx="464.4" cy="1341.6" r="5.55"/><circle cx="463.6" cy="1303.4" r="5.55"/><circle cx="473.7" cy="1333.6" r="5.55"/><circle cx="469.8" cy="1273.0" r="5.55"/><circle cx="473.2" cy="1360.2" r="5.55"/><circle cx="465.0" cy="1267.7" r="5.55"/><circle cx="465.2" cy="1276.1" r="5.55"/><circle cx="473.9" cy="1302.8" r="5.55"/><circle cx="463.9" cy="1199.4" r="5.55"/><circle cx="474.4" cy="1335.4" r="5.55"/><circle cx="469.5" cy="1306.5" r="5.55"/><circle cx="470.1" cy="1357.6" r="5.55"/><circle cx="466.4" cy="1278.6" r="5.55"/><circle cx="471.3" cy="1264.5" r="5.55"/><circle cx="468.5" cy="1304.6" r="5.55"/><circle cx="470.4" cy="1295.5" r="5.55"/><circle cx="471.6" cy="1358.1" r="5.55"/><circle cx="463.3" cy="1219.1" r="5.55"/><circle cx="474.6" cy="1328.9" r="5.55"/><circle cx="469.2" cy="1300.5" r="5.55"/><circle cx="473.5" cy="1288.7" r="5.55"/><circle cx="462.8" cy="1318.9" r="5.55"/><circle cx="470.6" cy="1267.7" r="5.55"/><circle cx="464.1" cy="1342.1" r="5.55"/><circle cx="474.1" cy="1268.8" r="5.55"/><circle cx="467.2" cy="1314.7" r="5.55"/><circle cx="468.7" cy="1299.1" r="5.55"/><circle cx="466.6" cy="1263.0" r="5.55"/><circle cx="470.3" cy="1287.7" r="5.55"/><circle cx="469.8" cy="1269.8" r="5.55"/><circle cx="470.0" cy="1315.9" r="5.55"/><circle cx="468.4" cy="1271.2" r="5.55"/><circle cx="473.0" cy="1324.6" r="5.55"/><circle cx="468.3" cy="1354.9" r="5.55"/><circle cx="469.5" cy="1330.3" r="5.55"/><circle cx="470.5" cy="1312.0" r="5.55"/><circle cx="470.8" cy="1260.2" r="5.55"/><circle cx="472.3" cy="1334.8" r="5.55"/><circle cx="465.8" cy="1294.9" r="5.55"/><circle cx="467.9" cy="1280.4" r="5.55"/><circle cx="467.9" cy="1319.0" r="5.55"/><circle cx="474.1" cy="1331.8" r="5.55"/><circle cx="469.6" cy="1292.3" r="5.55"/><circle cx="468.5" cy="1293.1" r="5.55"/><circle cx="466.4" cy="1325.3" r="5.55"/><circle cx="467.4" cy="1289.7" r="5.55"/><circle cx="462.6" cy="1298.1" r="5.55"/><circle cx="469.1" cy="1318.0" r="5.55"/><circle cx="470.7" cy="1265.6" r="5.55"/><circle cx="474.1" cy="1149.2" r="5.55"/><circle cx="466.1" cy="1277.4" r="5.55"/><circle cx="469.7" cy="1319.5" r="5.55"/><circle cx="473.6" cy="1312.0" r="5.55"/><circle cx="471.6" cy="1295.5" r="5.55"/><circle cx="467.2" cy="1208.3" r="5.55"/><circle cx="471.3" cy="1286.1" r="5.55"/><circle cx="467.3" cy="1318.6" r="5.55"/><circle cx="465.7" cy="1325.4" r="5.55"/><circle cx="464.7" cy="1280.4" r="5.55"/><circle cx="465.4" cy="1303.4" r="5.55"/><circle cx="470.2" cy="1276.4" r="5.55"/><circle cx="469.9" cy="1353.7" r="5.55"/><circle cx="463.8" cy="1322.4" r="5.55"/><circle cx="468.4" cy="1269.0" r="5.55"/><circle cx="462.6" cy="1346.0" r="5.55"/><circle cx="462.9" cy="1279.3" r="5.55"/><circle cx="469.1" cy="1333.4" r="5.55"/><circle cx="468.3" cy="1328.2" r="5.55"/><circle cx="463.6" cy="1299.7" r="5.55"/><circle cx="465.1" cy="1241.8" r="5.55"/><circle cx="470.8" cy="1319.3" r="5.55"/><circle cx="465.4" cy="1311.7" r="5.55"/><circle cx="463.9" cy="1310.9" r="5.55"/><circle cx="467.1" cy="1336.1" r="5.55"/><circle cx="467.6" cy="1343.8" r="5.55"/><circle cx="473.1" cy="1335.4" r="5.55"/><circle cx="464.2" cy="1258.9" r="5.55"/><circle cx="468.8" cy="1251.5" r="5.55"/><circle cx="469.9" cy="1300.6" r="5.55"/><circle cx="472.1" cy="1324.3" r="5.55"/><circle cx="471.8" cy="1279.2" r="5.55"/><circle cx="462.7" cy="1283.4" r="5.55"/><circle cx="468.4" cy="1282.5" r="5.55"/><circle cx="472.9" cy="1268.7" r="5.55"/><circle cx="468.4" cy="1281.4" r="5.55"/><circle cx="470.1" cy="1297.2" r="5.55"/><circle cx="467.3" cy="1334.3" r="5.55"/><circle cx="465.8" cy="1314.8" r="5.55"/><circle cx="469.3" cy="1285.6" r="5.55"/><circle cx="467.8" cy="1136.9" r="5.55"/><circle cx="468.1" cy="1298.1" r="5.55"/><circle cx="472.8" cy="1215.0" r="5.55"/><circle cx="464.1" cy="1318.3" r="5.55"/><circle cx="466.0" cy="1248.2" r="5.55"/><circle cx="465.7" cy="1208.5" r="5.55"/><circle cx="473.7" cy="1314.5" r="5.55"/><circle cx="464.8" cy="1287.4" r="5.55"/><circle cx="465.8" cy="1291.0" r="5.55"/><circle cx="466.4" cy="1252.7" r="5.55"/><circle cx="462.7" cy="1313.7" r="5.55"/><circle cx="466.0" cy="1340.7" r="5.55"/><circle cx="473.6" cy="1190.7" r="5.55"/><circle cx="473.0" cy="1313.7" r="5.55"/><circle cx="472.9" cy="1348.3" r="5.55"/><circle cx="472.0" cy="1247.4" r="5.55"/><circle cx="472.6" cy="1342.0" r="5.55"/><circle cx="469.6" cy="1249.9" r="5.55"/><circle cx="473.7" cy="1310.2" r="5.55"/><circle cx="473.9" cy="1218.0" r="5.55"/><circle cx="467.9" cy="1311.1" r="5.55"/><circle cx="462.7" cy="1344.3" r="5.55"/><circle cx="467.4" cy="1299.6" r="5.55"/><circle cx="474.6" cy="1303.8" r="5.55"/><circle cx="463.3" cy="1249.7" r="5.55"/><circle cx="463.5" cy="1145.6" r="5.55"/><circle cx="468.0" cy="1262.9" r="5.55"/><circle cx="465.7" cy="1255.4" r="5.55"/><circle cx="466.0" cy="1300.0" r="5.55"/><circle cx="468.6" cy="1290.3" r="5.55"/><circle cx="463.3" cy="1296.2" r="5.55"/><circle cx="464.9" cy="1380.0" r="5.55"/><circle cx="471.5" cy="1303.4" r="5.55"/><circle cx="472.3" cy="1315.2" r="5.55"/><circle cx="467.6" cy="1239.1" r="5.55"/><circle cx="474.2" cy="1360.8" r="5.55"/><circle cx="463.6" cy="1292.9" r="5.55"/><circle cx="469.1" cy="1283.8" r="5.55"/><circle cx="471.2" cy="1242.5" r="5.55"/><circle cx="469.7" cy="1289.3" r="5.55"/><circle cx="466.7" cy="1349.1" r="5.55"/><circle cx="474.3" cy="1307.9" r="5.55"/><circle cx="473.4" cy="1335.4" r="5.55"/><circle cx="464.1" cy="1302.2" r="5.55"/><circle cx="466.4" cy="1276.5" r="5.55"/><circle cx="465.4" cy="1302.8" r="5.55"/><circle cx="471.2" cy="1314.0" r="5.55"/><circle cx="466.7" cy="1363.7" r="5.55"/><circle cx="467.7" cy="1278.0" r="5.55"/><circle cx="465.3" cy="1304.5" r="5.55"/><circle cx="466.2" cy="1264.7" r="5.55"/><circle cx="467.0" cy="1320.8" r="5.55"/><circle cx="468.3" cy="1245.8" r="5.55"/><circle cx="463.6" cy="1286.3" r="5.55"/><circle cx="469.3" cy="1315.0" r="5.55"/><circle cx="463.5" cy="1307.8" r="5.55"/><circle cx="469.6" cy="1326.4" r="5.55"/><circle cx="470.9" cy="1252.8" r="5.55"/><circle cx="471.6" cy="1226.2" r="5.55"/><circle cx="464.3" cy="1261.0" r="5.55"/><circle cx="467.5" cy="1288.6" r="5.55"/><circle cx="466.9" cy="1184.0" r="5.55"/><circle cx="471.4" cy="1217.8" r="5.55"/><circle cx="470.9" cy="1295.6" r="5.55"/><circle cx="464.1" cy="1320.5" r="5.55"/><circle cx="472.2" cy="1302.3" r="5.55"/><circle cx="463.7" cy="1319.6" r="5.55"/><circle cx="468.4" cy="1309.1" r="5.55"/><circle cx="471.5" cy="1305.9" r="5.55"/><circle cx="466.3" cy="1351.4" r="5.55"/><circle cx="465.0" cy="1344.6" r="5.55"/><circle cx="464.5" cy="1361.7" r="5.55"/><circle cx="469.1" cy="1210.7" r="5.55"/><circle cx="464.9" cy="1334.0" r="5.55"/><circle cx="471.2" cy="1315.2" r="5.55"/><circle cx="469.3" cy="1250.8" r="5.55"/><circle cx="462.7" cy="1284.6" r="5.55"/><circle cx="465.9" cy="1279.9" r="5.55"/><circle cx="471.4" cy="1236.7" r="5.55"/><circle cx="467.7" cy="1291.1" r="5.55"/><circle cx="472.5" cy="1199.0" r="5.55"/><circle cx="463.7" cy="1308.6" r="5.55"/><circle cx="473.3" cy="1225.9" r="5.55"/><circle cx="473.4" cy="1320.1" r="5.55"/><circle cx="471.0" cy="1265.4" r="5.55"/><circle cx="468.2" cy="1326.2" r="5.55"/><circle cx="474.4" cy="1334.4" r="5.55"/><circle cx="464.1" cy="1318.4" r="5.55"/><circle cx="466.8" cy="1263.3" r="5.55"/><circle cx="464.6" cy="1328.5" r="5.55"/><circle cx="474.7" cy="1281.9" r="5.55"/><circle cx="470.5" cy="1343.9" r="5.55"/><circle cx="466.8" cy="1336.6" r="5.55"/><circle cx="467.5" cy="1324.9" r="5.55"/><circle cx="472.7" cy="1217.3" r="5.55"/><circle cx="467.1" cy="1344.0" r="5.55"/><circle cx="466.7" cy="1288.4" r="5.55"/><circle cx="474.0" cy="1329.2" r="5.55"/><circle cx="469.8" cy="1306.5" r="5.55"/><circle cx="469.5" cy="1302.5" r="5.55"/><circle cx="473.3" cy="1370.9" r="5.55"/><circle cx="465.3" cy="1319.3" r="5.55"/><circle cx="470.8" cy="1285.9" r="5.55"/><circle cx="463.3" cy="1248.9" r="5.55"/><circle cx="463.6" cy="1321.6" r="5.55"/><circle cx="469.0" cy="1225.5" r="5.55"/><circle cx="473.4" cy="1319.1" r="5.55"/><circle cx="473.3" cy="1309.6" r="5.55"/><circle cx="474.1" cy="1322.8" r="5.55"/><circle cx="470.3" cy="1250.9" r="5.55"/><circle cx="467.0" cy="1381.4" r="5.55"/><circle cx="469.2" cy="1311.1" r="5.55"/><circle cx="471.5" cy="1299.4" r="5.55"/><circle cx="467.7" cy="1269.8" r="5.55"/><circle cx="469.6" cy="1322.4" r="5.55"/><circle cx="471.8" cy="1320.2" r="5.55"/><circle cx="470.4" cy="1324.4" r="5.55"/><circle cx="469.6" cy="1252.3" r="5.55"/><circle cx="470.5" cy="1280.5" r="5.55"/><circle cx="472.5" cy="1290.1" r="5.55"/><circle cx="469.6" cy="1322.9" r="5.55"/><circle cx="469.0" cy="1367.3" r="5.55"/><circle cx="466.0" cy="1244.1" r="5.55"/><circle cx="473.5" cy="1341.4" r="5.55"/><circle cx="463.2" cy="1281.5" r="5.55"/><circle cx="471.0" cy="1285.5" r="5.55"/><circle cx="463.1" cy="1314.8" r="5.55"/><circle cx="470.7" cy="1201.9" r="5.55"/><circle cx="469.8" cy="1178.5" r="5.55"/><circle cx="465.5" cy="1200.7" r="5.55"/><circle cx="473.0" cy="1293.4" r="5.55"/><circle cx="473.0" cy="1252.9" r="5.55"/><circle cx="462.7" cy="1319.1" r="5.55"/><circle cx="468.9" cy="1332.6" r="5.55"/><circle cx="473.3" cy="1318.2" r="5.55"/><circle cx="465.5" cy="1248.4" r="5.55"/><circle cx="466.0" cy="1314.6" r="5.55"/><circle cx="465.4" cy="1283.2" r="5.55"/><circle cx="468.7" cy="1353.7" r="5.55"/><circle cx="473.4" cy="1200.3" r="5.55"/><circle cx="472.4" cy="1369.3" r="5.55"/><circle cx="470.9" cy="1301.8" r="5.55"/><circle cx="464.6" cy="1323.1" r="5.55"/><circle cx="469.4" cy="1281.6" r="5.55"/><circle cx="471.8" cy="1271.9" r="5.55"/><circle cx="471.4" cy="1266.7" r="5.55"/><circle cx="478.8" cy="1283.1" r="5.55"/><circle cx="484.7" cy="1284.6" r="5.55"/><circle cx="482.6" cy="1325.8" r="5.55"/><circle cx="477.9" cy="1277.4" r="5.55"/><circle cx="483.2" cy="1329.3" r="5.55"/><circle cx="483.5" cy="1334.3" r="5.55"/><circle cx="479.8" cy="1310.6" r="5.55"/><circle cx="485.2" cy="1251.7" r="5.55"/><circle cx="486.8" cy="1253.4" r="5.55"/><circle cx="486.6" cy="1334.4" r="5.55"/><circle cx="476.7" cy="1368.7" r="5.55"/><circle cx="480.4" cy="1272.1" r="5.55"/><circle cx="484.7" cy="1312.8" r="5.55"/><circle cx="483.5" cy="1340.0" r="5.55"/><circle cx="482.5" cy="1254.9" r="5.55"/><circle cx="476.8" cy="1320.1" r="5.55"/><circle cx="481.5" cy="1349.5" r="5.55"/><circle cx="485.8" cy="1250.8" r="5.55"/><circle cx="482.0" cy="1270.6" r="5.55"/><circle cx="479.7" cy="1340.8" r="5.55"/><circle cx="478.5" cy="1268.8" r="5.55"/><circle cx="479.1" cy="1264.1" r="5.55"/><circle cx="481.7" cy="1345.8" r="5.55"/><circle cx="481.1" cy="1336.2" r="5.55"/><circle cx="483.2" cy="1315.5" r="5.55"/><circle cx="478.3" cy="1350.9" r="5.55"/><circle cx="482.1" cy="1338.2" r="5.55"/><circle cx="479.0" cy="1190.4" r="5.55"/><circle cx="480.2" cy="1306.5" r="5.55"/><circle cx="483.2" cy="1357.4" r="5.55"/><circle cx="484.5" cy="1347.5" r="5.55"/><circle cx="476.4" cy="1310.7" r="5.55"/><circle cx="484.8" cy="1365.3" r="5.55"/><circle cx="484.1" cy="1367.6" r="5.55"/><circle cx="480.2" cy="1320.7" r="5.55"/><circle cx="481.5" cy="1307.1" r="5.55"/><circle cx="482.9" cy="1282.5" r="5.55"/><circle cx="480.2" cy="1294.6" r="5.55"/><circle cx="479.7" cy="1332.7" r="5.55"/><circle cx="479.7" cy="1264.6" r="5.55"/><circle cx="475.3" cy="1307.2" r="5.55"/><circle cx="478.3" cy="1184.8" r="5.55"/><circle cx="476.4" cy="1330.1" r="5.55"/><circle cx="475.4" cy="1299.6" r="5.55"/><circle cx="484.9" cy="1323.6" r="5.55"/><circle cx="475.6" cy="1356.5" r="5.55"/><circle cx="482.2" cy="1321.3" r="5.55"/><circle cx="477.3" cy="1343.0" r="5.55"/><circle cx="475.7" cy="1298.9" r="5.55"/><circle cx="481.1" cy="1306.1" r="5.55"/><circle cx="475.6" cy="1304.5" r="5.55"/><circle cx="477.1" cy="1259.4" r="5.55"/><circle cx="486.7" cy="1182.2" r="5.55"/><circle cx="478.3" cy="1355.1" r="5.55"/><circle cx="481.3" cy="1220.3" r="5.55"/><circle cx="479.1" cy="1294.2" r="5.55"/><circle cx="482.0" cy="1314.1" r="5.55"/><circle cx="483.9" cy="1322.2" r="5.55"/><circle cx="481.8" cy="1301.3" r="5.55"/><circle cx="485.3" cy="1272.2" r="5.55"/><circle cx="482.1" cy="1290.6" r="5.55"/><circle cx="475.1" cy="1318.2" r="5.55"/><circle cx="480.8" cy="1346.9" r="5.55"/><circle cx="485.9" cy="1234.9" r="5.55"/><circle cx="477.9" cy="1307.5" r="5.55"/><circle cx="479.2" cy="1334.2" r="5.55"/><circle cx="482.1" cy="1305.8" r="5.55"/><circle cx="482.8" cy="1334.9" r="5.55"/><circle cx="486.8" cy="1151.6" r="5.55"/><circle cx="475.5" cy="1266.3" r="5.55"/><circle cx="479.6" cy="1313.1" r="5.55"/><circle cx="481.1" cy="1212.1" r="5.55"/><circle cx="485.8" cy="1343.2" r="5.55"/><circle cx="485.0" cy="1286.4" r="5.55"/><circle cx="486.4" cy="1265.0" r="5.55"/><circle cx="480.3" cy="1335.0" r="5.55"/><circle cx="479.9" cy="1245.6" r="5.55"/><circle cx="484.6" cy="1296.4" r="5.55"/><circle cx="474.9" cy="1308.1" r="5.55"/><circle cx="478.3" cy="1312.2" r="5.55"/><circle cx="485.1" cy="1325.6" r="5.55"/><circle cx="486.6" cy="1350.1" r="5.55"/><circle cx="482.8" cy="1309.6" r="5.55"/><circle cx="483.0" cy="1331.3" r="5.55"/><circle cx="483.6" cy="1297.8" r="5.55"/><circle cx="484.1" cy="1277.4" r="5.55"/><circle cx="485.6" cy="1325.5" r="5.55"/><circle cx="484.9" cy="1283.3" r="5.55"/><circle cx="477.6" cy="1326.3" r="5.55"/><circle cx="483.1" cy="1325.5" r="5.55"/><circle cx="477.0" cy="1287.2" r="5.55"/><circle cx="475.4" cy="1248.4" r="5.55"/><circle cx="482.2" cy="1277.4" r="5.55"/><circle cx="484.2" cy="1277.2" r="5.55"/><circle cx="478.5" cy="1274.1" r="5.55"/><circle cx="485.5" cy="1308.1" r="5.55"/><circle cx="475.2" cy="1270.3" r="5.55"/><circle cx="481.0" cy="1300.5" r="5.55"/><circle cx="485.8" cy="1335.7" r="5.55"/><circle cx="482.4" cy="1245.6" r="5.55"/><circle cx="478.5" cy="1345.9" r="5.55"/><circle cx="482.3" cy="1195.9" r="5.55"/><circle cx="479.3" cy="1290.7" r="5.55"/><circle cx="482.7" cy="1248.2" r="5.55"/><circle cx="484.5" cy="1303.0" r="5.55"/><circle cx="476.0" cy="1265.3" r="5.55"/><circle cx="485.8" cy="1309.3" r="5.55"/><circle cx="480.2" cy="1303.5" r="5.55"/><circle cx="483.0" cy="1334.3" r="5.55"/><circle cx="475.3" cy="1348.0" r="5.55"/><circle cx="478.3" cy="1323.2" r="5.55"/><circle cx="484.5" cy="1265.9" r="5.55"/><circle cx="475.2" cy="1284.7" r="5.55"/><circle cx="480.4" cy="1192.8" r="5.55"/><circle cx="478.4" cy="1325.1" r="5.55"/><circle cx="485.5" cy="1235.8" r="5.55"/><circle cx="477.1" cy="1338.7" r="5.55"/><circle cx="486.3" cy="1326.5" r="5.55"/><circle cx="480.3" cy="1230.7" r="5.55"/><circle cx="483.0" cy="1357.7" r="5.55"/><circle cx="483.2" cy="1281.0" r="5.55"/><circle cx="478.8" cy="1288.7" r="5.55"/><circle cx="483.5" cy="1323.8" r="5.55"/><circle cx="477.9" cy="1323.3" r="5.55"/><circle cx="478.3" cy="1202.9" r="5.55"/><circle cx="477.4" cy="1285.2" r="5.55"/><circle cx="486.6" cy="1294.0" r="5.55"/><circle cx="486.0" cy="1240.6" r="5.55"/><circle cx="484.6" cy="1288.0" r="5.55"/><circle cx="484.7" cy="1335.0" r="5.55"/><circle cx="475.6" cy="1320.2" r="5.55"/><circle cx="475.7" cy="1303.5" r="5.55"/><circle cx="479.6" cy="1306.2" r="5.55"/><circle cx="477.0" cy="1329.0" r="5.55"/><circle cx="476.2" cy="1232.4" r="5.55"/><circle cx="485.5" cy="1289.3" r="5.55"/><circle cx="485.2" cy="1312.4" r="5.55"/><circle cx="477.6" cy="1333.0" r="5.55"/><circle cx="484.1" cy="1315.6" r="5.55"/><circle cx="480.5" cy="1357.0" r="5.55"/><circle cx="481.8" cy="1287.5" r="5.55"/><circle cx="477.7" cy="1281.5" r="5.55"/><circle cx="484.3" cy="1365.3" r="5.55"/><circle cx="478.7" cy="1311.3" r="5.55"/><circle cx="481.7" cy="1289.2" r="5.55"/><circle cx="476.3" cy="1341.6" r="5.55"/><circle cx="479.9" cy="1239.2" r="5.55"/><circle cx="486.8" cy="1323.8" r="5.55"/><circle cx="475.3" cy="1300.5" r="5.55"/><circle cx="480.8" cy="1328.1" r="5.55"/><circle cx="484.6" cy="1273.9" r="5.55"/><circle cx="475.9" cy="1250.0" r="5.55"/><circle cx="482.4" cy="1316.6" r="5.55"/><circle cx="476.3" cy="1298.1" r="5.55"/><circle cx="475.3" cy="1283.8" r="5.55"/><circle cx="475.3" cy="1239.0" r="5.55"/><circle cx="482.9" cy="1280.7" r="5.55"/><circle cx="475.3" cy="1354.0" r="5.55"/><circle cx="479.4" cy="1207.5" r="5.55"/><circle cx="479.1" cy="1339.4" r="5.55"/><circle cx="478.7" cy="1309.7" r="5.55"/><circle cx="480.7" cy="1326.7" r="5.55"/><circle cx="475.6" cy="1333.7" r="5.55"/><circle cx="479.1" cy="1344.2" r="5.55"/><circle cx="482.4" cy="1247.9" r="5.55"/><circle cx="482.2" cy="1289.9" r="5.55"/><circle cx="480.7" cy="1247.0" r="5.55"/><circle cx="486.7" cy="1364.9" r="5.55"/><circle cx="485.2" cy="1253.7" r="5.55"/><circle cx="479.1" cy="1356.7" r="5.55"/><circle cx="477.1" cy="1336.8" r="5.55"/><circle cx="476.6" cy="1308.3" r="5.55"/><circle cx="479.5" cy="1296.1" r="5.55"/><circle cx="483.0" cy="1317.2" r="5.55"/><circle cx="477.6" cy="1329.6" r="5.55"/><circle cx="483.9" cy="1316.4" r="5.55"/><circle cx="478.2" cy="1361.7" r="5.55"/><circle cx="483.0" cy="1317.2" r="5.55"/><circle cx="479.3" cy="1348.8" r="5.55"/><circle cx="477.4" cy="1327.6" r="5.55"/><circle cx="477.0" cy="1273.4" r="5.55"/><circle cx="485.9" cy="1338.4" r="5.55"/><circle cx="477.0" cy="1317.9" r="5.55"/><circle cx="477.7" cy="1300.9" r="5.55"/><circle cx="486.0" cy="1300.2" r="5.55"/><circle cx="479.0" cy="1296.0" r="5.55"/><circle cx="482.8" cy="1269.7" r="5.55"/><circle cx="484.3" cy="1281.3" r="5.55"/><circle cx="485.9" cy="1260.8" r="5.55"/><circle cx="486.4" cy="1279.2" r="5.55"/><circle cx="485.3" cy="1339.0" r="5.55"/><circle cx="480.1" cy="1365.2" r="5.55"/><circle cx="481.7" cy="1301.3" r="5.55"/><circle cx="481.3" cy="1301.7" r="5.55"/><circle cx="475.3" cy="1253.9" r="5.55"/><circle cx="482.1" cy="1288.5" r="5.55"/><circle cx="482.9" cy="1298.2" r="5.55"/><circle cx="484.5" cy="1261.2" r="5.55"/><circle cx="483.4" cy="1257.8" r="5.55"/><circle cx="480.8" cy="1217.7" r="5.55"/><circle cx="475.5" cy="1296.1" r="5.55"/><circle cx="482.2" cy="1299.2" r="5.55"/><circle cx="478.4" cy="1299.0" r="5.55"/><circle cx="479.2" cy="1352.1" r="5.55"/><circle cx="483.2" cy="1319.8" r="5.55"/><circle cx="485.5" cy="1282.7" r="5.55"/><circle cx="476.1" cy="1319.5" r="5.55"/><circle cx="477.8" cy="1361.7" r="5.55"/><circle cx="484.7" cy="1287.2" r="5.55"/><circle cx="482.4" cy="1377.9" r="5.55"/><circle cx="485.9" cy="1323.2" r="5.55"/><circle cx="483.4" cy="1325.3" r="5.55"/><circle cx="475.1" cy="1329.8" r="5.55"/><circle cx="476.4" cy="1258.3" r="5.55"/><circle cx="481.5" cy="1261.7" r="5.55"/><circle cx="482.9" cy="1336.5" r="5.55"/><circle cx="485.3" cy="1318.9" r="5.55"/><circle cx="476.3" cy="1354.2" r="5.55"/><circle cx="482.7" cy="1285.3" r="5.55"/><circle cx="474.9" cy="1295.8" r="5.55"/><circle cx="482.4" cy="1238.4" r="5.55"/><circle cx="475.5" cy="1303.4" r="5.55"/><circle cx="479.8" cy="1273.9" r="5.55"/><circle cx="476.0" cy="1370.7" r="5.55"/><circle cx="484.0" cy="1327.9" r="5.55"/><circle cx="483.0" cy="1343.7" r="5.55"/><circle cx="485.1" cy="1250.5" r="5.55"/><circle cx="474.8" cy="1301.2" r="5.55"/><circle cx="482.7" cy="1291.9" r="5.55"/><circle cx="481.7" cy="1300.0" r="5.55"/><circle cx="483.3" cy="1309.0" r="5.55"/><circle cx="481.1" cy="1278.9" r="5.55"/><circle cx="485.8" cy="1280.8" r="5.55"/><circle cx="486.6" cy="1287.1" r="5.55"/><circle cx="477.4" cy="1284.2" r="5.55"/><circle cx="486.4" cy="1299.5" r="5.55"/><circle cx="486.0" cy="1359.1" r="5.55"/><circle cx="475.7" cy="1198.7" r="5.55"/><circle cx="482.7" cy="1321.5" r="5.55"/><circle cx="486.6" cy="1314.2" r="5.55"/><circle cx="475.2" cy="1363.7" r="5.55"/><circle cx="481.7" cy="1320.4" r="5.55"/><circle cx="480.3" cy="1255.9" r="5.55"/><circle cx="475.2" cy="1255.3" r="5.55"/><circle cx="483.9" cy="1278.9" r="5.55"/><circle cx="486.7" cy="1261.2" r="5.55"/><circle cx="480.4" cy="1290.0" r="5.55"/><circle cx="476.3" cy="1176.2" r="5.55"/><circle cx="482.9" cy="1348.5" r="5.55"/><circle cx="479.6" cy="1273.9" r="5.55"/><circle cx="484.5" cy="1303.3" r="5.55"/><circle cx="479.0" cy="1165.9" r="5.55"/><circle cx="478.5" cy="1374.4" r="5.55"/><circle cx="475.4" cy="1260.0" r="5.55"/><circle cx="481.3" cy="1194.9" r="5.55"/><circle cx="484.9" cy="1359.9" r="5.55"/><circle cx="475.6" cy="1194.9" r="5.55"/><circle cx="477.1" cy="1294.5" r="5.55"/><circle cx="482.6" cy="1239.9" r="5.55"/><circle cx="481.4" cy="1268.7" r="5.55"/><circle cx="481.0" cy="1323.6" r="5.55"/><circle cx="474.9" cy="1319.2" r="5.55"/><circle cx="479.8" cy="1318.2" r="5.55"/><circle cx="475.5" cy="1359.2" r="5.55"/><circle cx="481.4" cy="1299.1" r="5.55"/><circle cx="482.8" cy="1273.0" r="5.55"/><circle cx="484.5" cy="1277.6" r="5.55"/><circle cx="484.2" cy="1271.2" r="5.55"/><circle cx="479.8" cy="1293.3" r="5.55"/><circle cx="484.7" cy="1243.8" r="5.55"/><circle cx="474.8" cy="1281.8" r="5.55"/><circle cx="480.4" cy="1292.7" r="5.55"/><circle cx="478.3" cy="1349.3" r="5.55"/><circle cx="479.8" cy="1232.5" r="5.55"/><circle cx="481.9" cy="1302.7" r="5.55"/><circle cx="486.0" cy="1328.1" r="5.55"/><circle cx="482.3" cy="1248.7" r="5.55"/><circle cx="478.9" cy="1310.5" r="5.55"/><circle cx="480.8" cy="1301.7" r="5.55"/><circle cx="486.8" cy="1332.7" r="5.55"/><circle cx="475.9" cy="1332.0" r="5.55"/><circle cx="483.3" cy="1271.4" r="5.55"/><circle cx="476.1" cy="1315.1" r="5.55"/><circle cx="486.3" cy="1274.5" r="5.55"/><circle cx="476.1" cy="1173.1" r="5.55"/><circle cx="484.1" cy="1312.1" r="5.55"/><circle cx="498.1" cy="1296.0" r="5.55"/><circle cx="498.0" cy="1283.0" r="5.55"/><circle cx="498.4" cy="1340.0" r="5.55"/><circle cx="495.0" cy="1269.3" r="5.55"/><circle cx="490.6" cy="1226.9" r="5.55"/><circle cx="495.9" cy="1328.8" r="5.55"/><circle cx="488.0" cy="1306.0" r="5.55"/><circle cx="491.4" cy="1262.1" r="5.55"/><circle cx="498.9" cy="1338.3" r="5.55"/><circle cx="487.8" cy="1308.5" r="5.55"/><circle cx="496.9" cy="1311.0" r="5.55"/><circle cx="488.1" cy="1198.6" r="5.55"/><circle cx="488.9" cy="1308.6" r="5.55"/><circle cx="487.5" cy="1252.4" r="5.55"/><circle cx="489.4" cy="1293.0" r="5.55"/><circle cx="489.1" cy="1299.2" r="5.55"/><circle cx="491.5" cy="1293.5" r="5.55"/><circle cx="497.9" cy="1332.5" r="5.55"/><circle cx="487.5" cy="1360.2" r="5.55"/><circle cx="496.1" cy="1338.6" r="5.55"/><circle cx="496.0" cy="1290.4" r="5.55"/><circle cx="491.4" cy="1282.3" r="5.55"/><circle cx="491.2" cy="1294.5" r="5.55"/><circle cx="498.6" cy="1250.6" r="5.55"/><circle cx="495.2" cy="1304.0" r="5.55"/><circle cx="494.7" cy="1202.7" r="5.55"/><circle cx="490.3" cy="1356.0" r="5.55"/><circle cx="494.8" cy="1298.2" r="5.55"/><circle cx="487.1" cy="1310.8" r="5.55"/><circle cx="497.5" cy="1183.7" r="5.55"/><circle cx="490.0" cy="1314.1" r="5.55"/><circle cx="489.1" cy="1343.7" r="5.55"/><circle cx="492.4" cy="1324.3" r="5.55"/><circle cx="492.8" cy="1316.4" r="5.55"/><circle cx="488.6" cy="1354.6" r="5.55"/><circle cx="496.4" cy="1324.7" r="5.55"/><circle cx="489.3" cy="1337.0" r="5.55"/><circle cx="487.2" cy="1328.4" r="5.55"/><circle cx="494.0" cy="1273.7" r="5.55"/><circle cx="490.7" cy="1315.6" r="5.55"/><circle cx="498.7" cy="1300.8" r="5.55"/><circle cx="487.5" cy="1325.3" r="5.55"/><circle cx="494.7" cy="1305.7" r="5.55"/><circle cx="497.6" cy="1306.8" r="5.55"/><circle cx="489.1" cy="1232.5" r="5.55"/><circle cx="498.8" cy="1353.6" r="5.55"/><circle cx="495.5" cy="1324.3" r="5.55"/><circle cx="495.5" cy="1308.6" r="5.55"/><circle cx="496.1" cy="1344.2" r="5.55"/><circle cx="494.9" cy="1339.9" r="5.55"/><circle cx="494.5" cy="1190.6" r="5.55"/><circle cx="498.7" cy="1294.6" r="5.55"/><circle cx="487.6" cy="1343.0" r="5.55"/><circle cx="490.9" cy="1357.6" r="5.55"/><circle cx="498.4" cy="1309.6" r="5.55"/><circle cx="488.4" cy="1292.9" r="5.55"/><circle cx="495.4" cy="1201.4" r="5.55"/><circle cx="494.6" cy="1320.4" r="5.55"/><circle cx="493.4" cy="1308.7" r="5.55"/><circle cx="488.1" cy="1213.0" r="5.55"/><circle cx="498.9" cy="1318.7" r="5.55"/><circle cx="487.4" cy="1346.0" r="5.55"/><circle cx="498.0" cy="1272.3" r="5.55"/><circle cx="488.7" cy="1275.7" r="5.55"/><circle cx="491.0" cy="1320.2" r="5.55"/><circle cx="495.9" cy="1231.1" r="5.55"/><circle cx="495.8" cy="1255.0" r="5.55"/><circle cx="488.9" cy="1237.6" r="5.55"/><circle cx="493.0" cy="1329.6" r="5.55"/><circle cx="488.0" cy="1262.9" r="5.55"/><circle cx="497.8" cy="1316.8" r="5.55"/><circle cx="494.6" cy="1326.8" r="5.55"/><circle cx="498.4" cy="1361.8" r="5.55"/><circle cx="487.8" cy="1309.3" r="5.55"/><circle cx="498.1" cy="1270.6" r="5.55"/><circle cx="492.1" cy="1179.0" r="5.55"/><circle cx="498.3" cy="1330.7" r="5.55"/><circle cx="492.8" cy="1285.9" r="5.55"/><circle cx="499.1" cy="1262.9" r="5.55"/><circle cx="492.5" cy="1286.0" r="5.55"/><circle cx="490.9" cy="1307.0" r="5.55"/><circle cx="496.2" cy="1313.7" r="5.55"/><circle cx="491.4" cy="1272.6" r="5.55"/><circle cx="498.9" cy="1297.5" r="5.55"/><circle cx="489.7" cy="1286.2" r="5.55"/><circle cx="488.2" cy="1264.8" r="5.55"/><circle cx="487.5" cy="1246.0" r="5.55"/><circle cx="489.0" cy="1263.2" r="5.55"/><circle cx="495.5" cy="1312.8" r="5.55"/><circle cx="487.3" cy="1346.2" r="5.55"/><circle cx="487.7" cy="1245.7" r="5.55"/><circle cx="488.6" cy="1186.2" r="5.55"/><circle cx="493.8" cy="1279.6" r="5.55"/><circle cx="498.7" cy="1284.4" r="5.55"/><circle cx="486.9" cy="1268.1" r="5.55"/><circle cx="491.1" cy="1353.2" r="5.55"/><circle cx="495.5" cy="1238.1" r="5.55"/><circle cx="493.2" cy="1271.6" r="5.55"/><circle cx="491.9" cy="1269.6" r="5.55"/><circle cx="493.7" cy="1258.5" r="5.55"/><circle cx="497.0" cy="1322.0" r="5.55"/><circle cx="494.2" cy="1360.2" r="5.55"/><circle cx="498.1" cy="1221.8" r="5.55"/><circle cx="495.6" cy="1237.0" r="5.55"/><circle cx="493.3" cy="1273.2" r="5.55"/><circle cx="498.5" cy="1200.1" r="5.55"/><circle cx="496.6" cy="1317.1" r="5.55"/><circle cx="488.4" cy="1234.1" r="5.55"/><circle cx="495.5" cy="1252.9" r="5.55"/><circle cx="488.2" cy="1269.5" r="5.55"/><circle cx="497.3" cy="1245.8" r="5.55"/><circle cx="496.5" cy="1311.2" r="5.55"/><circle cx="492.1" cy="1240.5" r="5.55"/><circle cx="495.6" cy="1297.1" r="5.55"/><circle cx="492.3" cy="1342.4" r="5.55"/><circle cx="493.1" cy="1197.3" r="5.55"/><circle cx="493.9" cy="1327.8" r="5.55"/><circle cx="494.0" cy="1184.9" r="5.55"/><circle cx="494.7" cy="1226.3" r="5.55"/><circle cx="489.0" cy="1257.4" r="5.55"/><circle cx="489.4" cy="1304.0" r="5.55"/><circle cx="494.8" cy="1217.4" r="5.55"/><circle cx="487.3" cy="1327.7" r="5.55"/><circle cx="490.4" cy="1272.0" r="5.55"/><circle cx="497.2" cy="1286.7" r="5.55"/><circle cx="487.1" cy="1200.8" r="5.55"/><circle cx="490.3" cy="1283.2" r="5.55"/><circle cx="497.2" cy="1259.2" r="5.55"/><circle cx="497.1" cy="1252.7" r="5.55"/><circle cx="488.9" cy="1328.0" r="5.55"/><circle cx="488.1" cy="1361.1" r="5.55"/><circle cx="496.6" cy="1328.1" r="5.55"/><circle cx="490.4" cy="1357.4" r="5.55"/><circle cx="497.9" cy="1282.1" r="5.55"/><circle cx="491.1" cy="1307.6" r="5.55"/><circle cx="493.0" cy="1251.9" r="5.55"/><circle cx="494.5" cy="1326.9" r="5.55"/><circle cx="490.0" cy="1260.5" r="5.55"/><circle cx="497.2" cy="1272.0" r="5.55"/><circle cx="494.5" cy="1320.6" r="5.55"/><circle cx="494.8" cy="1280.7" r="5.55"/><circle cx="493.6" cy="1286.0" r="5.55"/><circle cx="498.0" cy="1307.0" r="5.55"/><circle cx="492.8" cy="1266.4" r="5.55"/><circle cx="494.8" cy="1204.2" r="5.55"/><circle cx="494.1" cy="1271.1" r="5.55"/><circle cx="495.5" cy="1337.4" r="5.55"/><circle cx="487.4" cy="1228.6" r="5.55"/><circle cx="494.4" cy="1319.3" r="5.55"/><circle cx="488.4" cy="1206.2" r="5.55"/><circle cx="497.1" cy="1305.8" r="5.55"/><circle cx="498.0" cy="1297.4" r="5.55"/><circle cx="495.4" cy="1278.4" r="5.55"/><circle cx="497.6" cy="1340.2" r="5.55"/><circle cx="488.9" cy="1352.3" r="5.55"/><circle cx="493.1" cy="1353.3" r="5.55"/><circle cx="490.8" cy="1279.0" r="5.55"/><circle cx="495.8" cy="1336.7" r="5.55"/><circle cx="488.0" cy="1322.1" r="5.55"/><circle cx="498.1" cy="1283.7" r="5.55"/><circle cx="492.9" cy="1287.1" r="5.55"/><circle cx="495.0" cy="1316.1" r="5.55"/><circle cx="496.4" cy="1281.5" r="5.55"/><circle cx="489.8" cy="1227.4" r="5.55"/><circle cx="497.3" cy="1349.4" r="5.55"/><circle cx="490.0" cy="1294.9" r="5.55"/><circle cx="494.0" cy="1241.1" r="5.55"/><circle cx="497.1" cy="1254.8" r="5.55"/><circle cx="492.9" cy="1314.2" r="5.55"/><circle cx="496.2" cy="1294.5" r="5.55"/><circle cx="497.0" cy="1310.7" r="5.55"/><circle cx="496.6" cy="1326.3" r="5.55"/><circle cx="490.0" cy="1296.9" r="5.55"/><circle cx="489.4" cy="1247.3" r="5.55"/><circle cx="495.0" cy="1344.4" r="5.55"/><circle cx="489.0" cy="1318.5" r="5.55"/><circle cx="492.2" cy="1337.0" r="5.55"/><circle cx="488.1" cy="1302.2" r="5.55"/><circle cx="488.4" cy="1220.2" r="5.55"/><circle cx="493.3" cy="1247.0" r="5.55"/><circle cx="494.2" cy="1300.5" r="5.55"/><circle cx="492.7" cy="1312.5" r="5.55"/><circle cx="491.6" cy="1281.4" r="5.55"/><circle cx="490.6" cy="1326.9" r="5.55"/><circle cx="487.0" cy="1177.3" r="5.55"/><circle cx="496.8" cy="1245.5" r="5.55"/><circle cx="486.9" cy="1331.6" r="5.55"/><circle cx="494.0" cy="1226.8" r="5.55"/><circle cx="493.7" cy="1302.6" r="5.55"/><circle cx="491.3" cy="1254.5" r="5.55"/><circle cx="487.6" cy="1268.6" r="5.55"/><circle cx="499.0" cy="1266.7" r="5.55"/><circle cx="494.1" cy="1316.6" r="5.55"/><circle cx="487.0" cy="1294.2" r="5.55"/><circle cx="498.8" cy="1330.7" r="5.55"/><circle cx="491.0" cy="1140.6" r="5.55"/><circle cx="487.4" cy="1294.7" r="5.55"/><circle cx="496.7" cy="1278.2" r="5.55"/><circle cx="494.9" cy="1279.3" r="5.55"/><circle cx="494.0" cy="1331.8" r="5.55"/><circle cx="490.2" cy="1311.9" r="5.55"/><circle cx="493.5" cy="1259.1" r="5.55"/><circle cx="497.4" cy="1280.5" r="5.55"/><circle cx="488.2" cy="1266.4" r="5.55"/><circle cx="490.2" cy="1252.4" r="5.55"/><circle cx="488.0" cy="1326.3" r="5.55"/><circle cx="487.9" cy="1322.2" r="5.55"/><circle cx="497.2" cy="1251.5" r="5.55"/><circle cx="496.0" cy="1323.8" r="5.55"/><circle cx="497.5" cy="1233.1" r="5.55"/><circle cx="498.6" cy="1183.7" r="5.55"/><circle cx="493.3" cy="1276.2" r="5.55"/><circle cx="492.8" cy="1294.4" r="5.55"/><circle cx="491.1" cy="1303.2" r="5.55"/><circle cx="498.0" cy="1237.8" r="5.55"/><circle cx="490.9" cy="1321.8" r="5.55"/><circle cx="494.7" cy="1233.7" r="5.55"/><circle cx="489.7" cy="1310.5" r="5.55"/><circle cx="487.1" cy="1302.0" r="5.55"/><circle cx="491.3" cy="1234.2" r="5.55"/><circle cx="494.2" cy="1289.1" r="5.55"/><circle cx="490.6" cy="1270.2" r="5.55"/><circle cx="493.4" cy="1201.9" r="5.55"/><circle cx="494.8" cy="1299.6" r="5.55"/><circle cx="496.7" cy="1284.9" r="5.55"/><circle cx="495.2" cy="1315.1" r="5.55"/><circle cx="488.4" cy="1291.6" r="5.55"/><circle cx="495.7" cy="1252.7" r="5.55"/><circle cx="488.2" cy="1329.6" r="5.55"/><circle cx="498.5" cy="1289.1" r="5.55"/><circle cx="488.2" cy="1227.2" r="5.55"/><circle cx="495.9" cy="1231.0" r="5.55"/><circle cx="489.8" cy="1142.6" r="5.55"/><circle cx="496.7" cy="1284.5" r="5.55"/><circle cx="495.9" cy="1298.0" r="5.55"/><circle cx="498.0" cy="1208.4" r="5.55"/><circle cx="493.1" cy="1326.9" r="5.55"/><circle cx="494.4" cy="1253.9" r="5.55"/><circle cx="496.1" cy="1250.6" r="5.55"/><circle cx="495.0" cy="1334.4" r="5.55"/><circle cx="489.8" cy="1265.8" r="5.55"/><circle cx="493.5" cy="1267.7" r="5.55"/><circle cx="498.5" cy="1274.5" r="5.55"/><circle cx="496.9" cy="1351.3" r="5.55"/><circle cx="490.1" cy="1279.5" r="5.55"/><circle cx="493.4" cy="1230.3" r="5.55"/><circle cx="495.4" cy="1308.7" r="5.55"/><circle cx="494.5" cy="1363.3" r="5.55"/><circle cx="495.1" cy="1292.8" r="5.55"/><circle cx="495.6" cy="1227.9" r="5.55"/><circle cx="487.9" cy="1290.7" r="5.55"/><circle cx="487.6" cy="1276.8" r="5.55"/><circle cx="491.6" cy="1325.5" r="5.55"/><circle cx="491.6" cy="1292.3" r="5.55"/><circle cx="490.5" cy="1305.2" r="5.55"/><circle cx="493.4" cy="1271.5" r="5.55"/><circle cx="487.4" cy="1248.8" r="5.55"/><circle cx="495.0" cy="1205.7" r="5.55"/><circle cx="498.2" cy="1284.2" r="5.55"/><circle cx="487.7" cy="1353.0" r="5.55"/><circle cx="498.2" cy="1255.8" r="5.55"/><circle cx="500.1" cy="1327.4" r="5.55"/><circle cx="504.4" cy="1236.8" r="5.55"/><circle cx="501.8" cy="1275.6" r="5.55"/><circle cx="501.5" cy="1260.0" r="5.55"/><circle cx="504.6" cy="1352.7" r="5.55"/><circle cx="505.4" cy="1254.5" r="5.55"/><circle cx="500.3" cy="1267.0" r="5.55"/><circle cx="507.1" cy="1260.1" r="5.55"/><circle cx="507.0" cy="1209.0" r="5.55"/><circle cx="508.9" cy="1327.3" r="5.55"/><circle cx="510.4" cy="1284.9" r="5.55"/><circle cx="501.9" cy="1301.1" r="5.55"/><circle cx="501.2" cy="1334.4" r="5.55"/><circle cx="501.3" cy="1289.6" r="5.55"/><circle cx="510.7" cy="1241.1" r="5.55"/><circle cx="508.5" cy="1333.0" r="5.55"/><circle cx="499.6" cy="1354.0" r="5.55"/><circle cx="501.1" cy="1341.9" r="5.55"/><circle cx="503.0" cy="1330.8" r="5.55"/><circle cx="504.8" cy="1226.6" r="5.55"/><circle cx="504.2" cy="1362.7" r="5.55"/><circle cx="507.8" cy="1324.2" r="5.55"/><circle cx="501.0" cy="1246.8" r="5.55"/><circle cx="501.2" cy="1345.5" r="5.55"/><circle cx="507.9" cy="1251.7" r="5.55"/><circle cx="509.8" cy="1286.3" r="5.55"/><circle cx="508.5" cy="1219.3" r="5.55"/><circle cx="503.1" cy="1317.9" r="5.55"/><circle cx="502.3" cy="1294.0" r="5.55"/><circle cx="509.8" cy="1255.5" r="5.55"/><circle cx="508.5" cy="1331.6" r="5.55"/><circle cx="509.8" cy="1352.1" r="5.55"/><circle cx="500.8" cy="1291.7" r="5.55"/><circle cx="499.2" cy="1270.3" r="5.55"/><circle cx="507.3" cy="1210.0" r="5.55"/><circle cx="509.8" cy="1258.7" r="5.55"/><circle cx="501.4" cy="1290.8" r="5.55"/><circle cx="499.3" cy="1346.6" r="5.55"/><circle cx="509.4" cy="1279.0" r="5.55"/><circle cx="506.0" cy="1285.9" r="5.55"/><circle cx="508.4" cy="1309.9" r="5.55"/><circle cx="506.6" cy="1297.8" r="5.55"/><circle cx="509.7" cy="1240.8" r="5.55"/><circle cx="501.3" cy="1231.2" r="5.55"/><circle cx="502.1" cy="1318.0" r="5.55"/><circle cx="502.7" cy="1231.8" r="5.55"/><circle cx="501.3" cy="1306.7" r="5.55"/><circle cx="505.0" cy="1277.3" r="5.55"/><circle cx="506.8" cy="1231.4" r="5.55"/><circle cx="500.1" cy="1339.3" r="5.55"/><circle cx="500.2" cy="1296.2" r="5.55"/><circle cx="499.2" cy="1316.1" r="5.55"/><circle cx="502.0" cy="1271.3" r="5.55"/><circle cx="501.2" cy="1354.9" r="5.55"/><circle cx="508.8" cy="1294.0" r="5.55"/><circle cx="500.6" cy="1236.7" r="5.55"/><circle cx="510.2" cy="1326.9" r="5.55"/><circle cx="501.3" cy="1214.0" r="5.55"/><circle cx="505.0" cy="1330.6" r="5.55"/><circle cx="509.2" cy="1339.2" r="5.55"/><circle cx="506.6" cy="1278.4" r="5.55"/><circle cx="503.9" cy="1284.2" r="5.55"/><circle cx="501.0" cy="1332.7" r="5.55"/><circle cx="506.1" cy="1288.4" r="5.55"/><circle cx="508.8" cy="1344.8" r="5.55"/><circle cx="510.4" cy="1266.5" r="5.55"/><circle cx="499.4" cy="1301.0" r="5.55"/><circle cx="502.7" cy="1267.2" r="5.55"/><circle cx="506.0" cy="1306.5" r="5.55"/><circle cx="508.2" cy="1299.0" r="5.55"/><circle cx="500.4" cy="1242.2" r="5.55"/><circle cx="503.5" cy="1270.7" r="5.55"/><circle cx="505.3" cy="1224.8" r="5.55"/><circle cx="507.4" cy="1179.7" r="5.55"/><circle cx="503.0" cy="1262.0" r="5.55"/><circle cx="500.6" cy="1254.3" r="5.55"/><circle cx="499.3" cy="1180.7" r="5.55"/><circle cx="502.0" cy="1282.3" r="5.55"/><circle cx="501.3" cy="1316.9" r="5.55"/><circle cx="508.3" cy="1257.8" r="5.55"/><circle cx="501.0" cy="1252.7" r="5.55"/><circle cx="504.4" cy="1301.8" r="5.55"/><circle cx="506.8" cy="1299.7" r="5.55"/><circle cx="510.9" cy="1232.4" r="5.55"/><circle cx="510.2" cy="1325.4" r="5.55"/><circle cx="500.0" cy="1360.2" r="5.55"/><circle cx="501.1" cy="1305.3" r="5.55"/><circle cx="499.9" cy="1309.8" r="5.55"/><circle cx="509.9" cy="1260.3" r="5.55"/><circle cx="499.9" cy="1306.0" r="5.55"/><circle cx="505.9" cy="1255.5" r="5.55"/><circle cx="507.0" cy="1253.8" r="5.55"/><circle cx="502.0" cy="1352.2" r="5.55"/><circle cx="509.4" cy="1330.4" r="5.55"/><circle cx="506.2" cy="1310.7" r="5.55"/><circle cx="505.2" cy="1285.9" r="5.55"/><circle cx="508.2" cy="1268.2" r="5.55"/><circle cx="504.4" cy="1282.8" r="5.55"/><circle cx="500.6" cy="1304.4" r="5.55"/><circle cx="502.5" cy="1290.0" r="5.55"/><circle cx="506.6" cy="1321.4" r="5.55"/><circle cx="500.2" cy="1261.2" r="5.55"/><circle cx="510.8" cy="1261.6" r="5.55"/><circle cx="501.4" cy="1301.8" r="5.55"/><circle cx="509.4" cy="1189.6" r="5.55"/><circle cx="506.3" cy="1307.6" r="5.55"/><circle cx="508.4" cy="1342.2" r="5.55"/><circle cx="506.3" cy="1314.8" r="5.55"/><circle cx="508.2" cy="1277.3" r="5.55"/><circle cx="502.0" cy="1251.1" r="5.55"/><circle cx="504.5" cy="1303.3" r="5.55"/><circle cx="503.5" cy="1290.1" r="5.55"/><circle cx="506.6" cy="1357.0" r="5.55"/><circle cx="510.4" cy="1296.5" r="5.55"/><circle cx="507.8" cy="1265.4" r="5.55"/><circle cx="503.7" cy="1164.6" r="5.55"/><circle cx="504.6" cy="1251.7" r="5.55"/><circle cx="502.4" cy="1323.9" r="5.55"/><circle cx="508.9" cy="1330.6" r="5.55"/><circle cx="509.4" cy="1284.0" r="5.55"/><circle cx="503.5" cy="1315.1" r="5.55"/><circle cx="500.9" cy="1348.3" r="5.55"/><circle cx="499.9" cy="1309.8" r="5.55"/><circle cx="511.2" cy="1156.1" r="5.55"/><circle cx="503.0" cy="1224.1" r="5.55"/><circle cx="500.7" cy="1289.3" r="5.55"/><circle cx="502.4" cy="1261.0" r="5.55"/><circle cx="499.5" cy="1220.0" r="5.55"/><circle cx="507.3" cy="1257.1" r="5.55"/><circle cx="506.7" cy="1272.7" r="5.55"/><circle cx="505.3" cy="1248.1" r="5.55"/><circle cx="510.4" cy="1166.3" r="5.55"/><circle cx="508.3" cy="1238.1" r="5.55"/><circle cx="506.2" cy="1171.3" r="5.55"/><circle cx="502.7" cy="1340.1" r="5.55"/><circle cx="508.6" cy="1223.4" r="5.55"/><circle cx="509.3" cy="1256.1" r="5.55"/><circle cx="499.2" cy="1276.7" r="5.55"/><circle cx="506.1" cy="1258.1" r="5.55"/><circle cx="505.2" cy="1210.4" r="5.55"/><circle cx="504.1" cy="1302.5" r="5.55"/><circle cx="508.8" cy="1335.2" r="5.55"/><circle cx="503.3" cy="1298.2" r="5.55"/><circle cx="506.0" cy="1311.0" r="5.55"/><circle cx="508.7" cy="1342.7" r="5.55"/><circle cx="503.0" cy="1330.5" r="5.55"/><circle cx="510.3" cy="1309.8" r="5.55"/><circle cx="504.0" cy="1309.4" r="5.55"/><circle cx="500.3" cy="1317.9" r="5.55"/><circle cx="510.5" cy="1295.1" r="5.55"/><circle cx="504.2" cy="1332.2" r="5.55"/><circle cx="508.0" cy="1264.4" r="5.55"/><circle cx="499.2" cy="1310.3" r="5.55"/><circle cx="500.9" cy="1322.4" r="5.55"/><circle cx="502.9" cy="1275.4" r="5.55"/><circle cx="508.2" cy="1301.2" r="5.55"/><circle cx="502.5" cy="1254.4" r="5.55"/><circle cx="506.3" cy="1313.8" r="5.55"/><circle cx="503.0" cy="1324.8" r="5.55"/><circle cx="503.2" cy="1232.3" r="5.55"/><circle cx="509.7" cy="1224.1" r="5.55"/><circle cx="501.2" cy="1347.1" r="5.55"/><circle cx="507.4" cy="1325.2" r="5.55"/><circle cx="499.5" cy="1320.1" r="5.55"/><circle cx="500.6" cy="1314.7" r="5.55"/><circle cx="504.1" cy="1249.4" r="5.55"/><circle cx="508.5" cy="1272.2" r="5.55"/><circle cx="503.3" cy="1310.8" r="5.55"/><circle cx="501.5" cy="1328.4" r="5.55"/><circle cx="511.1" cy="1317.8" r="5.55"/><circle cx="500.4" cy="1333.7" r="5.55"/><circle cx="508.3" cy="1324.6" r="5.55"/><circle cx="507.5" cy="1204.7" r="5.55"/><circle cx="504.6" cy="1315.6" r="5.55"/><circle cx="503.4" cy="1305.9" r="5.55"/><circle cx="503.0" cy="1280.4" r="5.55"/><circle cx="500.0" cy="1230.6" r="5.55"/><circle cx="504.4" cy="1320.9" r="5.55"/><circle cx="510.4" cy="1268.8" r="5.55"/><circle cx="503.2" cy="1327.9" r="5.55"/><circle cx="510.3" cy="1331.1" r="5.55"/><circle cx="509.8" cy="1259.1" r="5.55"/><circle cx="510.8" cy="1304.3" r="5.55"/><circle cx="508.3" cy="1338.3" r="5.55"/><circle cx="504.9" cy="1335.6" r="5.55"/><circle cx="500.1" cy="1320.5" r="5.55"/><circle cx="509.2" cy="1242.4" r="5.55"/><circle cx="504.5" cy="1240.9" r="5.55"/><circle cx="505.3" cy="1320.2" r="5.55"/><circle cx="504.4" cy="1290.0" r="5.55"/><circle cx="500.5" cy="1276.2" r="5.55"/><circle cx="504.3" cy="1316.6" r="5.55"/><circle cx="509.2" cy="1208.7" r="5.55"/><circle cx="506.7" cy="1303.9" r="5.55"/><circle cx="500.1" cy="1300.4" r="5.55"/><circle cx="507.5" cy="1220.3" r="5.55"/><circle cx="502.3" cy="1275.6" r="5.55"/><circle cx="500.5" cy="1300.8" r="5.55"/><circle cx="503.7" cy="1223.1" r="5.55"/><circle cx="503.7" cy="1315.9" r="5.55"/><circle cx="507.7" cy="1247.6" r="5.55"/><circle cx="511.0" cy="1334.3" r="5.55"/><circle cx="506.1" cy="1356.9" r="5.55"/><circle cx="505.0" cy="1342.0" r="5.55"/><circle cx="506.5" cy="1360.0" r="5.55"/><circle cx="501.4" cy="1221.0" r="5.55"/><circle cx="510.8" cy="1237.4" r="5.55"/><circle cx="522.6" cy="1281.1" r="5.55"/><circle cx="520.5" cy="1274.1" r="5.55"/><circle cx="513.7" cy="1251.8" r="5.55"/><circle cx="514.9" cy="1258.9" r="5.55"/><circle cx="515.7" cy="1311.8" r="5.55"/><circle cx="513.2" cy="1270.3" r="5.55"/><circle cx="512.3" cy="1294.2" r="5.55"/><circle cx="517.4" cy="1322.3" r="5.55"/><circle cx="513.4" cy="1340.7" r="5.55"/><circle cx="516.8" cy="1261.0" r="5.55"/><circle cx="515.3" cy="1313.9" r="5.55"/><circle cx="521.9" cy="1234.5" r="5.55"/><circle cx="511.5" cy="1348.9" r="5.55"/><circle cx="522.3" cy="1182.5" r="5.55"/><circle cx="516.5" cy="1270.5" r="5.55"/><circle cx="517.3" cy="1162.0" r="5.55"/><circle cx="513.8" cy="1344.8" r="5.55"/><circle cx="511.3" cy="1291.4" r="5.55"/><circle cx="515.8" cy="1320.6" r="5.55"/><circle cx="518.0" cy="1237.9" r="5.55"/><circle cx="513.6" cy="1322.2" r="5.55"/><circle cx="518.2" cy="1291.2" r="5.55"/><circle cx="512.8" cy="1317.0" r="5.55"/><circle cx="516.3" cy="1360.7" r="5.55"/><circle cx="514.2" cy="1264.9" r="5.55"/><circle cx="519.4" cy="1310.5" r="5.55"/><circle cx="512.5" cy="1246.2" r="5.55"/><circle cx="512.5" cy="1296.4" r="5.55"/><circle cx="512.7" cy="1229.0" r="5.55"/><circle cx="511.2" cy="1324.0" r="5.55"/><circle cx="515.1" cy="1302.6" r="5.55"/><circle cx="513.4" cy="1297.9" r="5.55"/><circle cx="521.9" cy="1285.4" r="5.55"/><circle cx="516.9" cy="1344.5" r="5.55"/><circle cx="514.3" cy="1279.8" r="5.55"/><circle cx="513.9" cy="1296.2" r="5.55"/><circle cx="519.7" cy="1299.4" r="5.55"/><circle cx="512.3" cy="1312.3" r="5.55"/><circle cx="523.3" cy="1292.1" r="5.55"/><circle cx="516.4" cy="1278.3" r="5.55"/><circle cx="522.1" cy="1335.4" r="5.55"/><circle cx="517.6" cy="1250.1" r="5.55"/><circle cx="511.5" cy="1331.1" r="5.55"/><circle cx="520.0" cy="1151.5" r="5.55"/><circle cx="515.3" cy="1323.8" r="5.55"/><circle cx="519.5" cy="1319.9" r="5.55"/><circle cx="523.3" cy="1224.9" r="5.55"/><circle cx="520.5" cy="1348.6" r="5.55"/><circle cx="519.1" cy="1278.5" r="5.55"/><circle cx="520.3" cy="1320.2" r="5.55"/><circle cx="512.1" cy="1270.3" r="5.55"/><circle cx="521.3" cy="1255.5" r="5.55"/><circle cx="516.4" cy="1218.5" r="5.55"/><circle cx="521.6" cy="1297.1" r="5.55"/><circle cx="513.7" cy="1310.2" r="5.55"/><circle cx="522.8" cy="1240.6" r="5.55"/><circle cx="520.3" cy="1311.0" r="5.55"/><circle cx="521.4" cy="1321.1" r="5.55"/><circle cx="516.0" cy="1247.8" r="5.55"/><circle cx="518.4" cy="1209.4" r="5.55"/><circle cx="521.0" cy="1297.9" r="5.55"/><circle cx="519.3" cy="1298.1" r="5.55"/><circle cx="515.6" cy="1264.2" r="5.55"/><circle cx="513.5" cy="1239.5" r="5.55"/><circle cx="516.3" cy="1312.7" r="5.55"/><circle cx="512.2" cy="1233.2" r="5.55"/><circle cx="512.5" cy="1308.4" r="5.55"/><circle cx="522.1" cy="1286.1" r="5.55"/><circle cx="513.4" cy="1304.7" r="5.55"/><circle cx="523.1" cy="1263.9" r="5.55"/><circle cx="517.1" cy="1277.1" r="5.55"/><circle cx="521.2" cy="1280.8" r="5.55"/><circle cx="512.3" cy="1289.2" r="5.55"/><circle cx="521.2" cy="1321.7" r="5.55"/><circle cx="521.7" cy="1351.1" r="5.55"/><circle cx="520.6" cy="1233.1" r="5.55"/><circle cx="512.3" cy="1248.2" r="5.55"/><circle cx="521.7" cy="1307.7" r="5.55"/><circle cx="512.2" cy="1224.8" r="5.55"/><circle cx="514.9" cy="1330.1" r="5.55"/><circle cx="522.1" cy="1200.0" r="5.55"/><circle cx="512.0" cy="1295.8" r="5.55"/><circle cx="515.2" cy="1329.3" r="5.55"/><circle cx="512.6" cy="1280.0" r="5.55"/><circle cx="519.8" cy="1297.8" r="5.55"/><circle cx="515.9" cy="1224.7" r="5.55"/><circle cx="515.0" cy="1252.0" r="5.55"/><circle cx="520.0" cy="1228.7" r="5.55"/><circle cx="515.9" cy="1275.6" r="5.55"/><circle cx="515.4" cy="1302.3" r="5.55"/><circle cx="514.8" cy="1260.3" r="5.55"/><circle cx="522.5" cy="1275.4" r="5.55"/><circle cx="523.1" cy="1237.5" r="5.55"/><circle cx="522.7" cy="1281.4" r="5.55"/><circle cx="511.9" cy="1312.3" r="5.55"/><circle cx="516.7" cy="1288.3" r="5.55"/><circle cx="518.5" cy="1217.8" r="5.55"/><circle cx="522.6" cy="1308.1" r="5.55"/><circle cx="521.4" cy="1325.3" r="5.55"/><circle cx="515.3" cy="1312.9" r="5.55"/><circle cx="520.1" cy="1325.4" r="5.55"/><circle cx="517.3" cy="1243.2" r="5.55"/><circle cx="515.5" cy="1267.0" r="5.55"/><circle cx="518.8" cy="1248.7" r="5.55"/><circle cx="516.5" cy="1296.1" r="5.55"/><circle cx="512.7" cy="1209.4" r="5.55"/><circle cx="519.8" cy="1309.6" r="5.55"/><circle cx="518.7" cy="1299.3" r="5.55"/><circle cx="519.2" cy="1273.4" r="5.55"/><circle cx="515.3" cy="1257.1" r="5.55"/><circle cx="513.0" cy="1280.2" r="5.55"/><circle cx="516.1" cy="1292.4" r="5.55"/><circle cx="517.4" cy="1320.7" r="5.55"/><circle cx="518.9" cy="1328.3" r="5.55"/><circle cx="522.7" cy="1299.2" r="5.55"/><circle cx="518.6" cy="1277.0" r="5.55"/><circle cx="516.1" cy="1252.2" r="5.55"/><circle cx="520.8" cy="1329.4" r="5.55"/><circle cx="518.6" cy="1192.8" r="5.55"/><circle cx="512.4" cy="1370.8" r="5.55"/><circle cx="511.8" cy="1232.7" r="5.55"/><circle cx="514.1" cy="1299.7" r="5.55"/><circle cx="512.3" cy="1308.1" r="5.55"/><circle cx="520.7" cy="1247.6" r="5.55"/><circle cx="514.0" cy="1259.4" r="5.55"/><circle cx="513.6" cy="1271.6" r="5.55"/><circle cx="523.3" cy="1264.4" r="5.55"/><circle cx="520.9" cy="1296.8" r="5.55"/><circle cx="512.0" cy="1231.1" r="5.55"/><circle cx="521.0" cy="1311.6" r="5.55"/><circle cx="521.4" cy="1325.0" r="5.55"/><circle cx="512.1" cy="1328.7" r="5.55"/><circle cx="515.2" cy="1327.4" r="5.55"/><circle cx="518.4" cy="1276.0" r="5.55"/><circle cx="516.6" cy="1273.5" r="5.55"/><circle cx="520.8" cy="1273.2" r="5.55"/><circle cx="522.0" cy="1322.9" r="5.55"/><circle cx="520.1" cy="1308.8" r="5.55"/><circle cx="517.7" cy="1259.8" r="5.55"/><circle cx="512.9" cy="1325.3" r="5.55"/><circle cx="522.3" cy="1242.1" r="5.55"/><circle cx="511.3" cy="1284.4" r="5.55"/><circle cx="521.6" cy="1252.6" r="5.55"/><circle cx="511.9" cy="1296.9" r="5.55"/><circle cx="514.9" cy="1217.0" r="5.55"/><circle cx="517.3" cy="1325.3" r="5.55"/><circle cx="520.7" cy="1286.9" r="5.55"/><circle cx="522.6" cy="1274.6" r="5.55"/><circle cx="518.2" cy="1280.8" r="5.55"/><circle cx="512.3" cy="1283.4" r="5.55"/><circle cx="519.1" cy="1156.6" r="5.55"/><circle cx="522.4" cy="1234.9" r="5.55"/><circle cx="515.4" cy="1292.3" r="5.55"/><circle cx="522.8" cy="1252.4" r="5.55"/><circle cx="520.6" cy="1272.7" r="5.55"/><circle cx="516.1" cy="1274.7" r="5.55"/><circle cx="516.0" cy="1283.6" r="5.55"/><circle cx="530.9" cy="1258.5" r="5.55"/><circle cx="533.0" cy="1244.4" r="5.55"/><circle cx="528.4" cy="1274.6" r="5.55"/><circle cx="526.9" cy="1247.6" r="5.55"/><circle cx="527.6" cy="1182.0" r="5.55"/><circle cx="526.3" cy="1199.5" r="5.55"/><circle cx="528.2" cy="1240.3" r="5.55"/><circle cx="533.9" cy="1237.8" r="5.55"/><circle cx="532.3" cy="1205.4" r="5.55"/><circle cx="535.3" cy="1208.3" r="5.55"/><circle cx="524.1" cy="1264.1" r="5.55"/><circle cx="535.5" cy="1252.6" r="5.55"/><circle cx="534.1" cy="1289.5" r="5.55"/><circle cx="527.9" cy="1250.6" r="5.55"/><circle cx="524.1" cy="1331.8" r="5.55"/><circle cx="530.6" cy="1231.9" r="5.55"/><circle cx="530.9" cy="1282.3" r="5.55"/><circle cx="525.5" cy="1190.7" r="5.55"/><circle cx="527.9" cy="1260.9" r="5.55"/><circle cx="524.3" cy="1250.6" r="5.55"/><circle cx="532.6" cy="1209.0" r="5.55"/><circle cx="530.4" cy="1184.8" r="5.55"/><circle cx="526.9" cy="1241.0" r="5.55"/><circle cx="534.8" cy="1293.6" r="5.55"/><circle cx="531.0" cy="1272.1" r="5.55"/><circle cx="529.6" cy="1343.4" r="5.55"/><circle cx="525.3" cy="1249.8" r="5.55"/><circle cx="526.4" cy="1291.2" r="5.55"/><circle cx="531.4" cy="1239.8" r="5.55"/><circle cx="525.0" cy="1264.4" r="5.55"/><circle cx="533.0" cy="1278.3" r="5.55"/><circle cx="530.3" cy="1306.0" r="5.55"/><circle cx="525.9" cy="1204.2" r="5.55"/><circle cx="524.7" cy="1315.9" r="5.55"/><circle cx="534.6" cy="1278.8" r="5.55"/><circle cx="524.6" cy="1253.8" r="5.55"/><circle cx="533.4" cy="1285.1" r="5.55"/><circle cx="531.7" cy="1255.1" r="5.55"/><circle cx="527.3" cy="1289.8" r="5.55"/><circle cx="534.0" cy="1260.1" r="5.55"/><circle cx="525.3" cy="1211.7" r="5.55"/><circle cx="527.1" cy="1228.5" r="5.55"/><circle cx="529.6" cy="1262.5" r="5.55"/><circle cx="529.2" cy="1253.1" r="5.55"/><circle cx="526.3" cy="1241.5" r="5.55"/><circle cx="534.5" cy="1264.5" r="5.55"/><circle cx="529.6" cy="1310.3" r="5.55"/><circle cx="531.1" cy="1346.9" r="5.55"/><circle cx="527.2" cy="1336.6" r="5.55"/><circle cx="534.5" cy="1208.4" r="5.55"/><circle cx="528.2" cy="1275.6" r="5.55"/><circle cx="530.9" cy="1251.3" r="5.55"/><circle cx="534.1" cy="1295.4" r="5.55"/><circle cx="523.9" cy="1209.0" r="5.55"/><circle cx="524.2" cy="1221.4" r="5.55"/><circle cx="524.0" cy="1180.4" r="5.55"/><circle cx="524.7" cy="1282.5" r="5.55"/><circle cx="530.5" cy="1265.0" r="5.55"/><circle cx="527.4" cy="1258.0" r="5.55"/><circle cx="533.8" cy="1231.0" r="5.55"/><circle cx="524.5" cy="1297.7" r="5.55"/><circle cx="528.9" cy="1251.4" r="5.55"/><circle cx="524.1" cy="1205.9" r="5.55"/><circle cx="530.0" cy="1289.8" r="5.55"/><circle cx="529.6" cy="1281.1" r="5.55"/><circle cx="530.4" cy="1258.8" r="5.55"/><circle cx="533.7" cy="1308.6" r="5.55"/><circle cx="533.2" cy="1265.4" r="5.55"/><circle cx="530.1" cy="1311.0" r="5.55"/><circle cx="532.7" cy="1253.3" r="5.55"/><circle cx="530.5" cy="1344.3" r="5.55"/><circle cx="535.2" cy="1305.7" r="5.55"/><circle cx="528.8" cy="1278.6" r="5.55"/><circle cx="526.7" cy="1341.8" r="5.55"/><circle cx="535.1" cy="1226.9" r="5.55"/><circle cx="526.3" cy="1254.8" r="5.55"/><circle cx="524.9" cy="1278.3" r="5.55"/><circle cx="531.5" cy="1231.6" r="5.55"/><circle cx="527.4" cy="1295.8" r="5.55"/><circle cx="533.4" cy="1290.9" r="5.55"/><circle cx="526.5" cy="1293.5" r="5.55"/><circle cx="527.3" cy="1312.3" r="5.55"/><circle cx="532.7" cy="1245.1" r="5.55"/><circle cx="528.7" cy="1319.2" r="5.55"/><circle cx="525.4" cy="1331.9" r="5.55"/><circle cx="531.9" cy="1330.1" r="5.55"/><circle cx="530.7" cy="1209.8" r="5.55"/><circle cx="527.2" cy="1238.2" r="5.55"/><circle cx="525.8" cy="1349.7" r="5.55"/><circle cx="526.5" cy="1243.8" r="5.55"/><circle cx="523.5" cy="1182.9" r="5.55"/><circle cx="528.0" cy="1333.4" r="5.55"/><circle cx="533.9" cy="1275.2" r="5.55"/><circle cx="530.6" cy="1242.9" r="5.55"/><circle cx="534.3" cy="1299.8" r="5.55"/><circle cx="527.1" cy="1174.9" r="5.55"/><circle cx="527.5" cy="1239.5" r="5.55"/><circle cx="533.0" cy="1241.4" r="5.55"/><circle cx="528.6" cy="1343.7" r="5.55"/><circle cx="534.8" cy="1264.1" r="5.55"/><circle cx="528.4" cy="1310.6" r="5.55"/><circle cx="527.8" cy="1318.3" r="5.55"/><circle cx="531.1" cy="1320.0" r="5.55"/><circle cx="528.5" cy="1274.4" r="5.55"/><circle cx="526.3" cy="1182.4" r="5.55"/><circle cx="527.7" cy="1220.1" r="5.55"/><circle cx="524.9" cy="1292.9" r="5.55"/><circle cx="535.4" cy="1201.2" r="5.55"/><circle cx="524.8" cy="1161.5" r="5.55"/><circle cx="527.0" cy="1323.0" r="5.55"/><circle cx="528.8" cy="1180.0" r="5.55"/><circle cx="531.0" cy="1292.7" r="5.55"/><circle cx="530.8" cy="1199.1" r="5.55"/><circle cx="524.6" cy="1294.6" r="5.55"/><circle cx="532.9" cy="1249.2" r="5.55"/><circle cx="528.9" cy="1250.0" r="5.55"/><circle cx="528.5" cy="1198.3" r="5.55"/><circle cx="533.8" cy="1273.8" r="5.55"/><circle cx="532.7" cy="1223.5" r="5.55"/><circle cx="531.0" cy="1315.5" r="5.55"/><circle cx="524.2" cy="1329.2" r="5.55"/><circle cx="529.2" cy="1376.3" r="5.55"/><circle cx="533.4" cy="1330.3" r="5.55"/><circle cx="525.9" cy="1319.2" r="5.55"/><circle cx="533.1" cy="1352.6" r="5.55"/><circle cx="535.2" cy="1287.0" r="5.55"/><circle cx="526.1" cy="1271.9" r="5.55"/><circle cx="531.5" cy="1333.2" r="5.55"/><circle cx="529.2" cy="1281.9" r="5.55"/><circle cx="531.7" cy="1288.6" r="5.55"/><circle cx="530.0" cy="1250.5" r="5.55"/><circle cx="528.2" cy="1278.6" r="5.55"/><circle cx="528.3" cy="1160.2" r="5.55"/><circle cx="534.8" cy="1297.1" r="5.55"/><circle cx="523.4" cy="1302.6" r="5.55"/><circle cx="525.1" cy="1216.0" r="5.55"/><circle cx="525.9" cy="1325.6" r="5.55"/><circle cx="527.3" cy="1303.6" r="5.55"/><circle cx="523.6" cy="1184.8" r="5.55"/><circle cx="532.0" cy="1220.2" r="5.55"/><circle cx="538.0" cy="1271.0" r="5.55"/><circle cx="536.9" cy="1225.6" r="5.55"/><circle cx="540.1" cy="1329.7" r="5.55"/><circle cx="546.1" cy="1299.0" r="5.55"/><circle cx="543.2" cy="1304.4" r="5.55"/><circle cx="546.4" cy="1191.1" r="5.55"/><circle cx="544.5" cy="1250.4" r="5.55"/><circle cx="536.2" cy="1273.0" r="5.55"/><circle cx="535.8" cy="1280.2" r="5.55"/><circle cx="535.8" cy="1256.2" r="5.55"/><circle cx="536.3" cy="1203.1" r="5.55"/><circle cx="536.7" cy="1252.2" r="5.55"/><circle cx="542.9" cy="1298.9" r="5.55"/><circle cx="536.7" cy="1270.6" r="5.55"/><circle cx="546.9" cy="1325.2" r="5.55"/><circle cx="544.3" cy="1278.6" r="5.55"/><circle cx="537.9" cy="1278.6" r="5.55"/><circle cx="536.9" cy="1215.7" r="5.55"/><circle cx="544.2" cy="1223.5" r="5.55"/><circle cx="536.7" cy="1273.9" r="5.55"/><circle cx="544.3" cy="1274.8" r="5.55"/><circle cx="541.0" cy="1183.2" r="5.55"/><circle cx="541.4" cy="1282.9" r="5.55"/><circle cx="542.6" cy="1301.5" r="5.55"/><circle cx="539.6" cy="1218.6" r="5.55"/><circle cx="544.3" cy="1268.0" r="5.55"/><circle cx="547.3" cy="1278.1" r="5.55"/><circle cx="536.6" cy="1159.0" r="5.55"/><circle cx="543.2" cy="1244.6" r="5.55"/><circle cx="546.6" cy="1280.7" r="5.55"/><circle cx="546.9" cy="1216.8" r="5.55"/><circle cx="541.0" cy="1228.8" r="5.55"/><circle cx="546.1" cy="1224.8" r="5.55"/><circle cx="541.8" cy="1248.6" r="5.55"/><circle cx="538.0" cy="1274.4" r="5.55"/><circle cx="544.3" cy="1166.8" r="5.55"/><circle cx="544.3" cy="1315.7" r="5.55"/><circle cx="546.9" cy="1329.6" r="5.55"/><circle cx="546.8" cy="1270.5" r="5.55"/><circle cx="545.5" cy="1287.6" r="5.55"/><circle cx="545.0" cy="1295.5" r="5.55"/><circle cx="546.4" cy="1267.3" r="5.55"/><circle cx="537.2" cy="1346.8" r="5.55"/><circle cx="535.6" cy="1292.9" r="5.55"/><circle cx="547.5" cy="1183.1" r="5.55"/><circle cx="547.2" cy="1212.5" r="5.55"/><circle cx="547.5" cy="1301.7" r="5.55"/><circle cx="544.5" cy="1239.0" r="5.55"/><circle cx="537.8" cy="1305.3" r="5.55"/><circle cx="547.2" cy="1286.2" r="5.55"/><circle cx="543.4" cy="1266.1" r="5.55"/><circle cx="536.8" cy="1299.6" r="5.55"/><circle cx="537.8" cy="1307.7" r="5.55"/><circle cx="546.6" cy="1279.9" r="5.55"/><circle cx="541.6" cy="1212.5" r="5.55"/><circle cx="538.0" cy="1258.9" r="5.55"/><circle cx="545.2" cy="1249.0" r="5.55"/><circle cx="546.1" cy="1193.9" r="5.55"/><circle cx="541.4" cy="1330.5" r="5.55"/><circle cx="546.9" cy="1284.0" r="5.55"/><circle cx="541.8" cy="1287.3" r="5.55"/><circle cx="538.2" cy="1300.2" r="5.55"/><circle cx="545.0" cy="1314.2" r="5.55"/><circle cx="539.1" cy="1264.9" r="5.55"/><circle cx="542.0" cy="1197.9" r="5.55"/><circle cx="539.5" cy="1148.7" r="5.55"/><circle cx="545.5" cy="1276.6" r="5.55"/><circle cx="542.6" cy="1294.2" r="5.55"/><circle cx="546.2" cy="1283.2" r="5.55"/><circle cx="536.3" cy="1255.2" r="5.55"/><circle cx="536.6" cy="1270.4" r="5.55"/><circle cx="546.6" cy="1315.1" r="5.55"/><circle cx="541.4" cy="1255.0" r="5.55"/><circle cx="535.8" cy="1262.5" r="5.55"/><circle cx="547.4" cy="1171.2" r="5.55"/><circle cx="545.7" cy="1326.2" r="5.55"/><circle cx="536.5" cy="1276.7" r="5.55"/><circle cx="536.9" cy="1234.0" r="5.55"/><circle cx="542.9" cy="1299.9" r="5.55"/><circle cx="538.1" cy="1326.9" r="5.55"/><circle cx="541.3" cy="1229.7" r="5.55"/><circle cx="537.3" cy="1284.5" r="5.55"/><circle cx="540.8" cy="1245.7" r="5.55"/><circle cx="539.3" cy="1291.3" r="5.55"/><circle cx="547.3" cy="1253.7" r="5.55"/><circle cx="538.1" cy="1325.1" r="5.55"/><circle cx="538.0" cy="1212.7" r="5.55"/><circle cx="546.0" cy="1267.9" r="5.55"/><circle cx="538.1" cy="1256.4" r="5.55"/><circle cx="545.1" cy="1238.5" r="5.55"/><circle cx="536.1" cy="1317.3" r="5.55"/><circle cx="536.4" cy="1275.2" r="5.55"/><circle cx="536.8" cy="1271.1" r="5.55"/><circle cx="540.5" cy="1288.9" r="5.55"/><circle cx="538.5" cy="1230.8" r="5.55"/><circle cx="536.9" cy="1321.9" r="5.55"/><circle cx="545.6" cy="1190.5" r="5.55"/><circle cx="541.3" cy="1315.4" r="5.55"/><circle cx="542.1" cy="1295.8" r="5.55"/><circle cx="536.5" cy="1283.3" r="5.55"/><circle cx="547.1" cy="1221.7" r="5.55"/><circle cx="546.0" cy="1234.4" r="5.55"/><circle cx="535.6" cy="1235.1" r="5.55"/><circle cx="539.5" cy="1253.2" r="5.55"/><circle cx="544.0" cy="1341.0" r="5.55"/><circle cx="538.4" cy="1288.6" r="5.55"/><circle cx="540.3" cy="1221.6" r="5.55"/><circle cx="545.4" cy="1270.8" r="5.55"/><circle cx="540.5" cy="1303.2" r="5.55"/><circle cx="543.5" cy="1330.0" r="5.55"/><circle cx="543.5" cy="1260.1" r="5.55"/><circle cx="546.0" cy="1241.8" r="5.55"/><circle cx="539.8" cy="1293.2" r="5.55"/><circle cx="535.7" cy="1325.0" r="5.55"/><circle cx="545.4" cy="1205.7" r="5.55"/><circle cx="540.4" cy="1263.3" r="5.55"/><circle cx="546.9" cy="1238.8" r="5.55"/><circle cx="538.0" cy="1222.0" r="5.55"/><circle cx="538.4" cy="1317.4" r="5.55"/><circle cx="545.4" cy="1236.2" r="5.55"/><circle cx="544.4" cy="1264.6" r="5.55"/><circle cx="541.7" cy="1313.2" r="5.55"/><circle cx="546.8" cy="1304.2" r="5.55"/><circle cx="547.3" cy="1288.4" r="5.55"/><circle cx="545.6" cy="1189.9" r="5.55"/><circle cx="541.9" cy="1200.4" r="5.55"/><circle cx="543.3" cy="1348.7" r="5.55"/><circle cx="543.7" cy="1301.4" r="5.55"/><circle cx="535.9" cy="1213.3" r="5.55"/><circle cx="552.0" cy="1238.8" r="5.55"/><circle cx="552.6" cy="1165.2" r="5.55"/><circle cx="553.4" cy="1198.1" r="5.55"/><circle cx="552.2" cy="1256.8" r="5.55"/><circle cx="556.7" cy="1292.9" r="5.55"/><circle cx="555.2" cy="1306.6" r="5.55"/><circle cx="552.8" cy="1307.1" r="5.55"/><circle cx="552.6" cy="1347.2" r="5.55"/><circle cx="553.9" cy="1172.1" r="5.55"/><circle cx="549.3" cy="1305.2" r="5.55"/><circle cx="553.2" cy="1230.7" r="5.55"/><circle cx="552.5" cy="1273.7" r="5.55"/><circle cx="551.4" cy="1277.9" r="5.55"/><circle cx="548.9" cy="1218.9" r="5.55"/><circle cx="553.0" cy="1252.0" r="5.55"/><circle cx="557.2" cy="1225.4" r="5.55"/><circle cx="551.1" cy="1275.6" r="5.55"/><circle cx="553.2" cy="1243.7" r="5.55"/><circle cx="559.6" cy="1306.8" r="5.55"/><circle cx="548.9" cy="1273.6" r="5.55"/><circle cx="557.6" cy="1301.6" r="5.55"/><circle cx="559.7" cy="1180.4" r="5.55"/><circle cx="548.4" cy="1301.9" r="5.55"/><circle cx="551.7" cy="1286.7" r="5.55"/><circle cx="553.3" cy="1178.4" r="5.55"/><circle cx="550.5" cy="1150.3" r="5.55"/><circle cx="552.4" cy="1267.8" r="5.55"/><circle cx="548.2" cy="1268.3" r="5.55"/><circle cx="556.3" cy="1195.6" r="5.55"/><circle cx="559.3" cy="1259.2" r="5.55"/><circle cx="552.4" cy="1231.2" r="5.55"/><circle cx="551.5" cy="1274.2" r="5.55"/><circle cx="559.6" cy="1237.0" r="5.55"/><circle cx="558.7" cy="1208.8" r="5.55"/><circle cx="559.4" cy="1236.6" r="5.55"/><circle cx="552.9" cy="1268.6" r="5.55"/><circle cx="555.5" cy="1229.1" r="5.55"/><circle cx="549.9" cy="1252.0" r="5.55"/><circle cx="552.4" cy="1195.0" r="5.55"/><circle cx="552.5" cy="1134.9" r="5.55"/><circle cx="552.7" cy="1230.6" r="5.55"/><circle cx="553.3" cy="1328.0" r="5.55"/><circle cx="557.2" cy="1256.2" r="5.55"/><circle cx="554.8" cy="1297.3" r="5.55"/><circle cx="554.2" cy="1250.2" r="5.55"/><circle cx="548.4" cy="1256.3" r="5.55"/><circle cx="555.1" cy="1225.6" r="5.55"/><circle cx="548.9" cy="1214.8" r="5.55"/><circle cx="553.5" cy="1238.5" r="5.55"/><circle cx="558.9" cy="1253.6" r="5.55"/><circle cx="548.7" cy="1273.5" r="5.55"/><circle cx="555.6" cy="1266.5" r="5.55"/><circle cx="551.9" cy="1250.3" r="5.55"/><circle cx="549.5" cy="1294.5" r="5.55"/><circle cx="559.5" cy="1253.4" r="5.55"/><circle cx="554.0" cy="1277.7" r="5.55"/><circle cx="559.6" cy="1186.1" r="5.55"/><circle cx="558.8" cy="1185.3" r="5.55"/><circle cx="552.1" cy="1287.8" r="5.55"/><circle cx="551.8" cy="1302.6" r="5.55"/><circle cx="557.5" cy="1261.6" r="5.55"/><circle cx="549.5" cy="1306.9" r="5.55"/><circle cx="553.9" cy="1276.1" r="5.55"/><circle cx="552.8" cy="1207.4" r="5.55"/><circle cx="554.9" cy="1295.6" r="5.55"/><circle cx="558.6" cy="1261.7" r="5.55"/><circle cx="551.0" cy="1297.8" r="5.55"/><circle cx="550.2" cy="1243.6" r="5.55"/><circle cx="550.7" cy="1298.7" r="5.55"/><circle cx="557.4" cy="1259.9" r="5.55"/><circle cx="552.4" cy="1290.8" r="5.55"/><circle cx="558.6" cy="1248.7" r="5.55"/><circle cx="548.4" cy="1245.3" r="5.55"/><circle cx="556.0" cy="1255.1" r="5.55"/><circle cx="549.7" cy="1269.4" r="5.55"/><circle cx="554.9" cy="1278.2" r="5.55"/><circle cx="554.7" cy="1268.6" r="5.55"/><circle cx="559.9" cy="1295.4" r="5.55"/><circle cx="549.2" cy="1274.9" r="5.55"/><circle cx="556.9" cy="1222.0" r="5.55"/><circle cx="555.9" cy="1156.2" r="5.55"/><circle cx="555.0" cy="1226.3" r="5.55"/><circle cx="551.8" cy="1310.8" r="5.55"/><circle cx="555.4" cy="1312.7" r="5.55"/><circle cx="549.9" cy="1247.8" r="5.55"/><circle cx="556.4" cy="1237.5" r="5.55"/><circle cx="559.4" cy="1278.1" r="5.55"/><circle cx="554.9" cy="1286.6" r="5.55"/><circle cx="548.0" cy="1315.3" r="5.55"/><circle cx="549.7" cy="1220.0" r="5.55"/><circle cx="548.2" cy="1257.2" r="5.55"/><circle cx="558.1" cy="1207.8" r="5.55"/><circle cx="556.6" cy="1270.0" r="5.55"/><circle cx="550.0" cy="1287.4" r="5.55"/><circle cx="549.7" cy="1232.2" r="5.55"/><circle cx="554.9" cy="1235.9" r="5.55"/><circle cx="555.1" cy="1295.1" r="5.55"/><circle cx="559.0" cy="1290.2" r="5.55"/><circle cx="550.6" cy="1214.1" r="5.55"/><circle cx="556.6" cy="1261.0" r="5.55"/><circle cx="554.9" cy="1194.2" r="5.55"/><circle cx="552.8" cy="1277.3" r="5.55"/><circle cx="559.7" cy="1275.1" r="5.55"/><circle cx="552.3" cy="1239.9" r="5.55"/><circle cx="554.5" cy="1315.5" r="5.55"/><circle cx="550.1" cy="1279.1" r="5.55"/><circle cx="558.7" cy="1171.7" r="5.55"/><circle cx="554.9" cy="1238.0" r="5.55"/><circle cx="559.5" cy="1224.8" r="5.55"/><circle cx="558.0" cy="1175.8" r="5.55"/><circle cx="553.5" cy="1264.2" r="5.55"/><circle cx="552.9" cy="1330.3" r="5.55"/><circle cx="550.0" cy="1205.1" r="5.55"/><circle cx="557.2" cy="1192.7" r="5.55"/><circle cx="554.9" cy="1292.4" r="5.55"/><circle cx="556.4" cy="1306.9" r="5.55"/><circle cx="551.3" cy="1183.9" r="5.55"/><circle cx="552.8" cy="1346.6" r="5.55"/><circle cx="558.7" cy="1306.5" r="5.55"/><circle cx="559.8" cy="1246.0" r="5.55"/><circle cx="550.3" cy="1246.5" r="5.55"/><circle cx="554.1" cy="1288.8" r="5.55"/><circle cx="553.9" cy="1291.6" r="5.55"/><circle cx="556.3" cy="1269.4" r="5.55"/><circle cx="559.7" cy="1259.8" r="5.55"/><circle cx="557.6" cy="1224.3" r="5.55"/><circle cx="559.4" cy="1282.0" r="5.55"/><circle cx="550.1" cy="1267.1" r="5.55"/><circle cx="552.2" cy="1281.6" r="5.55"/><circle cx="562.6" cy="1207.3" r="5.55"/><circle cx="561.3" cy="1254.2" r="5.55"/><circle cx="570.1" cy="1228.9" r="5.55"/><circle cx="567.1" cy="1231.6" r="5.55"/><circle cx="568.3" cy="1207.6" r="5.55"/><circle cx="561.7" cy="1209.0" r="5.55"/><circle cx="566.0" cy="1272.6" r="5.55"/><circle cx="560.4" cy="1282.3" r="5.55"/><circle cx="563.9" cy="1336.7" r="5.55"/><circle cx="571.6" cy="1233.0" r="5.55"/><circle cx="567.7" cy="1169.5" r="5.55"/><circle cx="560.2" cy="1222.5" r="5.55"/><circle cx="571.0" cy="1239.9" r="5.55"/><circle cx="567.8" cy="1196.3" r="5.55"/><circle cx="565.7" cy="1254.7" r="5.55"/><circle cx="562.6" cy="1270.6" r="5.55"/><circle cx="564.8" cy="1244.6" r="5.55"/><circle cx="571.7" cy="1245.8" r="5.55"/><circle cx="569.9" cy="1271.7" r="5.55"/><circle cx="567.4" cy="1238.2" r="5.55"/><circle cx="570.1" cy="1279.5" r="5.55"/><circle cx="568.6" cy="1240.3" r="5.55"/><circle cx="560.6" cy="1270.5" r="5.55"/><circle cx="562.5" cy="1255.3" r="5.55"/><circle cx="564.3" cy="1291.8" r="5.55"/><circle cx="565.2" cy="1217.8" r="5.55"/><circle cx="567.1" cy="1179.2" r="5.55"/><circle cx="570.2" cy="1204.5" r="5.55"/><circle cx="560.0" cy="1193.7" r="5.55"/><circle cx="560.3" cy="1190.3" r="5.55"/><circle cx="562.4" cy="1175.8" r="5.55"/><circle cx="569.3" cy="1287.1" r="5.55"/><circle cx="570.2" cy="1226.3" r="5.55"/><circle cx="561.4" cy="1251.3" r="5.55"/><circle cx="569.4" cy="1175.3" r="5.55"/><circle cx="567.2" cy="1286.4" r="5.55"/><circle cx="568.0" cy="1335.6" r="5.55"/><circle cx="569.2" cy="1218.4" r="5.55"/><circle cx="565.8" cy="1284.0" r="5.55"/><circle cx="571.9" cy="1275.0" r="5.55"/><circle cx="561.5" cy="1226.5" r="5.55"/><circle cx="565.7" cy="1261.3" r="5.55"/><circle cx="562.0" cy="1210.6" r="5.55"/><circle cx="566.5" cy="1261.7" r="5.55"/><circle cx="562.4" cy="1224.6" r="5.55"/><circle cx="565.9" cy="1130.3" r="5.55"/><circle cx="565.3" cy="1150.5" r="5.55"/><circle cx="571.1" cy="1311.6" r="5.55"/><circle cx="563.9" cy="1250.7" r="5.55"/><circle cx="564.6" cy="1253.2" r="5.55"/><circle cx="561.5" cy="1244.4" r="5.55"/><circle cx="564.6" cy="1189.6" r="5.55"/><circle cx="566.8" cy="1180.2" r="5.55"/><circle cx="565.6" cy="1217.9" r="5.55"/><circle cx="571.0" cy="1259.8" r="5.55"/><circle cx="567.5" cy="1206.3" r="5.55"/><circle cx="564.7" cy="1257.7" r="5.55"/><circle cx="568.6" cy="1221.0" r="5.55"/><circle cx="571.7" cy="1265.4" r="5.55"/><circle cx="569.3" cy="1268.1" r="5.55"/><circle cx="560.1" cy="1211.8" r="5.55"/><circle cx="569.8" cy="1201.5" r="5.55"/><circle cx="560.5" cy="1231.7" r="5.55"/><circle cx="561.7" cy="1225.3" r="5.55"/><circle cx="569.6" cy="1292.1" r="5.55"/><circle cx="561.8" cy="1244.6" r="5.55"/><circle cx="565.7" cy="1207.0" r="5.55"/><circle cx="567.7" cy="1264.8" r="5.55"/><circle cx="562.8" cy="1135.9" r="5.55"/><circle cx="563.1" cy="1169.3" r="5.55"/><circle cx="569.7" cy="1260.4" r="5.55"/><circle cx="570.9" cy="1207.5" r="5.55"/><circle cx="563.7" cy="1304.7" r="5.55"/><circle cx="569.0" cy="1276.3" r="5.55"/><circle cx="570.6" cy="1268.0" r="5.55"/><circle cx="565.3" cy="1221.9" r="5.55"/><circle cx="563.2" cy="1205.5" r="5.55"/><circle cx="568.9" cy="1196.8" r="5.55"/><circle cx="564.5" cy="1237.2" r="5.55"/><circle cx="571.5" cy="1215.3" r="5.55"/><circle cx="571.7" cy="1272.0" r="5.55"/><circle cx="569.4" cy="1150.1" r="5.55"/><circle cx="563.5" cy="1276.7" r="5.55"/><circle cx="567.6" cy="1261.8" r="5.55"/><circle cx="566.6" cy="1229.1" r="5.55"/><circle cx="568.0" cy="1139.7" r="5.55"/><circle cx="571.8" cy="1304.4" r="5.55"/><circle cx="566.5" cy="1177.1" r="5.55"/><circle cx="569.3" cy="1288.2" r="5.55"/><circle cx="563.7" cy="1268.2" r="5.55"/><circle cx="562.4" cy="1271.6" r="5.55"/><circle cx="563.0" cy="1309.3" r="5.55"/><circle cx="571.3" cy="1189.5" r="5.55"/><circle cx="565.3" cy="1283.4" r="5.55"/><circle cx="564.6" cy="1210.5" r="5.55"/><circle cx="564.7" cy="1231.3" r="5.55"/><circle cx="564.8" cy="1282.1" r="5.55"/><circle cx="567.3" cy="1276.8" r="5.55"/><circle cx="561.4" cy="1295.0" r="5.55"/><circle cx="565.7" cy="1265.3" r="5.55"/><circle cx="570.0" cy="1294.8" r="5.55"/><circle cx="564.4" cy="1250.9" r="5.55"/><circle cx="565.9" cy="1176.3" r="5.55"/><circle cx="565.8" cy="1159.7" r="5.55"/><circle cx="559.9" cy="1320.1" r="5.55"/><circle cx="565.5" cy="1175.4" r="5.55"/><circle cx="562.7" cy="1213.4" r="5.55"/><circle cx="560.6" cy="1260.8" r="5.55"/><circle cx="571.4" cy="1274.7" r="5.55"/><circle cx="569.4" cy="1257.0" r="5.55"/><circle cx="569.4" cy="1244.7" r="5.55"/><circle cx="565.2" cy="1295.2" r="5.55"/><circle cx="567.5" cy="1221.4" r="5.55"/><circle cx="574.2" cy="1183.3" r="5.55"/><circle cx="579.9" cy="1295.9" r="5.55"/><circle cx="580.6" cy="1342.8" r="5.55"/><circle cx="580.4" cy="1147.3" r="5.55"/><circle cx="576.7" cy="1178.4" r="5.55"/><circle cx="575.6" cy="1216.0" r="5.55"/><circle cx="583.3" cy="1227.5" r="5.55"/><circle cx="579.1" cy="1256.6" r="5.55"/><circle cx="581.3" cy="1116.4" r="5.55"/><circle cx="574.1" cy="1169.2" r="5.55"/><circle cx="582.2" cy="1189.2" r="5.55"/><circle cx="584.0" cy="1280.3" r="5.55"/><circle cx="582.3" cy="1212.7" r="5.55"/><circle cx="579.9" cy="1248.3" r="5.55"/><circle cx="584.1" cy="1155.0" r="5.55"/><circle cx="574.9" cy="1249.8" r="5.55"/><circle cx="579.6" cy="1245.2" r="5.55"/><circle cx="580.4" cy="1267.1" r="5.55"/><circle cx="575.1" cy="1250.1" r="5.55"/><circle cx="573.7" cy="1280.7" r="5.55"/><circle cx="572.4" cy="1227.8" r="5.55"/><circle cx="579.2" cy="1199.4" r="5.55"/><circle cx="578.5" cy="1212.4" r="5.55"/><circle cx="583.2" cy="1268.4" r="5.55"/><circle cx="581.7" cy="1184.2" r="5.55"/><circle cx="577.4" cy="1255.4" r="5.55"/><circle cx="583.1" cy="1276.3" r="5.55"/><circle cx="573.5" cy="1215.5" r="5.55"/><circle cx="576.2" cy="1228.2" r="5.55"/><circle cx="578.8" cy="1263.8" r="5.55"/><circle cx="575.1" cy="1268.7" r="5.55"/><circle cx="583.1" cy="1275.6" r="5.55"/><circle cx="579.2" cy="1234.8" r="5.55"/><circle cx="576.4" cy="1264.3" r="5.55"/><circle cx="575.5" cy="1252.3" r="5.55"/><circle cx="572.8" cy="1249.7" r="5.55"/><circle cx="574.8" cy="1178.8" r="5.55"/><circle cx="578.5" cy="1244.9" r="5.55"/><circle cx="580.3" cy="1247.9" r="5.55"/><circle cx="575.5" cy="1251.4" r="5.55"/><circle cx="578.5" cy="1237.9" r="5.55"/><circle cx="577.6" cy="1193.6" r="5.55"/><circle cx="575.2" cy="1183.9" r="5.55"/><circle cx="578.9" cy="1165.7" r="5.55"/><circle cx="576.3" cy="1278.0" r="5.55"/><circle cx="577.2" cy="1165.6" r="5.55"/><circle cx="575.3" cy="1265.0" r="5.55"/><circle cx="583.2" cy="1178.3" r="5.55"/><circle cx="581.4" cy="1302.2" r="5.55"/><circle cx="579.9" cy="1293.7" r="5.55"/><circle cx="582.7" cy="1230.5" r="5.55"/><circle cx="580.5" cy="1169.8" r="5.55"/><circle cx="575.9" cy="1189.1" r="5.55"/><circle cx="580.5" cy="1357.5" r="5.55"/><circle cx="582.2" cy="1237.0" r="5.55"/><circle cx="572.4" cy="1194.1" r="5.55"/><circle cx="583.1" cy="1171.4" r="5.55"/><circle cx="574.4" cy="1169.7" r="5.55"/><circle cx="580.8" cy="1209.4" r="5.55"/><circle cx="583.3" cy="1333.2" r="5.55"/><circle cx="572.6" cy="1288.7" r="5.55"/><circle cx="582.3" cy="1244.1" r="5.55"/><circle cx="575.1" cy="1270.8" r="5.55"/><circle cx="573.2" cy="1278.2" r="5.55"/><circle cx="578.9" cy="1191.6" r="5.55"/><circle cx="581.4" cy="1197.6" r="5.55"/><circle cx="579.0" cy="1259.8" r="5.55"/><circle cx="574.0" cy="1249.1" r="5.55"/><circle cx="572.7" cy="1221.7" r="5.55"/><circle cx="579.8" cy="1174.6" r="5.55"/><circle cx="573.3" cy="1264.8" r="5.55"/><circle cx="574.2" cy="1280.9" r="5.55"/><circle cx="582.1" cy="1245.9" r="5.55"/><circle cx="580.8" cy="1204.4" r="5.55"/><circle cx="582.3" cy="1281.4" r="5.55"/><circle cx="574.2" cy="1184.8" r="5.55"/><circle cx="576.5" cy="1188.0" r="5.55"/><circle cx="582.2" cy="1181.1" r="5.55"/><circle cx="577.4" cy="1280.1" r="5.55"/><circle cx="577.3" cy="1251.5" r="5.55"/><circle cx="577.9" cy="1282.3" r="5.55"/><circle cx="573.2" cy="1219.1" r="5.55"/><circle cx="580.1" cy="1166.7" r="5.55"/><circle cx="582.1" cy="1239.4" r="5.55"/><circle cx="572.6" cy="1186.2" r="5.55"/><circle cx="584.0" cy="1247.2" r="5.55"/><circle cx="573.0" cy="1272.1" r="5.55"/><circle cx="576.1" cy="1221.8" r="5.55"/><circle cx="580.6" cy="1147.5" r="5.55"/><circle cx="579.0" cy="1273.5" r="5.55"/><circle cx="582.7" cy="1278.9" r="5.55"/><circle cx="580.0" cy="1286.7" r="5.55"/><circle cx="573.3" cy="1238.4" r="5.55"/><circle cx="578.9" cy="1340.3" r="5.55"/><circle cx="580.4" cy="1249.3" r="5.55"/><circle cx="574.7" cy="1200.4" r="5.55"/><circle cx="593.7" cy="1249.6" r="5.55"/><circle cx="585.6" cy="1197.3" r="5.55"/><circle cx="587.1" cy="1219.2" r="5.55"/><circle cx="586.3" cy="1180.7" r="5.55"/><circle cx="588.6" cy="1233.6" r="5.55"/><circle cx="591.6" cy="1248.5" r="5.55"/><circle cx="593.6" cy="1191.2" r="5.55"/><circle cx="588.4" cy="1154.6" r="5.55"/><circle cx="590.2" cy="1230.4" r="5.55"/><circle cx="594.3" cy="1249.3" r="5.55"/><circle cx="594.3" cy="1125.9" r="5.55"/><circle cx="586.7" cy="1315.4" r="5.55"/><circle cx="588.8" cy="1192.7" r="5.55"/><circle cx="587.4" cy="1285.3" r="5.55"/><circle cx="585.9" cy="1165.9" r="5.55"/><circle cx="585.9" cy="1167.6" r="5.55"/><circle cx="585.8" cy="1251.8" r="5.55"/><circle cx="586.7" cy="1226.7" r="5.55"/><circle cx="592.4" cy="1262.5" r="5.55"/><circle cx="586.4" cy="1162.3" r="5.55"/><circle cx="594.4" cy="1242.5" r="5.55"/><circle cx="585.4" cy="1127.5" r="5.55"/><circle cx="589.0" cy="1239.0" r="5.55"/><circle cx="588.7" cy="1182.6" r="5.55"/><circle cx="588.2" cy="1164.1" r="5.55"/><circle cx="585.4" cy="1230.7" r="5.55"/><circle cx="587.1" cy="1165.4" r="5.55"/><circle cx="592.4" cy="1217.0" r="5.55"/><circle cx="593.7" cy="1202.8" r="5.55"/><circle cx="585.2" cy="1235.1" r="5.55"/><circle cx="586.6" cy="1190.2" r="5.55"/><circle cx="586.8" cy="1265.1" r="5.55"/><circle cx="595.3" cy="1164.0" r="5.55"/><circle cx="584.4" cy="1256.2" r="5.55"/><circle cx="588.1" cy="1332.0" r="5.55"/><circle cx="592.5" cy="1157.5" r="5.55"/><circle cx="589.9" cy="1204.9" r="5.55"/><circle cx="594.3" cy="1152.7" r="5.55"/><circle cx="588.2" cy="1166.5" r="5.55"/><circle cx="591.7" cy="1209.0" r="5.55"/><circle cx="593.9" cy="1272.3" r="5.55"/><circle cx="584.6" cy="1193.2" r="5.55"/><circle cx="592.6" cy="1157.2" r="5.55"/><circle cx="585.2" cy="1231.0" r="5.55"/><circle cx="586.8" cy="1244.9" r="5.55"/><circle cx="587.2" cy="1216.2" r="5.55"/><circle cx="592.5" cy="1164.8" r="5.55"/><circle cx="587.7" cy="1207.0" r="5.55"/><circle cx="595.6" cy="1332.0" r="5.55"/><circle cx="595.5" cy="1255.2" r="5.55"/><circle cx="589.6" cy="1236.0" r="5.55"/><circle cx="588.6" cy="1296.5" r="5.55"/><circle cx="584.5" cy="1167.4" r="5.55"/><circle cx="594.1" cy="1149.5" r="5.55"/><circle cx="588.3" cy="1252.0" r="5.55"/><circle cx="585.1" cy="1239.2" r="5.55"/><circle cx="591.0" cy="1220.6" r="5.55"/><circle cx="584.4" cy="1286.2" r="5.55"/><circle cx="596.0" cy="1236.6" r="5.55"/><circle cx="591.9" cy="1188.0" r="5.55"/><circle cx="592.7" cy="1147.7" r="5.55"/><circle cx="592.0" cy="1214.9" r="5.55"/><circle cx="591.1" cy="1165.6" r="5.55"/><circle cx="586.4" cy="1229.1" r="5.55"/><circle cx="607.5" cy="1172.3" r="5.55"/><circle cx="603.4" cy="1164.5" r="5.55"/><circle cx="604.3" cy="1269.5" r="5.55"/><circle cx="599.9" cy="1181.4" r="5.55"/><circle cx="601.8" cy="1191.4" r="5.55"/><circle cx="608.1" cy="1169.8" r="5.55"/><circle cx="606.8" cy="1239.1" r="5.55"/><circle cx="603.6" cy="1288.5" r="5.55"/><circle cx="605.7" cy="1263.8" r="5.55"/><circle cx="601.7" cy="1185.9" r="5.55"/><circle cx="603.2" cy="1182.3" r="5.55"/><circle cx="606.6" cy="1140.5" r="5.55"/><circle cx="599.0" cy="1219.5" r="5.55"/><circle cx="604.7" cy="1195.0" r="5.55"/><circle cx="599.0" cy="1285.8" r="5.55"/><circle cx="598.1" cy="1255.1" r="5.55"/><circle cx="596.7" cy="1200.7" r="5.55"/><circle cx="597.3" cy="1261.5" r="5.55"/><circle cx="603.8" cy="1146.4" r="5.55"/><circle cx="599.2" cy="1171.7" r="5.55"/><circle cx="596.8" cy="1197.8" r="5.55"/><circle cx="602.3" cy="1217.2" r="5.55"/><circle cx="597.4" cy="1248.4" r="5.55"/><circle cx="596.7" cy="1223.7" r="5.55"/><circle cx="606.0" cy="1201.7" r="5.55"/><circle cx="608.3" cy="1297.2" r="5.55"/><circle cx="603.4" cy="1329.7" r="5.55"/><circle cx="597.5" cy="1146.9" r="5.55"/><circle cx="604.0" cy="1154.9" r="5.55"/><circle cx="602.5" cy="1240.1" r="5.55"/><circle cx="605.7" cy="1176.7" r="5.55"/><circle cx="597.3" cy="1277.9" r="5.55"/><circle cx="605.8" cy="1239.4" r="5.55"/><circle cx="601.1" cy="1313.2" r="5.55"/><circle cx="602.6" cy="1173.4" r="5.55"/><circle cx="606.8" cy="1150.8" r="5.55"/><circle cx="607.3" cy="1195.7" r="5.55"/><circle cx="607.2" cy="1227.9" r="5.55"/><circle cx="598.6" cy="1240.3" r="5.55"/><circle cx="598.3" cy="1245.3" r="5.55"/><circle cx="604.2" cy="1186.7" r="5.55"/><circle cx="600.6" cy="1233.5" r="5.55"/><circle cx="596.9" cy="1180.6" r="5.55"/><circle cx="596.7" cy="1214.0" r="5.55"/><circle cx="604.0" cy="1245.5" r="5.55"/><circle cx="604.4" cy="1177.8" r="5.55"/><circle cx="606.0" cy="1185.7" r="5.55"/><circle cx="602.9" cy="1158.3" r="5.55"/><circle cx="599.4" cy="1240.1" r="5.55"/><circle cx="604.7" cy="1211.0" r="5.55"/><circle cx="598.2" cy="1187.6" r="5.55"/><circle cx="603.2" cy="1153.8" r="5.55"/><circle cx="604.6" cy="1154.7" r="5.55"/><circle cx="599.4" cy="1217.0" r="5.55"/><circle cx="599.2" cy="1200.7" r="5.55"/><circle cx="611.8" cy="1271.1" r="5.55"/><circle cx="609.5" cy="1188.4" r="5.55"/><circle cx="612.7" cy="1240.1" r="5.55"/><circle cx="614.7" cy="1233.4" r="5.55"/><circle cx="611.3" cy="1242.7" r="5.55"/><circle cx="617.3" cy="1167.3" r="5.55"/><circle cx="615.6" cy="1208.2" r="5.55"/><circle cx="617.7" cy="1275.9" r="5.55"/><circle cx="620.6" cy="1172.4" r="5.55"/><circle cx="619.5" cy="1177.4" r="5.55"/><circle cx="609.2" cy="1122.9" r="5.55"/><circle cx="611.1" cy="1174.0" r="5.55"/><circle cx="613.1" cy="1182.5" r="5.55"/><circle cx="615.0" cy="1217.9" r="5.55"/><circle cx="615.6" cy="1230.9" r="5.55"/><circle cx="609.7" cy="1215.6" r="5.55"/><circle cx="620.4" cy="1205.1" r="5.55"/><circle cx="618.8" cy="1234.2" r="5.55"/><circle cx="611.2" cy="1214.9" r="5.55"/><circle cx="616.1" cy="1157.7" r="5.55"/><circle cx="615.8" cy="1186.5" r="5.55"/><circle cx="615.6" cy="1244.4" r="5.55"/><circle cx="613.3" cy="1219.1" r="5.55"/><circle cx="614.2" cy="1215.9" r="5.55"/><circle cx="612.9" cy="1313.7" r="5.55"/><circle cx="615.0" cy="1261.7" r="5.55"/><circle cx="618.7" cy="1249.4" r="5.55"/><circle cx="617.8" cy="1137.5" r="5.55"/><circle cx="619.4" cy="1220.9" r="5.55"/><circle cx="618.1" cy="1315.0" r="5.55"/><circle cx="610.8" cy="1202.5" r="5.55"/><circle cx="616.1" cy="1240.7" r="5.55"/><circle cx="618.4" cy="1207.6" r="5.55"/><circle cx="611.9" cy="1210.3" r="5.55"/><circle cx="615.8" cy="1218.9" r="5.55"/><circle cx="609.3" cy="1178.8" r="5.55"/><circle cx="616.7" cy="1176.0" r="5.55"/><circle cx="619.8" cy="1250.7" r="5.55"/><circle cx="617.9" cy="1228.5" r="5.55"/><circle cx="610.7" cy="1191.9" r="5.55"/><circle cx="611.8" cy="1247.5" r="5.55"/><circle cx="609.4" cy="1291.0" r="5.55"/><circle cx="616.8" cy="1187.5" r="5.55"/><circle cx="611.6" cy="1273.6" r="5.55"/><circle cx="615.2" cy="1232.4" r="5.55"/><circle cx="617.7" cy="1251.6" r="5.55"/><circle cx="613.9" cy="1253.5" r="5.55"/><circle cx="620.6" cy="1154.5" r="5.55"/><circle cx="616.6" cy="1221.6" r="5.55"/><circle cx="611.8" cy="1249.3" r="5.55"/><circle cx="616.4" cy="1254.1" r="5.55"/><circle cx="618.1" cy="1219.6" r="5.55"/><circle cx="616.4" cy="1147.1" r="5.55"/><circle cx="611.3" cy="1171.7" r="5.55"/><circle cx="618.3" cy="1203.2" r="5.55"/><circle cx="616.4" cy="1260.2" r="5.55"/><circle cx="619.8" cy="1216.7" r="5.55"/><circle cx="627.0" cy="1230.5" r="5.55"/><circle cx="627.8" cy="1286.5" r="5.55"/><circle cx="627.7" cy="1219.1" r="5.55"/><circle cx="627.7" cy="1191.0" r="5.55"/><circle cx="632.4" cy="1188.3" r="5.55"/><circle cx="626.9" cy="1164.0" r="5.55"/><circle cx="631.9" cy="1294.3" r="5.55"/><circle cx="630.6" cy="1200.0" r="5.55"/><circle cx="622.3" cy="1254.1" r="5.55"/><circle cx="629.9" cy="1238.2" r="5.55"/><circle cx="631.5" cy="1194.6" r="5.55"/><circle cx="632.6" cy="1182.0" r="5.55"/><circle cx="623.8" cy="1204.9" r="5.55"/><circle cx="624.7" cy="1200.8" r="5.55"/><circle cx="631.5" cy="1306.3" r="5.55"/><circle cx="629.5" cy="1195.1" r="5.55"/><circle cx="623.8" cy="1197.9" r="5.55"/><circle cx="626.9" cy="1237.6" r="5.55"/><circle cx="629.8" cy="1153.3" r="5.55"/><circle cx="627.3" cy="1280.7" r="5.55"/><circle cx="626.4" cy="1170.0" r="5.55"/><circle cx="629.6" cy="1272.6" r="5.55"/><circle cx="625.2" cy="1131.3" r="5.55"/><circle cx="625.8" cy="1310.3" r="5.55"/><circle cx="621.7" cy="1174.2" r="5.55"/><circle cx="620.9" cy="1262.9" r="5.55"/><circle cx="622.0" cy="1164.1" r="5.55"/><circle cx="628.1" cy="1142.7" r="5.55"/><circle cx="628.2" cy="1287.6" r="5.55"/><circle cx="625.9" cy="1195.8" r="5.55"/><circle cx="624.5" cy="1211.1" r="5.55"/><circle cx="632.6" cy="1225.8" r="5.55"/><circle cx="625.1" cy="1275.5" r="5.55"/><circle cx="634.8" cy="1231.4" r="5.55"/><circle cx="641.3" cy="1238.5" r="5.55"/><circle cx="642.7" cy="1147.0" r="5.55"/><circle cx="638.7" cy="1178.1" r="5.55"/><circle cx="638.0" cy="1204.0" r="5.55"/><circle cx="635.0" cy="1149.4" r="5.55"/><circle cx="635.2" cy="1192.1" r="5.55"/><circle cx="633.2" cy="1162.3" r="5.55"/><circle cx="644.7" cy="1152.3" r="5.55"/><circle cx="635.4" cy="1197.5" r="5.55"/><circle cx="636.8" cy="1176.2" r="5.55"/><circle cx="633.2" cy="1177.1" r="5.55"/><circle cx="636.1" cy="1210.3" r="5.55"/><circle cx="635.9" cy="1294.7" r="5.55"/><circle cx="637.6" cy="1245.9" r="5.55"/><circle cx="644.9" cy="1250.1" r="5.55"/><circle cx="640.1" cy="1178.3" r="5.55"/><circle cx="644.9" cy="1276.9" r="5.55"/><circle cx="637.1" cy="1236.8" r="5.55"/><circle cx="636.2" cy="1163.1" r="5.55"/><circle cx="642.1" cy="1190.1" r="5.55"/><circle cx="642.7" cy="1206.2" r="5.55"/><circle cx="637.0" cy="1228.5" r="5.55"/><circle cx="640.6" cy="1180.6" r="5.55"/><circle cx="644.4" cy="1211.2" r="5.55"/><circle cx="641.1" cy="1231.5" r="5.55"/><circle cx="634.1" cy="1169.8" r="5.55"/><circle cx="638.2" cy="1177.1" r="5.55"/><circle cx="642.1" cy="1148.8" r="5.55"/><circle cx="640.6" cy="1180.5" r="5.55"/><circle cx="652.0" cy="1222.3" r="5.55"/><circle cx="649.1" cy="1253.8" r="5.55"/><circle cx="645.3" cy="1231.5" r="5.55"/><circle cx="655.4" cy="1229.4" r="5.55"/><circle cx="651.5" cy="1191.1" r="5.55"/><circle cx="655.0" cy="1245.2" r="5.55"/><circle cx="653.6" cy="1178.3" r="5.55"/><circle cx="652.8" cy="1205.2" r="5.55"/><circle cx="654.8" cy="1217.6" r="5.55"/><circle cx="654.0" cy="1285.1" r="5.55"/><circle cx="645.7" cy="1168.5" r="5.55"/><circle cx="654.1" cy="1203.6" r="5.55"/><circle cx="653.5" cy="1214.8" r="5.55"/><circle cx="646.7" cy="1178.6" r="5.55"/><circle cx="648.0" cy="1195.5" r="5.55"/><circle cx="656.4" cy="1166.8" r="5.55"/><circle cx="651.0" cy="1156.1" r="5.55"/><circle cx="655.1" cy="1209.3" r="5.55"/><circle cx="652.6" cy="1199.4" r="5.55"/><circle cx="664.2" cy="1193.4" r="5.55"/><circle cx="669.3" cy="1188.9" r="5.55"/><circle cx="668.9" cy="1176.3" r="5.55"/><circle cx="668.7" cy="1199.5" r="5.55"/><circle cx="659.6" cy="1313.2" r="5.55"/><circle cx="657.5" cy="1200.2" r="5.55"/><circle cx="659.9" cy="1153.6" r="5.55"/><circle cx="663.6" cy="1227.5" r="5.55"/><circle cx="666.8" cy="1213.0" r="5.55"/><circle cx="658.7" cy="1153.6" r="5.55"/><circle cx="667.2" cy="1262.3" r="5.55"/><circle cx="666.7" cy="1288.9" r="5.55"/><circle cx="664.6" cy="1186.5" r="5.55"/><circle cx="672.7" cy="1231.2" r="5.55"/><circle cx="670.3" cy="1120.6" r="5.55"/><circle cx="679.4" cy="1215.0" r="5.55"/><circle cx="679.1" cy="1196.2" r="5.55"/><circle cx="671.1" cy="1221.5" r="5.55"/><circle cx="792.2" cy="850.2" r="5.55"/><circle cx="782.6" cy="872.9" r="5.55"/><circle cx="825.7" cy="872.9" r="5.55"/><circle cx="710.5" cy="879.8" r="5.55"/><circle cx="746.8" cy="878.6" r="5.55"/><circle cx="735.4" cy="885.4" r="5.55"/><circle cx="767.7" cy="889.0" r="5.55"/><circle cx="717.8" cy="892.5" r="5.55"/><circle cx="696.8" cy="899.9" r="5.55"/><circle cx="784.6" cy="913.5" r="5.55"/><circle cx="773.2" cy="913.5" r="5.55"/><circle cx="777.7" cy="918.0" r="5.55"/><circle cx="825.1" cy="914.0" r="5.55"/><circle cx="824.1" cy="914.4" r="5.55"/><circle cx="757.1" cy="926.8" r="5.55"/><circle cx="717.0" cy="932.7" r="5.55"/><circle cx="821.2" cy="928.7" r="5.55"/><circle cx="816.9" cy="936.0" r="5.55"/><circle cx="723.8" cy="945.2" r="5.55"/><circle cx="826.1" cy="947.1" r="5.55"/><circle cx="744.2" cy="949.7" r="5.55"/><circle cx="752.6" cy="952.8" r="5.55"/><circle cx="805.5" cy="966.5" r="5.55"/><circle cx="752.2" cy="984.4" r="5.55"/><circle cx="792.4" cy="983.6" r="5.55"/><circle cx="559.7" cy="950.7" r="5.55"/><circle cx="535.7" cy="967.2" r="5.55"/><circle cx="535.0" cy="980.9" r="5.55"/><circle cx="581.3" cy="972.7" r="5.55"/><circle cx="599.8" cy="1004.6" r="5.55"/><circle cx="673.2" cy="1000.1" r="5.55"/><circle cx="564.8" cy="1024.4" r="5.55"/><circle cx="449.3" cy="1050.8" r="5.55"/><circle cx="644.4" cy="1057.7" r="5.55"/><circle cx="646.4" cy="1070.4" r="5.55"/><circle cx="471.9" cy="1078.6" r="5.55"/><circle cx="457.5" cy="1083.4" r="5.55"/><circle cx="548.0" cy="1087.5" r="5.55"/><circle cx="602.5" cy="1096.4" r="5.55"/><circle cx="621.1" cy="1096.1" r="5.55"/><circle cx="636.1" cy="1093.7" r="5.55"/><circle cx="530.5" cy="1110.5" r="5.55"/><circle cx="510.0" cy="1114.6" r="5.55"/><circle cx="516.2" cy="1120.8" r="5.55"/><circle cx="419.8" cy="1116.0" r="5.55"/><circle cx="379.0" cy="1149.6" r="5.55"/><circle cx="493.9" cy="1135.5" r="5.55"/><circle cx="611.1" cy="1108.4" r="5.55"/><circle cx="619.0" cy="1106.7" r="5.55"/><circle cx="630.7" cy="1114.6" r="5.55"/><circle cx="640.3" cy="1119.4" r="5.55"/><circle cx="642.0" cy="1127.3" r="5.55"/><circle cx="869.7" cy="887.2" r="5.55"/><circle cx="856.4" cy="898.2" r="5.55"/><circle cx="902.4" cy="895.9" r="5.55"/><circle cx="959.2" cy="895.9" r="5.55"/><circle cx="845.3" cy="914.9" r="5.55"/><circle cx="772.2" cy="1002.4" r="5.55"/><circle cx="697.7" cy="1002.4" r="5.55"/><circle cx="1006.7" cy="999.4" r="5.55"/><circle cx="716.1" cy="1023.1" r="5.55"/><circle cx="786.9" cy="1026.1" r="5.55"/><circle cx="906.1" cy="1020.8" r="5.55"/><circle cx="737.4" cy="1045.8" r="5.55"/><circle cx="781.2" cy="1045.8" r="5.55"/><circle cx="719.4" cy="1061.2" r="5.55"/><circle cx="939.5" cy="1057.5" r="5.55"/><circle cx="869.7" cy="1067.9" r="5.55"/><circle cx="704.0" cy="1082.6" r="5.55"/><circle cx="743.5" cy="1084.2" r="5.55"/><circle cx="683.3" cy="1087.9" r="5.55"/><circle cx="700.7" cy="1093.3" r="5.55"/><circle cx="747.5" cy="1098.3" r="5.55"/><circle cx="957.2" cy="1098.3" r="5.55"/><circle cx="686.7" cy="1098.3" r="5.55"/><circle cx="818.6" cy="1108.7" r="5.55"/><circle cx="855.7" cy="1118.7" r="5.55"/><circle cx="933.5" cy="1115.1" r="5.55"/><circle cx="744.1" cy="1124.1" r="5.55"/><circle cx="690.0" cy="1130.4" r="5.55"/><circle cx="878.7" cy="1133.4" r="5.55"/><circle cx="845.7" cy="1140.4" r="5.55"/><circle cx="717.4" cy="1143.8" r="5.55"/><circle cx="744.1" cy="1143.8" r="5.55"/><circle cx="763.8" cy="1146.8" r="5.55"/><circle cx="694.0" cy="1152.5" r="5.55"/><circle cx="683.3" cy="1151.8" r="5.55"/><circle cx="751.1" cy="1160.8" r="5.55"/><circle cx="756.8" cy="1160.5" r="5.55"/><circle cx="714.4" cy="1168.8" r="5.55"/><circle cx="712.7" cy="1176.2" r="5.55"/><circle cx="704.4" cy="1179.8" r="5.55"/><circle cx="690.0" cy="1181.5" r="5.55"/><circle cx="694.0" cy="1200.9" r="5.55"/><circle cx="729.4" cy="1206.6" r="5.55"/><circle cx="716.7" cy="1211.2" r="5.55"/><circle cx="682.7" cy="1222.3" r="5.55"/><circle cx="698.4" cy="1250.7" r="5.55"/><circle cx="718.7" cy="1252.0" r="5.55"/><circle cx="741.8" cy="1253.3" r="5.55"/><circle cx="778.5" cy="1256.0" r="5.55"/><circle cx="781.9" cy="1257.3" r="5.55"/><circle cx="725.4" cy="1261.0" r="5.55"/><circle cx="788.6" cy="1267.0" r="5.55"/><circle cx="760.2" cy="1272.0" r="5.55"/><circle cx="684.0" cy="1269.4" r="5.55"/><circle cx="780.9" cy="1278.0" r="5.55"/><circle cx="691.0" cy="1282.4" r="5.55"/><circle cx="706.7" cy="1281.4" r="5.55"/><circle cx="713.1" cy="1285.7" r="5.55"/><circle cx="883.4" cy="1262.7" r="5.55"/><circle cx="922.8" cy="1281.7" r="5.55"/><circle cx="706.7" cy="1300.1" r="5.55"/><circle cx="773.2" cy="1300.4" r="5.55"/><circle cx="692.4" cy="1318.8" r="5.55"/><circle cx="680.0" cy="1116.7" r="5.55"/><circle cx="680.0" cy="1140.1" r="5.55"/><circle cx="680.0" cy="1167.5" r="5.55"/><circle cx="228.5" cy="1252.6" r="5.55"/><circle cx="230.3" cy="1277.5" r="5.55"/><circle cx="201.4" cy="1292.4" r="5.55"/><circle cx="264.3" cy="1266.3" r="5.55"/><circle cx="272.2" cy="1269.6" r="5.55"/><circle cx="264.3" cy="1275.4" r="5.55"/><circle cx="281.3" cy="1287.2" r="5.55"/><circle cx="273.1" cy="1307.9" r="5.55"/><circle cx="295.3" cy="1314.9" r="5.55"/><circle cx="310.7" cy="1313.0" r="5.55"/><circle cx="250.3" cy="1343.4" r="5.55"/><circle cx="292.5" cy="1345.2" r="5.55"/><circle cx="341.4" cy="1196.1" r="5.55"/><circle cx="361.1" cy="1196.1" r="5.55"/><circle cx="352.9" cy="1206.2" r="5.55"/><circle cx="324.7" cy="1255.6" r="5.55"/><circle cx="325.3" cy="1266.9" r="5.55"/><circle cx="318.6" cy="1276.6" r="5.55"/><circle cx="322.6" cy="1285.7" r="5.55"/><circle cx="336.5" cy="1280.8" r="5.55"/><circle cx="347.5" cy="1278.4" r="5.55"/><circle cx="329.9" cy="1297.2" r="5.55"/><circle cx="325.3" cy="1298.2" r="5.55"/><circle cx="345.0" cy="1293.6" r="5.55"/><circle cx="353.5" cy="1292.4" r="5.55"/><circle cx="334.7" cy="1317.0" r="5.55"/><circle cx="343.8" cy="1320.9" r="5.55"/><circle cx="326.2" cy="1332.2" r="5.55"/><circle cx="335.3" cy="1346.7" r="5.55"/><circle cx="354.2" cy="1339.7" r="5.55"/><circle cx="357.2" cy="1345.2" r="5.55"/><circle cx="361.7" cy="1344.3" r="5.55"/><circle cx="375.4" cy="1360.4" r="5.55"/><circle cx="361.7" cy="1325.5" r="5.55"/><circle cx="357.2" cy="1308.8" r="5.55"/><circle cx="348.1" cy="1269.3" r="5.55"/><circle cx="357.2" cy="1258.7" r="5.55"/><circle cx="364.8" cy="1225.3" r="5.55"/><circle cx="367.8" cy="1230.4" r="5.55"/><circle cx="363.3" cy="1250.2" r="5.55"/><circle cx="387.6" cy="1177.3" r="5.55"/><circle cx="602.8" cy="1342.7" r="5.55"/><circle cx="620.4" cy="1336.7" r="5.55"/><circle cx="578.5" cy="1352.0" r="5.55"/><circle cx="556.1" cy="1368.0" r="5.55"/><circle cx="549.8" cy="1371.6" r="5.55"/><circle cx="493.9" cy="1384.3" r="5.55"/><circle cx="404.3" cy="1380.0" r="5.55"/><circle cx="498.9" cy="1380.0" r="5.55"/><circle cx="666.4" cy="1330.0" r="5.55"/>
</g>
<path d="M454.3 1328.9L484.9 1359.5M454.3 1359.5L484.9 1328.9" stroke="#000" stroke-width="1.5" fill="none"/>
</g>
<g stroke="#000" stroke-width="1.5" fill="none">
<path d="M92.65 0.25H1020.65V1484.30H92.65Z"/>
<path d="M92.65 742.25H1020.65"/>
<path d="M92.65 742.27H77.45M92.65 649.28H77.45M92.65 556.30H77.45M92.65 463.31H77.45M92.65 370.33H77.45M92.65 277.35H77.45M92.65 184.36H77.45M92.65 91.38H77.45"/>
<path d="M266.65 1484.30V1489.50M459.98 1484.30V1489.50M653.32 1484.30V1489.50M846.65 1484.30V1489.50"/>
<path d="M92.65 1404.47H87.05M92.65 1203.86H87.05M92.65 1003.25H87.05M92.65 802.64H87.05"/>
<path d="M92.65 1464.86H89.05M92.65 1448.98H89.05M92.65 1435.54H89.05M92.65 1423.91H89.05M92.65 1413.65H89.05M92.65 1344.08H89.05M92.65 1308.75H89.05M92.65 1283.69H89.05M92.65 1264.25H89.05M92.65 1248.37H89.05M92.65 1234.93H89.05M92.65 1223.30H89.05M92.65 1213.04H89.05M92.65 1143.47H89.05M92.65 1108.14H89.05M92.65 1083.08H89.05M92.65 1063.64H89.05M92.65 1047.76H89.05M92.65 1034.32H89.05M92.65 1022.69H89.05M92.65 1012.43H89.05M92.65 942.86H89.05M92.65 907.53H89.05M92.65 882.47H89.05M92.65 863.03H89.05M92.65 847.15H89.05M92.65 833.71H89.05M92.65 822.08H89.05M92.65 811.82H89.05" stroke-width="1.0"/>
</g>
<g class="tk" text-anchor="end">
<text x="72.2" y="750.7">0</text>
<text x="72.2" y="657.7">50</text>
<text x="72.2" y="564.7">100</text>
<text x="72.2" y="471.7">150</text>
<text x="72.2" y="378.7">200</text>
<text x="72.2" y="285.7">250</text>
<text x="72.2" y="192.8">300</text>
<text x="72.2" y="99.8">350</text>
</g>
<g class="tk" text-anchor="middle">
<text x="266.3" y="1511.6">0.1</text>
<text x="459.7" y="1511.6">0.2</text>
<text x="653.0" y="1511.6">0.3</text>
<text x="846.3" y="1511.6">0.4</text>
</g>
<text class="tk" x="71.85" y="814.54" text-anchor="end">10</text><text x="71.40" y="798.74" font-size="16.2px">0</text>
<text class="tk" x="61.65" y="1015.15" text-anchor="end">10</text><text x="61.20" y="999.35" font-size="16.2px">−1</text>
<text class="tk" x="61.65" y="1215.76" text-anchor="end">10</text><text x="61.20" y="1199.96" font-size="16.2px">−2</text>
<text class="tk" x="61.65" y="1416.37" text-anchor="end">10</text><text x="61.20" y="1400.57" font-size="16.2px">−3</text>
<text class="ax" transform="translate(22.6 371.7) rotate(-90)" text-anchor="middle">Counts</text>
<text class="ax it" transform="translate(24.0 1142.2) rotate(-90)">R</text>
<text transform="translate(29.4 1120.4) rotate(-90)" font-size="24.4px">var</text>
<text class="ax" x="505" y="1544.7"><tspan class="it">S</tspan>-index</text>
<text class="pn" x="143.6" y="43.6">(a)</text>
<text class="pn" x="144.2" y="785.4">(b)</text>
<rect x="784.3" y="28.9" width="37.1" height="12.5" fill="rgb(0,0,255)" fill-opacity="0.6"/>
<rect x="784.3" y="95.1" width="37.1" height="12.4" fill="rgb(255,215,0)" fill-opacity="0.8"/>
<clipPath id="ch"><rect x="784" y="170.4" width="37.7" height="13.6"/></clipPath>
<path d="M773.5 190L798.5 165M782.7 190L807.7 165M791.8 190L816.8 165M801.0 190L826.0 165M810.2 190L835.2 165" clip-path="url(#ch)" stroke="#000" stroke-opacity="0.7" stroke-width="1.45" fill="none"/>
<line x1="784.4" x2="821.4" y1="263.1" y2="263.1" stroke="#808080" stroke-width="1.9" stroke-dasharray="6.9 2.9"/>
<g class="lg">
<text x="836.2" y="30.7">Before year 2016</text>
<text x="836.2" y="50.6">(N=3504)</text>
<text x="836.2" y="96.4">After year 2016</text>
<text x="836.2" y="116.3">(N=3950)</text>
<text x="836.2" y="162.3">Solar <tspan class="it">S</tspan>-index range</text>
<text x="836.2" y="182.3">from 0.179 to 0.194</text>
<text x="836.2" y="202.6">(Zhang et al. 2020a)</text>
<text x="836.2" y="248.0">Solar <tspan class="it">S</tspan>-index range</text>
<text x="836.2" y="268.3">from 0.169 to 0.205</text>
<text x="836.2" y="288.3">(Henry et al. 1996)</text>
<path d="M121.8 824.5L152.8 855.3M121.8 855.3L152.8 824.5" stroke="#000" stroke-width="1.5" fill="none"/>
<circle cx="136.7" cy="897.2" r="5.5" fill="rgb(0,0,255)" fill-opacity="0.3"/>
<circle cx="136.7" cy="962.8" r="5.5" fill="rgb(255,208,0)" fill-opacity="0.5"/>
<text x="171.2" y="846.3">The solar max.</text>
<text x="171.2" y="891.1">Before year 2016</text>
<text x="171.2" y="911.0">(N=3504)</text>
<text x="171.2" y="956.9">After year 2016</text>
<text x="171.2" y="976.8">(N=3950)</text>
</g>
</svg></body></html>
